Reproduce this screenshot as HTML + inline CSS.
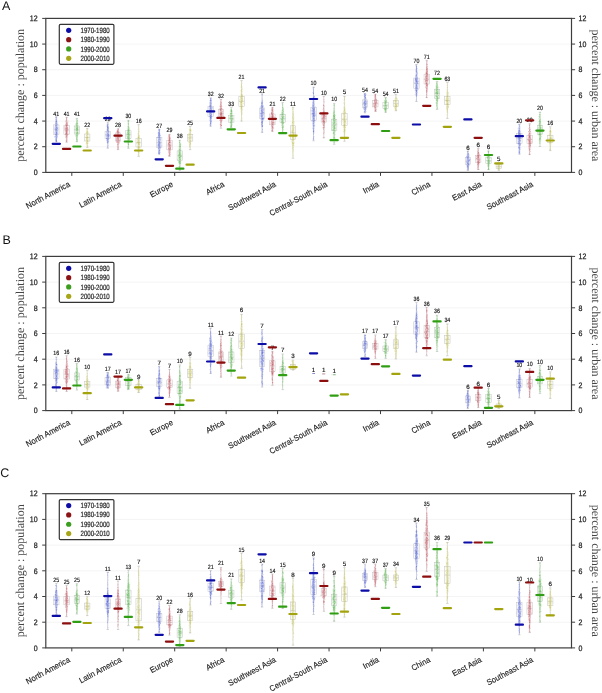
<!DOCTYPE html>
<html><head><meta charset="utf-8"><style>html,body{margin:0;padding:0;background:#fff;}svg{display:block;filter:blur(0.3px);}</style></head>
<body><svg width="602" height="693" viewBox="0 0 602 693" text-rendering="geometricPrecision">
<rect width="100%" height="100%" fill="#fff"/><g opacity="0.995">
<text x="2" y="9.7" font-family="Liberation Sans" font-size="12.5" fill="#111">A</text>
<text x="2.6" y="244" font-family="Liberation Sans" font-size="12.5" fill="#111">B</text>
<text x="0.2" y="476.8" font-family="Liberation Sans" font-size="12.5" fill="#111">C</text>
<line x1="45.8" x2="571.5" y1="146.73" y2="146.73" stroke="#f1f1f1" stroke-width="0.8"/>
<line x1="45.8" x2="571.5" y1="121.07" y2="121.07" stroke="#f1f1f1" stroke-width="0.8"/>
<line x1="45.8" x2="571.5" y1="95.40" y2="95.40" stroke="#f1f1f1" stroke-width="0.8"/>
<line x1="45.8" x2="571.5" y1="69.73" y2="69.73" stroke="#f1f1f1" stroke-width="0.8"/>
<line x1="45.8" x2="571.5" y1="44.07" y2="44.07" stroke="#f1f1f1" stroke-width="0.8"/>
<line x1="56.30" x2="56.30" y1="116.80" y2="141.70" stroke="#c8c8c8" stroke-width="0.5"/>
<line x1="55.10" x2="57.50" y1="116.80" y2="116.80" stroke="#bbb" stroke-width="0.6"/>
<line x1="55.10" x2="57.50" y1="141.70" y2="141.70" stroke="#bbb" stroke-width="0.6"/>
<rect x="53.60" y="124.90" width="5.4" height="9.70" fill="none" stroke="#c2c2c2" stroke-width="0.5"/>
<line x1="53.60" x2="59.00" y1="129.75" y2="129.75" stroke="#c2c2c2" stroke-width="0.5"/>
<polygon points="55.8,116.8 55.6,118.9 55.3,120.9 55.1,123.0 54.8,125.1 54.6,127.2 54.6,129.2 54.6,131.3 54.7,133.4 55.0,135.5 55.2,137.5 55.5,139.6 55.7,141.7 56.9,141.7 57.1,139.6 57.4,137.5 57.6,135.5 57.9,133.4 58.0,131.3 58.0,129.2 58.0,127.2 57.8,125.1 57.5,123.0 57.3,120.9 57.0,118.9 56.8,116.8" fill="#4a5ad8" fill-opacity="0.220"/>
<path d="M57.1 135.8h0m-.9 -12.7h0m.1 4.7h0m.1 4.8h0m-.5 -1.1h0m-.4 -13.9h0m1 24h0m.3 -16.5h0m-.2 -3.8h0m-.9 4h0m.7 6.8h0m-.9 -5.6h0m.4 -3.5h0m-.8 9.8h0m.9 -10.9h0m-.2 13.1h0m0 -5.1h0m.7 10.2h0m.3 -9h0m-1.3 -5.7h0m1.7 -.9h0m-.6 15.6h0m-1.2 -10.9h0m.5 7.6h0m1.7 -6h0m-1.3 3.4h0m.5 -15.4h0m-.9 19.5h0m.7 -14.4h0m-.1 16.7h0m-.1 -7.2h0m-.1 4.6h0m-.7 -7.6h0m1.4 3.6h0m-1.3 -12.2h0m.1 18h0m0 -3.1h0m.3 -2.4h0m.3 -6.5h0m-.1 6.1h0m.6 -4.1h0m.1 4h0m-.7 -11.1h0m.9 13.7h0m.2 -8h0m-.9 4.2h0m1.4 -4.1h0m-1 3.8h0m-2.3 4.6h0m1.3 -2.8h0m.8 -7.3h0m-.3 3.3h0m.6 -6.7h0m-2.4 13.5h0m1.8 -1.7h0m0 3.1h0m-.2 -8.2h0m1.4 -2.2h0m-.9 13.5h0m-.3 -13.6h0m-1.2 6.7h0m-.2 -5.8h0m1 2h0m-.2 9.6h0m1.1 -11.6h0m-.2 12.5h0m-.6 -.5h0m.5 -8.1h0m.4 4.3h0m.5 -3.7h0m-1.3 -7.1h0m0 13.9h0m-.2 -3.2h0m.4 .6h0m0 -2.3h0m-.3 4.2h0m.4 -13.7h0m.4 -3.6h0m-.7 3.6h0m.1 3.9h0m0 -8.4h0m-1.1 7.2h0m1 -7.6h0m-.2 -1.3h0m.4 8.3h0m0 -6.4h0m-.1 -.2h0m.2 .2h0m-.5 18.8h0m.3 .2h0m.8 -2.6h0m-.3 -2.3h0m-.2 -5.5h0m-2 3.1h0m.5 -5.5h0m1.6 -10.4h0m1.2 10.5h0m-2.5 1.3h0m1.1 4.5h0m.1 -16.1h0m-.2 11.2h0m-.7 -4.9h0m.5 -4.2h0" stroke="#4a5ad8" stroke-opacity="0.320" stroke-width="0.75" stroke-linecap="round"/>
<text x="56.30" y="115.60" text-anchor="middle" font-family="Liberation Sans" font-size="6.2" textLength="5.90" lengthAdjust="spacingAndGlyphs" fill="#111" stroke="#111" stroke-width="0.15">41</text>
<line x1="52.70" x2="59.90" y1="143.80" y2="143.80" stroke="#0b0ba6" stroke-width="2.2" stroke-linecap="round"/>
<line x1="66.60" x2="66.60" y1="117.30" y2="142.20" stroke="#c8c8c8" stroke-width="0.5"/>
<line x1="65.40" x2="67.80" y1="117.30" y2="117.30" stroke="#bbb" stroke-width="0.6"/>
<line x1="65.40" x2="67.80" y1="142.20" y2="142.20" stroke="#bbb" stroke-width="0.6"/>
<rect x="63.90" y="125.50" width="5.4" height="9.00" fill="none" stroke="#c2c2c2" stroke-width="0.5"/>
<line x1="63.90" x2="69.30" y1="130.00" y2="130.00" stroke="#c2c2c2" stroke-width="0.5"/>
<polygon points="66.1,117.3 65.9,119.4 65.7,121.4 65.4,123.5 65.1,125.6 64.9,127.7 64.9,129.8 64.9,131.8 65.1,133.9 65.3,136.0 65.6,138.0 65.9,140.1 66.1,142.2 67.1,142.2 67.3,140.1 67.6,138.0 67.9,136.0 68.1,133.9 68.3,131.8 68.3,129.8 68.3,127.7 68.1,125.6 67.8,123.5 67.5,121.4 67.3,119.4 67.1,117.3" fill="#c0404e" fill-opacity="0.202"/>
<path d="M66.8 141.2h0m.4 -6.4h0m-.6 2.9h0m.5 -6.2h0m-.3 .4h0m-.1 -4.2h0m0 5.4h0m-.3 -14.1h0m-.4 9.6h0m1.3 -4.6h0m-.8 1.1h0m.3 6h0m.4 -3.3h0m-1 -3.3h0m1 5.5h0m-.7 .6h0m-1.2 -9h0m1.7 10.9h0m-.1 -8.9h0m-1 .7h0m.2 10.6h0m.9 -10h0m-.4 6.3h0m1.2 -6.3h0m-.5 9.1h0m0 -3.7h0m0 3.7h0m-.6 -8.3h0m-.1 10.8h0m0 -11h0m0 9.7h0m.1 -6.8h0m.5 0h0m-.7 -9.3h0m-1.5 8h0m3 -6h0m-2.6 7.4h0m.1 8.7h0m-.4 -8.4h0m1.4 -6.6h0m.5 15.1h0m-1.3 -3h0m1.1 -4.1h0m.1 -2.2h0m-1.1 3.2h0m.7 -7.9h0m.1 12.6h0m-.2 -15.4h0m-.4 9.1h0m2 -.7h0m-3.7 -.1h0m2.8 -4.4h0m-1.7 6.6h0m1.4 2.3h0m-.9 -3.5h0m.7 2.6h0m-1 -7.2h0m2 2.8h0m-.9 -1.3h0m1.2 -4.4h0m-2.8 5.6h0m1.9 .6h0m1.4 5.5h0m-2 -7.2h0m.1 6.6h0m1.1 -3.4h0m-.4 -6.8h0m.3 2.2h0m-1.1 4.8h0m-.4 3.3h0m.6 8.2h0m.5 -6.6h0m-2.8 -8.3h0m2.6 -1.6h0m.2 15h0m-.7 -5.6h0m.2 -8.9h0m-.4 7.3h0m-.3 7.7h0m.6 -13.9h0m-.8 6.5h0m.2 1.3h0m.5 -3.5h0m1.2 -3.8h0m-.6 4.7h0m-.8 4.5h0m.6 -18.9h0m-.4 15.8h0m.1 -1h0m1 3.6h0m-.5 -13h0m-.1 5.7h0m-.4 4.7h0m-.6 -12.5h0m1.3 8.4h0m-.2 9.7h0m-.3 1.3h0m-.1 -11.2h0m1.4 .8h0" stroke="#c0404e" stroke-opacity="0.294" stroke-width="0.75" stroke-linecap="round"/>
<text x="66.60" y="116.30" text-anchor="middle" font-family="Liberation Sans" font-size="6.2" textLength="5.90" lengthAdjust="spacingAndGlyphs" fill="#111" stroke="#111" stroke-width="0.15">41</text>
<line x1="63.00" x2="70.20" y1="148.90" y2="148.90" stroke="#8c0d0d" stroke-width="2.2" stroke-linecap="round"/>
<line x1="76.90" x2="76.90" y1="118.40" y2="141.70" stroke="#c8c8c8" stroke-width="0.5"/>
<line x1="75.70" x2="78.10" y1="118.40" y2="118.40" stroke="#bbb" stroke-width="0.6"/>
<line x1="75.70" x2="78.10" y1="141.70" y2="141.70" stroke="#bbb" stroke-width="0.6"/>
<rect x="74.20" y="126.00" width="5.4" height="8.00" fill="none" stroke="#c2c2c2" stroke-width="0.5"/>
<line x1="74.20" x2="79.60" y1="130.00" y2="130.00" stroke="#c2c2c2" stroke-width="0.5"/>
<polygon points="76.4,118.4 76.3,120.3 76.0,122.3 75.7,124.2 75.4,126.2 75.2,128.1 75.2,130.1 75.2,132.0 75.4,133.9 75.7,135.9 76.0,137.8 76.3,139.8 76.4,141.7 77.4,141.7 77.5,139.8 77.8,137.8 78.1,135.9 78.4,133.9 78.6,132.0 78.6,130.1 78.6,128.1 78.4,126.2 78.1,124.2 77.8,122.3 77.5,120.3 77.4,118.4" fill="#48b03a" fill-opacity="0.202"/>
<path d="M76.6 141.1h0m.6 -8.4h0m-1.7 -8.5h0m1.5 9.3h0m.9 -10h0m0 9h0m-.6 -6.6h0m-.5 7.4h0m-.9 -6h0m1.2 1.5h0m-.4 9.1h0m1 -4.5h0m-.7 -3.9h0m.4 5.3h0m-.4 2.1h0m.2 -10.9h0m-.5 7.8h0m.9 -7.1h0m.6 6.7h0m-.7 -3.2h0m-.4 -6.4h0m.3 16.1h0m-.4 -12h0m.2 8.2h0m.2 -7.2h0m-.3 6.6h0m-.4 3.5h0m-2.4 -12.9h0m2.3 12.9h0m-.4 -12h0m1.1 1.2h0m.4 .8h0m-.5 -7.7h0m.4 7.8h0m-.2 -9h0m0 11.9h0m-.3 -3.9h0m.3 1h0m-.3 -8.5h0m-.1 3.8h0m-.3 14.9h0m.7 -6.5h0m-1.2 -3.9h0m.7 11h0m.2 -6.7h0m-2.3 -3.7h0m2.4 -2.1h0m0 -3.7h0m0 -1h0m-1.2 13.7h0m1.5 -8.8h0m-.9 2.9h0m-.3 -.4h0m.7 7.2h0m-.3 -12.7h0m.6 11.1h0m-.2 -9.8h0m-.8 -2.4h0m.5 14.6h0m-.2 -12.9h0m1 -2h0m-.1 6.9h0m-1.2 5.7h0m.7 5.5h0m.1 -.6h0m.5 -10.9h0m-1.4 -10.5h0m1 13.5h0m.4 -.8h0m-1 -3.1h0m-1.6 3.6h0m1.4 -9.3h0m.8 4.6h0m.8 2h0m-1 .5h0m-.6 -2h0m1.8 4.7h0m-1.2 -.5h0m-.3 -10.5h0m1.1 12.7h0m-.2 -5.8h0m-1.3 -3.2h0m2.4 2h0m-2.4 1.7h0m.2 5.7h0m1.1 -7.2h0m.2 -2.3h0m-.6 5.1h0m-1 -2.1h0m.5 6.5h0m.8 -14.2h0m-2.3 14.3h0m2.4 4.7h0" stroke="#48b03a" stroke-opacity="0.294" stroke-width="0.75" stroke-linecap="round"/>
<text x="76.90" y="116.40" text-anchor="middle" font-family="Liberation Sans" font-size="6.2" textLength="5.90" lengthAdjust="spacingAndGlyphs" fill="#111" stroke="#111" stroke-width="0.15">41</text>
<line x1="73.30" x2="80.50" y1="146.50" y2="146.50" stroke="#2f9e12" stroke-width="2.2" stroke-linecap="round"/>
<line x1="87.20" x2="87.20" y1="128.40" y2="147.40" stroke="#c8c8c8" stroke-width="0.5"/>
<line x1="86.00" x2="88.40" y1="128.40" y2="128.40" stroke="#bbb" stroke-width="0.6"/>
<line x1="86.00" x2="88.40" y1="147.40" y2="147.40" stroke="#bbb" stroke-width="0.6"/>
<rect x="84.50" y="134.00" width="5.4" height="7.00" fill="none" stroke="#c2c2c2" stroke-width="0.5"/>
<line x1="84.50" x2="89.90" y1="137.50" y2="137.50" stroke="#c2c2c2" stroke-width="0.5"/>
<polygon points="86.6,128.4 86.4,130.0 86.2,131.6 85.9,133.2 85.6,134.7 85.5,136.3 85.5,137.9 85.6,139.5 85.8,141.1 86.0,142.7 86.3,144.2 86.5,145.8 86.7,147.4 87.7,147.4 87.9,145.8 88.1,144.2 88.4,142.7 88.6,141.1 88.8,139.5 88.9,137.9 88.9,136.3 88.8,134.7 88.5,133.2 88.2,131.6 88.0,130.0 87.8,128.4" fill="#bcbc38" fill-opacity="0.165"/>
<path d="M89.0 137.6h0m-1 3.8h0m-1.3 -10h0m-.5 1.2h0m1.7 -.7h0m-.2 .5h0m-.1 7.9h0m.2 5.1h0m-.5 -16.3h0m-.6 1.5h0m.2 3.1h0m-.5 8.9h0m.7 -1.7h0m-.5 -3h0m.6 5.3h0m.8 -3.2h0m-.2 1.3h0m-.3 -9.6h0m-.6 4.4h0m.1 7.1h0m-1.3 -5.8h0m2.4 8.9h0m-2.4 -2.4h0m1.4 -.4h0m.5 2.3h0m.3 -16.2h0m-1.2 8h0m.7 -4h0m.3 1.3h0m-1.2 .9h0m.9 1.5h0m.2 4h0m-.3 -9.7h0m-.6 3.4h0m-.1 3.9h0m.3 .4h0m-.8 1.1h0m1.9 2.8h0m-.7 -6.1h0m-.1 -5.2h0m-.2 1.3h0m.1 11.2h0m.1 -7h0m.8 4.3h0m-.6 -5.1h0m.3 8.4h0m-.9 -7.4h0m0 2.8h0m0 -4.8h0m.5 -2.6h0m.4 10.6h0m-.9 -.3h0m-.2 -3.5h0m.2 -7.6h0m-.2 10.1h0m.5 -3.5h0m.4 -4.5h0m-.4 3.3h0m-.1 2.6h0m-.3 -7.5h0m0 6h0m.8 -1.7h0m-.3 6.3h0m-.1 -.7h0m-.8 -5.4h0m1.2 3.3h0m.7 -7.4h0m-1.9 9h0m.7 -9.8h0m.1 6h0m1 -5.8h0m-.9 -3.8h0m.3 17.6h0m.2 -11.7h0m.4 -.3h0m-1.9 -.8h0m1.5 8.2h0m-1.2 -2.5h0m1.8 0h0m-1.3 .8h0m.8 6.8h0m-.4 -8.5h0" stroke="#bcbc38" stroke-opacity="0.240" stroke-width="0.75" stroke-linecap="round"/>
<text x="87.20" y="127.10" text-anchor="middle" font-family="Liberation Sans" font-size="6.2" textLength="5.90" lengthAdjust="spacingAndGlyphs" fill="#111" stroke="#111" stroke-width="0.15">22</text>
<line x1="83.60" x2="90.80" y1="150.50" y2="150.50" stroke="#a3a30c" stroke-width="2.2" stroke-linecap="round"/>
<line x1="107.75" x2="107.75" y1="122.20" y2="148.20" stroke="#c8c8c8" stroke-width="0.5"/>
<line x1="106.55" x2="108.95" y1="122.20" y2="122.20" stroke="#bbb" stroke-width="0.6"/>
<line x1="106.55" x2="108.95" y1="148.20" y2="148.20" stroke="#bbb" stroke-width="0.6"/>
<rect x="105.05" y="131.40" width="5.4" height="7.00" fill="none" stroke="#c2c2c2" stroke-width="0.5"/>
<line x1="105.05" x2="110.45" y1="134.90" y2="134.90" stroke="#c2c2c2" stroke-width="0.5"/>
<polygon points="107.4,122.2 107.3,124.4 107.1,126.5 106.8,128.7 106.4,130.9 106.1,133.0 106.0,135.2 106.2,137.4 106.5,139.5 106.9,141.7 107.2,143.9 107.4,146.0 107.4,148.2 108.1,148.2 108.1,146.0 108.3,143.9 108.6,141.7 109.0,139.5 109.3,137.4 109.5,135.2 109.4,133.0 109.1,130.9 108.7,128.7 108.4,126.5 108.2,124.4 108.1,122.2" fill="#4a5ad8" fill-opacity="0.220"/>
<path d="M106.7 132.3h0m.7 2.4h0m1.1 -6.1h0m-.1 16.8h0m-.4 1.4h0m.1 -11.2h0m-1.3 4.8h0m0 -2.2h0m1.2 -1.4h0m-.5 -9.3h0m.2 12.3h0m-.4 -.7h0m1 -3.8h0m.2 3h0m-.6 -2.4h0m-.6 -5.7h0m.4 -5.6h0m.4 2h0m-.3 21h0m0 -18.7h0m-.5 -1.9h0m.5 2h0m.2 .6h0m.3 13.1h0m-.3 -3.1h0m-1.3 -1.1h0m1.5 -7.8h0m-.4 -6.3h0m-.2 9.7h0m-.4 11.9h0m0 -3.7h0m.7 -.5h0m.4 -9.6h0m-1.4 6.9h0m.1 -12.5h0m1.3 11.7h0m-.1 -9.9h0m.7 3.9h0m-1 -6.1h0m-.6 11.9h0m1.3 -3.6h0m.1 -9.7h0m-1.8 0h0m1.9 16.5h0m0 -3.9h0m-.3 -1.1h0m-.2 -8.8h0m-.6 .1h0m.8 11.7h0m-2.6 -5h0m1.5 -7.1h0m1.7 8.8h0m-1.7 6.3h0m.1 -17h0m0 5.2h0m.5 2.7h0m-.3 -6.3h0m-.4 13.4h0m.9 -9.1h0m-.3 2.3h0m0 -3.7h0m.6 4.9h0m.5 1h0m-1.6 -6.6h0m.3 -1.6h0m-1.7 8.3h0m1.5 5.8h0m-.1 -16.2h0m.9 6h0m.3 4.9h0m-1.1 -.9h0m.4 -5.1h0m1.2 5.6h0m-2.1 .6h0m1.5 4.6h0m-1.7 -2.4h0m1.7 -2.5h0m-.1 -2.4h0m-.8 -7.6h0m.4 15h0m-.7 -12h0m1.3 5.6h0m-.8 8.4h0m.7 -8.2h0m-.4 -6.8h0m.5 -1h0m-.5 -3.5h0m-1.2 2.2h0m1 12.8h0m-.1 .6h0m.2 -2.1h0m-1 -1.5h0m.3 6.8h0m-.1 -2.1h0" stroke="#4a5ad8" stroke-opacity="0.320" stroke-width="0.75" stroke-linecap="round"/>
<text x="107.75" y="120.90" text-anchor="middle" font-family="Liberation Sans" font-size="6.2" textLength="5.90" lengthAdjust="spacingAndGlyphs" fill="#111" stroke="#111" stroke-width="0.15">29</text>
<line x1="104.15" x2="111.35" y1="118.20" y2="118.20" stroke="#0b0ba6" stroke-width="2.2" stroke-linecap="round"/>
<line x1="118.05" x2="118.05" y1="128.70" y2="149.60" stroke="#c8c8c8" stroke-width="0.5"/>
<line x1="116.85" x2="119.25" y1="128.70" y2="128.70" stroke="#bbb" stroke-width="0.6"/>
<line x1="116.85" x2="119.25" y1="149.60" y2="149.60" stroke="#bbb" stroke-width="0.6"/>
<rect x="115.35" y="133.00" width="5.4" height="8.00" fill="none" stroke="#c2c2c2" stroke-width="0.5"/>
<line x1="115.35" x2="120.75" y1="137.00" y2="137.00" stroke="#c2c2c2" stroke-width="0.5"/>
<polygon points="117.2,128.7 117.0,130.4 116.7,132.2 116.5,133.9 116.3,135.7 116.3,137.4 116.4,139.1 116.6,140.9 116.8,142.6 117.1,144.4 117.3,146.1 117.5,147.9 117.6,149.6 118.5,149.6 118.6,147.9 118.8,146.1 119.0,144.4 119.3,142.6 119.5,140.9 119.7,139.1 119.8,137.4 119.8,135.7 119.6,133.9 119.4,132.2 119.1,130.4 118.9,128.7" fill="#c0404e" fill-opacity="0.202"/>
<path d="M118.9 142.7h0m-1.6 -9.9h0m1.5 2.3h0m-.7 -3.2h0m.8 8.3h0m-1.8 -.8h0m1 -2h0m-.1 1.1h0m-1 -7.3h0m.5 13.2h0m-.2 -13.8h0m-.1 5h0m-.9 3.8h0m1.5 -1.2h0m.6 -9.3h0m-1.6 3.8h0m.5 2.7h0m1.1 4.1h0m-1 -2.4h0m1.6 -1.1h0m-.8 6.4h0m-.4 -10.5h0m.3 12.6h0m-.2 2.7h0m.3 -5.4h0m1.3 .1h0m-2.4 -10.6h0m.2 10.2h0m-.1 -10.1h0m.5 .5h0m-.2 -1.1h0m.7 16.2h0m-1 -4.6h0m1.9 -2h0m-.2 -5.4h0m-.5 -5.7h0m-.5 .5h0m.6 6.5h0m-1.5 1.7h0m1.6 -7h0m-.9 18.2h0m0 -11.3h0m.4 -4.1h0m1.5 3.3h0m-1.4 10.6h0m-.3 -13h0m-.4 -2.1h0m-.8 5.8h0m2.1 5.6h0m-2.4 -2.8h0m2.8 -.8h0m0 -5.5h0m-1.1 -4.5h0m-.6 6.1h0m1.3 2.4h0m-1.9 .2h0m1.4 1.2h0m-.7 -8.7h0m.8 .9h0m-2.1 8h0m2 2.5h0m1.1 -10.7h0m-1.7 3.1h0m1.2 1.2h0m-1.9 -2h0m1.9 1.9h0m-2.2 5.5h0m.3 .4h0m.8 -1.7h0m1.5 2.3h0m-.3 -7.1h0m-.5 -3h0m-.4 15.3h0m-.4 -3.1h0m.4 -7.2h0m-1.3 2.6h0m.4 -.9h0m.6 -5.8h0m1.3 7.1h0m-1.3 -9.4h0m.5 6.6h0m.7 -1.6h0m-.4 -4.5h0m.2 1h0m-.2 5.9h0m.9 -2.6h0m-1.7 10.3h0m.2 2.2h0" stroke="#c0404e" stroke-opacity="0.294" stroke-width="0.75" stroke-linecap="round"/>
<text x="118.05" y="127.10" text-anchor="middle" font-family="Liberation Sans" font-size="6.2" textLength="5.90" lengthAdjust="spacingAndGlyphs" fill="#111" stroke="#111" stroke-width="0.15">28</text>
<line x1="114.45" x2="121.65" y1="135.70" y2="135.70" stroke="#8c0d0d" stroke-width="2.2" stroke-linecap="round"/>
<line x1="128.35" x2="128.35" y1="120.30" y2="148.20" stroke="#c8c8c8" stroke-width="0.5"/>
<line x1="127.15" x2="129.55" y1="120.30" y2="120.30" stroke="#bbb" stroke-width="0.6"/>
<line x1="127.15" x2="129.55" y1="148.20" y2="148.20" stroke="#bbb" stroke-width="0.6"/>
<rect x="125.65" y="130.80" width="5.4" height="7.60" fill="none" stroke="#c2c2c2" stroke-width="0.5"/>
<line x1="125.65" x2="131.05" y1="134.60" y2="134.60" stroke="#c2c2c2" stroke-width="0.5"/>
<polygon points="128.0,120.3 127.9,122.6 127.8,124.9 127.5,127.3 127.1,129.6 126.8,131.9 126.6,134.2 126.7,136.6 127.0,138.9 127.3,141.2 127.7,143.5 127.9,145.9 128.0,148.2 128.7,148.2 128.8,145.9 129.0,143.5 129.4,141.2 129.7,138.9 130.0,136.6 130.1,134.2 129.9,131.9 129.6,129.6 129.2,127.3 128.9,124.9 128.8,122.6 128.7,120.3" fill="#48b03a" fill-opacity="0.202"/>
<path d="M128.5 136.2h0m-1.7 .5h0m3.1 -6.1h0m-2.1 0h0m1.1 .7h0m-1.9 2.2h0m1 -9.8h0m2.6 14.7h0m-1.7 -7.5h0m.9 4.7h0m-1.9 -14h0m-.7 18.5h0m1.5 -18.5h0m.6 17.6h0m-1.4 -12.6h0m1 6.1h0m-.5 -1.5h0m.7 8.7h0m-1.3 -6.1h0m.3 4.4h0m.4 6.3h0m1.4 -11.9h0m-.5 5.2h0m-.1 -8.8h0m-1.3 3.4h0m.6 10.5h0m.6 -1.3h0m-.6 -9.8h0m-.9 5.5h0m.7 -7.6h0m.1 -6.2h0m-.2 15.4h0m.1 -8.9h0m.7 6.2h0m-.6 11.9h0m.1 -14.7h0m-.4 -4.9h0m.3 -7.8h0m1.1 9.1h0m-.9 4.9h0m.1 -8.3h0m-.1 10.5h0m-.3 3.3h0m-.8 -3.4h0m1 -6.4h0m0 11.7h0m.6 -14.4h0m-.9 10.6h0m-.2 -8.6h0m.2 14.7h0m.1 -10.8h0m.4 -5.9h0m-.2 16.7h0m.6 -5.2h0m-1.3 -4.4h0m1.1 -.5h0m-.7 -10h0m-.3 -2.3h0m-.1 24.9h0m.3 -12.1h0m.1 -8.3h0m.4 11.5h0m.1 -16.9h0m.5 18.5h0m-2.3 -4.2h0m2.3 -2.1h0m-.5 -5.2h0m-.5 11.1h0m.7 -1.8h0m-.2 -13h0m-1 10.1h0m.3 12h0m.8 -11.5h0m-.8 8.7h0m1 -8.8h0m-.8 9.8h0m.1 -1.7h0m1.8 -9.9h0m-2.8 -1.9h0m.7 7.1h0m.1 -4.1h0m1.6 .4h0m-1.7 3.4h0m.3 7h0m-.2 -11.4h0m-.9 9.4h0m1 -11.8h0m.5 10.2h0m-.7 -8.2h0m1.2 -.9h0m-1.9 .5h0m1.3 3.3h0m-.9 .6h0m1.4 .5h0m-.3 .1h0m-1 -4.9h0m.6 -4.7h0m0 2.1h0m.8 6h0m-1 -1.9h0m-.4 3.4h0m.5 -7.3h0" stroke="#48b03a" stroke-opacity="0.294" stroke-width="0.75" stroke-linecap="round"/>
<text x="128.35" y="118.40" text-anchor="middle" font-family="Liberation Sans" font-size="6.2" textLength="5.90" lengthAdjust="spacingAndGlyphs" fill="#111" stroke="#111" stroke-width="0.15">30</text>
<line x1="124.75" x2="131.95" y1="141.50" y2="141.50" stroke="#2f9e12" stroke-width="2.2" stroke-linecap="round"/>
<line x1="138.65" x2="138.65" y1="124.70" y2="156.30" stroke="#c8c8c8" stroke-width="0.5"/>
<line x1="137.45" x2="139.85" y1="124.70" y2="124.70" stroke="#bbb" stroke-width="0.6"/>
<line x1="137.45" x2="139.85" y1="156.30" y2="156.30" stroke="#bbb" stroke-width="0.6"/>
<rect x="135.95" y="138.40" width="5.4" height="8.60" fill="none" stroke="#c2c2c2" stroke-width="0.5"/>
<line x1="135.95" x2="141.35" y1="142.70" y2="142.70" stroke="#c2c2c2" stroke-width="0.5"/>
<polygon points="138.4,124.7 138.3,127.3 138.2,130.0 138.0,132.6 137.6,135.2 137.3,137.9 137.0,140.5 136.9,143.1 137.1,145.8 137.4,148.4 137.8,151.0 138.1,153.7 138.2,156.3 139.1,156.3 139.2,153.7 139.5,151.0 139.9,148.4 140.2,145.8 140.4,143.1 140.3,140.5 140.0,137.9 139.7,135.2 139.3,132.6 139.1,130.0 139.0,127.3 138.9,124.7" fill="#bcbc38" fill-opacity="0.165"/>
<path d="M138.7 134.0h0m.5 5h0m-1.1 -1.3h0m.8 -9.5h0m-.4 24.6h0m.8 -13.2h0m-1.3 -6.1h0m.6 7.6h0m-1.3 -1.4h0m1.7 7.4h0m-.4 -22.3h0m-2.1 18.4h0m.9 -.3h0m2 1h0m-.5 -7.9h0m-.8 -2h0m0 13.8h0m1.8 -7.3h0m-.6 4.4h0m-1 -9.7h0m0 12.4h0m.7 3.6h0m-.2 -9.6h0m-1.1 .6h0m.7 6.9h0m.2 1.3h0m-.7 -10.2h0m.4 -2.4h0m0 8.3h0m-.5 -3.9h0m2.2 5.3h0m-1.9 -16.1h0m.9 4.1h0m-.8 8.8h0m.3 10.2h0m.8 -1.4h0m-2.1 -2.1h0m1.8 -13h0m-.8 9.1h0m-.3 -4.5h0m1.7 -6.2h0m-2.2 5.9h0m1.2 6.3h0m.7 -6.4h0m-.4 -6.6h0m-.3 14.2h0m.7 2h0m-.3 -9.3h0m-.2 -14.4h0m.7 18.3h0m-.7 -2.3h0m-.1 -3.5h0m-.3 -3.5h0m1.6 8.7h0m-1.7 5h0m1.7 -2.4h0m-.6 -1.2h0m-.7 -6.2h0m.1 10.7h0m-.7 .4h0m0 -22.3h0m.4 17.4h0m-.4 -5.4h0m0 6.1h0m.7 -15.5h0m.4 15.6h0m.2 -6.2h0m-1 6.1h0m.6 -3.9h0m-.1 -6.6h0m.8 10.2h0m-.3 -2.9h0m-.9 6.3h0m-.6 3.7h0m1 -25h0m-1.1 11.9h0m1.3 -10.3h0m-.9 9.1h0m.3 3.3h0m1.3 -.8h0m-1.5 2.1h0m.2 -7.2h0m-.3 -.9h0m.3 -1.1h0m.6 8.6h0m.3 -6.2h0m-1.3 9.7h0m.3 -5.2h0m.1 4.2h0m1.2 -9.3h0m-1.5 14.3h0m.7 -9.5h0m-.9 -2.8h0m-.2 -2.2h0m.3 8.7h0m.9 -2.1h0m-.4 3.9h0m.3 -7h0m-.4 5.4h0m-.2 -2.4h0m-.1 -1.2h0m1.4 -.2h0m-.9 0h0m-.1 6.7h0m.3 -5.3h0m.2 -1.1h0m.1 -11.5h0m-.8 6h0m-.3 13.6h0m1 4.8h0m-.8 -4.2h0m-.1 -.6h0m.2 -13.2h0m.5 -1.4h0m-.3 -10.2h0" stroke="#bcbc38" stroke-opacity="0.240" stroke-width="0.75" stroke-linecap="round"/>
<text x="138.65" y="123.20" text-anchor="middle" font-family="Liberation Sans" font-size="6.2" textLength="5.90" lengthAdjust="spacingAndGlyphs" fill="#111" stroke="#111" stroke-width="0.15">16</text>
<line x1="135.05" x2="142.25" y1="150.50" y2="150.50" stroke="#a3a30c" stroke-width="2.2" stroke-linecap="round"/>
<line x1="159.20" x2="159.20" y1="129.20" y2="154.10" stroke="#c8c8c8" stroke-width="0.5"/>
<line x1="158.00" x2="160.40" y1="129.20" y2="129.20" stroke="#bbb" stroke-width="0.6"/>
<line x1="158.00" x2="160.40" y1="154.10" y2="154.10" stroke="#bbb" stroke-width="0.6"/>
<rect x="156.50" y="137.30" width="5.4" height="10.30" fill="none" stroke="#c2c2c2" stroke-width="0.5"/>
<line x1="156.50" x2="161.90" y1="142.45" y2="142.45" stroke="#c2c2c2" stroke-width="0.5"/>
<polygon points="158.6,129.2 158.4,131.3 158.2,133.3 158.0,135.4 157.7,137.5 157.6,139.6 157.5,141.6 157.5,143.7 157.6,145.8 157.8,147.9 158.0,149.9 158.3,152.0 158.5,154.1 159.9,154.1 160.1,152.0 160.4,149.9 160.6,147.9 160.8,145.8 160.9,143.7 160.9,141.6 160.8,139.6 160.7,137.5 160.4,135.4 160.2,133.3 160.0,131.3 159.8,129.2" fill="#4a5ad8" fill-opacity="0.220"/>
<path d="M158.6 144.5h0m.5 8.6h0m.4 -10.6h0m0 -4.4h0m.4 12.2h0m-.1 -7.4h0m-1 5.6h0m1.4 -13.1h0m-1.5 7.4h0m.1 -7.3h0m.8 14.4h0m-.3 -3.3h0m.3 -1.6h0m-.1 8.7h0m-.6 -6.8h0m2.8 -.9h0m-2.4 -14.7h0m-.2 20.9h0m.1 -17.9h0m0 7.2h0m-1.3 3.7h0m1.3 -15.6h0m1.2 18.6h0m-1 -11.6h0m-1 -3.7h0m1 .5h0m-1.6 3.9h0m.8 8.2h0m.4 -10h0m1 -.3h0m-.3 9.8h0m-1.2 7.7h0m.7 -14.7h0m-.2 1.7h0m.9 7h0m-.2 -15.3h0m-.5 13.1h0m0 6h0m-.2 -10.7h0m-.2 13.6h0m-.4 -7.7h0m-.1 -12.4h0m1.2 -.1h0m0 10.3h0m.1 7.2h0m-1.1 2.4h0m.4 -20.2h0m-.9 .2h0m.9 1.2h0m.4 3h0m-.5 4h0m.1 -6.3h0m-.4 1.2h0m.4 11h0m1.1 -2.5h0m-.5 -8.4h0m-.9 1.7h0m0 3.3h0m1.4 -.7h0m-.2 7.8h0m-2.1 -2.2h0m1.2 1.9h0m1 -18.2h0m-.3 11.8h0m.4 -5.9h0m-1 -3.2h0m.2 -2h0m-.4 19.2h0m.2 -10.3h0m-.6 5.2h0m2.3 -1.5h0m-1.5 -8.4h0m-.7 11.3h0m.1 -13.8h0m1.5 14.9h0m-1.1 -7.5h0m-.2 4h0m.4 2.3h0m.5 1.4h0m-.2 -13.5h0m-.3 -.1h0m1.2 5.8h0m-.3 12.5h0m-2.1 -14.8h0m1.1 -7.8h0m1.1 16.6h0m-.6 -13.5h0m-.3 5.4h0m.7 1h0m-1 -4.1h0m.7 9h0m.2 2h0m-1 -10.1h0m.3 16.7h0m.1 -1.7h0m.3 -20.5h0m-.5 21.2h0m-.5 -.2h0m.4 2.6h0m-.1 -23.6h0m-.4 18.2h0m.5 -14.1h0m1.1 18.2h0m.3 -14.5h0m-1.7 3.8h0m.3 -4.8h0m-.9 6.9h0m1.7 -1.3h0m-.5 .4h0m-1.1 -2.6h0m1.1 5.3h0m-.6 -.9h0m.9 9h0m-.7 -10.2h0" stroke="#4a5ad8" stroke-opacity="0.320" stroke-width="0.75" stroke-linecap="round"/>
<text x="159.20" y="127.50" text-anchor="middle" font-family="Liberation Sans" font-size="6.2" textLength="5.90" lengthAdjust="spacingAndGlyphs" fill="#111" stroke="#111" stroke-width="0.15">27</text>
<line x1="155.60" x2="162.80" y1="159.30" y2="159.30" stroke="#0b0ba6" stroke-width="2.2" stroke-linecap="round"/>
<line x1="169.50" x2="169.50" y1="134.40" y2="156.30" stroke="#c8c8c8" stroke-width="0.5"/>
<line x1="168.30" x2="170.70" y1="134.40" y2="134.40" stroke="#bbb" stroke-width="0.6"/>
<line x1="168.30" x2="170.70" y1="156.30" y2="156.30" stroke="#bbb" stroke-width="0.6"/>
<rect x="166.80" y="140.60" width="5.4" height="9.20" fill="none" stroke="#c2c2c2" stroke-width="0.5"/>
<line x1="166.80" x2="172.20" y1="145.20" y2="145.20" stroke="#c2c2c2" stroke-width="0.5"/>
<polygon points="168.8,134.4 168.6,136.2 168.4,138.1 168.1,139.9 167.9,141.7 167.8,143.5 167.8,145.4 167.8,147.2 168.0,149.0 168.2,150.8 168.4,152.7 168.7,154.5 168.9,156.3 170.1,156.3 170.3,154.5 170.6,152.7 170.8,150.8 171.0,149.0 171.2,147.2 171.2,145.4 171.2,143.5 171.1,141.7 170.9,139.9 170.6,138.1 170.4,136.2 170.2,134.4" fill="#c0404e" fill-opacity="0.202"/>
<path d="M170.4 149.1h0m-.8 -6.9h0m-.6 -6.3h0m.1 13.7h0m.5 -.4h0m-.7 -5.4h0m1.6 4.2h0m-.6 .6h0m.9 -1h0m-2.7 2.7h0m1.8 -2.2h0m-1 4h0m.1 -13.1h0m-.1 16.2h0m1.3 -4.2h0m-1.2 -3.3h0m0 -6.9h0m2.3 1.4h0m-1.5 4.3h0m-.4 -1.5h0m.3 -5.8h0m0 -2.8h0m-1.3 7.3h0m.5 -.7h0m.6 -5.5h0m.1 2.4h0m-.5 15.9h0m.8 -9h0m-1.6 -2.9h0m1.4 -1.6h0m-.2 -2.9h0m.2 2.8h0m-.7 4.8h0m.3 -4.6h0m1.3 7.7h0m-.1 -12.2h0m0 9.4h0m-1.8 -3h0m.3 11.1h0m.2 -19.6h0m-.1 -.1h0m1.4 12.4h0m-.3 -3h0m-.1 .6h0m-1.4 2.8h0m1.8 4.2h0m-1 -12.4h0m-.5 6.2h0m-.5 -9.7h0m1.4 1.7h0m-.8 14.8h0m.4 -15.6h0m-.1 4.4h0m1.2 .4h0m-1.5 13.4h0m1.9 -9.5h0m-1.3 6.7h0m0 -10.8h0m-.2 8.8h0m-.3 -14.1h0m.9 8.5h0m-.6 9h0m-.4 -17.3h0m1.1 4.9h0m-1 -1.7h0m.6 4.6h0m-.3 -6.8h0m.1 6.4h0m-.8 -4.3h0m-.9 -2.2h0m1.1 12h0m1.3 -1.4h0m-1.2 -4.6h0m.5 -9.6h0m-.4 15.4h0m.7 -8.3h0m.2 13.4h0m.2 -.7h0m-1.4 -5.9h0m.6 -10h0m0 14.7h0m-.8 -8.2h0m1.3 -6.2h0m-1.1 3.8h0m.5 -2h0m1.9 3.3h0m-2.8 -.1h0m1.5 2.2h0m-1.5 .1h0m.9 -6.4h0m-.7 8.9h0m-.4 3.5h0m.5 -16.7h0" stroke="#c0404e" stroke-opacity="0.294" stroke-width="0.75" stroke-linecap="round"/>
<text x="169.50" y="132.40" text-anchor="middle" font-family="Liberation Sans" font-size="6.2" textLength="5.90" lengthAdjust="spacingAndGlyphs" fill="#111" stroke="#111" stroke-width="0.15">29</text>
<line x1="165.90" x2="173.10" y1="165.80" y2="165.80" stroke="#8c0d0d" stroke-width="2.2" stroke-linecap="round"/>
<line x1="179.80" x2="179.80" y1="140.30" y2="170.30" stroke="#c8c8c8" stroke-width="0.5"/>
<line x1="178.60" x2="181.00" y1="140.30" y2="140.30" stroke="#bbb" stroke-width="0.6"/>
<line x1="178.60" x2="181.00" y1="170.30" y2="170.30" stroke="#bbb" stroke-width="0.6"/>
<rect x="177.10" y="150.90" width="5.4" height="9.70" fill="none" stroke="#c2c2c2" stroke-width="0.5"/>
<line x1="177.10" x2="182.50" y1="155.75" y2="155.75" stroke="#c2c2c2" stroke-width="0.5"/>
<polygon points="179.4,140.3 179.3,142.8 179.0,145.3 178.7,147.8 178.4,150.3 178.2,152.8 178.1,155.3 178.1,157.8 178.3,160.3 178.6,162.8 178.9,165.3 179.2,167.8 179.4,170.3 180.2,170.3 180.4,167.8 180.7,165.3 181.0,162.8 181.3,160.3 181.5,157.8 181.5,155.3 181.4,152.8 181.2,150.3 180.9,147.8 180.6,145.3 180.3,142.8 180.2,140.3" fill="#48b03a" fill-opacity="0.202"/>
<path d="M180.4 144.0h0m-.2 11.7h0m-1.3 2.9h0m1.3 3.3h0m-1.2 -.7h0m1 1.9h0m-.9 -10.3h0m1.5 3.5h0m-.7 -1.5h0m-.2 -1.3h0m-.6 1.1h0m2.3 1.8h0m-2.4 -10h0m1.2 -1.9h0m-.2 9.8h0m.5 -6.2h0m-.3 -1h0m-1.1 3.8h0m1.2 -4.9h0m-1.2 15.7h0m1.6 1.7h0m-1.7 -2.5h0m.7 2.1h0m-.3 -13.9h0m-.3 10.6h0m.2 2h0m.4 -19.3h0m-.8 12.9h0m0 -3.4h0m1.2 11.5h0m-.1 -4.2h0m-.2 -6.5h0m-.4 -6.2h0m1.1 -1h0m-3.1 14h0m1.5 7h0m1.7 -15.1h0m-.8 10.1h0m.6 -7.9h0m-1.5 3.4h0m.3 -1.8h0m1.5 10.8h0m-.6 -9.6h0m.3 -6.3h0m-.9 -.3h0m.9 -3.5h0m-1 5h0m-.1 12.6h0m.7 -10.7h0m.1 -3.2h0m.2 -3.4h0m-.7 -4.6h0m0 12.3h0m0 -11.8h0m-.1 14.6h0m-.3 -1.9h0m.8 -9h0m0 22.9h0m1 -15.8h0m-.4 -.6h0m1 2.3h0m-1.6 2.1h0m0 11.8h0m.9 -12.1h0m-1.3 -4.9h0m.4 -1.9h0m-.4 19.7h0m.3 -7.1h0m.9 -5.3h0m-.8 -12.9h0m-.6 9.8h0m1.7 -10.2h0m-2.6 12.1h0m2.2 -7.3h0m-1.1 9.8h0m-.5 3.5h0m.9 -3h0m-.8 7.5h0m.5 -9.2h0m0 4.8h0m.8 -2.2h0m-.7 -2.2h0m.1 9.8h0m-.4 -17.7h0m.6 4.7h0m.3 -8.2h0m-.9 11.2h0m-.2 -4.9h0m.7 8.6h0m.2 -11.1h0m-.7 16.3h0m.6 -10.2h0m-.7 -3h0m.9 1.6h0m-.8 8.5h0m.4 -4.1h0m.5 0h0m-.9 -18.5h0m.6 14.2h0m-.2 -8.3h0m-.1 20.9h0m-.7 -10.1h0m.7 -14.7h0m1.1 13.9h0m-.6 4.9h0m-.3 -3.8h0m-.8 -2.3h0m.8 -12.1h0m-.6 -2.8h0m.1 12.1h0m.2 4.8h0m0 -12.5h0m.2 14h0m.2 11.2h0m-1.8 -15.5h0m1.5 8.1h0m1.1 -3.9h0m-.3 5h0m.1 -1.9h0m-.4 -17.7h0m-1.8 18.3h0" stroke="#48b03a" stroke-opacity="0.294" stroke-width="0.75" stroke-linecap="round"/>
<text x="179.80" y="138.40" text-anchor="middle" font-family="Liberation Sans" font-size="6.2" textLength="5.90" lengthAdjust="spacingAndGlyphs" fill="#111" stroke="#111" stroke-width="0.15">38</text>
<line x1="176.20" x2="183.40" y1="168.70" y2="168.70" stroke="#2f9e12" stroke-width="2.2" stroke-linecap="round"/>
<line x1="190.10" x2="190.10" y1="126.50" y2="149.60" stroke="#c8c8c8" stroke-width="0.5"/>
<line x1="188.90" x2="191.30" y1="126.50" y2="126.50" stroke="#bbb" stroke-width="0.6"/>
<line x1="188.90" x2="191.30" y1="149.60" y2="149.60" stroke="#bbb" stroke-width="0.6"/>
<rect x="187.40" y="134.60" width="5.4" height="6.50" fill="none" stroke="#c2c2c2" stroke-width="0.5"/>
<line x1="187.40" x2="192.80" y1="137.85" y2="137.85" stroke="#c2c2c2" stroke-width="0.5"/>
<polygon points="189.8,126.5 189.6,128.4 189.4,130.3 189.1,132.3 188.7,134.2 188.4,136.1 188.4,138.1 188.5,140.0 188.8,141.9 189.2,143.8 189.5,145.8 189.7,147.7 189.8,149.6 190.4,149.6 190.5,147.7 190.7,145.8 191.0,143.8 191.4,141.9 191.7,140.0 191.8,138.1 191.8,136.1 191.5,134.2 191.1,132.3 190.8,130.3 190.6,128.4 190.4,126.5" fill="#bcbc38" fill-opacity="0.165"/>
<path d="M189.7 145.0h0m.1 -.4h0m1.1 -11.2h0m-.9 -4.2h0m.1 15.5h0m.1 2.3h0m-1.4 -4.1h0m1.1 -4.6h0m-.3 6.5h0m.2 1.5h0m.7 -2.5h0m-1.5 -9.5h0m.7 -7.7h0m.4 13.6h0m-.7 -4h0m.9 -1.6h0m.5 6.2h0m-.4 .3h0m0 -9.9h0m-.3 -1.9h0m-.1 1.5h0m-.1 11.5h0m-.3 .6h0m-1.5 -7.3h0m2.5 2.3h0m-.5 -7.7h0m0 10.6h0m.2 -3.8h0m.5 -2.6h0m-.1 4h0m-1 8.6h0m.8 -3.2h0m-.6 -1.5h0m-.3 -7.6h0m-.8 -1.5h0m2.1 -4h0m-1.7 12.4h0m1.1 -11.4h0m-.2 13.1h0m1.3 -6.7h0m-.5 -6.8h0m-.9 6.7h0m-1.1 1.2h0m.5 .5h0m1 6h0m.5 -13.2h0m-.9 5.1h0m.7 4.6h0m-.2 -10.5h0m0 0h0m-.5 .2h0m-1.5 8.9h0m2.5 -8.5h0m-1.1 10h0m.3 -5.1h0m.3 -1.6h0m0 -1.4h0m-.1 15.2h0m-1.1 -14.1h0m-.2 4.3h0m0 -4.1h0m1.8 -3.1h0m.3 5.3h0m-1.3 1.8h0m-1 1.6h0m1.2 7.3h0m0 -7.2h0m.1 -9.1h0m-1.4 5.1h0m1.1 -7.8h0m.9 2.2h0m-1.8 4.8h0m1.6 8.4h0m-1.1 3.5h0m.5 -17.2h0m.4 12.8h0m-1.1 -.3h0m1.3 -9.4h0m-1.4 9.9h0m.5 -12.6h0m1.2 .7h0m-1.4 14.8h0m.3 -5.8h0m-.8 -3.7h0m1.4 7.8h0" stroke="#bcbc38" stroke-opacity="0.240" stroke-width="0.75" stroke-linecap="round"/>
<text x="190.10" y="125.10" text-anchor="middle" font-family="Liberation Sans" font-size="6.2" textLength="5.90" lengthAdjust="spacingAndGlyphs" fill="#111" stroke="#111" stroke-width="0.15">25</text>
<line x1="186.50" x2="193.70" y1="164.70" y2="164.70" stroke="#a3a30c" stroke-width="2.2" stroke-linecap="round"/>
<line x1="210.65" x2="210.65" y1="97.90" y2="126.20" stroke="#c8c8c8" stroke-width="0.5"/>
<line x1="209.45" x2="211.85" y1="97.90" y2="97.90" stroke="#bbb" stroke-width="0.6"/>
<line x1="209.45" x2="211.85" y1="126.20" y2="126.20" stroke="#bbb" stroke-width="0.6"/>
<rect x="207.95" y="106.50" width="5.4" height="9.80" fill="none" stroke="#c2c2c2" stroke-width="0.5"/>
<line x1="207.95" x2="213.35" y1="111.40" y2="111.40" stroke="#c2c2c2" stroke-width="0.5"/>
<polygon points="210.1,97.9 209.9,100.3 209.7,102.6 209.4,105.0 209.1,107.3 208.9,109.7 208.9,112.1 209.0,114.4 209.3,116.8 209.5,119.1 209.8,121.5 210.1,123.8 210.2,126.2 211.1,126.2 211.2,123.8 211.5,121.5 211.8,119.1 212.0,116.8 212.3,114.4 212.4,112.1 212.4,109.7 212.2,107.3 211.9,105.0 211.6,102.6 211.4,100.3 211.2,97.9" fill="#4a5ad8" fill-opacity="0.220"/>
<path d="M210.8 105.6h0m-1 10.8h0m-1.1 -8.3h0m2.3 15.8h0m-.3 -2.3h0m.2 -10.6h0m-.5 -12h0m-.1 14h0m-.1 -6.1h0m.2 -.1h0m.8 -3h0m.2 -3.6h0m-1.6 13.6h0m-.1 -2.6h0m.4 -8.3h0m.8 13.6h0m.8 4.2h0m-.8 -13.5h0m.4 4h0m-.8 6.1h0m.4 -13.6h0m.1 14.6h0m-.6 4.2h0m.5 -9.3h0m-.8 3.6h0m-.5 7.9h0m1 -6.4h0m1.7 -9.5h0m-1.5 6.9h0m.2 -7h0m-.4 8.9h0m.7 -3.1h0m-.9 6.2h0m1.1 -8.4h0m.2 9.5h0m-1.2 -10.4h0m.7 -9.9h0m-.4 15.8h0m.8 -.5h0m-1.3 8.8h0m-.5 -15h0m.9 11.1h0m-.8 -9.4h0m1.4 -4.5h0m.3 -7.6h0m-.3 15.3h0m.1 -1.3h0m-.6 -8.3h0m.4 2.8h0m-.8 -.5h0m.4 -6.1h0m-1 7.2h0m.6 1.7h0m.7 -8.4h0m.8 9.5h0m-1.2 -4.7h0m.5 7.5h0m-.4 -10.5h0m-1.6 10.2h0m1.2 -3.3h0m.1 13h0m.3 -7.8h0m-.8 -12.4h0m.7 1.2h0m0 -4.5h0m.4 17.2h0m-.7 5.5h0m.2 -.4h0m.4 -25.1h0m-1.2 14.1h0m.4 -11.5h0m.7 19.4h0m-.2 -9.3h0m.3 -12.1h0m.1 1.2h0m-.7 18.9h0m.4 -5.3h0m.3 7.8h0m-.1 .7h0m-.3 -6.4h0m1.3 -8.2h0m-1 2.4h0m-1.2 3.3h0m0 -6.7h0m1.9 10.6h0m-1.4 6.8h0m1.3 -5.5h0m-.7 -8.1h0m.3 -7.1h0m-.6 5.6h0m-.1 8.9h0m1.3 -3.2h0m-1.3 5.2h0m.2 6.5h0m-.2 -20.4h0m1.6 6.6h0m-1.3 -11.5h0m-1.1 19.7h0m1.5 1.7h0m-1.1 -15.5h0m.5 9h0m-.7 -9.5h0m1.8 3.3h0m-1.4 -9h0m2 7.3h0m-.3 3h0m-2.2 -7.8h0m.8 12.7h0m0 -16.3h0m.2 13.8h0m.4 3h0m-1.4 -10.2h0m1.1 4.6h0m-.2 7.7h0m.5 -.4h0m-.7 -.4h0m.4 6.3h0m-.6 -8.7h0m-.1 -14.4h0" stroke="#4a5ad8" stroke-opacity="0.320" stroke-width="0.75" stroke-linecap="round"/>
<text x="210.65" y="95.90" text-anchor="middle" font-family="Liberation Sans" font-size="6.2" textLength="5.90" lengthAdjust="spacingAndGlyphs" fill="#111" stroke="#111" stroke-width="0.15">32</text>
<line x1="207.05" x2="214.25" y1="111.40" y2="111.40" stroke="#0b0ba6" stroke-width="2.2" stroke-linecap="round"/>
<line x1="220.95" x2="220.95" y1="99.50" y2="128.20" stroke="#c8c8c8" stroke-width="0.5"/>
<line x1="219.75" x2="222.15" y1="99.50" y2="99.50" stroke="#bbb" stroke-width="0.6"/>
<line x1="219.75" x2="222.15" y1="128.20" y2="128.20" stroke="#bbb" stroke-width="0.6"/>
<rect x="218.25" y="109.20" width="5.4" height="8.70" fill="none" stroke="#c2c2c2" stroke-width="0.5"/>
<line x1="218.25" x2="223.65" y1="113.55" y2="113.55" stroke="#c2c2c2" stroke-width="0.5"/>
<polygon points="220.6,99.5 220.4,101.9 220.2,104.3 219.9,106.7 219.5,109.1 219.3,111.5 219.2,113.8 219.3,116.2 219.6,118.6 219.9,121.0 220.2,123.4 220.5,125.8 220.6,128.2 221.3,128.2 221.4,125.8 221.7,123.4 222.0,121.0 222.3,118.6 222.6,116.2 222.7,113.8 222.6,111.5 222.4,109.1 222.0,106.7 221.7,104.3 221.5,101.9 221.3,99.5" fill="#c0404e" fill-opacity="0.202"/>
<path d="M221.0 109.3h0m-.2 -3.3h0m0 16.5h0m.7 -13.5h0m-.8 17.5h0m.4 -20.2h0m.6 10.5h0m-1.3 -3.9h0m2.2 -1.3h0m-.9 3.1h0m-.9 -11.2h0m-.3 3.2h0m.5 12.7h0m-.6 5.6h0m.7 -4h0m-.9 -3.2h0m.9 2.7h0m.2 -8.5h0m-.7 -2.5h0m.3 5.3h0m-.4 -4h0m.1 3.3h0m-.3 .6h0m1.4 .7h0m.6 0h0m-2.1 9.5h0m1.2 -22.2h0m.3 8.1h0m-.5 14.1h0m.1 -12.2h0m-.7 -11.1h0m-.1 13.6h0m1.2 -6.9h0m.5 4.5h0m-.3 1.4h0m-.8 .7h0m-.1 -10.1h0m.8 15.9h0m-.5 0h0m-.7 -16h0m-.2 -2.5h0m.8 11.7h0m.2 2.3h0m.3 0h0m1.2 -5.1h0m-2.9 3.7h0m1.1 -1.2h0m.2 3.7h0m.1 8.2h0m.3 -12h0m-1.4 -1.3h0m.4 9.3h0m.4 -22h0m.8 13.7h0m-1.4 -.5h0m1.1 12.7h0m0 -6.7h0m-.8 -3.5h0m1 2.6h0m-.4 -15.6h0m-1.3 21.7h0m.6 -4.2h0m.1 -3.6h0m.8 -3.9h0m-1.1 12.3h0m.7 -1.8h0m-.3 -12.3h0m-.8 -1.5h0m1.1 16.4h0m.6 -12.7h0m-1 -4.1h0m-.4 .4h0m1.5 10.5h0m-2 -1.1h0m1.1 -18.5h0m-1.1 9.3h0m2.4 11.3h0m-2.7 -14.2h0m0 14.2h0m2.2 -14.2h0m-1.5 3.6h0m.7 -5.7h0m.3 13.9h0m-.6 -3.7h0m1.3 .5h0m-1.3 -4.2h0m.1 -3.7h0m.6 6.8h0m0 7.8h0m-1.2 -3.6h0m.1 -12.8h0m.6 3h0m.5 17.4h0m-.4 -22.6h0m-.2 11.7h0m.6 -6.1h0m.2 5.2h0m-1.3 0h0m.3 -7h0m-.3 13.6h0m1 -3.1h0m.6 -2.7h0m-1.1 3.9h0m1.5 -9.1h0m.1 9.8h0m-1.3 -2h0m.4 -11.2h0m-1.9 11h0m1.1 -6.9h0m-1 7.3h0" stroke="#c0404e" stroke-opacity="0.294" stroke-width="0.75" stroke-linecap="round"/>
<text x="220.95" y="98.10" text-anchor="middle" font-family="Liberation Sans" font-size="6.2" textLength="5.90" lengthAdjust="spacingAndGlyphs" fill="#111" stroke="#111" stroke-width="0.15">32</text>
<line x1="217.35" x2="224.55" y1="117.90" y2="117.90" stroke="#8c0d0d" stroke-width="2.2" stroke-linecap="round"/>
<line x1="231.25" x2="231.25" y1="107.30" y2="127.60" stroke="#c8c8c8" stroke-width="0.5"/>
<line x1="230.05" x2="232.45" y1="107.30" y2="107.30" stroke="#bbb" stroke-width="0.6"/>
<line x1="230.05" x2="232.45" y1="127.60" y2="127.60" stroke="#bbb" stroke-width="0.6"/>
<rect x="228.55" y="115.20" width="5.4" height="7.00" fill="none" stroke="#c2c2c2" stroke-width="0.5"/>
<line x1="228.55" x2="233.95" y1="118.70" y2="118.70" stroke="#c2c2c2" stroke-width="0.5"/>
<polygon points="230.9,107.3 230.7,109.0 230.5,110.7 230.3,112.4 230.0,114.1 229.7,115.8 229.5,117.4 229.5,119.1 229.6,120.8 229.9,122.5 230.1,124.2 230.4,125.9 230.7,127.6 231.8,127.6 232.1,125.9 232.4,124.2 232.6,122.5 232.9,120.8 233.0,119.1 233.0,117.4 232.8,115.8 232.5,114.1 232.2,112.4 232.0,110.7 231.8,109.0 231.6,107.3" fill="#48b03a" fill-opacity="0.202"/>
<path d="M231.7 125.1h0m0 -4.2h0m.1 3.5h0m.3 -6h0m-1.1 .1h0m.1 -6.7h0m-.7 14.1h0m.6 -14.6h0m.5 14.5h0m.1 -1.7h0m-.9 -7.8h0m.4 10h0m-.3 -9h0m.4 7.8h0m.5 -5.6h0m-.5 -5.7h0m-.1 -3.9h0m.4 13.4h0m1 -4.7h0m-.4 -2.4h0m-1.7 3.1h0m1.4 -5.9h0m-.6 8.8h0m.2 3.6h0m0 -14.1h0m.2 14.9h0m.3 -10.4h0m-.4 5.2h0m-.2 -3.1h0m.4 -2.4h0m-.2 4.1h0m-.2 -4h0m.3 -2.7h0m-.1 -3.6h0m-2 8.4h0m2.8 -1.2h0m-2.3 -.1h0m1.4 -6.9h0m-.2 11.2h0m.1 -6.9h0m.4 8.5h0m-.5 -8.9h0m-.7 4.7h0m1.2 -8.2h0m1 8.7h0m.2 .3h0m-1.1 -8.2h0m-.9 -.2h0m.1 11.6h0m1 -2.1h0m.2 -4.6h0m0 -2.8h0m-1.6 9.1h0m.6 1.7h0m.2 2.5h0m-.9 -9.9h0m1.2 10.5h0m-1.2 -16.8h0m.3 12.3h0m.9 -10.5h0m-1.1 2h0m1.5 11.1h0m-.3 -8.4h0m-.4 1.5h0m0 -6.2h0m-.1 -.6h0m.5 -.2h0m-1.5 2.5h0m1.6 -3h0m-.1 3.1h0m-1.6 .2h0m.4 -.3h0m.7 7.2h0m.5 -5.3h0m.7 5.9h0m-1.7 5.4h0m.1 -11.1h0m1 4h0m-.5 -9.3h0m.7 1.3h0m-1.2 15.7h0m.8 -6.6h0m-1.1 -3.6h0m.1 8.9h0" stroke="#48b03a" stroke-opacity="0.294" stroke-width="0.75" stroke-linecap="round"/>
<text x="231.25" y="105.50" text-anchor="middle" font-family="Liberation Sans" font-size="6.2" textLength="5.90" lengthAdjust="spacingAndGlyphs" fill="#111" stroke="#111" stroke-width="0.15">33</text>
<line x1="227.65" x2="234.85" y1="129.30" y2="129.30" stroke="#2f9e12" stroke-width="2.2" stroke-linecap="round"/>
<line x1="241.55" x2="241.55" y1="80.60" y2="121.10" stroke="#c8c8c8" stroke-width="0.5"/>
<line x1="240.35" x2="242.75" y1="80.60" y2="80.60" stroke="#bbb" stroke-width="0.6"/>
<line x1="240.35" x2="242.75" y1="121.10" y2="121.10" stroke="#bbb" stroke-width="0.6"/>
<rect x="238.85" y="96.30" width="5.4" height="10.20" fill="none" stroke="#c2c2c2" stroke-width="0.5"/>
<line x1="238.85" x2="244.25" y1="101.40" y2="101.40" stroke="#c2c2c2" stroke-width="0.5"/>
<polygon points="241.3,80.6 241.2,84.0 241.0,87.3 240.7,90.7 240.4,94.1 240.0,97.5 239.8,100.8 239.9,104.2 240.2,107.6 240.6,111.0 241.0,114.3 241.2,117.7 241.2,121.1 241.9,121.1 241.9,117.7 242.1,114.3 242.5,111.0 242.9,107.6 243.2,104.2 243.3,100.8 243.1,97.5 242.7,94.1 242.4,90.7 242.1,87.3 241.9,84.0 241.8,80.6" fill="#bcbc38" fill-opacity="0.165"/>
<path d="M242.8 98.8h0m.4 4.5h0m-1.2 -15.3h0m-.7 27.8h0m0 -9.8h0m.2 -20.8h0m-.7 34.1h0m1.5 -19.1h0m.1 -2.4h0m-.2 3.3h0m-.7 -8.2h0m.1 15.4h0m-.7 -7h0m.6 -4.6h0m-.2 8.9h0m-1.1 -6.5h0m.7 .8h0m1.4 18.2h0m-.5 -10.8h0m-.1 .7h0m0 -17h0m-.1 3.2h0m.3 1.6h0m-.5 12.2h0m.6 -2.4h0m-1 -1.7h0m-1.6 -2.6h0m2.8 7.6h0m-1 -10.4h0m1.5 .6h0m-.6 -2.2h0m-.3 -1.8h0m0 2.9h0m1.4 5.8h0m-1.6 -8.8h0m-.4 13.1h0m1.3 -9.6h0m-3 1.2h0m2.8 -8.1h0m-1.1 12.9h0m-.3 -1.6h0m1 0h0m.1 10.1h0m-1.3 -10.5h0m.9 -7.7h0m-.4 16.3h0m1 -13.4h0m-1.3 5h0m1.1 -6.8h0m-.6 6.5h0m.5 -15.3h0m-.3 19.2h0m-.5 -3.4h0m.6 4h0m1.1 2.9h0m-1 -18.2h0m-.4 6.6h0m-1.5 3h0m2.1 13h0m-.2 -9.4h0m-.1 -3.7h0m-.4 1.4h0m.7 -3.8h0m.1 12.1h0m-.7 -12.6h0m.8 3.1h0m-.7 19.6h0m.5 -24h0m-.2 -13.9h0m-.5 17.6h0m-.8 3.3h0m.5 5h0m1.1 -21.9h0m-.7 30.7h0m-.8 -17.9h0m1.3 9.3h0m.4 -20.3h0m-1.3 13.1h0m-.3 -4.7h0m1.3 22.1h0m-.9 -22.4h0m.7 15.8h0m.4 1.2h0m-.6 -13.2h0m.7 -5.2h0m-.9 18.4h0m.7 4.4h0m-.5 -22.3h0m-1.1 8.4h0m.9 -.1h0m.1 -19.5h0m.4 13.7h0m-.4 -7.5h0m-.7 -.4h0m.4 11.3h0m1.9 -5.5h0m-2.5 1.5h0m-.2 8.1h0m.6 .4h0m1.6 -6.7h0m-1.1 10.2h0m-.2 -7.4h0m0 -16.6h0m.3 9.9h0m1.3 3.8h0m-1 -17.6h0m-.2 7.6h0m.2 4.9h0m-.2 4.9h0m-.9 -1.5h0m1.6 3.5h0m-1.1 -10.7h0m.8 -1.1h0m-.9 22.2h0m.2 -24.9h0m.7 28.1h0m-.6 -6.8h0m.9 -12.3h0m-1.7 -8.8h0m.6 7h0m.9 12.8h0m.2 -6.3h0m-2 1.6h0m.7 4.7h0m.7 13.5h0m.5 -24.2h0m-.6 4.5h0m.3 5.1h0m-.8 -21.4h0m1.2 5h0m-1.1 -2.5h0m1 7.9h0m-.9 12.1h0m.6 -23.7h0m-.9 18.8h0m.4 5.7h0m0 -16.8h0m-2 10.1h0m2 9.3h0m1 -9.3h0m-1.2 -19.9h0" stroke="#bcbc38" stroke-opacity="0.240" stroke-width="0.75" stroke-linecap="round"/>
<text x="241.55" y="79.20" text-anchor="middle" font-family="Liberation Sans" font-size="6.2" textLength="5.90" lengthAdjust="spacingAndGlyphs" fill="#111" stroke="#111" stroke-width="0.15">21</text>
<line x1="237.95" x2="245.15" y1="133.00" y2="133.00" stroke="#a3a30c" stroke-width="2.2" stroke-linecap="round"/>
<line x1="262.10" x2="262.10" y1="93.90" y2="132.40" stroke="#c8c8c8" stroke-width="0.5"/>
<line x1="260.90" x2="263.30" y1="93.90" y2="93.90" stroke="#bbb" stroke-width="0.6"/>
<line x1="260.90" x2="263.30" y1="132.40" y2="132.40" stroke="#bbb" stroke-width="0.6"/>
<rect x="259.40" y="108.00" width="5.4" height="10.30" fill="none" stroke="#c2c2c2" stroke-width="0.5"/>
<line x1="259.40" x2="264.80" y1="113.15" y2="113.15" stroke="#c2c2c2" stroke-width="0.5"/>
<polygon points="261.8,93.9 261.7,97.1 261.5,100.3 261.2,103.5 260.8,106.7 260.5,109.9 260.4,113.2 260.5,116.4 260.8,119.6 261.2,122.8 261.5,126.0 261.7,129.2 261.8,132.4 262.4,132.4 262.5,129.2 262.7,126.0 263.0,122.8 263.4,119.6 263.7,116.4 263.9,113.2 263.7,109.9 263.4,106.7 263.0,103.5 262.7,100.3 262.5,97.1 262.4,93.9" fill="#4a5ad8" fill-opacity="0.220"/>
<path d="M263.3 119.4h0m-1.4 -.8h0m-.8 -4.9h0m1 17.2h0m-.1 .8h0m-.6 -18.7h0m1.4 -7.2h0m-.2 26.4h0m.2 -19.5h0m-1.4 10.9h0m.9 2.2h0m-1.4 -9.2h0m.3 -10.7h0m0 7.1h0m1.6 5.1h0m-.7 -2.1h0m-.4 -12.8h0m.5 2.5h0m-.7 8h0m-.1 3.7h0m.3 5h0m.5 -6.4h0m.3 6.5h0m.5 -12.6h0m-.6 -6.6h0m.7 15.2h0m-.9 -11.8h0m.6 8.5h0m-.8 -11.1h0m-.1 7.2h0m.4 10.2h0m.7 -2.8h0m-1.2 -7.3h0m.4 -17.4h0m.7 26.7h0m-.2 -13.9h0m-1.1 3.8h0m-.3 -.5h0m1.1 11.7h0m0 7.5h0m.1 -10.9h0m-.2 5.4h0m-.6 1.5h0m1 -6.6h0m-1.7 -10.2h0m1.1 6.9h0m-.4 -1.1h0m.6 8.4h0m-.4 -15.4h0m-.1 -1h0m.8 17.2h0m.3 -5.1h0m-.5 7.6h0m-.1 -7.9h0m1.8 -4.9h0m-1.5 -18.2h0m-1.3 21.5h0m1.7 2.2h0m-1.8 -8.7h0m.2 2.1h0m.8 7.6h0m-.8 -.5h0m1.1 -6.2h0m-.3 8.8h0m-1.4 -8h0m1 7.5h0m1.1 -10.1h0m-1.6 5.6h0m.4 -14.7h0m-.5 13.2h0m1.5 -13.4h0m-1.8 13.6h0m.5 -10.1h0m.9 14.4h0m-.4 2.4h0m0 4.4h0m.5 -15.3h0m-.8 11h0m-.8 -8.6h0m1.4 12.9h0m-.7 -15.8h0m.8 -9.8h0m1.6 8.8h0m-.9 -3.1h0m-.6 -6.4h0m.4 25.1h0m-1.2 -1h0m1.2 -5.1h0m.1 -5.2h0m-.8 -7.4h0m-.4 3h0m-.5 -1.3h0m2.3 9.4h0m-2 -14.9h0m1.2 5.1h0m-1.4 6.7h0m.9 -7h0m-1.1 11.9h0m1.3 6h0m-.3 -22.3h0m.2 8.3h0m-.3 13.5h0m.2 1.2h0m.1 -13.4h0m.4 13.4h0m0 -23.5h0m.8 9.6h0m-1.4 4.1h0m.1 -3.2h0m.3 6h0m-.4 -12.4h0m-1 4.1h0m1.4 1.6h0m-.8 -4.9h0m-.1 -1.9h0m.9 23.8h0m.2 -8.1h0m0 -11.5h0m-2.1 -3.1h0m1.2 15.7h0m-.2 -6.8h0m.6 -9.8h0m.1 20.5h0m-.5 -31.5h0m.1 29.4h0m.2 -19.9h0m.9 13.8h0m.3 -5.8h0m-1.5 -2.9h0m1.2 -.2h0m-.8 -6.8h0m1 6.4h0m-1.7 -5.7h0m1.5 11.3h0m-.9 1.1h0m1.2 -9.8h0m-.3 4.6h0m.8 9.2h0" stroke="#4a5ad8" stroke-opacity="0.320" stroke-width="0.75" stroke-linecap="round"/>
<text x="262.10" y="92.60" text-anchor="middle" font-family="Liberation Sans" font-size="6.2" textLength="5.90" lengthAdjust="spacingAndGlyphs" fill="#111" stroke="#111" stroke-width="0.15">21</text>
<line x1="258.50" x2="265.70" y1="87.40" y2="87.40" stroke="#0b0ba6" stroke-width="2.2" stroke-linecap="round"/>
<line x1="272.40" x2="272.40" y1="107.30" y2="131.30" stroke="#c8c8c8" stroke-width="0.5"/>
<line x1="271.20" x2="273.60" y1="107.30" y2="107.30" stroke="#bbb" stroke-width="0.6"/>
<line x1="271.20" x2="273.60" y1="131.30" y2="131.30" stroke="#bbb" stroke-width="0.6"/>
<rect x="269.70" y="114.00" width="5.4" height="10.80" fill="none" stroke="#c2c2c2" stroke-width="0.5"/>
<line x1="269.70" x2="275.10" y1="119.40" y2="119.40" stroke="#c2c2c2" stroke-width="0.5"/>
<polygon points="271.7,107.3 271.5,109.3 271.3,111.3 271.0,113.3 270.8,115.3 270.7,117.3 270.7,119.3 270.7,121.3 270.8,123.3 271.0,125.3 271.2,127.3 271.5,129.3 271.7,131.3 273.1,131.3 273.3,129.3 273.6,127.3 273.8,125.3 274.0,123.3 274.1,121.3 274.1,119.3 274.1,117.3 274.0,115.3 273.8,113.3 273.5,111.3 273.3,109.3 273.1,107.3" fill="#c0404e" fill-opacity="0.202"/>
<path d="M271.6 113.7h0m1.2 -2.1h0m.1 -.8h0m-1 13h0m.1 -.9h0m1.1 -7.5h0m.4 5.2h0m-.8 3.7h0m1.1 .7h0m-1.9 6.1h0m-.2 -9.9h0m.6 5.6h0m.9 -13.1h0m-.5 1.1h0m-1.7 1.2h0m2.1 6.6h0m-.7 4.6h0m1.9 -3.7h0m-1.9 -13.5h0m-1.4 9.7h0m1.6 -3.8h0m.5 7.2h0m-.8 -8.3h0m-1.4 3.8h0m1.4 .2h0m-.4 -9.2h0m-.1 3.8h0m.3 1.1h0m.8 5.1h0m-.7 -9.1h0m-.1 3.8h0m-.2 11.9h0m.4 -1.8h0m.5 -13.1h0m1.2 11h0m-1.2 .1h0m.4 .3h0m-.5 -12.1h0m0 -2.9h0m-.2 9.4h0m.1 -8h0m-1.1 3.7h0m.6 1.5h0m.1 5.5h0m.2 -4.7h0m-.3 13.1h0m.7 -8.8h0m0 7.9h0m.5 -10.7h0m-2.2 5.9h0m1.4 -2.9h0m.5 9.4h0m-.6 2.2h0m.2 -14h0m-.3 -.5h0m.4 2.9h0m.3 -.9h0m-1 10.1h0m0 -18.1h0m.6 6h0m1.5 .2h0m-2.5 -7.9h0m1.3 15h0m-1.1 -5.3h0m-.2 -5.8h0m1 -.1h0m.2 4.4h0m1 -1.1h0m-1.4 -.8h0m-.2 -7.4h0m.5 8.2h0m-.6 10.5h0m-.4 -5.1h0m2.8 .8h0m-3 -12.1h0m.2 9.4h0m.9 8.2h0m-1.3 -15.6h0m1.6 12.2h0m.8 2.9h0m-2 -14.3h0m-1 3.3h0m.7 9.2h0m1.3 -12.6h0m-.3 4.7h0m.7 .3h0m-.4 8h0m.1 -1.9h0m.6 -1.8h0m-1 8.5h0m.4 -22.3h0m.1 1.2h0m-.3 7h0m-.6 0h0m-.5 -2.6h0m1.7 8.7h0m-1.1 -9.1h0m0 3.7h0m.4 1.9h0m-1.4 4.1h0m-.2 -4.2h0m2.8 9.2h0m-1.4 1.6h0m-.9 -6.2h0m1 7.3h0m1.5 -10.3h0m-1.6 6.3h0m-.7 3.5h0m.6 -8.2h0m-.5 -6.1h0m1.2 -6.6h0" stroke="#c0404e" stroke-opacity="0.294" stroke-width="0.75" stroke-linecap="round"/>
<text x="272.40" y="105.80" text-anchor="middle" font-family="Liberation Sans" font-size="6.2" textLength="5.90" lengthAdjust="spacingAndGlyphs" fill="#111" stroke="#111" stroke-width="0.15">21</text>
<line x1="268.80" x2="276.00" y1="118.80" y2="118.80" stroke="#8c0d0d" stroke-width="2.2" stroke-linecap="round"/>
<line x1="282.70" x2="282.70" y1="102.60" y2="132.90" stroke="#c8c8c8" stroke-width="0.5"/>
<line x1="281.50" x2="283.90" y1="102.60" y2="102.60" stroke="#bbb" stroke-width="0.6"/>
<line x1="281.50" x2="283.90" y1="132.90" y2="132.90" stroke="#bbb" stroke-width="0.6"/>
<rect x="280.00" y="114.50" width="5.4" height="8.10" fill="none" stroke="#c2c2c2" stroke-width="0.5"/>
<line x1="280.00" x2="285.40" y1="118.55" y2="118.55" stroke="#c2c2c2" stroke-width="0.5"/>
<polygon points="282.4,102.6 282.3,105.1 282.2,107.6 281.9,110.2 281.5,112.7 281.2,115.2 281.0,117.8 281.0,120.3 281.3,122.8 281.7,125.3 282.0,127.9 282.2,130.4 282.4,132.9 283.0,132.9 283.2,130.4 283.4,127.9 283.7,125.3 284.1,122.8 284.4,120.3 284.4,117.8 284.2,115.2 283.9,112.7 283.5,110.2 283.2,107.6 283.1,105.1 283.0,102.6" fill="#48b03a" fill-opacity="0.202"/>
<path d="M283.4 112.0h0m-1.5 10.3h0m1.5 .7h0m.5 3.2h0m-.9 -9.5h0m-.7 7.6h0m.7 3.6h0m-.8 -10.9h0m1.2 -5.7h0m-.8 16.9h0m-.4 -12.9h0m.9 1.5h0m-.1 3.8h0m-.1 9.4h0m-.3 -15.6h0m0 4.7h0m.2 -5.1h0m-.2 8.7h0m.2 -1.4h0m-.5 -8.9h0m2.4 2.5h0m-2.1 16.1h0m0 -11.7h0m-1 2.6h0m.7 -2h0m1.3 -2h0m-1.9 -1.4h0m-.4 5.1h0m.3 -1.8h0m.8 3.9h0m1.3 -9.8h0m-1.9 8.3h0m-.7 -6.1h0m.9 2.8h0m0 -8.3h0m-.6 2.8h0m1.9 9.8h0m-.4 -11h0m.1 -1.8h0m-.5 7.5h0m-1.6 1h0m2.3 7.5h0m-.5 -16.3h0m-.8 13.6h0m.4 .1h0m.9 -15.1h0m-.5 12.5h0m.4 -12.8h0m-.6 21.3h0m.1 -12h0m1.3 .2h0m-1.4 -5h0m.4 3.4h0m-.4 10.6h0m1.9 -10.1h0m-2.4 -12.8h0m.4 18.8h0m1.2 6.9h0m-1.2 -16.3h0m-.9 5.7h0m1 -13.8h0m-.2 19.9h0m0 -21.7h0m.5 28.5h0m0 -21.9h0m-1.8 4.4h0m2.9 -1.2h0m-1.4 5.6h0m-.4 1h0m1.9 0h0m-1.7 -5.5h0m.2 14.2h0m-.3 -18.5h0m.7 7.9h0m.1 -3h0m-.4 -10.3h0m.6 2.8h0m-2.1 7.1h0m1.4 -.1h0m-.2 7.1h0m1 5.7h0m0 -1.3h0m.1 -16.8h0m-.7 18h0m0 .4h0m-1.4 -8h0m.2 7.6h0m.1 -1.8h0m.1 -10.5h0m.9 4.9h0m1 3.3h0m-.2 -13.2h0m-1.1 7.2h0m.3 8.7h0m.2 -4.7h0m-.5 -13.7h0m1.4 4h0m-.6 16.1h0m-.7 -10.2h0m-.8 -5.1h0m1.2 4.9h0m1.4 2h0m-2.5 1h0m1.5 2.6h0m.8 -6.1h0m-.7 -.3h0m-1.3 5.6h0m.7 9.2h0m-.3 -23.5h0" stroke="#48b03a" stroke-opacity="0.294" stroke-width="0.75" stroke-linecap="round"/>
<text x="282.70" y="101.20" text-anchor="middle" font-family="Liberation Sans" font-size="6.2" textLength="5.90" lengthAdjust="spacingAndGlyphs" fill="#111" stroke="#111" stroke-width="0.15">22</text>
<line x1="279.10" x2="286.30" y1="133.10" y2="133.10" stroke="#2f9e12" stroke-width="2.2" stroke-linecap="round"/>
<line x1="293.00" x2="293.00" y1="107.30" y2="158.20" stroke="#c8c8c8" stroke-width="0.5"/>
<line x1="291.80" x2="294.20" y1="107.30" y2="107.30" stroke="#bbb" stroke-width="0.6"/>
<line x1="291.80" x2="294.20" y1="158.20" y2="158.20" stroke="#bbb" stroke-width="0.6"/>
<rect x="290.30" y="125.80" width="5.4" height="13.70" fill="none" stroke="#c2c2c2" stroke-width="0.5"/>
<line x1="290.30" x2="295.70" y1="132.65" y2="132.65" stroke="#c2c2c2" stroke-width="0.5"/>
<polygon points="292.7,107.3 292.6,111.5 292.4,115.8 292.1,120.0 291.7,124.3 291.4,128.5 291.3,132.8 291.4,137.0 291.7,141.2 292.1,145.5 292.4,149.7 292.6,154.0 292.7,158.2 293.3,158.2 293.4,154.0 293.6,149.7 293.9,145.5 294.3,141.2 294.6,137.0 294.7,132.8 294.6,128.5 294.3,124.3 293.9,120.0 293.6,115.8 293.4,111.5 293.3,107.3" fill="#bcbc38" fill-opacity="0.165"/>
<path d="M293.4 132.4h0m-.9 .9h0m.5 11h0m-1.1 -.2h0m1.7 -1.1h0m-.8 11.3h0m0 -29h0m1.3 18.1h0m-2.1 -11.8h0m1.5 -17.2h0m-1 13.9h0m.9 -19.7h0m-.2 8.7h0m-.7 13.8h0m1.8 7.5h0m-1 -26.8h0m-1.3 19.9h0m1.2 23.7h0m.1 -26h0m-.4 -10.1h0m0 23.8h0m.3 -15.9h0m-1 10.2h0m.4 -7.6h0m1.2 13.7h0m-.3 -12.5h0m-.1 3.6h0m-.3 -22.8h0m-.3 10.1h0m-.4 10.1h0m1.5 -12.8h0m-.1 4.3h0m-.8 14.4h0m1.3 -2.3h0m-1.5 .6h0m.4 7.3h0m.3 -13.1h0m.4 -8.3h0m-1.5 4.8h0m2.2 15.7h0m-1.7 -24.1h0m.6 10.4h0m-1.1 -20.9h0m1 35.9h0m.9 -9.5h0m-2.1 -3.3h0m1.7 5.4h0m-.8 -28.7h0m-1.2 23.1h0m1.4 13h0m-.3 5.9h0m.1 -28.9h0m.5 4.7h0m-.5 7.1h0m-.2 -14.4h0m-.5 -.6h0m.5 -.3h0m.4 12.7h0m-1.4 .8h0m.7 1.2h0m.7 -17.3h0m-.5 22.3h0m1.5 -15.4h0m-1.8 21h0m.4 13.3h0m.7 -27.7h0m-.3 -15.3h0m-.9 24.1h0m.2 2.1h0m.9 .7h0m.1 -4h0m-.4 -11.4h0m-1.5 10.6h0m.9 13.2h0m.5 -24.6h0m-.7 19.4h0m.2 8.5h0m-.2 -21.2h0m0 7h0m.1 -8.1h0m.5 16.4h0m.3 -15.9h0m.4 6.7h0m-1.4 12.2h0m.9 -30.1h0m.2 31h0m.3 -20.8h0m-.8 23.9h0m-.1 -43.2h0m-.7 33.3h0m2.5 -4.9h0m-1.4 9.8h0m-.4 -31h0m-.1 -7.2h0m.6 17.4h0m-1 -4.3h0m.8 21.7h0m-.9 -2h0m.7 14.6h0m-.1 -45.4h0m1.3 5.5h0m-2.4 17.9h0m2.7 -12.7h0m-1 14.6h0m-.3 8.2h0m.8 .8h0m-1.1 -17.8h0m.2 5.4h0m1 11.7h0m-1.2 -35.6h0m.2 11.4h0m-.1 -6.5h0m-.4 25.8h0m1.4 -6.8h0m-1.2 -20.1h0m1 16.9h0m-.1 3.4h0m.1 6.5h0m-1 2.7h0m0 3.1h0m-.3 2.3h0m.4 -32.4h0m-.9 25.1h0m1.1 -27.6h0m.3 31.9h0m-1.3 -10.3h0m.6 10.7h0m0 -23h0m1 13.8h0m-1.4 4h0m.2 -2.4h0m.9 1.4h0m-.5 -7.5h0m-.3 -9.3h0m2.1 4.8h0m-1.5 -5.5h0m.2 9.2h0m-.3 18.8h0m.2 -9.5h0m-.1 -18.7h0m.6 29.3h0m-1.2 -42.8h0m.6 19h0m-.4 5h0m-1.1 9h0m1.7 -2.5h0m-.7 -15.1h0m.1 23.9h0m1.1 -13.6h0m0 -6.2h0m-.9 -11.1h0m-.2 39.1h0m.1 -26.9h0m-.4 -6.5h0m.7 15.5h0m.5 -1h0m-1.1 5.8h0m.2 -16.9h0m.3 -10.5h0m.5 .5h0m-.1 21.7h0m.1 -18.3h0m-.4 3.5h0m-.8 30.7h0m1.5 -10.3h0m-1.3 -12.1h0m1.1 7.2h0m-1.5 -11.8h0m1.2 9.4h0m-.3 5.2h0m-.3 -8.4h0m.7 1.7h0m-.5 16.8h0m0 -11.6h0m.5 8h0m-1 -3.7h0m.7 -5.2h0m-.2 -24.4h0m.3 11.7h0m-.3 19.8h0m.2 -25.3h0" stroke="#bcbc38" stroke-opacity="0.240" stroke-width="0.75" stroke-linecap="round"/>
<text x="293.00" y="105.80" text-anchor="middle" font-family="Liberation Sans" font-size="6.2" textLength="5.90" lengthAdjust="spacingAndGlyphs" fill="#111" stroke="#111" stroke-width="0.15">11</text>
<line x1="289.40" x2="296.60" y1="135.60" y2="135.60" stroke="#a3a30c" stroke-width="2.2" stroke-linecap="round"/>
<line x1="313.55" x2="313.55" y1="87.10" y2="140.80" stroke="#c8c8c8" stroke-width="0.5"/>
<line x1="312.35" x2="314.75" y1="87.10" y2="87.10" stroke="#bbb" stroke-width="0.6"/>
<line x1="312.35" x2="314.75" y1="140.80" y2="140.80" stroke="#bbb" stroke-width="0.6"/>
<rect x="310.85" y="107.30" width="5.4" height="13.20" fill="none" stroke="#c2c2c2" stroke-width="0.5"/>
<line x1="310.85" x2="316.25" y1="113.90" y2="113.90" stroke="#c2c2c2" stroke-width="0.5"/>
<polygon points="313.3,87.1 313.2,91.6 313.0,96.0 312.7,100.5 312.3,105.0 311.9,109.5 311.8,114.0 312.0,118.4 312.3,122.9 312.7,127.4 313.0,131.9 313.2,136.3 313.3,140.8 313.8,140.8 313.9,136.3 314.1,131.9 314.4,127.4 314.8,122.9 315.1,118.4 315.3,114.0 315.2,109.5 314.8,105.0 314.4,100.5 314.1,96.0 313.9,91.6 313.8,87.1" fill="#4a5ad8" fill-opacity="0.220"/>
<path d="M313.4 93.4h0m-.3 9.7h0m1.8 16.4h0m-1.6 2.1h0m2 -14.9h0m-2.1 21.9h0m-1.3 -20.6h0m2.1 14.7h0m-.8 3h0m.3 -32.6h0m1.1 21.4h0m-1.3 -15.5h0m1.8 13.2h0m-1.7 6.5h0m.2 .1h0m.7 -9.9h0m-1.1 -7h0m.7 -4h0m-.1 27.9h0m.3 -7.5h0m-1.3 2.5h0m.6 -29h0m-.2 40h0m-.5 -3.6h0m1.3 -18.1h0m0 8.9h0m-.8 -11.2h0m.8 5h0m-1.5 -8.7h0m-.2 10.9h0m1.6 -4.2h0m-.1 1h0m-1.4 -6.1h0m1.1 .4h0m.6 -8.2h0m-1 19h0m.7 13.2h0m0 -10.6h0m-.1 -30.3h0m-.7 13.5h0m2.1 8.7h0m-1 14.3h0m-.2 -.6h0m-.8 -35.2h0m1.9 25.4h0m-1.6 -17.8h0m0 -4.3h0m-.5 15.3h0m.7 20.6h0m1.1 -20.5h0m-1.9 8.1h0m0 7.2h0m1.1 -8.4h0m0 -28h0m-.1 17.1h0m-.6 4.8h0m.9 -13.2h0m-.3 17.2h0m-.5 3.2h0m1.7 4.1h0m-.6 -3.6h0m.1 -8h0m-1.1 29h0m.3 -6.6h0m.5 -15.3h0m-.4 15.7h0m-.2 -32.9h0m.9 17h0m-1.4 2.1h0m.2 -15.3h0m.1 26.3h0m.1 -26h0m-.3 13.5h0m.2 17.7h0m-.1 -3.4h0m.1 -16.6h0m.7 -5.9h0m.1 19.8h0m-1 -7h0m1.7 4.1h0m-1.6 -9.8h0m-2.1 -4.6h0m1.4 -18.2h0m1.2 46.8h0m.4 -27.6h0m-1.3 -.5h0m1 26.5h0m-.3 -37h0m.6 11.3h0m-1.2 -.9h0m.3 -.9h0m.1 -19.5h0m.5 19.8h0m-.4 20.7h0m-1.8 -10.3h0m1.7 -5.4h0m.8 10.6h0m-1.3 -6.9h0m.2 -1.7h0m0 -29.3h0m1.2 22.5h0m-1.6 -2h0m1.2 11.9h0m.1 -6.8h0m-.2 19.4h0m.4 -36.9h0m-.8 17.9h0m.2 .9h0m.6 -17h0m-1 14h0m.7 -24.9h0m.5 22h0m-.4 -7.9h0m-1 14.2h0m0 -9.3h0m.5 -13.7h0m.5 6.6h0m.4 13.2h0m-1.8 -3.9h0m1.8 9.6h0m-1.5 20.9h0m1.2 -28.5h0m-1.2 2.8h0m.6 10.2h0m-.9 -13.1h0m.2 -12.6h0m.6 39.2h0m.9 -16.1h0m-.5 2.1h0m-.4 -9.2h0m-.2 1h0m0 -5.6h0m-.3 -3h0m.7 -.8h0m-.8 7.5h0m1.1 19.2h0m-.2 -16.4h0m-.5 -7.7h0m.7 -3.4h0m.1 31.8h0m-.3 -30.5h0m0 17.2h0m.5 -12.3h0m.1 4.8h0m1.4 -.7h0m-1.7 15.9h0m-.3 -21.1h0m0 20.8h0m0 -33.5h0m-.1 34.5h0m1.6 -15.8h0m-1.6 -2.2h0m.1 -4.2h0m.6 -12.9h0m-.8 42.3h0m-.6 -24.9h0m1.8 -15.9h0m-1 11.2h0m-.5 4.5h0m-.4 -8.5h0m-.6 8.2h0m1.9 -9.7h0m-1.1 -2.8h0m1.1 19.9h0m.6 -2.1h0m-.8 1.5h0m-1.9 -9.5h0m2.6 5h0m-.6 -2.5h0m0 7.9h0m-.7 -9.7h0m-.7 2.3h0m.7 4.4h0m-.2 -19h0m.5 -5.2h0m1.2 22.5h0m-1.2 8.8h0m.8 -11.8h0m-.8 8.1h0m.7 -12.1h0m-.6 3.6h0m-.2 13.7h0m.8 -12.8h0m-.1 -6.3h0" stroke="#4a5ad8" stroke-opacity="0.320" stroke-width="0.75" stroke-linecap="round"/>
<text x="313.55" y="85.20" text-anchor="middle" font-family="Liberation Sans" font-size="6.2" textLength="5.90" lengthAdjust="spacingAndGlyphs" fill="#111" stroke="#111" stroke-width="0.15">10</text>
<line x1="309.95" x2="317.15" y1="99.00" y2="99.00" stroke="#0b0ba6" stroke-width="2.2" stroke-linecap="round"/>
<line x1="323.85" x2="323.85" y1="96.40" y2="137.80" stroke="#c8c8c8" stroke-width="0.5"/>
<line x1="322.65" x2="325.05" y1="96.40" y2="96.40" stroke="#bbb" stroke-width="0.6"/>
<line x1="322.65" x2="325.05" y1="137.80" y2="137.80" stroke="#bbb" stroke-width="0.6"/>
<rect x="321.15" y="115.00" width="5.4" height="7.10" fill="none" stroke="#c2c2c2" stroke-width="0.5"/>
<line x1="321.15" x2="326.55" y1="118.55" y2="118.55" stroke="#c2c2c2" stroke-width="0.5"/>
<polygon points="323.6,96.4 323.6,99.9 323.6,103.3 323.5,106.8 323.2,110.2 322.6,113.7 322.2,117.1 322.2,120.6 322.7,124.0 323.2,127.5 323.5,130.9 323.6,134.4 323.6,137.8 324.1,137.8 324.1,134.4 324.2,130.9 324.5,127.5 325.0,124.0 325.5,120.6 325.5,117.1 325.1,113.7 324.5,110.2 324.2,106.8 324.1,103.3 324.1,99.9 324.1,96.4" fill="#c0404e" fill-opacity="0.202"/>
<path d="M323.4 108.5h0m0 10h0m-.1 6.7h0m.7 -11.9h0m-.1 18.9h0m0 -32.7h0m.4 15.8h0m.2 15.6h0m-.9 -8.6h0m-.3 -5.5h0m1.1 9.3h0m-.1 -4.8h0m-1.1 -6.9h0m.8 13.2h0m-.1 -2.8h0m-1 -3.3h0m1.2 5.9h0m-.4 -6.9h0m-.9 -2.2h0m1.1 -2.6h0m-.7 -1h0m.5 -1.9h0m0 -4h0m-.5 19.5h0m2.7 -11.8h0m-2.3 -11.1h0m.4 9.6h0m-.2 -9.4h0m-.2 7h0m-.2 25.2h0m.2 -30.5h0m-.5 7.6h0m.9 9.5h0m.2 -6.7h0m-.1 3.8h0m.5 -6.5h0m-.5 1.4h0m-.6 -10.8h0m.9 10.2h0m-.5 1h0m.2 1.2h0m-1.5 5.4h0m.3 4.2h0m.1 -15.2h0m2.4 .6h0m-1.8 8.5h0m.2 -9.6h0m1.8 4.2h0m0 .7h0m-.8 1h0m-.8 -16.6h0m-.8 26.4h0m.7 -4.3h0m-.3 -12.1h0m.9 4.7h0m-.2 -1.1h0m.2 8.7h0m-.5 4.2h0m-.5 -11.4h0m1.5 2.7h0m-2.2 -4.4h0m.1 6.4h0m.6 -.3h0m1 2h0m-.5 -9.9h0m-1.2 4.4h0m-.1 7.6h0m1.4 12.4h0m-.3 -16.5h0m.6 -18.6h0m-.7 27.2h0m.6 -6.2h0m-1 -3.8h0m.5 .1h0m.5 6.4h0m-.7 -3.9h0m.4 -16.1h0m-1.9 13.4h0m1.7 8.4h0m-.3 -10.4h0m-.4 .8h0m.9 7h0m0 -5.1h0m-1 -10.4h0m1.3 22.7h0m.5 -16.2h0m-.5 5.2h0m-1.3 -.2h0m.6 -24.2h0m.2 25.8h0m-.2 -2.3h0m-.1 13.2h0m-.5 -17.7h0m.1 2h0m1.9 2.1h0m-.8 1.8h0m-1.7 -2.7h0m1.4 10.2h0m.6 -17.5h0m-1.1 -6.9h0m1.4 16.7h0m-.8 -11.1h0m-.2 3.6h0m-.8 7.1h0m1.5 -3.5h0m-.8 -2.7h0m-.2 2.2h0m.5 16.6h0m.3 -27h0m.3 15.1h0m-1.6 -9.5h0m0 9.1h0m.6 4.1h0m.2 -8.2h0m-1.6 2.6h0m2.3 -6.6h0m-.8 2.3h0m1 1h0" stroke="#c0404e" stroke-opacity="0.294" stroke-width="0.75" stroke-linecap="round"/>
<text x="323.85" y="94.50" text-anchor="middle" font-family="Liberation Sans" font-size="6.2" textLength="5.90" lengthAdjust="spacingAndGlyphs" fill="#111" stroke="#111" stroke-width="0.15">10</text>
<line x1="320.25" x2="327.45" y1="113.40" y2="113.40" stroke="#8c0d0d" stroke-width="2.2" stroke-linecap="round"/>
<line x1="334.15" x2="334.15" y1="103.40" y2="144.30" stroke="#c8c8c8" stroke-width="0.5"/>
<line x1="332.95" x2="335.35" y1="103.40" y2="103.40" stroke="#bbb" stroke-width="0.6"/>
<line x1="332.95" x2="335.35" y1="144.30" y2="144.30" stroke="#bbb" stroke-width="0.6"/>
<rect x="331.45" y="119.40" width="5.4" height="11.00" fill="none" stroke="#c2c2c2" stroke-width="0.5"/>
<line x1="331.45" x2="336.85" y1="124.90" y2="124.90" stroke="#c2c2c2" stroke-width="0.5"/>
<polygon points="333.9,103.4 333.8,106.8 333.6,110.2 333.3,113.6 333.0,117.0 332.6,120.4 332.4,123.9 332.5,127.3 332.7,130.7 333.1,134.1 333.4,137.5 333.7,140.9 333.8,144.3 334.5,144.3 334.6,140.9 334.9,137.5 335.2,134.1 335.6,130.7 335.8,127.3 335.9,123.9 335.7,120.4 335.3,117.0 335.0,113.6 334.7,110.2 334.5,106.8 334.4,103.4" fill="#48b03a" fill-opacity="0.202"/>
<path d="M334.6 121.6h0m-.5 -5.9h0m.2 18.9h0m-1.2 -8.6h0m1.8 -7.9h0m-.6 9.9h0m.6 9.4h0m.2 -6h0m-1.4 7.4h0m-.4 -25.6h0m1.8 15.1h0m-.8 9.4h0m1 -12.7h0m-1.3 -17.3h0m.8 20.2h0m-.6 -5.4h0m-1 -8.3h0m1.2 -7.7h0m-1 17h0m.3 0h0m1.3 2h0m-1.5 -6.1h0m.6 -5.4h0m.1 19.3h0m-.2 -3.7h0m.8 -7.2h0m-.7 -6.5h0m.1 -7.4h0m-.2 -3.1h0m-.2 8.6h0m.2 2.4h0m.8 4.5h0m-.8 -4.5h0m0 -.7h0m2.9 8.6h0m-2.1 5.8h0m-1.2 -1.1h0m-.4 1h0m1.3 -13.3h0m-.8 21h0m.8 -19.3h0m-1 15.3h0m.4 -24.9h0m1 8.3h0m-.7 1.5h0m-.7 2.7h0m1 19h0m.3 -16.6h0m-2.6 5.9h0m1.9 -11.3h0m-.1 9h0m1.1 11.1h0m-1.5 -5.1h0m-.9 -2.9h0m1.2 -13.6h0m-.9 10.2h0m1.3 .8h0m-2 -9.5h0m1.7 10.3h0m.1 -5.9h0m-.2 20.3h0m1 -7.3h0m-.1 -15h0m-.8 -9h0m-.5 8.7h0m1.7 -5.1h0m-.8 -9.5h0m.5 21.8h0m-.1 -5.1h0m-1.3 -5.5h0m.9 -2.3h0m-.2 5.7h0m-.1 -10.1h0m.3 32.4h0m-.4 -15.9h0m.6 1.9h0m-1.4 -3.5h0m1.4 -8.4h0m-.6 13.2h0m0 -12.3h0m0 -12.7h0m-.4 10.7h0m1.4 5.1h0m-1.6 0h0m1.6 1.8h0m-2 0h0m1.4 5.7h0m.2 -1.3h0m.6 -11.7h0m-.5 9.7h0m-1.5 -4.5h0m-.1 8.9h0m.5 -13.8h0m.9 15.8h0m-.5 -12.7h0m0 20h0m.7 -20.6h0m-.1 7.9h0m-.5 -21.4h0m.8 34.6h0m.6 -19.6h0m.2 9h0m-1.3 -11.6h0m-.4 1.7h0m-.5 13.5h0m.2 -16.8h0m.3 -3.5h0m-.1 6.2h0m.3 -3.1h0m.1 -3.3h0m.2 1.2h0m-.3 15.3h0m0 -7.3h0m-.3 11.6h0m.6 -16.1h0m-.9 16.5h0m1.1 -9.1h0m-1 14h0m.5 -5.2h0m.1 -22.5h0m-.1 16.5h0m-.8 -8.1h0m.6 11.9h0m.1 -7h0m.2 -18.3h0m-.4 11.8h0m.5 9.8h0m-.5 10.6h0m.7 -22.9h0m-1.9 8.4h0m2.2 11.8h0m1.1 -11h0m-2.2 18.7h0m.8 -4.5h0m-1.1 -25.3h0m-.5 21.3h0m2 -13h0m-.7 4.9h0m-.3 -13.1h0m-1.1 12.6h0m.8 -8.8h0m-.5 7.8h0m.8 -1.5h0m1.4 -1.5h0m-1.4 -2.3h0m-1.5 8.9h0m1.4 -16.9h0m-.7 25.5h0m.4 -9.5h0" stroke="#48b03a" stroke-opacity="0.294" stroke-width="0.75" stroke-linecap="round"/>
<text x="334.15" y="101.40" text-anchor="middle" font-family="Liberation Sans" font-size="6.2" textLength="5.90" lengthAdjust="spacingAndGlyphs" fill="#111" stroke="#111" stroke-width="0.15">10</text>
<line x1="330.55" x2="337.75" y1="140.20" y2="140.20" stroke="#2f9e12" stroke-width="2.2" stroke-linecap="round"/>
<line x1="344.45" x2="344.45" y1="96.40" y2="141.20" stroke="#c8c8c8" stroke-width="0.5"/>
<line x1="343.25" x2="345.65" y1="96.40" y2="96.40" stroke="#bbb" stroke-width="0.6"/>
<line x1="343.25" x2="345.65" y1="141.20" y2="141.20" stroke="#bbb" stroke-width="0.6"/>
<rect x="341.75" y="113.40" width="5.4" height="11.90" fill="none" stroke="#c2c2c2" stroke-width="0.5"/>
<line x1="341.75" x2="347.15" y1="119.35" y2="119.35" stroke="#c2c2c2" stroke-width="0.5"/>
<polygon points="344.1,96.4 344.1,100.1 343.9,103.9 343.6,107.6 343.2,111.3 342.9,115.1 342.7,118.8 342.8,122.5 343.1,126.3 343.5,130.0 343.8,133.7 344.0,137.5 344.1,141.2 344.8,141.2 344.9,137.5 345.1,133.7 345.4,130.0 345.8,126.3 346.1,122.5 346.2,118.8 346.0,115.1 345.7,111.3 345.3,107.6 345.0,103.9 344.8,100.1 344.8,96.4" fill="#bcbc38" fill-opacity="0.165"/>
<path d="M345.3 116.5h0m-1.4 8.7h0m1.5 -4.2h0m-.2 -10h0m-2.8 10h0m2.5 -8h0m.1 8.7h0m-.7 -10.9h0m-.3 19h0m.5 7.5h0m-.8 -6.1h0m.1 -13.4h0m.4 6.2h0m.5 -.4h0m-.1 .9h0m-.3 -8.1h0m1.1 5.1h0m-1.1 9.2h0m-.5 .7h0m1.4 -10.3h0m-1.1 12.9h0m1.6 -21.2h0m-1 -14.7h0m-.2 19.6h0m-.2 -21h0m.4 20.3h0m.6 -5.8h0m-1 24.7h0m-.3 -.3h0m.4 -21.6h0m.6 6.4h0m.5 -7.8h0m-1.4 8.5h0m-.1 -2h0m-.6 -4.6h0m1.4 12.7h0m-.1 -30.1h0m-.5 8.9h0m.3 3.4h0m-.3 -9.7h0m.2 19.2h0m.6 6.4h0m-.9 4h0m.3 -11.1h0m.7 6.5h0m-.9 1.6h0m-.3 -2h0m-.7 2.7h0m-.3 -11.9h0m1.7 -15.5h0m-.6 27.6h0m-.1 5.1h0m.1 7h0m-.2 -26.3h0m.8 12.4h0m.2 8.9h0m-1.2 -18.9h0m.8 3.4h0m0 6.4h0m.3 .1h0m-.1 -27.4h0m-1.1 10h0m-.7 5.2h0m1.5 12.9h0m.1 -10.5h0m.3 -7.9h0m.1 19.2h0m-.5 5.5h0m.1 -.6h0m-.6 -15.3h0m1.7 -3.6h0m-.6 10.9h0m-.4 -1.7h0m.7 9.7h0m-2.3 -12.4h0m.1 -7.1h0m1.8 22.8h0m-.8 -17.8h0m1.3 10.1h0m-.9 6.1h0m-.3 -11.6h0m-1 1h0m1.6 5.8h0m-.7 -16.2h0m.3 -4.5h0m.1 1.1h0m1 15.9h0m-1.5 -21.6h0m1.1 36.9h0m-.1 -30.2h0m.2 12.1h0m-.9 -2.1h0m.1 -5.3h0m1.3 8h0m-.8 -24.4h0m-.6 35.9h0m0 -34.2h0m.1 25.3h0m.4 4.9h0m.5 -9.7h0m-.7 9.2h0m.5 -.4h0m-.7 -18.9h0m0 20.9h0m-.3 -20.6h0m.3 9.6h0m.8 9.5h0m-.6 -1.2h0m-.1 -20.9h0m.2 1.5h0m-.7 17.9h0m.9 -.2h0m-.9 -2.9h0m1.6 3.5h0m-1.6 -8.3h0m-.1 -18.9h0m1.2 2.9h0m.1 5.1h0m-1 23.6h0m.7 4.6h0m-.1 -5.8h0m-.1 -3.8h0m-.5 .1h0m-.2 -7h0m.5 2.9h0m.2 7.3h0m-.2 -20.6h0m.7 23.3h0m0 -16.2h0m-.2 4.9h0m1.5 -2.8h0m-1.4 14h0m-.5 -28.3h0m.4 17.3h0m.8 .3h0m-.9 -10.2h0m-1.5 6.5h0m1.3 11.8h0m-1 -18.7h0m1.3 19.3h0m-1 -10.9h0m2.1 3.6h0m-.7 3.8h0m-.7 -14.6h0m-.3 15.9h0m-.6 -14.6h0m1.4 -5.1h0m-1.2 -5.5h0m.4 22.1h0m-.8 -4.9h0m.8 -10h0m.5 3.8h0m-2.1 4.6h0m1.4 2.9h0m-1.1 -3.1h0m2.7 11.6h0m-1.8 -15.7h0m.3 -3.5h0m.3 14.9h0m-.6 -23.7h0" stroke="#bcbc38" stroke-opacity="0.240" stroke-width="0.75" stroke-linecap="round"/>
<text x="344.45" y="93.90" text-anchor="middle" font-family="Liberation Sans" font-size="6.2" fill="#111" stroke="#111" stroke-width="0.15">5</text>
<line x1="340.85" x2="348.05" y1="137.80" y2="137.80" stroke="#a3a30c" stroke-width="2.2" stroke-linecap="round"/>
<line x1="365.00" x2="365.00" y1="93.40" y2="112.90" stroke="#c8c8c8" stroke-width="0.5"/>
<line x1="363.80" x2="366.20" y1="93.40" y2="93.40" stroke="#bbb" stroke-width="0.6"/>
<line x1="363.80" x2="366.20" y1="112.90" y2="112.90" stroke="#bbb" stroke-width="0.6"/>
<rect x="362.30" y="99.90" width="5.4" height="7.60" fill="none" stroke="#c2c2c2" stroke-width="0.5"/>
<line x1="362.30" x2="367.70" y1="103.70" y2="103.70" stroke="#c2c2c2" stroke-width="0.5"/>
<polygon points="364.5,93.4 364.3,95.0 364.1,96.7 363.8,98.3 363.6,99.9 363.4,101.5 363.3,103.2 363.3,104.8 363.4,106.4 363.6,108.0 363.9,109.7 364.1,111.3 364.4,112.9 365.6,112.9 365.9,111.3 366.1,109.7 366.4,108.0 366.6,106.4 366.7,104.8 366.7,103.2 366.6,101.5 366.4,99.9 366.2,98.3 365.9,96.7 365.7,95.0 365.5,93.4" fill="#4a5ad8" fill-opacity="0.220"/>
<path d="M364.6 104.7h0m0 -3.1h0m.4 -6.6h0m.9 10.9h0m-.9 -10.8h0m-.3 7.7h0m-.5 .4h0m.1 -9.3h0m2.3 9.2h0m-1.5 -7.7h0m-1.2 11.4h0m1.7 -2.5h0m-.6 -2.6h0m.4 1.9h0m-.4 -8h0m-.1 1.3h0m.7 13.3h0m-.2 -1.1h0m-.4 -3.6h0m.3 4.6h0m.3 -1.5h0m.5 -.4h0m-1.1 -5.8h0m-.6 7.3h0m-1.1 -1h0m.9 2.9h0m.8 -3.8h0m-.5 -5h0m.5 4.6h0m.8 -9.2h0m-1.1 7.3h0m-.4 6.4h0m-.3 -9.8h0m1.1 -8h0m-.9 2.2h0m.7 -.2h0m1 10.7h0m-.2 -8.5h0m-.3 -.1h0m-.1 9.6h0m-.7 .2h0m1.8 -3.6h0m-1.8 -7.9h0m-.2 8.5h0m1.3 -4.4h0m1.3 1.1h0m-2.5 -1.7h0m.3 2.9h0m-.4 8.5h0m1.1 -13.8h0m.3 10.7h0m-.7 -6.4h0m.5 2.3h0m-.7 .3h0m-.3 -6.5h0m.4 10.9h0m1.2 -14.4h0m-2.1 15h0m-.7 -6.5h0m1.6 .7h0m-2 .9h0m2.6 -3.3h0m-.1 9.8h0m.6 -1.7h0m-.2 -3.4h0m-1 -9.9h0m.1 -2.3h0m.4 1.6h0m-1.2 -1h0m1.2 9.9h0m-1.5 -1.3h0m1.4 .2h0m-2.1 4.9h0m2.1 -10.7h0m.7 9.2h0m-1.1 -12.5h0m1.1 6.3h0m-1.2 -6h0m.2 7.4h0m1 4.7h0m.5 -4.7h0m0 .3h0m-.4 9.3h0m-.3 -13.8h0" stroke="#4a5ad8" stroke-opacity="0.320" stroke-width="0.75" stroke-linecap="round"/>
<text x="365.00" y="92.00" text-anchor="middle" font-family="Liberation Sans" font-size="6.2" textLength="5.90" lengthAdjust="spacingAndGlyphs" fill="#111" stroke="#111" stroke-width="0.15">54</text>
<line x1="361.40" x2="368.60" y1="116.70" y2="116.70" stroke="#0b0ba6" stroke-width="2.2" stroke-linecap="round"/>
<line x1="375.30" x2="375.30" y1="94.30" y2="111.30" stroke="#c8c8c8" stroke-width="0.5"/>
<line x1="374.10" x2="376.50" y1="94.30" y2="94.30" stroke="#bbb" stroke-width="0.6"/>
<line x1="374.10" x2="376.50" y1="111.30" y2="111.30" stroke="#bbb" stroke-width="0.6"/>
<rect x="372.60" y="100.40" width="5.4" height="6.50" fill="none" stroke="#c2c2c2" stroke-width="0.5"/>
<line x1="372.60" x2="378.00" y1="103.65" y2="103.65" stroke="#c2c2c2" stroke-width="0.5"/>
<polygon points="374.8,94.3 374.7,95.7 374.4,97.1 374.2,98.5 373.9,100.0 373.7,101.4 373.6,102.8 373.6,104.2 373.7,105.6 373.9,107.0 374.1,108.5 374.4,109.9 374.6,111.3 376.0,111.3 376.2,109.9 376.5,108.5 376.7,107.0 376.9,105.6 377.0,104.2 377.0,102.8 376.9,101.4 376.7,100.0 376.4,98.5 376.2,97.1 375.9,95.7 375.8,94.3" fill="#c0404e" fill-opacity="0.202"/>
<path d="M374.9 104.4h0m.8 6.2h0m.2 -2.6h0m1.1 -5.1h0m-3.3 .6h0m1.8 -4.7h0m-1.9 6.6h0m1.1 -2.6h0m-.6 -2.5h0m1.3 3.1h0m.3 -9h0m-1.1 6.5h0m.6 6.9h0m-.2 -2.5h0m.4 -8.9h0m1 6.5h0m-1 1.5h0m1.3 5.1h0m-1.2 -14h0m-.2 2.2h0m1.2 7.5h0m-1.5 -8.9h0m1.4 3.4h0m-1.7 7.4h0m.5 -11.8h0m-.1 2.3h0m1 2.5h0m-1.5 .7h0m.8 -6.3h0m.7 8.1h0m.3 8.6h0m-2 -8.2h0m1.4 -4.1h0m-.6 11.1h0m.2 -2.8h0m-.5 -5.3h0m1.5 .9h0m-1.2 -7.1h0m.5 14h0m-2.4 -5.4h0m1.5 1.4h0m-.5 -1.7h0m1.2 1.2h0m.2 5.8h0m-.2 -11.9h0m-.5 .4h0m.5 11.5h0m-.8 -4.9h0m.8 -1.1h0m.3 -2.6h0m-1.2 3.9h0m.9 4.4h0m-.5 -9.3h0m1.5 .2h0m-.6 -4.6h0m-.7 -1.6h0m0 12.4h0m.1 -3h0m1.1 -5.3h0m-.6 1h0m.6 .3h0m-.6 1.5h0m.1 -2.5h0m-2.5 6.5h0m2.5 3.6h0m.4 -8h0m1.7 2h0m-2.6 -.2h0m.2 -.4h0m-.5 -6.7h0m.2 10.6h0" stroke="#c0404e" stroke-opacity="0.294" stroke-width="0.75" stroke-linecap="round"/>
<text x="375.30" y="92.60" text-anchor="middle" font-family="Liberation Sans" font-size="6.2" textLength="5.90" lengthAdjust="spacingAndGlyphs" fill="#111" stroke="#111" stroke-width="0.15">54</text>
<line x1="371.70" x2="378.90" y1="124.20" y2="124.20" stroke="#8c0d0d" stroke-width="2.2" stroke-linecap="round"/>
<line x1="385.60" x2="385.60" y1="97.50" y2="112.30" stroke="#c8c8c8" stroke-width="0.5"/>
<line x1="384.40" x2="386.80" y1="97.50" y2="97.50" stroke="#bbb" stroke-width="0.6"/>
<line x1="384.40" x2="386.80" y1="112.30" y2="112.30" stroke="#bbb" stroke-width="0.6"/>
<rect x="382.90" y="102.60" width="5.4" height="5.90" fill="none" stroke="#c2c2c2" stroke-width="0.5"/>
<line x1="382.90" x2="388.30" y1="105.55" y2="105.55" stroke="#c2c2c2" stroke-width="0.5"/>
<polygon points="385.1,97.5 384.9,98.7 384.7,100.0 384.4,101.2 384.2,102.4 384.0,103.7 383.9,104.9 383.9,106.1 384.0,107.4 384.2,108.6 384.4,109.8 384.7,111.1 384.9,112.3 386.3,112.3 386.5,111.1 386.8,109.8 387.0,108.6 387.2,107.4 387.3,106.1 387.3,104.9 387.2,103.7 387.0,102.4 386.8,101.2 386.5,100.0 386.3,98.7 386.1,97.5" fill="#48b03a" fill-opacity="0.202"/>
<path d="M385.3 98.3h0m.4 2.3h0m-.8 7.8h0m.5 3.7h0m-.3 -.7h0m0 -8.3h0m1.3 6.2h0m-.7 -10.9h0m1.3 7.6h0m-1.4 -.6h0m.8 -4.4h0m-1.8 -.3h0m.9 .7h0m1.7 7.4h0m-1.5 -4.7h0m-1.1 -2.8h0m.7 1.5h0m-.4 2h0m.7 4.3h0m-.5 .7h0m-.7 .2h0m1.1 -.1h0m-.3 -.1h0m0 -.8h0m.8 -10.6h0m-1.3 10.8h0m1 -5.9h0m.5 2.9h0m-1.7 .8h0m1.8 .6h0m-.3 -2h0m-.5 5h0m0 -2h0m.3 -2.9h0m-1.1 -2.3h0m1.5 -5.8h0m.9 6.8h0m-.7 -4h0m-2.2 5.5h0m1.7 -4h0m0 .5h0m-2.3 3.6h0m1.8 -2.3h0m-.4 5.9h0m1.3 1.1h0m-.5 -11.2h0m-.5 5.3h0m.7 2.9h0m.1 1.6h0m-.2 1.7h0m-1.1 -4.1h0m0 -4h0m.8 -.9h0m-1.4 -1.3h0m1.7 .8h0m.5 -.7h0m-.7 1.2h0m-.5 3.9h0m1.4 2.1h0m-.4 -1.9h0m.6 -4.9h0m-1.8 8h0m-1.1 -.7h0m1.3 -.3h0m.7 -6.2h0m-.1 9.9h0" stroke="#48b03a" stroke-opacity="0.294" stroke-width="0.75" stroke-linecap="round"/>
<text x="385.60" y="96.00" text-anchor="middle" font-family="Liberation Sans" font-size="6.2" textLength="5.90" lengthAdjust="spacingAndGlyphs" fill="#111" stroke="#111" stroke-width="0.15">54</text>
<line x1="382.00" x2="389.20" y1="131.00" y2="131.00" stroke="#2f9e12" stroke-width="2.2" stroke-linecap="round"/>
<line x1="395.90" x2="395.90" y1="94.50" y2="110.70" stroke="#c8c8c8" stroke-width="0.5"/>
<line x1="394.70" x2="397.10" y1="94.50" y2="94.50" stroke="#bbb" stroke-width="0.6"/>
<line x1="394.70" x2="397.10" y1="110.70" y2="110.70" stroke="#bbb" stroke-width="0.6"/>
<rect x="393.20" y="100.40" width="5.4" height="6.00" fill="none" stroke="#c2c2c2" stroke-width="0.5"/>
<line x1="393.20" x2="398.60" y1="103.40" y2="103.40" stroke="#c2c2c2" stroke-width="0.5"/>
<polygon points="395.4,94.5 395.3,95.8 395.1,97.2 394.8,98.5 394.5,99.9 394.3,101.2 394.2,102.6 394.2,104.0 394.3,105.3 394.5,106.7 394.8,108.0 395.0,109.4 395.3,110.7 396.5,110.7 396.8,109.4 397.0,108.0 397.3,106.7 397.5,105.3 397.6,104.0 397.6,102.6 397.5,101.2 397.3,99.9 397.0,98.5 396.7,97.2 396.5,95.8 396.4,94.5" fill="#bcbc38" fill-opacity="0.165"/>
<path d="M394.7 105.6h0m1.2 -6.8h0m.8 10.6h0m-1 -8.7h0m.3 4.1h0m-.4 -3.6h0m-.5 0h0m.5 7.4h0m-.7 -.2h0m1.2 -2.5h0m-1.1 -5.6h0m1.2 1.5h0m.2 -2.9h0m-1.2 7.6h0m.6 -1.8h0m1 2h0m-.8 -.9h0m-.3 -7.1h0m.3 10.1h0m.1 -4.1h0m.1 -3.5h0m.7 5.9h0m.6 -7.4h0m-2.2 8.7h0m.8 -11h0m-.4 11.8h0m-.5 -.9h0m1.1 -7.6h0m-.3 5.6h0m-.4 .6h0m.2 3.2h0m.5 -3.4h0m-.6 1.1h0m1.5 -8.9h0m-1.1 7.3h0m.1 -8.6h0m-1.1 5.9h0m.2 6.1h0m1.5 -4.5h0m-2.1 -4.6h0m1.4 4.3h0m.4 5.4h0m-.6 .4h0m.8 -5.3h0m-1.6 4.1h0m.9 .5h0m-1 -11.3h0m1.1 6h0m-.6 .7h0m1.3 1.2h0m-1.1 .2h0m1.3 -3.5h0m.1 -4.3h0m-1.8 4.4h0m1.8 1.3h0m-1.8 -3.8h0m-.6 6.4h0m-1.1 -5.5h0m1.8 2.6h0m.4 .2h0m-.4 -2.7h0m1.4 3.8h0m.6 -.5h0m-2.7 2.4h0m1.4 -1.7h0m.5 -7.2h0m0 7.3h0m-.6 -4.5h0m.1 -3.4h0m-.5 4.6h0m-.7 -1.5h0" stroke="#bcbc38" stroke-opacity="0.240" stroke-width="0.75" stroke-linecap="round"/>
<text x="395.90" y="92.80" text-anchor="middle" font-family="Liberation Sans" font-size="6.2" textLength="5.90" lengthAdjust="spacingAndGlyphs" fill="#111" stroke="#111" stroke-width="0.15">51</text>
<line x1="392.30" x2="399.50" y1="137.80" y2="137.80" stroke="#a3a30c" stroke-width="2.2" stroke-linecap="round"/>
<line x1="416.45" x2="416.45" y1="64.50" y2="101.50" stroke="#c8c8c8" stroke-width="0.5"/>
<line x1="415.25" x2="417.65" y1="64.50" y2="64.50" stroke="#bbb" stroke-width="0.6"/>
<line x1="415.25" x2="417.65" y1="101.50" y2="101.50" stroke="#bbb" stroke-width="0.6"/>
<rect x="413.75" y="78.10" width="5.4" height="10.40" fill="none" stroke="#c2c2c2" stroke-width="0.5"/>
<line x1="413.75" x2="419.15" y1="83.30" y2="83.30" stroke="#c2c2c2" stroke-width="0.5"/>
<polygon points="416.1,64.5 416.0,67.6 415.8,70.7 415.5,73.8 415.1,76.8 414.8,79.9 414.7,83.0 414.8,86.1 415.1,89.2 415.4,92.2 415.8,95.3 416.0,98.4 416.1,101.5 416.8,101.5 416.9,98.4 417.1,95.3 417.5,92.2 417.8,89.2 418.1,86.1 418.2,83.0 418.1,79.9 417.8,76.8 417.4,73.8 417.1,70.7 416.9,67.6 416.8,64.5" fill="#4a5ad8" fill-opacity="0.220"/>
<path d="M414.9 80.1h0m1.6 5.3h0m.3 -18.9h0m-.4 8.7h0m.6 19.7h0m.3 -13.8h0m-.4 14.8h0m-.5 -24.1h0m-1.3 14.3h0m3.1 -4.5h0m-1 9.3h0m-.9 -5.5h0m.1 5.8h0m-.2 -11.1h0m1 -5.4h0m-.4 15.5h0m.1 -19.2h0m-.6 -4.5h0m.3 8.8h0m-.7 5.1h0m.3 14.7h0m.4 -4.7h0m-2.2 -7.6h0m.8 -4.7h0m.9 10.7h0m2 -2.8h0m-1.9 -7.8h0m-.2 -6.8h0m.1 16.2h0m.7 -1.4h0m-.1 6.7h0m.3 -20.5h0m-.9 9.6h0m.4 5.8h0m-.4 -18.3h0m1.4 9.5h0m-1.5 21.2h0m.4 -3.9h0m.9 -17.4h0m-.4 -10.7h0m-1 7.8h0m.4 11.5h0m.3 -12.3h0m.4 5.8h0m-.7 -1.5h0m.2 11.9h0m0 -7h0m-.7 8.3h0m1.1 -16h0m.3 5h0m.1 2.3h0m-.1 -.8h0m-.7 2.6h0m-.3 5.1h0m.4 -24h0m-.6 1.1h0m-.7 12.1h0m1.5 -8.2h0m-.2 14.8h0m-.7 -7.8h0m.8 14.9h0m-.9 -12.9h0m.7 -13.3h0m-.6 12.1h0m.7 14h0m.3 -2.8h0m.9 -11.1h0m-1.5 9.1h0m.6 -14.3h0m-.3 6.9h0m-1.5 12.9h0m.6 -15.7h0m1 10.1h0m-.4 -8.7h0m.1 10.7h0m-.2 -2.9h0m.1 -19.5h0m.9 13.5h0m-1 4.3h0m-.2 -7.1h0m.7 -10.9h0m.5 14.1h0m-.4 -1.7h0m-.5 1.3h0m-.2 -.1h0m-.1 5.2h0m1.2 -9.2h0m.3 -4.3h0m-1.1 16.8h0m.8 -17.3h0m-1.2 8.3h0m2.3 -.1h0m-2.1 11.6h0m0 -26.4h0m-.6 21.4h0m1.7 4.8h0m-1.4 -13.2h0m-.6 4.6h0m3.1 5.6h0m-3.2 .7h0m2.4 -1h0m-1.2 -8.4h0m-.4 14.3h0m.2 -29.9h0m1.4 18h0m-1.7 -12.9h0m.6 13.8h0m-.2 -2.4h0m2 2.2h0m-2.3 -.6h0m.6 7.8h0m.1 3h0m.3 -11.2h0m.9 4.1h0m-1.5 -1.2h0m-.6 -20.5h0m-.1 24.4h0m1.1 -19.3h0m.3 7.4h0m.4 9.8h0m-.3 1h0m-.7 -19.3h0m-.9 10h0m.9 15.9h0m-.5 -19.6h0m1.1 -7.1h0m-.8 2.7h0m-.2 7.2h0m.8 -6.5h0m-.6 8.6h0m-.2 -3.8h0m.7 -6.9h0m-.8 20.6h0m.6 1.3h0m0 -6.9h0m.2 9.1h0" stroke="#4a5ad8" stroke-opacity="0.320" stroke-width="0.75" stroke-linecap="round"/>
<text x="416.45" y="62.70" text-anchor="middle" font-family="Liberation Sans" font-size="6.2" textLength="5.90" lengthAdjust="spacingAndGlyphs" fill="#111" stroke="#111" stroke-width="0.15">70</text>
<line x1="412.85" x2="420.05" y1="124.50" y2="124.50" stroke="#0b0ba6" stroke-width="2.2" stroke-linecap="round"/>
<line x1="426.75" x2="426.75" y1="60.30" y2="97.60" stroke="#c8c8c8" stroke-width="0.5"/>
<line x1="425.55" x2="427.95" y1="60.30" y2="60.30" stroke="#bbb" stroke-width="0.6"/>
<line x1="425.55" x2="427.95" y1="97.60" y2="97.60" stroke="#bbb" stroke-width="0.6"/>
<rect x="424.05" y="74.20" width="5.4" height="9.80" fill="none" stroke="#c2c2c2" stroke-width="0.5"/>
<line x1="424.05" x2="429.45" y1="79.10" y2="79.10" stroke="#c2c2c2" stroke-width="0.5"/>
<polygon points="426.4,60.3 426.4,63.4 426.2,66.5 425.9,69.6 425.5,72.7 425.1,75.8 425.0,78.9 425.1,82.1 425.4,85.2 425.8,88.3 426.1,91.4 426.3,94.5 426.4,97.6 427.1,97.6 427.2,94.5 427.4,91.4 427.7,88.3 428.1,85.2 428.4,82.1 428.5,78.9 428.4,75.8 428.0,72.7 427.6,69.6 427.3,66.5 427.1,63.4 427.1,60.3" fill="#c0404e" fill-opacity="0.202"/>
<path d="M426.4 91.3h0m-.5 -8.2h0m1.1 6.5h0m-.9 -16.4h0m.3 12.1h0m.1 5.5h0m.1 6.3h0m-.7 -16.4h0m.9 -11.1h0m-.2 -1.4h0m.1 24.3h0m-.5 -19.1h0m.6 22h0m.4 -29.2h0m-.3 14.5h0m-.3 16.4h0m.8 -23.2h0m-.4 -1.8h0m-.4 -8h0m.6 20.9h0m-1.2 -3h0m.3 1.5h0m.4 1.8h0m-.5 -10.1h0m.9 -8.2h0m-1.4 10.7h0m1.3 -1.8h0m-.1 2.6h0m-1.5 1.4h0m2.3 .6h0m-.5 6.8h0m-.8 5h0m1 -17.5h0m-1.1 2.7h0m-2.1 2h0m1.8 -.8h0m.6 18.4h0m0 -21.2h0m-.1 8.1h0m.2 -14.2h0m.1 3.5h0m-.3 6.5h0m1.2 -3.9h0m-.7 -9h0m-1.4 14.4h0m1.9 -7.3h0m0 11.2h0m.5 -5.2h0m-1.4 8.1h0m.4 -2.9h0m-.8 5.4h0m1.3 -4.9h0m-.9 8.9h0m.3 -25.7h0m.2 15.3h0m-.2 -23.2h0m.3 8.5h0m-.4 4.6h0m-.6 9.6h0m.3 1.8h0m.8 -1.7h0m-.1 7.3h0m-.3 -26.7h0m-.9 15.9h0m1 -3.2h0m.3 11.8h0m-.3 -.2h0m-.5 -21.3h0m0 13.1h0m-.1 -8h0m.4 10.8h0m.2 -11.9h0m.3 4.7h0m-.2 -14.6h0m0 25h0m.1 -14h0m-.2 -1.6h0m0 20.5h0m.1 -14.2h0m.5 -3.5h0m-.7 6.6h0m.4 4.3h0m.7 -8.6h0m-1.5 -2.4h0m-.8 3.2h0m2.4 2.5h0m-1.8 -5.9h0m-.2 3.1h0m.4 -.4h0m-.2 2.4h0m-.5 2.7h0m.3 1.8h0m1.3 -18.4h0m-.4 2.5h0m.1 3.9h0m0 15.1h0m0 -21.8h0m-1.3 12.4h0m1.2 -7.7h0m-.8 9.3h0m1.2 3.1h0m-.2 -12.8h0m-.2 -6.2h0m-1.4 24.5h0m1.8 -17.7h0m-1.3 12.5h0m1 -10.8h0m-.6 2.8h0m.1 -3.9h0m-.1 13.8h0m-.3 -11h0m.5 2.8h0m.8 3.4h0m-.7 -13h0m.6 6h0m-.5 -8.1h0m1.2 14h0m-1.5 -4.3h0m.1 20.6h0m.9 -25.7h0m-1.9 12h0m.6 -3.8h0m.9 4h0m-.7 9.7h0m.3 -11.2h0m-1.3 8.7h0m1.8 -16.9h0m.7 5.3h0m-1.3 -4.3h0m0 10.7h0m-.2 1.3h0m.7 -9.8h0m-.4 14.3h0" stroke="#c0404e" stroke-opacity="0.294" stroke-width="0.75" stroke-linecap="round"/>
<text x="426.75" y="58.80" text-anchor="middle" font-family="Liberation Sans" font-size="6.2" textLength="5.90" lengthAdjust="spacingAndGlyphs" fill="#111" stroke="#111" stroke-width="0.15">71</text>
<line x1="423.15" x2="430.35" y1="105.80" y2="105.80" stroke="#8c0d0d" stroke-width="2.2" stroke-linecap="round"/>
<line x1="437.05" x2="437.05" y1="81.40" y2="109.30" stroke="#c8c8c8" stroke-width="0.5"/>
<line x1="435.85" x2="438.25" y1="81.40" y2="81.40" stroke="#bbb" stroke-width="0.6"/>
<line x1="435.85" x2="438.25" y1="109.30" y2="109.30" stroke="#bbb" stroke-width="0.6"/>
<rect x="434.35" y="89.20" width="5.4" height="9.00" fill="none" stroke="#c2c2c2" stroke-width="0.5"/>
<line x1="434.35" x2="439.75" y1="93.70" y2="93.70" stroke="#c2c2c2" stroke-width="0.5"/>
<polygon points="436.5,81.4 436.3,83.7 436.0,86.1 435.7,88.4 435.4,90.7 435.3,93.0 435.3,95.3 435.5,97.7 435.8,100.0 436.2,102.3 436.4,104.6 436.6,107.0 436.7,109.3 437.4,109.3 437.5,107.0 437.7,104.6 437.9,102.3 438.3,100.0 438.6,97.7 438.8,95.3 438.8,93.0 438.7,90.7 438.4,88.4 438.1,86.1 437.8,83.7 437.6,81.4" fill="#48b03a" fill-opacity="0.202"/>
<path d="M437.0 92.3h0m-.5 -4.7h0m-.6 15.5h0m1.5 4.3h0m-1.6 -14.8h0m1.4 7.1h0m.4 1.2h0m-1.9 -7.5h0m.6 9.1h0m.6 -12h0m-.4 -2.1h0m1.3 12h0m-.1 -14.6h0m-.3 8.2h0m.2 2.3h0m0 -7.4h0m-1.3 7.2h0m1.1 -4.4h0m-.6 -5.5h0m.8 10.9h0m-1.5 -.5h0m1 1.5h0m-1 -11.7h0m1.6 12.3h0m-.7 .8h0m1.9 -12.2h0m-1.9 10.5h0m-.3 11.3h0m.8 -11.6h0m-.4 -3.7h0m-.7 -10.4h0m2.4 8.7h0m-1.6 -.5h0m1 4h0m-1.4 -2.1h0m.2 6.9h0m-.3 -16.7h0m1 18h0m-1.1 -11.5h0m0 -3.1h0m-.4 2.8h0m.7 15.9h0m.6 -13.5h0m-.1 -4.9h0m-.3 -2.3h0m-1 2.9h0m1.2 5.7h0m-1 -3.1h0m.6 1.5h0m-.5 .9h0m-.2 2.4h0m1.2 -10.7h0m-.2 11.7h0m-1 -4.1h0m2.4 5.3h0m-1.2 .8h0m-.3 -6.2h0m-.1 4h0m1.3 -.8h0m-1.5 10.4h0m.5 -6.7h0m0 -9.4h0m-1 10.6h0m.3 -4.1h0m.2 7.5h0m-.5 -11.6h0m2.9 1.3h0m-2.4 13.3h0m-.8 -20.8h0m.6 18.2h0m1.2 -16.9h0m-.2 6.3h0m-2.1 2h0m.8 5.1h0m.8 -4h0m-.3 3.2h0m1.2 -10.3h0m-1.6 13.6h0m.7 -15.3h0m-.1 5.1h0m-1.2 .3h0m.9 -6.9h0m.8 16.8h0m-.3 -9.6h0m.7 14.9h0m-.6 -10.8h0m-.4 -14.6h0m0 7.9h0m1.6 1.1h0m-.2 -1.6h0m-2.3 6.2h0m2.2 2h0m-2.1 -5.8h0m.5 -3.7h0m1 19.2h0m-.6 -21.3h0m-.9 -2.8h0m.9 7.9h0m.3 1.2h0m0 7.8h0m-.3 -12h0m-.2 -6.6h0m-1.6 8.3h0m1.1 -5.9h0m.4 20.3h0" stroke="#48b03a" stroke-opacity="0.294" stroke-width="0.75" stroke-linecap="round"/>
<text x="437.05" y="75.30" text-anchor="middle" font-family="Liberation Sans" font-size="6.2" textLength="5.90" lengthAdjust="spacingAndGlyphs" fill="#111" stroke="#111" stroke-width="0.15">72</text>
<line x1="433.45" x2="440.65" y1="78.80" y2="78.80" stroke="#2f9e12" stroke-width="2.2" stroke-linecap="round"/>
<line x1="447.35" x2="447.35" y1="82.40" y2="118.40" stroke="#c8c8c8" stroke-width="0.5"/>
<line x1="446.15" x2="448.55" y1="82.40" y2="82.40" stroke="#bbb" stroke-width="0.6"/>
<line x1="446.15" x2="448.55" y1="118.40" y2="118.40" stroke="#bbb" stroke-width="0.6"/>
<rect x="444.65" y="96.30" width="5.4" height="8.40" fill="none" stroke="#c2c2c2" stroke-width="0.5"/>
<line x1="444.65" x2="450.05" y1="100.50" y2="100.50" stroke="#c2c2c2" stroke-width="0.5"/>
<polygon points="447.1,82.4 447.0,85.4 446.9,88.4 446.6,91.4 446.2,94.4 445.8,97.4 445.6,100.4 445.8,103.4 446.1,106.4 446.6,109.4 446.9,112.4 447.0,115.4 447.1,118.4 447.6,118.4 447.7,115.4 447.8,112.4 448.1,109.4 448.6,106.4 448.9,103.4 449.1,100.4 448.9,97.4 448.5,94.4 448.1,91.4 447.8,88.4 447.7,85.4 447.6,82.4" fill="#bcbc38" fill-opacity="0.165"/>
<path d="M447.8 108.1h0m-.4 4.4h0m.1 -16.1h0m-.5 15.3h0m.6 -7.4h0m.1 5.4h0m.4 -5.4h0m.6 -4.3h0m-1.8 -1.2h0m-.7 4.4h0m.6 -1.2h0m-.2 -.9h0m1.7 -4.1h0m-.7 7.3h0m-.7 -2.6h0m.2 13.6h0m0 -9h0m1 -6.5h0m-.9 -2.2h0m.6 1.9h0m-1.4 -1.2h0m.2 -.9h0m1.3 -7.3h0m-1.2 10.8h0m.7 3.8h0m.9 -12.3h0m-.8 4.9h0m1.7 4.2h0m-1.9 -9.7h0m-.3 9.8h0m1.4 3.3h0m-.6 6.3h0m-.2 -26.5h0m-.4 5.8h0m0 4.1h0m.1 10h0m.5 -8.6h0m-1.5 8h0m.8 10.3h0m.7 -20h0m-1.1 -1.6h0m1.7 14.5h0m-1.2 10.5h0m.1 -16.8h0m-.3 -15.3h0m-.6 14.9h0m1 -8.3h0m.3 19h0m-.3 -18.9h0m.2 -4.2h0m-.3 8.2h0m-.8 2.9h0m2 7.7h0m-.8 -3.2h0m-.6 -2.3h0m.1 7.1h0m-.1 -.7h0m2.1 -8.7h0m-2.4 1.4h0m.4 -1.3h0m.7 13.6h0m-1.3 -14h0m-1.5 -.1h0m2.2 .9h0m-.1 -4.6h0m0 15.4h0m1.3 -3.6h0m-1.8 1.6h0m1.1 -2.3h0m-.7 -8.1h0m0 .4h0m-1.3 2.1h0m2 6.4h0m.7 -1.8h0m-1.7 -1.9h0m1.6 -4.6h0m-1.4 5.6h0m.1 -2.1h0m1.3 0h0m-1.3 2.4h0m-.2 4.6h0m1.1 -15.7h0m-1.2 6.3h0m1.1 -14.6h0m.2 9h0m.3 -1.2h0m-1 10.4h0m.5 6.7h0m-.5 0h0m-.4 -2.9h0m.7 -3.1h0m-2.8 -4.4h0m2.5 -16.9h0m.4 20.5h0m-.4 -7.6h0m1.1 11.6h0m-.8 -.7h0m-.4 -5.6h0m.9 2.5h0m.2 -1h0m-1.1 -15.2h0m.6 16.8h0m-.3 -7.3h0m.3 -.6h0m.4 -3h0m-.9 8.4h0m.6 5.1h0m-1.6 .1h0m.8 3.4h0m0 -6.6h0m.5 5.5h0m.3 -13.4h0m-1 9.4h0m0 -4.5h0m1 -.1h0m-.8 -6.9h0m1.2 5.1h0m-1.1 2.4h0m.2 -13.4h0" stroke="#bcbc38" stroke-opacity="0.240" stroke-width="0.75" stroke-linecap="round"/>
<text x="447.35" y="80.50" text-anchor="middle" font-family="Liberation Sans" font-size="6.2" textLength="5.90" lengthAdjust="spacingAndGlyphs" fill="#111" stroke="#111" stroke-width="0.15">63</text>
<line x1="443.75" x2="450.95" y1="126.80" y2="126.80" stroke="#a3a30c" stroke-width="2.2" stroke-linecap="round"/>
<line x1="467.90" x2="467.90" y1="151.30" y2="170.50" stroke="#c8c8c8" stroke-width="0.5"/>
<line x1="466.70" x2="469.10" y1="151.30" y2="151.30" stroke="#bbb" stroke-width="0.6"/>
<line x1="466.70" x2="469.10" y1="170.50" y2="170.50" stroke="#bbb" stroke-width="0.6"/>
<rect x="465.20" y="157.50" width="5.4" height="7.10" fill="none" stroke="#c2c2c2" stroke-width="0.5"/>
<line x1="465.20" x2="470.60" y1="161.05" y2="161.05" stroke="#c2c2c2" stroke-width="0.5"/>
<polygon points="467.4,151.3 467.2,152.9 467.0,154.5 466.7,156.1 466.4,157.7 466.2,159.3 466.2,160.9 466.2,162.5 466.4,164.1 466.6,165.7 466.9,167.3 467.2,168.9 467.4,170.5 468.4,170.5 468.6,168.9 468.9,167.3 469.2,165.7 469.4,164.1 469.6,162.5 469.6,160.9 469.6,159.3 469.4,157.7 469.1,156.1 468.8,154.5 468.6,152.9 468.4,151.3" fill="#4a5ad8" fill-opacity="0.220"/>
<path d="M467.1 163.0h0m1.9 -6.8h0m-.7 12.1h0m-.3 -10.6h0m-1 -1.4h0m1.1 10.2h0m-1.3 -4.6h0m2.5 -7h0m-1.9 11.9h0m1.8 -6.5h0m-2.1 6.6h0m1.7 -2.2h0m-.9 -7.9h0m-.8 0h0m1.6 8.4h0m.1 -8.1h0m-.8 -1.7h0m.4 5.9h0m-1.7 -4.5h0m1.6 -3h0m.9 9.5h0m-1.8 1.9h0m.7 -6.6h0m-.6 -6.9h0m.8 11.9h0m2 -4.2h0m-1.9 9.3h0m-1.4 -14.3h0m1.4 6h0m-.6 5.4h0m-.4 -2.3h0m1 -8.9h0m-1.4 2.5h0m.3 12.3h0m-.3 -4.4h0m1.8 -1.7h0m-.5 6.2h0m-.1 -7.3h0m-.6 -7.1h0m.2 8.6h0m1.5 -4h0m-2 -.4h0m.5 -1.7h0m-.1 5.9h0m1.2 2.1h0m-.5 -1.3h0m-.2 3.6h0m0 -6.7h0m-1 -.2h0m1 -4.3h0m-.5 -3.8h0m0 16.1h0m.5 -7.1h0m-.4 3.7h0m.1 -5.9h0m-.1 6.6h0m.2 .5h0m.7 -11.5h0m.4 3.6h0m-.3 1.2h0m-.4 -3.6h0m-.5 -4.9h0m.3 15.7h0m-1.2 -5h0m1.2 6.5h0m-.1 -8.4h0m-.9 -2.6h0m2.1 2.9h0m-1 -7.1h0m-.2 .4h0m.3 10.2h0m-1.1 -1.8h0m.6 3.5h0m1.5 -5.5h0m-1.2 -6.8h0m-1 4.7h0m1.2 8.8h0m.2 -2.7h0m-1.3 3h0m.5 -9.4h0m.3 5.2h0m.8 -3.9h0" stroke="#4a5ad8" stroke-opacity="0.320" stroke-width="0.75" stroke-linecap="round"/>
<text x="467.90" y="149.60" text-anchor="middle" font-family="Liberation Sans" font-size="6.2" fill="#111" stroke="#111" stroke-width="0.15">6</text>
<line x1="464.30" x2="471.50" y1="119.40" y2="119.40" stroke="#0b0ba6" stroke-width="2.2" stroke-linecap="round"/>
<line x1="478.20" x2="478.20" y1="148.60" y2="169.60" stroke="#c8c8c8" stroke-width="0.5"/>
<line x1="477.00" x2="479.40" y1="148.60" y2="148.60" stroke="#bbb" stroke-width="0.6"/>
<line x1="477.00" x2="479.40" y1="169.60" y2="169.60" stroke="#bbb" stroke-width="0.6"/>
<rect x="475.50" y="155.50" width="5.4" height="7.10" fill="none" stroke="#c2c2c2" stroke-width="0.5"/>
<line x1="475.50" x2="480.90" y1="159.05" y2="159.05" stroke="#c2c2c2" stroke-width="0.5"/>
<polygon points="477.7,148.6 477.6,150.3 477.3,152.1 477.0,153.8 476.7,155.6 476.5,157.3 476.5,159.1 476.5,160.8 476.8,162.6 477.0,164.3 477.3,166.1 477.6,167.8 477.7,169.6 478.7,169.6 478.8,167.8 479.1,166.1 479.4,164.3 479.6,162.6 479.9,160.8 479.9,159.1 479.9,157.3 479.7,155.6 479.4,153.8 479.1,152.1 478.8,150.3 478.7,148.6" fill="#c0404e" fill-opacity="0.202"/>
<path d="M479.2 154.2h0m-1.3 -1.3h0m.4 4.3h0m1.2 5.3h0m-1.2 4.2h0m0 2.6h0m.8 -14.9h0m-.5 3.2h0m-2.1 -1.2h0m2.7 3.7h0m-1 -7.2h0m.5 10.2h0m-1.4 -11.6h0m-.2 5.3h0m1.8 12.7h0m-.6 -16.2h0m-1 8.3h0m.6 -5.6h0m.8 4.8h0m-.6 4.9h0m-.5 -7.6h0m.5 -.7h0m-1.6 1.1h0m.3 .2h0m1.6 4.9h0m-.2 1.2h0m-.3 3.3h0m.6 -12.2h0m-.5 -5.8h0m.9 6.9h0m-.9 -5.9h0m.3 5.6h0m-1.2 1.5h0m2.1 5.7h0m-1 -13.9h0m1.6 11.7h0m-1.8 5.4h0m.2 -13.4h0m0 -.8h0m-.2 9h0m.2 3.8h0m-.7 -3.9h0m.9 .6h0m.1 -.5h0m-.9 -6.9h0m.2 9.6h0m1.2 -5.9h0m-.7 -1.6h0m-.2 -.6h0m-.7 6.4h0m1.1 .7h0m-.7 -5.8h0m.3 -.9h0m-.4 2.7h0m-.5 9.3h0m2.5 -13.1h0m-1.9 11.5h0m.6 -14.4h0m.4 8.3h0m-.1 -6.5h0m.2 .9h0m.9 4.8h0m-1.3 -4.8h0m.1 3.7h0m-.3 -4.2h0m.4 -2.6h0m-.9 11.4h0m-.2 -8.6h0m1 2.6h0m-.3 -1.8h0m.1 7.8h0m-.2 -2h0m1 -1.9h0m-1.1 3.1h0m.2 -1.2h0m-.2 .6h0m.6 -.4h0m-.8 -2.3h0m1.4 2.7h0m-1.1 -9.6h0m.1 9.1h0m-.3 2.5h0m-.2 -8.8h0m.5 4.9h0m.8 -1.3h0" stroke="#c0404e" stroke-opacity="0.294" stroke-width="0.75" stroke-linecap="round"/>
<text x="478.20" y="147.10" text-anchor="middle" font-family="Liberation Sans" font-size="6.2" fill="#111" stroke="#111" stroke-width="0.15">6</text>
<line x1="474.60" x2="481.80" y1="137.80" y2="137.80" stroke="#8c0d0d" stroke-width="2.2" stroke-linecap="round"/>
<line x1="488.50" x2="488.50" y1="151.00" y2="169.60" stroke="#c8c8c8" stroke-width="0.5"/>
<line x1="487.30" x2="489.70" y1="151.00" y2="151.00" stroke="#bbb" stroke-width="0.6"/>
<line x1="487.30" x2="489.70" y1="169.60" y2="169.60" stroke="#bbb" stroke-width="0.6"/>
<rect x="485.80" y="157.50" width="5.4" height="6.10" fill="none" stroke="#c2c2c2" stroke-width="0.5"/>
<line x1="485.80" x2="491.20" y1="160.55" y2="160.55" stroke="#c2c2c2" stroke-width="0.5"/>
<polygon points="488.1,151.0 487.9,152.6 487.7,154.1 487.4,155.7 487.1,157.2 486.9,158.8 486.8,160.3 486.8,161.8 487.0,163.4 487.3,164.9 487.6,166.5 487.9,168.0 488.0,169.6 489.0,169.6 489.1,168.0 489.4,166.5 489.7,164.9 490.0,163.4 490.2,161.8 490.2,160.3 490.1,158.8 489.9,157.2 489.6,155.7 489.3,154.1 489.1,152.6 488.9,151.0" fill="#48b03a" fill-opacity="0.202"/>
<path d="M488.8 162.4h0m.1 -5.7h0m-.3 6.3h0m.6 -1.4h0m-1 -3.3h0m-.6 .4h0m.5 6.8h0m.1 -3.9h0m.7 -5.1h0m-.1 3.3h0m-.3 6.9h0m.4 -11.3h0m-.7 9.8h0m.1 4h0m.2 -5h0m.9 -2.3h0m-1.1 6.9h0m.1 -4.7h0m2.7 -5.6h0m-4 -.9h0m1.5 10.1h0m.9 -6.5h0m-.6 1.2h0m.5 -4h0m-1.3 7.6h0m-.7 -8h0m1 -5.6h0m-.3 17h0m.7 -3.8h0m-.4 -7.7h0m.3 10.8h0m-1.4 -8.1h0m2 -4.3h0m-1.3 7.1h0m.7 -1.3h0m-.3 6.7h0m-.1 -13.8h0m.8 13.1h0m-.2 -7.7h0m.2 -5.3h0m-.1 6.9h0m-.7 2h0m.4 2.4h0m.4 -3.7h0m0 -3.8h0m-1.1 -7.6h0m.6 -.1h0m-.1 3.2h0m-.8 2.2h0m-.5 -.2h0m1.8 -1.3h0m.6 8.7h0m-1.6 -8.1h0m.9 5.4h0m-.6 3h0m-.7 -6.5h0m1 -5.4h0m0 8.5h0m.2 8.8h0m-.4 -13.2h0m2.2 5.4h0m-2.4 -8.9h0m-.1 9.1h0m.7 -.8h0m-.1 3.2h0m-.1 -3.9h0m1.2 -2.6h0m-.8 1.7h0m-.8 7.2h0m-.7 -5.1h0m1 -10.5h0m.3 14.6h0m.9 -11h0m-2.1 2.8h0m-.6 -1.7h0" stroke="#48b03a" stroke-opacity="0.294" stroke-width="0.75" stroke-linecap="round"/>
<text x="488.50" y="148.80" text-anchor="middle" font-family="Liberation Sans" font-size="6.2" fill="#111" stroke="#111" stroke-width="0.15">6</text>
<line x1="484.90" x2="492.10" y1="155.00" y2="155.00" stroke="#2f9e12" stroke-width="2.2" stroke-linecap="round"/>
<line x1="498.80" x2="498.80" y1="163.10" y2="170.20" stroke="#c8c8c8" stroke-width="0.5"/>
<line x1="497.60" x2="500.00" y1="163.10" y2="163.10" stroke="#bbb" stroke-width="0.6"/>
<line x1="497.60" x2="500.00" y1="170.20" y2="170.20" stroke="#bbb" stroke-width="0.6"/>
<rect x="496.10" y="164.60" width="5.4" height="4.00" fill="none" stroke="#c2c2c2" stroke-width="0.5"/>
<line x1="496.10" x2="501.50" y1="166.60" y2="166.60" stroke="#c2c2c2" stroke-width="0.5"/>
<polygon points="497.8,163.1 497.6,163.7 497.4,164.3 497.3,164.9 497.2,165.5 497.1,166.1 497.1,166.6 497.1,167.2 497.2,167.8 497.3,168.4 497.5,169.0 497.7,169.6 497.8,170.2 499.8,170.2 499.9,169.6 500.1,169.0 500.3,168.4 500.4,167.8 500.5,167.2 500.5,166.6 500.5,166.1 500.4,165.5 500.3,164.9 500.2,164.3 500.0,163.7 499.8,163.1" fill="#bcbc38" fill-opacity="0.165"/>
<path d="M498.2 168.0h0m-.4 -4.6h0m1.9 4.3h0m-1.4 -1.5h0m-1.2 1.3h0m.3 -2.7h0m2.2 .7h0m-.7 -1.4h0m.4 1.1h0m-1.5 3.3h0m1.4 -4.4h0m-.4 4.8h0m-.3 -.1h0m.5 -5.1h0m.4 3.6h0m-.7 -4.1h0m.4 .7h0m-.5 5.5h0m.5 .4h0m.6 -3.7h0m-.4 .8h0m-1.2 -.1h0m.3 .2h0m0 2h0m.4 -3.6h0m-1.2 .7h0m1.4 1.7h0m1.3 -1.2h0m-1 -3.2h0m-.4 1.7h0m.1 -.2h0m-.2 -.2h0m-.6 .3h0m.3 2.1h0" stroke="#bcbc38" stroke-opacity="0.240" stroke-width="0.75" stroke-linecap="round"/>
<text x="498.80" y="160.90" text-anchor="middle" font-family="Liberation Sans" font-size="6.2" fill="#111" stroke="#111" stroke-width="0.15">5</text>
<line x1="495.20" x2="502.40" y1="163.40" y2="163.40" stroke="#a3a30c" stroke-width="2.2" stroke-linecap="round"/>
<line x1="519.35" x2="519.35" y1="124.30" y2="154.10" stroke="#c8c8c8" stroke-width="0.5"/>
<line x1="518.15" x2="520.55" y1="124.30" y2="124.30" stroke="#bbb" stroke-width="0.6"/>
<line x1="518.15" x2="520.55" y1="154.10" y2="154.10" stroke="#bbb" stroke-width="0.6"/>
<rect x="516.65" y="133.40" width="5.4" height="10.10" fill="none" stroke="#c2c2c2" stroke-width="0.5"/>
<line x1="516.65" x2="522.05" y1="138.45" y2="138.45" stroke="#c2c2c2" stroke-width="0.5"/>
<polygon points="518.8,124.3 518.7,126.8 518.4,129.3 518.1,131.8 517.8,134.2 517.6,136.7 517.6,139.2 517.7,141.7 518.0,144.2 518.3,146.7 518.6,149.1 518.8,151.6 518.9,154.1 519.8,154.1 519.9,151.6 520.1,149.1 520.4,146.7 520.7,144.2 521.0,141.7 521.1,139.2 521.1,136.7 520.9,134.2 520.6,131.8 520.3,129.3 520.0,126.8 519.9,124.3" fill="#4a5ad8" fill-opacity="0.220"/>
<path d="M519.3 139.9h0m-1.2 -11.4h0m1.9 3.1h0m-1.3 4h0m.2 15.5h0m0 -7.6h0m1.3 .8h0m-.9 5.2h0m0 -7.4h0m.9 1.5h0m-.5 -4.3h0m-.8 -.9h0m.3 3h0m.6 -3.3h0m-.3 5.2h0m.4 -14.6h0m.4 12.2h0m-.4 -4.5h0m0 -2.7h0m-1.1 -2.2h0m1.9 17.4h0m-.9 -15.2h0m-.3 -.2h0m-.3 17.2h0m-.2 1.5h0m-.1 -16h0m-.3 11.8h0m1.5 -2.9h0m-2.2 -3.2h0m1.4 .5h0m-1.5 1.2h0m.6 -6.1h0m1.3 2.7h0m-.1 5h0m.5 -.6h0m.2 -9.3h0m-.2 5.1h0m-1.4 3.7h0m.8 4.2h0m-1 -8.9h0m.2 -6.8h0m.3 15.7h0m.3 -10.8h0m.1 10.7h0m-.2 4.2h0m0 -22h0m.8 .6h0m-.6 14.3h0m-.3 -11.1h0m.1 17.7h0m1.2 -14.1h0m-1.7 -3.2h0m0 12.8h0m.4 -13.3h0m-.2 -1.6h0m.3 -1.6h0m.5 3.3h0m.4 13.4h0m-.9 -9.6h0m-.5 3.8h0m-.8 -4.5h0m1.4 5.9h0m.1 9.3h0m.1 -12.2h0m.5 13.5h0m-1 -6.6h0m.9 -21.4h0m-.6 4.5h0m-.9 12.5h0m.6 -6.7h0m.1 1.8h0m1.3 -3.2h0m-.1 15.3h0m-1.6 -17.3h0m1 14.3h0m-1.5 -7.6h0m2.6 -5.4h0m-1.8 -9.4h0m1.4 11.8h0m-1.6 7h0m1.1 1h0m-1.1 -3.5h0m1 -8.8h0m-.2 6.7h0m-.2 15.2h0m-.5 -13.1h0m.8 -5.3h0m-.9 -1.5h0m.3 3.5h0m-1 6.2h0m1.4 -15.1h0m-.5 18.2h0m.2 -8.4h0m0 .6h0m.7 -.5h0m-.3 13h0m-.6 -20.5h0m1.3 4.6h0m-1.1 .2h0m-.2 -1.2h0m0 18.2h0m.3 -26.8h0m-.7 10.4h0m-.4 .9h0m1.6 -4.1h0m-.2 -2.5h0m.9 5h0m-1.6 -5.7h0m.1 .9h0m-.2 1h0m1.4 13.3h0m-1.6 -11.7h0m1.2 15.6h0m-.8 -16.5h0m-.2 -4.8h0m.2 6.1h0m.3 13.6h0m.5 -12.7h0m.4 17.1h0m.8 -17h0m-.8 -7.9h0m0 13.6h0m.3 -3h0" stroke="#4a5ad8" stroke-opacity="0.320" stroke-width="0.75" stroke-linecap="round"/>
<text x="519.35" y="122.70" text-anchor="middle" font-family="Liberation Sans" font-size="6.2" textLength="5.90" lengthAdjust="spacingAndGlyphs" fill="#111" stroke="#111" stroke-width="0.15">20</text>
<line x1="515.75" x2="522.95" y1="136.20" y2="136.20" stroke="#0b0ba6" stroke-width="2.2" stroke-linecap="round"/>
<line x1="529.65" x2="529.65" y1="123.80" y2="154.60" stroke="#c8c8c8" stroke-width="0.5"/>
<line x1="528.45" x2="530.85" y1="123.80" y2="123.80" stroke="#bbb" stroke-width="0.6"/>
<line x1="528.45" x2="530.85" y1="154.60" y2="154.60" stroke="#bbb" stroke-width="0.6"/>
<rect x="526.95" y="135.40" width="5.4" height="8.10" fill="none" stroke="#c2c2c2" stroke-width="0.5"/>
<line x1="526.95" x2="532.35" y1="139.45" y2="139.45" stroke="#c2c2c2" stroke-width="0.5"/>
<polygon points="529.4,123.8 529.3,126.4 529.1,128.9 528.8,131.5 528.4,134.1 528.1,136.6 527.9,139.2 528.0,141.8 528.3,144.3 528.7,146.9 529.0,149.5 529.2,152.0 529.3,154.6 530.0,154.6 530.1,152.0 530.3,149.5 530.6,146.9 531.0,144.3 531.3,141.8 531.4,139.2 531.2,136.6 530.9,134.1 530.5,131.5 530.2,128.9 530.0,126.4 529.9,123.8" fill="#c0404e" fill-opacity="0.202"/>
<path d="M530.1 139.9h0m-.8 -5.8h0m1.1 11.7h0m-.8 -9.5h0m-.1 7.5h0m.4 -19.8h0m-.3 11.9h0m1.3 6.2h0m-1.7 1.1h0m.9 -1.4h0m1.1 -8.6h0m-1 -1.6h0m-.1 18.2h0m0 -8.6h0m-.9 12.7h0m.6 -8.8h0m-.2 -.7h0m-.5 5.7h0m1.4 -4.2h0m-.7 -8.3h0m.1 16.2h0m-.8 -12.7h0m.3 -3.9h0m.2 12.6h0m0 -7.1h0m.6 -4.9h0m.2 5.7h0m.6 -.4h0m-2.3 -3.5h0m1.7 -3.5h0m-.4 -2.4h0m-.4 20.6h0m.3 -26.7h0m-.1 13.8h0m-1 6.4h0m1.1 -1.9h0m-1 2.5h0m-.6 -7.5h0m1.6 -15.3h0m.2 15.8h0m-.5 -.7h0m.7 4.3h0m.4 -15.8h0m-1.5 -.3h0m.9 8.3h0m-.2 12.5h0m-.6 -10.5h0m-2 .3h0m2.3 -9.4h0m-.1 -.1h0m-.3 6.7h0m.7 -.6h0m.1 12h0m-1.2 -7.6h0m.8 3.2h0m-.1 -13.4h0m1.8 11.3h0m-1.4 -1h0m-.7 -4.5h0m-.5 -7.6h0m1.1 7.7h0m-.2 4.3h0m-.2 -13h0m1.9 12h0m-2.3 -1.9h0m1.7 7.6h0m-1.3 -2.8h0m0 -17h0m.6 7.8h0m-.6 8.1h0m1.1 -9.8h0m-.5 7.8h0m.4 12.2h0m-.8 -5.5h0m-.9 -2h0m1.1 -2h0m-1.6 -1.6h0m2.2 -10.6h0m.2 10.6h0m-2.5 -2h0m1.1 -4.6h0m0 3.1h0m.4 11.9h0m.1 -22.2h0m1.2 16.2h0m-1.1 -5.9h0m-.9 9.3h0m.6 .4h0m-.9 -15h0m1.8 7.1h0m-1.1 -13.7h0m1.6 17.7h0m-2.2 -7.7h0m.5 .4h0m-.3 -1.1h0m.4 4.6h0m-.3 11h0m.6 4.5h0m-1.2 -22.7h0m.8 5.5h0m.3 -3.9h0m0 18.9h0m.9 -14.4h0m-.1 6.7h0m.4 2.5h0m.2 -8.2h0m-1.9 3.6h0m1.4 .6h0m-1.6 3.2h0m1.2 -2.5h0" stroke="#c0404e" stroke-opacity="0.294" stroke-width="0.75" stroke-linecap="round"/>
<text x="529.65" y="121.60" text-anchor="middle" font-family="Liberation Sans" font-size="6.2" textLength="5.90" lengthAdjust="spacingAndGlyphs" fill="#111" stroke="#111" stroke-width="0.15">20</text>
<line x1="526.05" x2="533.25" y1="120.30" y2="120.30" stroke="#8c0d0d" stroke-width="2.2" stroke-linecap="round"/>
<line x1="539.95" x2="539.95" y1="112.20" y2="146.50" stroke="#c8c8c8" stroke-width="0.5"/>
<line x1="538.75" x2="541.15" y1="112.20" y2="112.20" stroke="#bbb" stroke-width="0.6"/>
<line x1="538.75" x2="541.15" y1="146.50" y2="146.50" stroke="#bbb" stroke-width="0.6"/>
<rect x="537.25" y="125.30" width="5.4" height="9.10" fill="none" stroke="#c2c2c2" stroke-width="0.5"/>
<line x1="537.25" x2="542.65" y1="129.85" y2="129.85" stroke="#c2c2c2" stroke-width="0.5"/>
<polygon points="539.7,112.2 539.6,115.1 539.4,117.9 539.1,120.8 538.7,123.6 538.4,126.5 538.2,129.3 538.3,132.2 538.6,135.1 539.0,137.9 539.3,140.8 539.5,143.6 539.6,146.5 540.3,146.5 540.4,143.6 540.6,140.8 540.9,137.9 541.3,135.1 541.6,132.2 541.7,129.3 541.5,126.5 541.2,123.6 540.8,120.8 540.5,117.9 540.3,115.1 540.2,112.2" fill="#48b03a" fill-opacity="0.202"/>
<path d="M539.4 134.4h0m-.3 -9.9h0m.8 7.7h0m1.1 1.1h0m-2 7.1h0m1.7 -10.4h0m-1.5 -8.4h0m1.2 9.1h0m-.2 8.4h0m.9 1.1h0m-2.2 -7.6h0m1.9 4.9h0m.6 -1h0m-2.3 -2.5h0m.6 -2.3h0m.1 -1.6h0m.1 -4.6h0m-1.3 2.2h0m3.3 -2h0m-1 7.8h0m-.6 5.2h0m.4 -2.4h0m-.8 -21.7h0m.2 11.5h0m-.1 17.2h0m.2 -12.2h0m.2 -3.2h0m-.6 -12.1h0m.5 11.3h0m-.1 -5.8h0m-1.4 -4.8h0m1.7 20.8h0m-.9 -13.2h0m-.1 -9.7h0m.3 24.5h0m.7 -15.8h0m-.3 14.9h0m.1 -5.2h0m1 -4.9h0m-1.6 -2h0m.9 -6.6h0m-.2 2.8h0m-.6 10.4h0m.2 8.1h0m-.9 -10.2h0m1.1 -4.1h0m-1 7.8h0m1.3 -5.9h0m-.7 -13.9h0m.5 15.7h0m.2 6h0m.2 -8.4h0m-.4 3.3h0m-.9 2.5h0m-.1 -5.8h0m2.1 4.2h0m-.5 2.1h0m-.8 -13.6h0m-.3 7.9h0m0 10.4h0m-.6 -21.9h0m1.2 2.3h0m-.7 1h0m.5 4.9h0m-1 4h0m.7 -12.3h0m.1 26.1h0m.1 -30.3h0m.3 16.2h0m-1.2 11.1h0m.6 -4.6h0m-.8 -13.4h0m1.3 -.5h0m.9 10.2h0m-1.5 -15.3h0m.5 6.9h0m.2 11.7h0m-.4 0h0m-1.5 -15.9h0m1 4.3h0m.8 3.1h0m-1 10.8h0m.5 -2.2h0m-.8 -.4h0m.9 -16.9h0m.7 -2.7h0m-.8 6.3h0m1.2 6.7h0m-1.5 -4.2h0m.2 2.5h0m1.5 3.9h0m-1.1 -15.1h0m.6 20.4h0m-1.1 4.1h0m1.1 -10.9h0m-.5 -15.7h0m.1 28.6h0m1.5 -10.8h0m-1.8 -11.6h0m.1 12.8h0m-.4 11.6h0m.5 -4.4h0m-.8 2.6h0m.7 -2.8h0m-.2 -21.5h0m-2.2 11.5h0m3.1 -1.1h0m-1.3 -5.9h0m1.1 8.9h0m-1 7.4h0m.7 -4.1h0m-.3 0h0m-.3 -11.2h0m-.6 12.1h0m.9 -.5h0m-.1 -10.3h0m.9 -2.1h0m-.3 9.5h0m-1 -10.7h0m.7 .4h0m0 17.9h0m.6 -8.1h0m-1.2 3.3h0" stroke="#48b03a" stroke-opacity="0.294" stroke-width="0.75" stroke-linecap="round"/>
<text x="539.95" y="110.00" text-anchor="middle" font-family="Liberation Sans" font-size="6.2" textLength="5.90" lengthAdjust="spacingAndGlyphs" fill="#111" stroke="#111" stroke-width="0.15">20</text>
<line x1="536.35" x2="543.55" y1="130.60" y2="130.60" stroke="#2f9e12" stroke-width="2.2" stroke-linecap="round"/>
<line x1="550.25" x2="550.25" y1="126.80" y2="150.60" stroke="#c8c8c8" stroke-width="0.5"/>
<line x1="549.05" x2="551.45" y1="126.80" y2="126.80" stroke="#bbb" stroke-width="0.6"/>
<line x1="549.05" x2="551.45" y1="150.60" y2="150.60" stroke="#bbb" stroke-width="0.6"/>
<rect x="547.55" y="135.40" width="5.4" height="7.10" fill="none" stroke="#c2c2c2" stroke-width="0.5"/>
<line x1="547.55" x2="552.95" y1="138.95" y2="138.95" stroke="#c2c2c2" stroke-width="0.5"/>
<polygon points="549.9,126.8 549.8,128.8 549.6,130.8 549.3,132.8 548.9,134.7 548.6,136.7 548.5,138.7 548.6,140.7 548.8,142.7 549.2,144.7 549.5,146.6 549.7,148.6 549.9,150.6 550.6,150.6 550.8,148.6 551.0,146.6 551.3,144.7 551.7,142.7 551.9,140.7 552.0,138.7 551.9,136.7 551.6,134.7 551.2,132.8 550.9,130.8 550.7,128.8 550.6,126.8" fill="#bcbc38" fill-opacity="0.165"/>
<path d="M550.8 128.4h0m-.6 17.7h0m.1 -13.8h0m.2 11.3h0m.2 -1.2h0m-.4 -11.8h0m.9 .9h0m-1 7.9h0m.4 9.9h0m-.1 -2.3h0m-.2 -13h0m.4 7.8h0m-.9 .6h0m-.3 6.5h0m.6 -10.5h0m.9 -6h0m0 .6h0m-.7 4.3h0m-.2 2.9h0m-.4 -4.5h0m1.3 1.2h0m-1.1 -3h0m.9 -2.9h0m.1 6.2h0m-1.5 3.3h0m.8 1.1h0m-.1 -4.3h0m.7 1.1h0m-.2 -7.4h0m.2 -2.3h0m-.8 2.5h0m-.7 10.9h0m.7 7.3h0m.2 -17.6h0m.8 9.2h0m-1.2 3.1h0m.4 -1.8h0m-.7 -4.1h0m1.2 -4.5h0m.1 1.6h0m-.3 -4.7h0m-.2 15.5h0m.6 -7.9h0m-1.1 -6.9h0m1 7.1h0m-.4 -7h0m-.4 0h0m.9 5.8h0m-1.4 3.2h0m1.7 .2h0m-.6 -2.8h0m-.5 -3.5h0m-.1 5.9h0m.5 -1.7h0m0 -7h0m.4 -.8h0m-.5 4.8h0m-.1 13.4h0m-.1 .3h0m.1 -10.1h0m.2 10.3h0m-.9 -9h0m2.1 2.5h0m-1.9 -11.8h0m.5 -.4h0m-.3 4.3h0m2.3 6.3h0m-2 1h0m-.1 -13.8h0m0 21.7h0m-1.1 -15h0m.5 5.8h0m1.3 0h0m.3 -3.2h0m-.8 -5.7h0m-.3 9.3h0m.6 -3.6h0m-1.7 3.5h0m1 -9.1h0m-.5 11.1h0m1.2 .5h0m-1 -1.2h0m.7 5.5h0m1.3 -9.2h0m-2.7 -3.5h0m.5 4.1h0m1 2h0m-.5 -7.4h0m.2 -.5h0" stroke="#bcbc38" stroke-opacity="0.240" stroke-width="0.75" stroke-linecap="round"/>
<text x="550.25" y="125.20" text-anchor="middle" font-family="Liberation Sans" font-size="6.2" textLength="5.90" lengthAdjust="spacingAndGlyphs" fill="#111" stroke="#111" stroke-width="0.15">16</text>
<line x1="546.65" x2="553.85" y1="140.50" y2="140.50" stroke="#a3a30c" stroke-width="2.2" stroke-linecap="round"/>
<rect x="45.8" y="18.4" width="525.70" height="154.00" fill="none" stroke="#3c3c3c" stroke-width="1.2"/>
<line x1="42.199999999999996" x2="45.8" y1="172.40" y2="172.40" stroke="#3c3c3c" stroke-width="1"/>
<line x1="571.5" x2="575.1" y1="172.40" y2="172.40" stroke="#3c3c3c" stroke-width="1"/>
<text x="37.6" y="175.10" text-anchor="end" font-family="Liberation Sans" font-size="7.9" textLength="3.9" lengthAdjust="spacingAndGlyphs" fill="#222" stroke="#222" stroke-width="0.25">0</text>
<text x="578.6" y="175.10" font-family="Liberation Sans" font-size="7.9" textLength="3.9" lengthAdjust="spacingAndGlyphs" fill="#222" stroke="#222" stroke-width="0.25">0</text>
<line x1="42.199999999999996" x2="45.8" y1="146.73" y2="146.73" stroke="#3c3c3c" stroke-width="1"/>
<line x1="571.5" x2="575.1" y1="146.73" y2="146.73" stroke="#3c3c3c" stroke-width="1"/>
<text x="37.6" y="149.43" text-anchor="end" font-family="Liberation Sans" font-size="7.9" textLength="3.9" lengthAdjust="spacingAndGlyphs" fill="#222" stroke="#222" stroke-width="0.25">2</text>
<text x="578.6" y="149.43" font-family="Liberation Sans" font-size="7.9" textLength="3.9" lengthAdjust="spacingAndGlyphs" fill="#222" stroke="#222" stroke-width="0.25">2</text>
<line x1="42.199999999999996" x2="45.8" y1="121.07" y2="121.07" stroke="#3c3c3c" stroke-width="1"/>
<line x1="571.5" x2="575.1" y1="121.07" y2="121.07" stroke="#3c3c3c" stroke-width="1"/>
<text x="37.6" y="123.77" text-anchor="end" font-family="Liberation Sans" font-size="7.9" textLength="3.9" lengthAdjust="spacingAndGlyphs" fill="#222" stroke="#222" stroke-width="0.25">4</text>
<text x="578.6" y="123.77" font-family="Liberation Sans" font-size="7.9" textLength="3.9" lengthAdjust="spacingAndGlyphs" fill="#222" stroke="#222" stroke-width="0.25">4</text>
<line x1="42.199999999999996" x2="45.8" y1="95.40" y2="95.40" stroke="#3c3c3c" stroke-width="1"/>
<line x1="571.5" x2="575.1" y1="95.40" y2="95.40" stroke="#3c3c3c" stroke-width="1"/>
<text x="37.6" y="98.10" text-anchor="end" font-family="Liberation Sans" font-size="7.9" textLength="3.9" lengthAdjust="spacingAndGlyphs" fill="#222" stroke="#222" stroke-width="0.25">6</text>
<text x="578.6" y="98.10" font-family="Liberation Sans" font-size="7.9" textLength="3.9" lengthAdjust="spacingAndGlyphs" fill="#222" stroke="#222" stroke-width="0.25">6</text>
<line x1="42.199999999999996" x2="45.8" y1="69.73" y2="69.73" stroke="#3c3c3c" stroke-width="1"/>
<line x1="571.5" x2="575.1" y1="69.73" y2="69.73" stroke="#3c3c3c" stroke-width="1"/>
<text x="37.6" y="72.43" text-anchor="end" font-family="Liberation Sans" font-size="7.9" textLength="3.9" lengthAdjust="spacingAndGlyphs" fill="#222" stroke="#222" stroke-width="0.25">8</text>
<text x="578.6" y="72.43" font-family="Liberation Sans" font-size="7.9" textLength="3.9" lengthAdjust="spacingAndGlyphs" fill="#222" stroke="#222" stroke-width="0.25">8</text>
<line x1="42.199999999999996" x2="45.8" y1="44.07" y2="44.07" stroke="#3c3c3c" stroke-width="1"/>
<line x1="571.5" x2="575.1" y1="44.07" y2="44.07" stroke="#3c3c3c" stroke-width="1"/>
<text x="37.6" y="46.77" text-anchor="end" font-family="Liberation Sans" font-size="7.9" textLength="7.8" lengthAdjust="spacingAndGlyphs" fill="#222" stroke="#222" stroke-width="0.25">10</text>
<text x="578.6" y="46.77" font-family="Liberation Sans" font-size="7.9" textLength="7.8" lengthAdjust="spacingAndGlyphs" fill="#222" stroke="#222" stroke-width="0.25">10</text>
<line x1="42.199999999999996" x2="45.8" y1="18.40" y2="18.40" stroke="#3c3c3c" stroke-width="1"/>
<line x1="571.5" x2="575.1" y1="18.40" y2="18.40" stroke="#3c3c3c" stroke-width="1"/>
<text x="37.6" y="21.10" text-anchor="end" font-family="Liberation Sans" font-size="7.9" textLength="7.8" lengthAdjust="spacingAndGlyphs" fill="#222" stroke="#222" stroke-width="0.25">12</text>
<text x="578.6" y="21.10" font-family="Liberation Sans" font-size="7.9" textLength="7.8" lengthAdjust="spacingAndGlyphs" fill="#222" stroke="#222" stroke-width="0.25">12</text>
<line x1="71.80" x2="71.80" y1="172.4" y2="175.90" stroke="#3c3c3c" stroke-width="1"/>
<text x="70.80" y="186.00" text-anchor="end" transform="rotate(-28 70.80 186.00)" font-family="Liberation Sans" font-size="8.2" textLength="48.78" lengthAdjust="spacingAndGlyphs" fill="#222" stroke="#222" stroke-width="0.15">North America</text>
<line x1="123.25" x2="123.25" y1="172.4" y2="175.90" stroke="#3c3c3c" stroke-width="1"/>
<text x="122.25" y="186.00" text-anchor="end" transform="rotate(-28 122.25 186.00)" font-family="Liberation Sans" font-size="8.2" textLength="46.65" lengthAdjust="spacingAndGlyphs" fill="#222" stroke="#222" stroke-width="0.15">Latin America</text>
<line x1="174.70" x2="174.70" y1="172.4" y2="175.90" stroke="#3c3c3c" stroke-width="1"/>
<text x="173.70" y="186.00" text-anchor="end" transform="rotate(-28 173.70 186.00)" font-family="Liberation Sans" font-size="8.2" textLength="24.83" lengthAdjust="spacingAndGlyphs" fill="#222" stroke="#222" stroke-width="0.15">Europe</text>
<line x1="226.15" x2="226.15" y1="172.4" y2="175.90" stroke="#3c3c3c" stroke-width="1"/>
<text x="225.15" y="186.00" text-anchor="end" transform="rotate(-28 225.15 186.00)" font-family="Liberation Sans" font-size="8.2" textLength="19.68" lengthAdjust="spacingAndGlyphs" fill="#222" stroke="#222" stroke-width="0.15">Africa</text>
<line x1="277.60" x2="277.60" y1="172.4" y2="175.90" stroke="#3c3c3c" stroke-width="1"/>
<text x="276.60" y="186.00" text-anchor="end" transform="rotate(-28 276.60 186.00)" font-family="Liberation Sans" font-size="8.2" textLength="52.65" lengthAdjust="spacingAndGlyphs" fill="#222" stroke="#222" stroke-width="0.15">Southwest Asia</text>
<line x1="329.05" x2="329.05" y1="172.4" y2="175.90" stroke="#3c3c3c" stroke-width="1"/>
<text x="328.05" y="186.00" text-anchor="end" transform="rotate(-28 328.05 186.00)" font-family="Liberation Sans" font-size="8.2" textLength="64.20" lengthAdjust="spacingAndGlyphs" fill="#222" stroke="#222" stroke-width="0.15">Central-South Asia</text>
<line x1="380.50" x2="380.50" y1="172.4" y2="175.90" stroke="#3c3c3c" stroke-width="1"/>
<text x="379.50" y="186.00" text-anchor="end" transform="rotate(-28 379.50 186.00)" font-family="Liberation Sans" font-size="8.2" textLength="16.70" lengthAdjust="spacingAndGlyphs" fill="#222" stroke="#222" stroke-width="0.15">India</text>
<line x1="431.95" x2="431.95" y1="172.4" y2="175.90" stroke="#3c3c3c" stroke-width="1"/>
<text x="430.95" y="186.00" text-anchor="end" transform="rotate(-28 430.95 186.00)" font-family="Liberation Sans" font-size="8.2" textLength="20.12" lengthAdjust="spacingAndGlyphs" fill="#222" stroke="#222" stroke-width="0.15">China</text>
<line x1="483.40" x2="483.40" y1="172.4" y2="175.90" stroke="#3c3c3c" stroke-width="1"/>
<text x="482.40" y="186.00" text-anchor="end" transform="rotate(-28 482.40 186.00)" font-family="Liberation Sans" font-size="8.2" textLength="32.10" lengthAdjust="spacingAndGlyphs" fill="#222" stroke="#222" stroke-width="0.15">East Asia</text>
<line x1="534.85" x2="534.85" y1="172.4" y2="175.90" stroke="#3c3c3c" stroke-width="1"/>
<text x="533.85" y="186.00" text-anchor="end" transform="rotate(-28 533.85 186.00)" font-family="Liberation Sans" font-size="8.2" textLength="51.37" lengthAdjust="spacingAndGlyphs" fill="#222" stroke="#222" stroke-width="0.15">Southeast Asia</text>
<text x="0" y="0" text-anchor="middle" transform="translate(24.3 95.40) rotate(-90)" font-family="Liberation Serif" font-size="12" fill="#444">percent change : population</text>
<text x="0" y="0" text-anchor="middle" transform="translate(592.2 95.40) rotate(90)" font-family="Liberation Serif" font-size="12" fill="#444">percent change : urban area</text>
<rect x="59.3" y="24.30" width="54.6" height="40" rx="1.2" fill="#fff" stroke="#333" stroke-width="1.2"/>
<circle cx="68.7" cy="30.30" r="2.6" fill="#0b0ba6"/>
<text x="80.5" y="32.85" font-family="Liberation Sans" font-size="7.6" textLength="29.2" lengthAdjust="spacingAndGlyphs" fill="#222" stroke="#222" stroke-width="0.2">1970-1980</text>
<circle cx="68.7" cy="39.63" r="2.6" fill="#8c1212"/>
<text x="80.5" y="42.18" font-family="Liberation Sans" font-size="7.6" textLength="29.2" lengthAdjust="spacingAndGlyphs" fill="#222" stroke="#222" stroke-width="0.2">1980-1990</text>
<circle cx="68.7" cy="48.96" r="2.6" fill="#3a9e1e"/>
<text x="80.5" y="51.51" font-family="Liberation Sans" font-size="7.6" textLength="29.2" lengthAdjust="spacingAndGlyphs" fill="#222" stroke="#222" stroke-width="0.2">1990-2000</text>
<circle cx="68.7" cy="58.29" r="2.6" fill="#a6a616"/>
<text x="80.5" y="60.84" font-family="Liberation Sans" font-size="7.6" textLength="29.2" lengthAdjust="spacingAndGlyphs" fill="#222" stroke="#222" stroke-width="0.2">2000-2010</text>
<line x1="45.8" x2="571.5" y1="384.90" y2="384.90" stroke="#f1f1f1" stroke-width="0.8"/>
<line x1="45.8" x2="571.5" y1="359.20" y2="359.20" stroke="#f1f1f1" stroke-width="0.8"/>
<line x1="45.8" x2="571.5" y1="333.50" y2="333.50" stroke="#f1f1f1" stroke-width="0.8"/>
<line x1="45.8" x2="571.5" y1="307.80" y2="307.80" stroke="#f1f1f1" stroke-width="0.8"/>
<line x1="45.8" x2="571.5" y1="282.10" y2="282.10" stroke="#f1f1f1" stroke-width="0.8"/>
<line x1="56.30" x2="56.30" y1="357.10" y2="391.40" stroke="#c8c8c8" stroke-width="0.5"/>
<line x1="55.10" x2="57.50" y1="357.10" y2="357.10" stroke="#bbb" stroke-width="0.6"/>
<line x1="55.10" x2="57.50" y1="391.40" y2="391.40" stroke="#bbb" stroke-width="0.6"/>
<rect x="53.60" y="369.20" width="5.4" height="9.20" fill="none" stroke="#c2c2c2" stroke-width="0.5"/>
<line x1="53.60" x2="59.00" y1="373.80" y2="373.80" stroke="#c2c2c2" stroke-width="0.5"/>
<polygon points="56.0,357.1 55.9,360.0 55.6,362.8 55.3,365.7 54.9,368.5 54.6,371.4 54.6,374.2 54.7,377.1 55.1,380.0 55.4,382.8 55.7,385.7 55.9,388.5 56.0,391.4 56.6,391.4 56.7,388.5 56.9,385.7 57.2,382.8 57.5,380.0 57.9,377.1 58.0,374.2 58.0,371.4 57.7,368.5 57.3,365.7 57.0,362.8 56.7,360.0 56.6,357.1" fill="#4a5ad8" fill-opacity="0.220"/>
<path d="M56.3 376.6h0m-1.6 1.8h0m.8 -4.3h0m1.3 2.6h0m.5 1.3h0m.4 -7.6h0m-1.5 .9h0m.2 -6.7h0m0 17.1h0m.6 -16.6h0m-2.1 10.8h0m.4 -3.5h0m1.3 4.7h0m-.1 5.6h0m0 5.2h0m-.5 -20.4h0m1.5 6.2h0m-1.3 5.5h0m0 -1.9h0m.2 -9.3h0m-.5 -8.7h0m.6 20.8h0m.4 -8.2h0m-1 3.8h0m.4 2.9h0m.7 -6.8h0m-1.6 -8.6h0m1.3 19.7h0m-1.4 -2.1h0m-.9 -9.5h0m1.4 8h0m1 -9.8h0m.3 10.1h0m-.4 -.3h0m-.8 10.5h0m1.8 -17.9h0m-1.4 -4.5h0m.2 20.9h0m.1 -16h0m.6 3h0m-.9 .9h0m-.1 13.8h0m.6 -25.4h0m-1.6 22.2h0m1.2 -16.8h0m.5 -10.5h0m-.4 31.6h0m-.3 -29.1h0m2.1 8.9h0m-2.5 -6.2h0m0 9.3h0m.1 -1.5h0m1.1 9.4h0m-.6 -9.1h0m.3 -3.9h0m-1.1 15.6h0m.1 -3.7h0m.8 -4.6h0m-1.4 -4.1h0m2.7 -1.6h0m-1.1 9.5h0m-.9 -9.4h0m.6 .4h0m-.5 11.2h0m.2 -9.9h0m-.4 -1.3h0m-1.1 -.1h0m.9 2.3h0m.9 -5.8h0m-.6 6.5h0m-.1 -4h0m-.5 7.4h0m1.6 -6.3h0m-.3 -.8h0m-.6 13.6h0m2.3 -13.4h0m-2.4 13.4h0m.6 1.5h0m-.6 -18.4h0m2.4 4.4h0m-1.5 1.5h0m.1 -8.5h0m-.5 16h0m.2 -15.7h0m.7 7.9h0m0 2.1h0m-1.2 -11.9h0m.3 13.3h0m.1 2.5h0m-.4 -.3h0m-.9 -7.6h0m.8 15.5h0m-.2 -.7h0m.1 -14.7h0m.4 -1.9h0m.3 14.5h0m-.2 -11h0m1.2 10.1h0m-1.3 -13.9h0m0 -11.1h0m.6 12.5h0m0 -1.6h0m0 10.8h0m-.4 1.5h0m-.9 -2.6h0m.9 -1.6h0m.3 -1.8h0m-.6 -11h0m.8 7.6h0m-.5 4.3h0m-.7 -6.4h0m-.2 16.2h0m-.3 2.1h0m1.4 -16.7h0m-.3 .1h0m.2 -6.3h0m-.1 -.2h0m-.9 7.7h0m.6 3.1h0m1.2 2h0m-.5 3.3h0m-.8 -7.6h0m.1 -6.4h0m.5 11.9h0" stroke="#4a5ad8" stroke-opacity="0.320" stroke-width="0.75" stroke-linecap="round"/>
<text x="56.30" y="355.20" text-anchor="middle" font-family="Liberation Sans" font-size="6.2" textLength="5.90" lengthAdjust="spacingAndGlyphs" fill="#111" stroke="#111" stroke-width="0.15">16</text>
<line x1="52.70" x2="59.90" y1="387.40" y2="387.40" stroke="#0b0ba6" stroke-width="2.2" stroke-linecap="round"/>
<line x1="66.60" x2="66.60" y1="355.70" y2="391.40" stroke="#c8c8c8" stroke-width="0.5"/>
<line x1="65.40" x2="67.80" y1="355.70" y2="355.70" stroke="#bbb" stroke-width="0.6"/>
<line x1="65.40" x2="67.80" y1="391.40" y2="391.40" stroke="#bbb" stroke-width="0.6"/>
<rect x="63.90" y="369.20" width="5.4" height="9.80" fill="none" stroke="#c2c2c2" stroke-width="0.5"/>
<line x1="63.90" x2="69.30" y1="374.10" y2="374.10" stroke="#c2c2c2" stroke-width="0.5"/>
<polygon points="66.3,355.7 66.2,358.7 66.0,361.6 65.7,364.6 65.3,367.6 65.0,370.6 64.9,373.5 64.9,376.5 65.2,379.5 65.6,382.5 65.9,385.4 66.1,388.4 66.3,391.4 66.9,391.4 67.1,388.4 67.3,385.4 67.6,382.5 68.0,379.5 68.3,376.5 68.3,373.5 68.2,370.6 67.9,367.6 67.5,364.6 67.2,361.6 67.0,358.7 66.9,355.7" fill="#c0404e" fill-opacity="0.202"/>
<path d="M67.3 374.1h0m.4 4.7h0m-1.2 2.9h0m.2 9.4h0m.7 -30h0m.9 5.1h0m-2.3 3.3h0m1 -6.7h0m.5 11.4h0m-1.7 -1.8h0m2.2 8.5h0m-.9 -16.2h0m-.3 9.6h0m.1 -14.8h0m-1 12.8h0m1.8 7.1h0m-1 -11.1h0m-.8 11.7h0m.2 -21.4h0m1.2 2.5h0m-2.2 10.4h0m2.2 -6.4h0m-.7 14.8h0m.8 -6.8h0m-.6 -6.6h0m-1.7 5.3h0m1.6 3.3h0m-1.3 -4.1h0m1.9 5.7h0m-1.2 -11.6h0m.4 1.4h0m.7 7.8h0m-.6 5.9h0m.4 9.8h0m-.5 -13.5h0m.3 -9.3h0m1.2 6.4h0m-1.1 -5.6h0m0 18.6h0m.5 -18.1h0m.8 8.9h0m-2.2 -8.3h0m-.1 13.3h0m.9 -26.1h0m-.1 5.8h0m1.3 12.9h0m-1.4 -16.2h0m.9 4.9h0m-.6 -.6h0m.8 5.8h0m-.3 -2.2h0m-.8 2.7h0m.2 2h0m.4 -1.2h0m-1.1 15.3h0m.8 -9.3h0m-.4 6.6h0m.2 -24.5h0m-.1 18.6h0m.5 -5.8h0m-1.7 5.5h0m1.2 -16.5h0m0 16.6h0m-.9 -2.5h0m.7 -1.2h0m1 8h0m-.7 1.5h0m-.6 -1.7h0m2.2 -4.3h0m-1.6 14.1h0m-.6 -18.4h0m.5 8.4h0m.1 -6.1h0m.1 7.9h0m.6 -10.7h0m.2 9.8h0m-1.3 4.4h0m.6 -10.2h0m-1.7 5.9h0m.7 2.3h0m.1 -10.6h0m-.8 -2.8h0m.2 2.6h0m1.1 -.9h0m-1.9 5.9h0m2.9 -1.5h0m-1 .9h0m.2 -16.2h0m.5 4.4h0m-.3 9.6h0m-1.6 -1.4h0m1 -3.9h0m.1 6.6h0m-.4 -4.4h0m.5 -5.7h0m.4 21.8h0m-.1 -30.8h0m-1.6 21.4h0m1.4 -5.2h0m-.2 -7.1h0m-.2 12.7h0m2.1 -4.4h0m-1.1 -3.9h0m-.8 -3.3h0m-.4 1.8h0m1.1 4.5h0m-.7 9.5h0m1.5 -8.6h0m-1.1 6.9h0m-.7 -14.4h0m0 4.1h0m.4 1.3h0m.1 10.9h0m.1 -6.6h0m-1.1 1.2h0m.5 -1.1h0m.7 -12.2h0m1.5 5.9h0m-1.6 -.6h0m1.5 5.5h0m-1.7 -8.3h0m1 4.9h0m-.8 8.8h0m.4 -10.5h0m-1.7 11.2h0m2.8 -13.1h0m-.8 13.4h0m-.3 -4.5h0m-.5 1.2h0m-.1 -1.3h0m.1 -7h0" stroke="#c0404e" stroke-opacity="0.294" stroke-width="0.75" stroke-linecap="round"/>
<text x="66.60" y="353.80" text-anchor="middle" font-family="Liberation Sans" font-size="6.2" textLength="5.90" lengthAdjust="spacingAndGlyphs" fill="#111" stroke="#111" stroke-width="0.15">16</text>
<line x1="63.00" x2="70.20" y1="388.40" y2="388.40" stroke="#8c0d0d" stroke-width="2.2" stroke-linecap="round"/>
<line x1="76.90" x2="76.90" y1="363.30" y2="390.00" stroke="#c8c8c8" stroke-width="0.5"/>
<line x1="75.70" x2="78.10" y1="363.30" y2="363.30" stroke="#bbb" stroke-width="0.6"/>
<line x1="75.70" x2="78.10" y1="390.00" y2="390.00" stroke="#bbb" stroke-width="0.6"/>
<rect x="74.20" y="373.00" width="5.4" height="7.00" fill="none" stroke="#c2c2c2" stroke-width="0.5"/>
<line x1="74.20" x2="79.60" y1="376.50" y2="376.50" stroke="#c2c2c2" stroke-width="0.5"/>
<polygon points="76.6,363.3 76.5,365.5 76.3,367.8 76.0,370.0 75.6,372.2 75.3,374.4 75.2,376.6 75.3,378.9 75.6,381.1 76.0,383.3 76.3,385.6 76.5,387.8 76.6,390.0 77.2,390.0 77.3,387.8 77.5,385.6 77.8,383.3 78.2,381.1 78.5,378.9 78.6,376.6 78.5,374.4 78.2,372.2 77.8,370.0 77.5,367.8 77.3,365.5 77.2,363.3" fill="#48b03a" fill-opacity="0.202"/>
<path d="M77.6 376.5h0m-1.6 -1.2h0m.5 -7.3h0m.9 15.7h0m-.3 -6.5h0m-.6 -4.7h0m-.1 2.9h0m.8 -5.7h0m-1.3 2.1h0m.2 8.1h0m1.3 -.7h0m-.1 -8.3h0m-1.6 4.5h0m.7 5.6h0m1.1 -10.2h0m0 14.2h0m.7 -10.2h0m-1 9.4h0m-.5 -2.2h0m.1 -.7h0m-.2 .6h0m.1 -16.2h0m0 19h0m.3 -15.8h0m-.4 6.4h0m0 7h0m.1 -4.6h0m.3 -13.6h0m-.5 16.5h0m-.4 -9.1h0m1.7 4.3h0m-1 1h0m-.9 6.4h0m.5 -13.8h0m1 .3h0m-.4 3.4h0m-.8 11.2h0m.4 -2.3h0m-.1 -1.4h0m-.4 -10.3h0m.9 11.4h0m-.1 -15.2h0m-.7 5.7h0m.1 11.5h0m1.1 -15.2h0m-1.6 8.7h0m.4 -8.5h0m-.1 9.4h0m-.5 2.5h0m1.2 -4.4h0m-.3 -3.8h0m.8 4.7h0m0 4.3h0m-1.4 -5h0m1.4 -4.6h0m-1.3 .6h0m.8 7.2h0m-.2 8.6h0m-.1 -23.2h0m.8 14.6h0m-.1 3.3h0m.4 -9.4h0m-1.6 7.8h0m.9 -13.9h0m-.4 19.3h0m.3 -9h0m.5 6.6h0m.4 -1.3h0m-1.2 -2.4h0m.7 -12.4h0m-.3 4.6h0m.4 6.8h0m-.8 -4.2h0m.3 8.4h0m-.7 -1.5h0m.6 .4h0m.2 -4h0m-.3 -11.5h0m.5 11.4h0m-.5 6.2h0m0 -11.1h0m.9 1.1h0m.2 2.5h0m-1.1 -8.5h0m.4 14.4h0m.7 -5.4h0m-.8 1.5h0m-.5 -4.3h0m-.1 -10.3h0m.6 -1h0m-.4 24.9h0m.3 -23.1h0m.6 8.9h0m-.8 5.3h0m.4 -3.8h0m.6 -3.7h0" stroke="#48b03a" stroke-opacity="0.294" stroke-width="0.75" stroke-linecap="round"/>
<text x="76.90" y="362.10" text-anchor="middle" font-family="Liberation Sans" font-size="6.2" textLength="5.90" lengthAdjust="spacingAndGlyphs" fill="#111" stroke="#111" stroke-width="0.15">16</text>
<line x1="73.30" x2="80.50" y1="385.50" y2="385.50" stroke="#2f9e12" stroke-width="2.2" stroke-linecap="round"/>
<line x1="87.20" x2="87.20" y1="370.30" y2="399.50" stroke="#c8c8c8" stroke-width="0.5"/>
<line x1="86.00" x2="88.40" y1="370.30" y2="370.30" stroke="#bbb" stroke-width="0.6"/>
<line x1="86.00" x2="88.40" y1="399.50" y2="399.50" stroke="#bbb" stroke-width="0.6"/>
<rect x="84.50" y="381.70" width="5.4" height="5.40" fill="none" stroke="#c2c2c2" stroke-width="0.5"/>
<line x1="84.50" x2="89.90" y1="384.40" y2="384.40" stroke="#c2c2c2" stroke-width="0.5"/>
<polygon points="86.9,370.3 86.9,372.7 86.8,375.2 86.6,377.6 86.1,380.0 85.6,382.5 85.5,384.9 85.8,387.3 86.3,389.8 86.7,392.2 86.9,394.6 86.9,397.1 86.9,399.5 87.5,399.5 87.5,397.1 87.5,394.6 87.7,392.2 88.1,389.8 88.6,387.3 88.9,384.9 88.8,382.5 88.3,380.0 87.8,377.6 87.6,375.2 87.5,372.7 87.5,370.3" fill="#bcbc38" fill-opacity="0.165"/>
<path d="M86.9 397.5h0m1.9 -8.1h0m-1.4 -9.7h0m.1 3.9h0m-.4 -6.8h0m-.3 -2.8h0m.5 10.4h0m.5 -.8h0m-.4 -3.1h0m0 -.2h0m-1.6 4.4h0m1.5 4.7h0m-.4 -6.5h0m.2 -12h0m-.5 13.3h0m.1 2.1h0m.9 -7.4h0m-.7 6.2h0m.2 7.9h0m.5 6.2h0m-.2 -23.7h0m1.4 11.7h0m-2.1 -1.3h0m-.3 -1.6h0m1.2 4.9h0m.3 -3.7h0m-.1 2.7h0m.2 -3h0m-.6 5.8h0m.9 -11.1h0m-2.3 8.8h0m.2 -7.2h0m1 -4.6h0m.1 7.1h0m-.1 14.7h0m.3 -11.6h0m-.6 -2.5h0m-.1 3.9h0m-.8 -2.2h0m1.2 7.2h0m.2 -12.6h0m.8 .8h0m-1.5 3.1h0m1.1 .5h0m-.8 6.6h0m.3 -13.3h0m-.4 -2.7h0m.6 7.7h0m1.1 -.7h0m-.8 3h0m-1.1 2.1h0m.1 -5.4h0m.5 .4h0m-.4 -3.5h0m.6 9.6h0m-.3 5.6h0m-.2 3h0m1.2 -9.1h0m-.2 -4.8h0m-1 -1.7h0m.3 6.3h0m.1 -3.9h0m-.7 -7.6h0m-1 7.2h0m.6 -1.8h0m.5 -2.6h0m-.6 8.4h0m1.2 4.1h0m.2 -6.3h0m-.5 -2.8h0m.8 4.3h0m-1 -2.4h0m-1.3 -.7h0m1.3 7.8h0m.8 -9h0m-.2 6.7h0m.7 -3.3h0m-.8 0h0m0 -4.9h0m-.6 -2.7h0m2 10h0m-1.8 7.4h0m-.2 -19.4h0m-.4 3.9h0m1 -7.3h0m0 15h0m-.6 -2.5h0" stroke="#bcbc38" stroke-opacity="0.240" stroke-width="0.75" stroke-linecap="round"/>
<text x="87.20" y="368.60" text-anchor="middle" font-family="Liberation Sans" font-size="6.2" textLength="5.90" lengthAdjust="spacingAndGlyphs" fill="#111" stroke="#111" stroke-width="0.15">10</text>
<line x1="83.60" x2="90.80" y1="393.20" y2="393.20" stroke="#a3a30c" stroke-width="2.2" stroke-linecap="round"/>
<line x1="107.75" x2="107.75" y1="372.50" y2="388.20" stroke="#c8c8c8" stroke-width="0.5"/>
<line x1="106.55" x2="108.95" y1="372.50" y2="372.50" stroke="#bbb" stroke-width="0.6"/>
<line x1="106.55" x2="108.95" y1="388.20" y2="388.20" stroke="#bbb" stroke-width="0.6"/>
<rect x="105.05" y="377.30" width="5.4" height="7.60" fill="none" stroke="#c2c2c2" stroke-width="0.5"/>
<line x1="105.05" x2="110.45" y1="381.10" y2="381.10" stroke="#c2c2c2" stroke-width="0.5"/>
<polygon points="107.0,372.5 106.9,373.8 106.6,375.1 106.4,376.4 106.2,377.7 106.1,379.0 106.0,380.4 106.0,381.7 106.1,383.0 106.2,384.3 106.4,385.6 106.6,386.9 106.8,388.2 108.7,388.2 108.9,386.9 109.1,385.6 109.3,384.3 109.4,383.0 109.5,381.7 109.5,380.4 109.4,379.0 109.3,377.7 109.1,376.4 108.9,375.1 108.6,373.8 108.5,372.5" fill="#4a5ad8" fill-opacity="0.220"/>
<path d="M108.8 382.4h0m-1.7 3.6h0m.5 -3.2h0m.2 -6.9h0m-1 10.5h0m1.3 -11.5h0m-.6 1.7h0m.3 4.1h0m1.1 -.4h0m-1.4 -7.5h0m-.2 12.7h0m.8 -5.5h0m-.6 7.1h0m-.9 -4.8h0m.5 -5.6h0m.9 -3.7h0m.4 14.7h0m-2.1 -5.9h0m.2 2.8h0m.9 -2.9h0m.8 3.8h0m-1.7 -3.2h0m.5 -3.9h0m.6 -3h0m2.5 10.5h0m-2.4 -7.7h0m0 6.4h0m.6 -11.7h0m-.9 6.7h0m.6 4.8h0m-1.4 -9.1h0m2.5 6.9h0m-1.3 -1.5h0m-.6 -.6h0m-.2 1.7h0m-.2 -4.5h0m.6 8.3h0m.4 -1.2h0m.7 -.2h0m-2.3 3.7h0m.3 -4.7h0m1.3 -2.1h0m.6 -3.4h0m-2 6.3h0m2.8 1.4h0m-2.1 -7.8h0m1.1 -3.7h0m-.1 3.8h0m-.2 7.5h0m-.3 -5h0m.4 -3.3h0m-1.2 10.4h0m1.2 -5.5h0m.6 -5.5h0m-1.6 8.7h0m1.5 -7.8h0m-1 -2h0m-.6 8.4h0m.3 -4.6h0m.3 3.1h0m-.9 2.6h0m.8 3h0m-.2 -11.8h0m1.1 2.6h0m-.6 -3.5h0m-1.2 -2h0m1.2 13h0m-.3 -10.3h0m2.7 6.8h0m-3.2 .8h0m2.4 -7h0m-1.9 -.3h0m.1 -1.4h0m-.4 7.8h0m.6 -4.8h0" stroke="#4a5ad8" stroke-opacity="0.320" stroke-width="0.75" stroke-linecap="round"/>
<text x="107.75" y="370.80" text-anchor="middle" font-family="Liberation Sans" font-size="6.2" textLength="5.90" lengthAdjust="spacingAndGlyphs" fill="#111" stroke="#111" stroke-width="0.15">17</text>
<line x1="104.15" x2="111.35" y1="354.40" y2="354.40" stroke="#0b0ba6" stroke-width="2.2" stroke-linecap="round"/>
<line x1="118.05" x2="118.05" y1="376.80" y2="391.40" stroke="#c8c8c8" stroke-width="0.5"/>
<line x1="116.85" x2="119.25" y1="376.80" y2="376.80" stroke="#bbb" stroke-width="0.6"/>
<line x1="116.85" x2="119.25" y1="391.40" y2="391.40" stroke="#bbb" stroke-width="0.6"/>
<rect x="115.35" y="381.10" width="5.4" height="6.50" fill="none" stroke="#c2c2c2" stroke-width="0.5"/>
<line x1="115.35" x2="120.75" y1="384.35" y2="384.35" stroke="#c2c2c2" stroke-width="0.5"/>
<polygon points="117.4,376.8 117.2,378.0 116.9,379.2 116.7,380.4 116.5,381.7 116.4,382.9 116.3,384.1 116.3,385.3 116.4,386.5 116.6,387.8 116.9,389.0 117.1,390.2 117.3,391.4 118.8,391.4 119.0,390.2 119.2,389.0 119.5,387.8 119.7,386.5 119.8,385.3 119.8,384.1 119.7,382.9 119.6,381.7 119.4,380.4 119.2,379.2 118.9,378.0 118.7,376.8" fill="#c0404e" fill-opacity="0.202"/>
<path d="M118.6 386.7h0m-2 -4.9h0m2.6 3.1h0m-1.5 1.5h0m.4 -3.9h0m1.1 -.3h0m-1.9 -3.2h0m2 4.6h0m-1.2 -6h0m-.2 11.1h0m.8 -11h0m.8 7.4h0m-.4 3.6h0m-1.8 0h0m.4 -9.8h0m.7 9.1h0m-.5 -7.5h0m.5 3h0m-.7 -3.2h0m-.7 -.4h0m1.1 1.4h0m-.5 2.1h0m1.1 -6.3h0m.1 1.2h0m-.8 .7h0m1 7.4h0m-.3 2h0m.3 -5.6h0m-1.6 -5.9h0m.8 5.9h0m-.1 -1.6h0m-.2 4.5h0m-.3 -.6h0m.1 2.8h0m.1 1h0m-.1 -8.7h0m.6 6.5h0m-.6 -.2h0m.4 -.4h0m.8 -2.5h0m-2.7 -.6h0m2 1.2h0m.3 -1.3h0m.7 4.1h0m-2.4 -2.9h0m1.1 -7.3h0m.1 13.8h0m0 -6.8h0m.4 .2h0m-.3 .5h0m-.1 -4.4h0m-.2 7.7h0m-.3 -7.2h0m.9 .8h0m-1 -1.1h0m1.3 -1.5h0m-.5 7.2h0m0 -6.9h0m-.1 10.8h0m.5 -8h0m.3 .7h0m-.4 1.3h0m-.5 .2h0m-.7 3.9h0m.7 -.4h0m1 2.9h0" stroke="#c0404e" stroke-opacity="0.294" stroke-width="0.75" stroke-linecap="round"/>
<text x="118.05" y="374.30" text-anchor="middle" font-family="Liberation Sans" font-size="6.2" textLength="5.90" lengthAdjust="spacingAndGlyphs" fill="#111" stroke="#111" stroke-width="0.15">17</text>
<line x1="114.45" x2="121.65" y1="376.60" y2="376.60" stroke="#8c0d0d" stroke-width="2.2" stroke-linecap="round"/>
<line x1="128.35" x2="128.35" y1="374.40" y2="389.60" stroke="#c8c8c8" stroke-width="0.5"/>
<line x1="127.15" x2="129.55" y1="374.40" y2="374.40" stroke="#bbb" stroke-width="0.6"/>
<line x1="127.15" x2="129.55" y1="389.60" y2="389.60" stroke="#bbb" stroke-width="0.6"/>
<rect x="125.65" y="377.30" width="5.4" height="8.20" fill="none" stroke="#c2c2c2" stroke-width="0.5"/>
<line x1="125.65" x2="131.05" y1="381.40" y2="381.40" stroke="#c2c2c2" stroke-width="0.5"/>
<polygon points="127.3,374.4 127.1,375.7 127.0,376.9 126.8,378.2 126.7,379.5 126.6,380.7 126.6,382.0 126.7,383.3 126.8,384.5 126.9,385.8 127.1,387.1 127.3,388.3 127.5,389.6 129.2,389.6 129.4,388.3 129.6,387.1 129.8,385.8 129.9,384.5 130.0,383.3 130.1,382.0 130.1,380.7 130.0,379.5 129.9,378.2 129.7,376.9 129.6,375.7 129.4,374.4" fill="#48b03a" fill-opacity="0.202"/>
<path d="M127.7 387.6h0m0 -7.4h0m.4 2.5h0m1.2 -3.3h0m-.3 .8h0m-1.2 -4.3h0m.3 11.3h0m0 -11h0m-.6 1.3h0m1.5 .9h0m-1.4 6.3h0m1.3 2.4h0m-.1 -1.8h0m-.6 -6.2h0m.3 1.2h0m-.2 7.8h0m.7 -12.7h0m1.2 6.3h0m-1.8 -7h0m-.2 10.9h0m.8 1h0m-1 -3h0m.5 -6.9h0m.4 9.2h0m-1.3 -8.9h0m.7 4.3h0m.2 4.4h0m.6 .5h0m-.4 -3h0m-.1 5.2h0m-.5 -9h0m0 8.5h0m-1.1 -8.4h0m1.2 3.3h0m1.1 -4.9h0m-1.9 2.9h0m.6 -2.5h0m.6 5.8h0m-.6 -6.7h0m1.6 6.4h0m-1.4 -.1h0m-.4 4.8h0m.1 -10.4h0m-.6 1.4h0m.9 4.4h0m-.1 -3.2h0m.4 1.5h0m-.1 -3.4h0m-.1 10h0m.7 -.7h0m-.7 -9h0m-.4 7.1h0m.4 -3.9h0m-1.4 1.3h0m.9 2.1h0m.9 2.8h0m-.6 -12.1h0m-.1 9.1h0m1 -10.3h0m-.7 4.2h0m1.5 5.5h0m-1.4 -10.3h0m-1.1 14.9h0m.7 -.5h0m1.5 -1.1h0m.9 -3.7h0m-2.4 -5.8h0m1.7 4.2h0m-1.6 -1.7h0m0 4.3h0m-.4 3h0m-.2 -2.2h0m.9 2h0m-.8 -6.3h0m1.2 -1.6h0m-.7 8.2h0m.4 -10.2h0" stroke="#48b03a" stroke-opacity="0.294" stroke-width="0.75" stroke-linecap="round"/>
<text x="128.35" y="372.70" text-anchor="middle" font-family="Liberation Sans" font-size="6.2" textLength="5.90" lengthAdjust="spacingAndGlyphs" fill="#111" stroke="#111" stroke-width="0.15">17</text>
<line x1="124.75" x2="131.95" y1="379.80" y2="379.80" stroke="#2f9e12" stroke-width="2.2" stroke-linecap="round"/>
<line x1="138.65" x2="138.65" y1="380.00" y2="392.50" stroke="#c8c8c8" stroke-width="0.5"/>
<line x1="137.45" x2="139.85" y1="380.00" y2="380.00" stroke="#bbb" stroke-width="0.6"/>
<line x1="137.45" x2="139.85" y1="392.50" y2="392.50" stroke="#bbb" stroke-width="0.6"/>
<rect x="135.95" y="384.40" width="5.4" height="5.40" fill="none" stroke="#c2c2c2" stroke-width="0.5"/>
<line x1="135.95" x2="141.35" y1="387.10" y2="387.10" stroke="#c2c2c2" stroke-width="0.5"/>
<polygon points="138.1,380.0 137.9,381.0 137.7,382.1 137.5,383.1 137.3,384.2 137.1,385.2 136.9,386.2 136.9,387.3 137.0,388.3 137.1,389.4 137.3,390.4 137.6,391.5 137.8,392.5 139.5,392.5 139.7,391.5 140.0,390.4 140.2,389.4 140.3,388.3 140.4,387.3 140.4,386.2 140.2,385.2 140.0,384.2 139.8,383.1 139.6,382.1 139.4,381.0 139.2,380.0" fill="#bcbc38" fill-opacity="0.165"/>
<path d="M140.8 389.4h0m-2.5 2.2h0m0 -9.6h0m.6 9.2h0m.1 .9h0m-.8 -9.7h0m-.6 .9h0m1 -1.8h0m1 4.8h0m-1.4 2.3h0m-.2 -4.6h0m1.2 -2.5h0m-.5 7.9h0m0 -3.1h0m.8 2h0m-.3 -6.4h0m-.1 8.1h0m-.3 -5.7h0m.9 -1.5h0m-.8 6.1h0m.4 -5.5h0m-.6 1.5h0m-.6 7h0m-.4 -3h0m.1 -2.8h0m.9 -.8h0m-.2 -5.2h0m1.4 6.8h0m-2.8 0h0m1.6 -5.4h0m.8 3.5h0m-.9 -1.3h0m-.8 5h0m.7 -7.4h0m.5 4.3h0m-.1 5.6h0m-.8 -4.9h0m-.3 -2.2h0m1.1 2.6h0m-.2 5.5h0m.3 -3.3h0m-.2 1.8h0m1 -7.1h0m-1.2 6.9h0m-1.3 -2.9h0m1.5 -3h0m-.5 4.1h0m-.2 -4.9h0m.7 -2.1h0m-.8 2.5h0m.6 1.5h0m0 -5.1h0m-.9 6.4h0m-.4 .8h0m-.2 -1.4h0" stroke="#bcbc38" stroke-opacity="0.240" stroke-width="0.75" stroke-linecap="round"/>
<text x="138.65" y="378.70" text-anchor="middle" font-family="Liberation Sans" font-size="6.2" fill="#111" stroke="#111" stroke-width="0.15">9</text>
<line x1="135.05" x2="142.25" y1="387.40" y2="387.40" stroke="#a3a30c" stroke-width="2.2" stroke-linecap="round"/>
<line x1="159.20" x2="159.20" y1="366.30" y2="396.30" stroke="#c8c8c8" stroke-width="0.5"/>
<line x1="158.00" x2="160.40" y1="366.30" y2="366.30" stroke="#bbb" stroke-width="0.6"/>
<line x1="158.00" x2="160.40" y1="396.30" y2="396.30" stroke="#bbb" stroke-width="0.6"/>
<rect x="156.50" y="378.40" width="5.4" height="8.10" fill="none" stroke="#c2c2c2" stroke-width="0.5"/>
<line x1="156.50" x2="161.90" y1="382.45" y2="382.45" stroke="#c2c2c2" stroke-width="0.5"/>
<polygon points="158.9,366.3 158.8,368.8 158.7,371.3 158.4,373.8 158.1,376.3 157.7,378.8 157.5,381.3 157.5,383.8 157.7,386.3 158.1,388.8 158.4,391.3 158.7,393.8 158.8,396.3 159.6,396.3 159.7,393.8 160.0,391.3 160.3,388.8 160.7,386.3 160.9,383.8 160.9,381.3 160.7,378.8 160.3,376.3 160.0,373.8 159.7,371.3 159.6,368.8 159.5,366.3" fill="#4a5ad8" fill-opacity="0.220"/>
<path d="M159.0 378.2h0m1.6 .5h0m-2 4.2h0m1.2 -4.4h0m-.3 10.2h0m1.4 -7.5h0m-2.2 11.7h0m.1 -11.1h0m.4 7h0m.4 -13.9h0m-1.1 17.9h0m1.4 -13.5h0m-1.6 9h0m.4 -8.8h0m.1 3.1h0m.6 -12h0m.4 .4h0m.2 10.6h0m-1.4 6.2h0m.2 6.1h0m.2 -7.4h0m-1.5 -5.3h0m1.8 13.9h0m-.8 -8.7h0m.9 -5.7h0m-.2 7.8h0m.1 -15.4h0m.5 1.5h0m-.9 -1.4h0m.6 20.3h0m-1.1 -17.4h0m.1 7.7h0m1.3 3.6h0m-.9 -12.3h0m-.3 -4.1h0m.3 -3.1h0m.6 3h0m-.4 .3h0m.4 11.2h0m1.1 5.6h0m-.2 -4.6h0m-1.3 5h0m-.2 -8h0m.3 9.2h0m-.2 -7.4h0m.4 6.4h0m.2 -2.2h0m-.8 -.2h0m.4 6.7h0m-.2 -23.8h0m0 9.2h0m1 12.7h0m-.4 -23.8h0m-.4 22.6h0m-.4 -18.9h0m0 13.1h0m1 -14.5h0m.9 11.5h0m-1.4 -3.3h0m-.3 7.6h0m-.5 -3h0m1.1 4.6h0m-.4 -9.1h0m-.5 16.1h0m1.7 -15.1h0m-.8 2.4h0m-.8 6.4h0m.8 8.5h0m-.2 -22h0m-.3 1.8h0m-.2 1.2h0m.7 -3.7h0m-.3 4.8h0m-.6 -11.7h0m.6 28.6h0m.1 -2.9h0m-.4 -8.2h0m.6 9h0m-1.3 -14.7h0m.6 -.9h0m.2 1.7h0m0 9.4h0m-1.1 -7h0m.4 -2.3h0m.9 16.7h0m-.5 -12.7h0m1.8 -4.2h0m-1.1 -7.9h0m-1.1 10.6h0m.7 -14h0m-.1 20h0m.8 -2.1h0m-2.2 -2.2h0m3.8 -.6h0m-2.9 -7.5h0m1 19.9h0m-.5 -21.4h0m0 7.6h0m.3 14.3h0m.6 -17.6h0m-.5 -5.9h0m.4 6.8h0m-.3 2.4h0m-.3 -7.2h0m-.5 16.8h0m1.1 -17.3h0m-.2 2h0m-.4 4.2h0m.3 10.1h0" stroke="#4a5ad8" stroke-opacity="0.320" stroke-width="0.75" stroke-linecap="round"/>
<text x="159.20" y="364.60" text-anchor="middle" font-family="Liberation Sans" font-size="6.2" fill="#111" stroke="#111" stroke-width="0.15">7</text>
<line x1="155.60" x2="162.80" y1="397.90" y2="397.90" stroke="#0b0ba6" stroke-width="2.2" stroke-linecap="round"/>
<line x1="169.50" x2="169.50" y1="369.40" y2="397.40" stroke="#c8c8c8" stroke-width="0.5"/>
<line x1="168.30" x2="170.70" y1="369.40" y2="369.40" stroke="#bbb" stroke-width="0.6"/>
<line x1="168.30" x2="170.70" y1="397.40" y2="397.40" stroke="#bbb" stroke-width="0.6"/>
<rect x="166.80" y="380.00" width="5.4" height="7.60" fill="none" stroke="#c2c2c2" stroke-width="0.5"/>
<line x1="166.80" x2="172.20" y1="383.80" y2="383.80" stroke="#c2c2c2" stroke-width="0.5"/>
<polygon points="169.2,369.4 169.1,371.7 168.9,374.1 168.6,376.4 168.2,378.7 167.9,381.1 167.8,383.4 167.8,385.7 168.1,388.1 168.5,390.4 168.8,392.7 169.0,395.1 169.2,397.4 169.8,397.4 170.0,395.1 170.2,392.7 170.5,390.4 170.9,388.1 171.2,385.7 171.2,383.4 171.1,381.1 170.8,378.7 170.4,376.4 170.1,374.1 169.9,371.7 169.8,369.4" fill="#c0404e" fill-opacity="0.202"/>
<path d="M168.7 386.5h0m.9 -4.2h0m.3 7.2h0m-.4 -4h0m-1.9 2h0m2.1 -13.2h0m-1.1 12.8h0m1.2 -5.3h0m.3 -1.9h0m-.7 8.4h0m.6 -7.9h0m-1.3 1.4h0m.7 4.7h0m-.4 10.5h0m.9 -16h0m-.2 12.3h0m.1 -6.5h0m-.9 -10.8h0m.5 5.1h0m.6 2.5h0m-1.6 -.7h0m.5 -4.3h0m.8 .9h0m.1 -2.3h0m-.5 4.4h0m.3 -6.7h0m.7 15.3h0m0 -9.5h0m-.8 1.5h0m-.2 6.4h0m-.3 -9.4h0m-.5 2.1h0m1.1 -3.5h0m.8 5.5h0m-.7 -11.1h0m-.5 7.5h0m-.5 4.5h0m.6 4.8h0m.4 -1.5h0m-.1 -10.7h0m.7 1.9h0m-.9 11.7h0m-.2 -3.9h0m.6 4.2h0m-.2 -2.2h0m.3 .6h0m.6 -3.3h0m-.8 8.1h0m-1.8 -14.4h0m3 6.1h0m-3.3 3.1h0m2.6 -6h0m-.7 5.7h0m.2 -10.9h0m.3 9.6h0m-.7 1.5h0m0 -18.6h0m-.1 14.5h0m.1 7.7h0m.7 .4h0m-.2 -15.3h0m-2.1 10.5h0m1.2 .4h0m.6 7.1h0m.1 -1h0m.1 -21.2h0m-.5 8.1h0m.6 4.6h0m-1.1 6.4h0m.6 -4.7h0m.2 .4h0m-1.1 1.3h0m1.4 -7.5h0m-.8 5.2h0m-.3 -10.1h0m.9 19h0m.5 -19.4h0m-.7 15.1h0m1.7 -5.5h0m-1.9 -2.5h0m.4 -2.4h0m-.4 -4.8h0m.3 13.6h0m.5 1.9h0m-.2 -11.4h0m.1 7.5h0m-.2 7.7h0m-.5 .4h0m.1 -26.2h0m2.1 15.8h0m-2.3 -3.8h0m.4 11h0m-.8 1h0m1.2 -13.9h0m.1 -1.4h0m-.9 -3.5h0m.5 13h0m-.3 -3.6h0m.3 8.9h0m0 -16.6h0" stroke="#c0404e" stroke-opacity="0.294" stroke-width="0.75" stroke-linecap="round"/>
<text x="169.50" y="367.80" text-anchor="middle" font-family="Liberation Sans" font-size="6.2" fill="#111" stroke="#111" stroke-width="0.15">7</text>
<line x1="165.90" x2="173.10" y1="404.20" y2="404.20" stroke="#8c0d0d" stroke-width="2.2" stroke-linecap="round"/>
<line x1="179.80" x2="179.80" y1="364.90" y2="409.30" stroke="#c8c8c8" stroke-width="0.5"/>
<line x1="178.60" x2="181.00" y1="364.90" y2="364.90" stroke="#bbb" stroke-width="0.6"/>
<line x1="178.60" x2="181.00" y1="409.30" y2="409.30" stroke="#bbb" stroke-width="0.6"/>
<rect x="177.10" y="381.70" width="5.4" height="11.90" fill="none" stroke="#c2c2c2" stroke-width="0.5"/>
<line x1="177.10" x2="182.50" y1="387.65" y2="387.65" stroke="#c2c2c2" stroke-width="0.5"/>
<polygon points="179.5,364.9 179.4,368.6 179.2,372.3 178.9,376.0 178.6,379.7 178.2,383.4 178.1,387.1 178.1,390.8 178.4,394.5 178.8,398.2 179.1,401.9 179.4,405.6 179.5,409.3 180.1,409.3 180.2,405.6 180.5,401.9 180.8,398.2 181.2,394.5 181.5,390.8 181.5,387.1 181.4,383.4 181.0,379.7 180.7,376.0 180.4,372.3 180.2,368.6 180.1,364.9" fill="#48b03a" fill-opacity="0.202"/>
<path d="M179.6 392.9h0m.5 11.4h0m-.2 -20h0m-.4 16.5h0m.2 -34.4h0m1.3 20.4h0m-1 -10.4h0m1.3 16.7h0m-.9 -8.6h0m-.7 -2h0m.7 0h0m-.4 22.7h0m-2.2 -17.9h0m2.8 -7.4h0m-1 8.7h0m-.9 -4.3h0m1 7h0m-.1 -20.4h0m-1.2 16.1h0m1.7 -7.1h0m-.8 -12.1h0m1.3 29.2h0m1.6 -6.1h0m-2.1 -8.7h0m-.1 20.3h0m-.6 -21.9h0m1.4 2.2h0m-.5 -.5h0m-1.4 8.7h0m.9 -19.2h0m-.3 7h0m-.9 16.2h0m1.3 -12.3h0m1.4 8.7h0m-1.2 1.9h0m-.8 15.1h0m.7 -10.8h0m-.1 -21.7h0m.2 21.2h0m-.4 -25.5h0m-.1 36.5h0m.5 -12.2h0m.5 11.8h0m-.8 -30.7h0m1.2 10h0m-1.4 -19.3h0m.2 29h0m.6 -3.7h0m.3 -2.8h0m-1.3 -11.3h0m.9 20.7h0m-.9 -26.5h0m.3 2.3h0m2 15.7h0m-2.9 -4.5h0m1.3 -8.7h0m-2 15.5h0m1.3 -3.4h0m.2 .4h0m1.3 -2.3h0m-1.3 2.9h0m-.3 16.3h0m.6 -10.7h0m-.2 1.6h0m.8 -7.3h0m-1.4 -5.6h0m.7 -6h0m.1 -12.8h0m-.4 27h0m1.1 -3h0m-1.3 -10.3h0m.2 7.5h0m1 -4.6h0m-.8 -12.9h0m.3 2.1h0m-.2 1h0m1.8 9.2h0m-1 10.8h0m-.7 -3.6h0m-.9 -3.8h0m2.2 .9h0m-.6 1.8h0m0 -5.3h0m-.8 15.9h0m.3 -22.9h0m-.4 -5.6h0m.4 26.1h0m.2 -15.7h0m-.3 27.9h0m-.4 -22h0m.1 19.8h0m.1 1.4h0m.1 -20.9h0m.4 -11.9h0m-.8 27.9h0m.5 -23.2h0m-1.7 13.2h0m1.5 9.7h0m-1.6 -9h0m2.1 -13.7h0m-1.8 12.8h0m2 -5.5h0m-1.3 -1.5h0m-.5 2.8h0m.6 -4.7h0m0 6.6h0m-.2 10.4h0m.7 .3h0m0 .7h0m.3 -25.8h0m1 14.3h0m-.5 -10.3h0m-1.2 -4.9h0m.4 14.3h0m-.7 -3.5h0m.4 -8.1h0m-.5 13h0m1.1 -.2h0m-.1 -6.1h0m-.7 3.1h0m1 1.2h0m-.9 16.1h0m.1 -11.9h0m.3 -2.5h0m.1 14h0m.2 -15.4h0m.2 3.2h0m-1.5 -5.7h0m1.4 16.9h0m.1 -2.6h0m-.3 -16.7h0m0 5.9h0m-1.1 -3.2h0m1.3 10.7h0m0 -13.6h0m.7 -10.5h0m-1.2 -7.5h0m-.3 12h0m.4 5.7h0m-.4 20.5h0m.5 -16.6h0m.2 6.3h0m-.2 -13.4h0m-.5 19.4h0m1.5 -4h0m-1.5 -2.5h0m.5 -1.4h0m.3 -16.8h0m1.5 13.4h0m-.6 -1.5h0m-1.8 .6h0m.9 14.6h0m.9 -19.2h0m-1.2 -8.3h0m-.1 -2.8h0m-.1 18.1h0m-.3 7.8h0m.2 -6.2h0m1 8.4h0m-1 -23.9h0m.9 24.6h0" stroke="#48b03a" stroke-opacity="0.294" stroke-width="0.75" stroke-linecap="round"/>
<text x="179.80" y="363.20" text-anchor="middle" font-family="Liberation Sans" font-size="6.2" textLength="5.90" lengthAdjust="spacingAndGlyphs" fill="#111" stroke="#111" stroke-width="0.15">10</text>
<line x1="176.20" x2="183.40" y1="404.90" y2="404.90" stroke="#2f9e12" stroke-width="2.2" stroke-linecap="round"/>
<line x1="190.10" x2="190.10" y1="357.30" y2="388.20" stroke="#c8c8c8" stroke-width="0.5"/>
<line x1="188.90" x2="191.30" y1="357.30" y2="357.30" stroke="#bbb" stroke-width="0.6"/>
<line x1="188.90" x2="191.30" y1="388.20" y2="388.20" stroke="#bbb" stroke-width="0.6"/>
<rect x="187.40" y="369.20" width="5.4" height="8.10" fill="none" stroke="#c2c2c2" stroke-width="0.5"/>
<line x1="187.40" x2="192.80" y1="373.25" y2="373.25" stroke="#c2c2c2" stroke-width="0.5"/>
<polygon points="189.8,357.3 189.7,359.9 189.6,362.4 189.3,365.0 188.9,367.6 188.5,370.2 188.4,372.8 188.4,375.3 188.7,377.9 189.1,380.5 189.5,383.1 189.7,385.6 189.8,388.2 190.4,388.2 190.5,385.6 190.7,383.1 191.1,380.5 191.5,377.9 191.8,375.3 191.8,372.8 191.7,370.2 191.3,367.6 190.9,365.0 190.6,362.4 190.5,359.9 190.4,357.3" fill="#bcbc38" fill-opacity="0.165"/>
<path d="M190.4 373.7h0m-1 -7.8h0m.7 13.7h0m1.5 -7.4h0m-1 2.9h0m-.8 -11.1h0m.1 19.4h0m-.4 -8.6h0m1.3 4.1h0m-1.5 -12.4h0m1.8 5.3h0m-.6 3.5h0m-.4 -5.3h0m.5 -9.6h0m-1.6 8.7h0m1 -6.7h0m-.4 1h0m.3 22.2h0m-.9 -14.6h0m.7 11.4h0m.4 -6.2h0m.8 -4.4h0m-.5 4.9h0m-.2 -12.9h0m-.9 9.4h0m.5 -6.3h0m0 .4h0m.2 11.8h0m1.4 -9.4h0m-1.6 -6.7h0m.3 -5.3h0m.5 20.3h0m-.8 -5.2h0m.6 9.8h0m.3 -12.2h0m-1.2 14.1h0m.9 -20.9h0m.9 10h0m-2.9 .6h0m1.4 -14.8h0m.3 11.7h0m.1 2.8h0m.2 -8.3h0m-1.2 3.3h0m2.4 6.7h0m-.6 -4.6h0m-2.2 -.3h0m.8 -3.6h0m-1.3 4.5h0m.8 2.5h0m.3 -3.9h0m1.3 4.4h0m-.7 1h0m1.1 -12.1h0m-.5 .7h0m-.8 9.8h0m0 6.8h0m1.7 -5h0m-1.7 3.2h0m-1.1 -7h0m1.4 7h0m-.2 -3.5h0m1 -7.2h0m0 2.1h0m-.6 7.9h0m.6 -6h0m-.1 -5.2h0m-.8 8.5h0m-1.1 -3.7h0m2.5 -.6h0m-2.8 6.4h0m1 -6.5h0m0 8.8h0m.3 -12.2h0m-.2 12.8h0m.1 -8h0m1.4 -1.2h0m-1.3 6.8h0m-.1 6.7h0m.4 -10.5h0m.3 -6.7h0m-.1 14.1h0m-.8 -10.3h0m.3 4.9h0m-.1 .7h0m.4 -7.5h0m.2 6h0m0 4.5h0m-.8 -4.1h0m.9 4.4h0m.6 -5.7h0m-1 -8.7h0m-1.6 10.8h0m2.2 -10.7h0m-.6 1h0m.4 -3.9h0m.2 4.1h0m-.7 19.8h0m-.4 .6h0m.9 -21.2h0m-.8 15.9h0m0 -8.7h0m.1 -5.1h0m0 -2.7h0m.6 8.5h0m-.4 -2.7h0m.1 -4.3h0m.6 10.7h0m.9 -.4h0m-1.5 9.4h0m.6 -12.5h0" stroke="#bcbc38" stroke-opacity="0.240" stroke-width="0.75" stroke-linecap="round"/>
<text x="190.10" y="355.60" text-anchor="middle" font-family="Liberation Sans" font-size="6.2" fill="#111" stroke="#111" stroke-width="0.15">9</text>
<line x1="186.50" x2="193.70" y1="400.30" y2="400.30" stroke="#a3a30c" stroke-width="2.2" stroke-linecap="round"/>
<line x1="210.65" x2="210.65" y1="328.10" y2="373.40" stroke="#c8c8c8" stroke-width="0.5"/>
<line x1="209.45" x2="211.85" y1="328.10" y2="328.10" stroke="#bbb" stroke-width="0.6"/>
<line x1="209.45" x2="211.85" y1="373.40" y2="373.40" stroke="#bbb" stroke-width="0.6"/>
<rect x="207.95" y="345.20" width="5.4" height="11.10" fill="none" stroke="#c2c2c2" stroke-width="0.5"/>
<line x1="207.95" x2="213.35" y1="350.75" y2="350.75" stroke="#c2c2c2" stroke-width="0.5"/>
<polygon points="210.4,328.1 210.3,331.9 210.1,335.7 209.8,339.4 209.4,343.2 209.1,347.0 208.9,350.8 209.1,354.5 209.4,358.3 209.8,362.1 210.1,365.8 210.3,369.6 210.4,373.4 210.9,373.4 211.0,369.6 211.2,365.8 211.5,362.1 211.9,358.3 212.2,354.5 212.4,350.8 212.2,347.0 211.9,343.2 211.5,339.4 211.2,335.7 211.0,331.9 210.9,328.1" fill="#4a5ad8" fill-opacity="0.220"/>
<path d="M211.0 346.3h0m-.5 -5.3h0m-.8 12.3h0m.3 -24.7h0m.3 24.2h0m0 -21.2h0m1.5 27.5h0m-1.2 -22.3h0m-.1 20h0m-.5 -8.2h0m1.2 -3.9h0m-.3 26.9h0m.7 -34.4h0m-.5 27.4h0m-1 -18h0m1.9 6.9h0m-2.3 -9.7h0m.5 4.7h0m.8 -12.3h0m-1.9 17.3h0m2 -20.5h0m.2 28.6h0m-.1 -9.3h0m-1.3 -13.2h0m.6 26.1h0m-.2 -13.3h0m1.2 -10.3h0m-.8 12.4h0m-1 4h0m1.7 -17.2h0m-1.9 6h0m.4 14.5h0m.6 11.6h0m0 -15.6h0m-1.4 -8h0m2.5 -2.1h0m-.6 -2.1h0m-.6 12.6h0m.6 -1.2h0m-.2 -2.5h0m.2 -3.6h0m-.4 -12h0m.1 9.4h0m-2.7 5.2h0m3.5 -6.8h0m-.8 7.9h0m.5 3.2h0m-.8 -15.5h0m.9 13.8h0m-1.3 -17.1h0m.4 28h0m.3 -33.2h0m-.4 1.3h0m-.4 13.7h0m.4 5.5h0m0 -7.5h0m1.5 6.8h0m-.9 11.5h0m-.1 -22.9h0m-.4 29.7h0m.6 -27.1h0m-1 20.5h0m.3 -7.6h0m.9 -2.5h0m-1 -14.1h0m2.3 10.6h0m-2 -5.1h0m.4 -2.4h0m-.3 -7.8h0m.1 23.1h0m.7 -20h0m-.6 6.8h0m1.1 -.6h0m-1.4 10.1h0m-.2 -7.4h0m.6 5.9h0m-.3 -10.2h0m-.5 21.4h0m0 -16.8h0m-.7 1.8h0m1.7 11.8h0m-.6 4.3h0m-.7 3.6h0m-.9 -21.2h0m2.1 -3.7h0m.2 13.1h0m-.8 -24.9h0m-.2 11.5h0m.7 6.1h0m-.9 1.9h0m.5 11.1h0m1 -9h0m-1.6 -17.2h0m1.7 17.3h0m.3 -3.5h0m-1.2 -.2h0m-.4 15.3h0m2.3 -23.5h0m-2.4 14.6h0m.2 -1.3h0m0 -12h0m-.2 -9.5h0m.9 7.5h0m-.4 10.6h0m0 14.7h0m.5 -23h0m-.7 14.6h0m-.2 -4.2h0m.3 -22.5h0m-.8 6.5h0m.3 21.9h0m.2 -15.4h0m.3 -12.4h0m0 9.7h0m.6 29.2h0m-1.1 -12.5h0m.7 4.1h0m.9 -10.5h0m-1.3 12.8h0m.4 7.4h0m.2 -4.1h0m.2 -10.9h0m-.7 -13.9h0m.7 4.6h0m-.2 -13.1h0m0 37.5h0m-1.3 -20.8h0m.4 -23.6h0m-.1 9.2h0m-.6 3h0m.4 4.8h0m1.5 -5.8h0m0 18.7h0m0 -12.1h0m-.8 12.1h0m-1.2 -10.9h0m3.2 -.7h0m-3.4 6.9h0m0 -9.6h0m1.5 -3.3h0m-.5 -2.5h0m0 4.6h0m.2 10.3h0m.6 -22.1h0m-.9 15.2h0m-.1 -6.2h0m.3 -.5h0m1.2 3.8h0m-.9 -1h0m.4 6.7h0m0 0h0m-.5 10.6h0m.5 .4h0m0 .2h0" stroke="#4a5ad8" stroke-opacity="0.320" stroke-width="0.75" stroke-linecap="round"/>
<text x="210.65" y="326.80" text-anchor="middle" font-family="Liberation Sans" font-size="6.2" textLength="5.90" lengthAdjust="spacingAndGlyphs" fill="#111" stroke="#111" stroke-width="0.15">11</text>
<line x1="207.05" x2="214.25" y1="361.50" y2="361.50" stroke="#0b0ba6" stroke-width="2.2" stroke-linecap="round"/>
<line x1="220.95" x2="220.95" y1="336.10" y2="377.40" stroke="#c8c8c8" stroke-width="0.5"/>
<line x1="219.75" x2="222.15" y1="336.10" y2="336.10" stroke="#bbb" stroke-width="0.6"/>
<line x1="219.75" x2="222.15" y1="377.40" y2="377.40" stroke="#bbb" stroke-width="0.6"/>
<rect x="218.25" y="352.00" width="5.4" height="9.80" fill="none" stroke="#c2c2c2" stroke-width="0.5"/>
<line x1="218.25" x2="223.65" y1="356.90" y2="356.90" stroke="#c2c2c2" stroke-width="0.5"/>
<polygon points="220.7,336.1 220.6,339.5 220.5,343.0 220.2,346.4 219.8,349.9 219.4,353.3 219.2,356.8 219.3,360.2 219.7,363.6 220.1,367.1 220.4,370.5 220.6,374.0 220.7,377.4 221.2,377.4 221.3,374.0 221.5,370.5 221.8,367.1 222.2,363.6 222.6,360.2 222.7,356.8 222.5,353.3 222.1,349.9 221.7,346.4 221.4,343.0 221.3,339.5 221.2,336.1" fill="#c0404e" fill-opacity="0.202"/>
<path d="M220.8 353.8h0m.1 2.8h0m.6 -10.9h0m-.2 13.7h0m-.7 -13.8h0m-.4 7.5h0m.4 11.3h0m.6 12h0m-.8 -8.9h0m1 -2.6h0m-1.8 -8.4h0m1.9 -.5h0m.9 .1h0m-1.5 -16.1h0m.9 12.9h0m.5 13.4h0m-.5 -2.5h0m-1.4 -19.8h0m.6 17h0m0 12.9h0m-.2 -30.6h0m1.6 11.2h0m-2.6 4.7h0m.9 -4.1h0m.5 3h0m-.4 -7.6h0m-.5 -4.6h0m.8 -8.9h0m1.1 24.5h0m-1.4 -10.6h0m.4 .8h0m-.8 16.5h0m-1.2 -14.8h0m1.1 -5.7h0m.4 4.1h0m.6 10.2h0m-1.9 2.8h0m1.8 -3h0m-.6 -11.6h0m.6 16.9h0m.6 -6.9h0m.2 -6.2h0m-2.2 -4.4h0m2.5 3.8h0m.1 7.9h0m-1.6 5.7h0m.6 -9.3h0m-.9 -11.5h0m.4 30.3h0m1.5 -20.8h0m-1.9 2h0m.5 -2.3h0m.7 5.9h0m-.2 -21.4h0m.4 12.4h0m-.2 10.8h0m-1 -6.4h0m.4 3.7h0m-.3 5h0m.1 -22.6h0m.3 9.8h0m-.8 -11.5h0m.2 6.3h0m1.1 13h0m-.8 -24.1h0m.4 20h0m-1.1 -4.8h0m.8 7.2h0m.3 -.2h0m0 5.1h0m-.1 -1h0m0 10.4h0m-.3 -20.2h0m-.1 14.5h0m-.1 -11.7h0m-.2 9.9h0m0 -2.6h0m-.4 -.8h0m1.2 -13.6h0m-.7 13.1h0m-1.3 -.8h0m2.7 -5h0m-.5 -1.5h0m-.7 21.8h0m.4 -11h0m-.6 -19.3h0m-.6 7.5h0m.4 13.1h0m-1 -8.6h0m1.2 2.9h0m.5 6.8h0m-.6 -21.6h0m.2 25.6h0m.6 3.5h0m-.9 -6.1h0m0 -24.3h0m1.4 15h0m-.2 -1.2h0m.8 -7.1h0m-1.2 10.8h0m.5 -.9h0m-1.3 -7.3h0m.7 -1.5h0m.4 -6.6h0m-.7 5.3h0m.8 11.9h0m-1.3 -14.2h0m.5 24.9h0m1.2 -10.5h0m-1.6 -10.3h0m.4 -11.3h0m-.2 15.5h0m.6 -12.7h0m-.2 12.3h0m1.2 5.8h0m-1.2 13.1h0m.4 -14.7h0m-.8 5h0m-1 -7.7h0m1 -14.5h0m-.2 19.3h0m.4 -6.1h0m0 -17.2h0m-.2 20.5h0m.8 -2.4h0m-.9 5.1h0m-.1 -13.4h0m.5 -5.8h0m1 7.3h0m-1.6 18.1h0m0 -3.9h0m.1 -10.6h0m.6 -9.1h0m-.1 12h0m.6 -14.8h0m-.8 20.9h0m.4 7.1h0m.5 -4.6h0m0 -6.5h0m-1 11.6h0" stroke="#c0404e" stroke-opacity="0.294" stroke-width="0.75" stroke-linecap="round"/>
<text x="220.95" y="334.80" text-anchor="middle" font-family="Liberation Sans" font-size="6.2" textLength="5.90" lengthAdjust="spacingAndGlyphs" fill="#111" stroke="#111" stroke-width="0.15">11</text>
<line x1="217.35" x2="224.55" y1="362.60" y2="362.60" stroke="#8c0d0d" stroke-width="2.2" stroke-linecap="round"/>
<line x1="231.25" x2="231.25" y1="338.10" y2="376.10" stroke="#c8c8c8" stroke-width="0.5"/>
<line x1="230.05" x2="232.45" y1="338.10" y2="338.10" stroke="#bbb" stroke-width="0.6"/>
<line x1="230.05" x2="232.45" y1="376.10" y2="376.10" stroke="#bbb" stroke-width="0.6"/>
<rect x="228.55" y="352.00" width="5.4" height="10.40" fill="none" stroke="#c2c2c2" stroke-width="0.5"/>
<line x1="228.55" x2="233.95" y1="357.20" y2="357.20" stroke="#c2c2c2" stroke-width="0.5"/>
<polygon points="230.9,338.1 230.8,341.3 230.6,344.4 230.3,347.6 229.9,350.8 229.6,353.9 229.5,357.1 229.6,360.3 229.9,363.4 230.3,366.6 230.6,369.8 230.8,372.9 230.9,376.1 231.6,376.1 231.7,372.9 231.9,369.8 232.2,366.6 232.6,363.4 232.9,360.3 233.0,357.1 232.9,353.9 232.6,350.8 232.2,347.6 231.9,344.4 231.7,341.3 231.6,338.1" fill="#48b03a" fill-opacity="0.202"/>
<path d="M232.0 354.7h0m-.8 1.5h0m1.5 8.9h0m-1.2 -12.3h0m0 -11.8h0m-.4 26.8h0m.3 -22.6h0m.5 -.4h0m.7 14.3h0m-1.8 -16h0m.7 25.2h0m.1 -7.1h0m-1.1 8h0m-.1 -14.5h0m1.2 3.6h0m.7 -3.1h0m-1.3 -6.4h0m.6 15.3h0m-.5 2.1h0m.2 -15.3h0m-.4 3.1h0m0 7.1h0m.7 5.6h0m-1 -20h0m1 7.9h0m-.4 -5h0m-1.3 9.7h0m.4 -.5h0m.5 -8.2h0m.6 6.8h0m-.5 -13.6h0m-1 8.7h0m1.8 17.5h0m-.7 -4.2h0m-.8 -11.2h0m-1.2 5.8h0m2.8 -10.8h0m.8 9.9h0m-1.2 -21.2h0m.6 20.7h0m-1.1 -17.9h0m-.2 22.2h0m.8 4.2h0m-.2 -21.7h0m.3 12.5h0m-.5 -12.6h0m.7 12.8h0m-.1 1.9h0m-.6 10.4h0m.1 -31.4h0m.5 6.9h0m.1 18.9h0m-.1 2.5h0m-.2 -2.2h0m-.1 -15.7h0m.5 2.1h0m-.2 8h0m-.8 -10.7h0m1.3 -8.3h0m-1.1 9.9h0m1 3.7h0m-.1 -1.8h0m-1 4.8h0m1.2 .1h0m-1.1 15.9h0m0 -34.1h0m-.1 8.8h0m1.3 10h0m-1.6 5.8h0m-.1 -16.1h0m.5 9h0m-.5 1.1h0m.6 9.4h0m.4 -13.5h0m-1.2 1.5h0m.7 15.3h0m.4 -21.4h0m-.9 -7h0m1.9 16.3h0m-.7 7.9h0m-.8 -5.9h0m-.9 -7h0m1.4 4.6h0m-.2 -.1h0m-.7 -5.6h0m-.4 .1h0m1.8 12.2h0m-1.3 1.9h0m2.3 -17h0m-2.5 6.9h0m.6 -10.1h0m.4 17.7h0m-.8 -18h0m.2 16.6h0m-.1 -6.7h0m.6 1.2h0m.5 17.2h0m-.5 -12.7h0m.4 2.7h0m-.8 9.3h0m.4 -12.2h0m.3 -7.1h0m-1 -3.1h0m-.3 -.7h0m1.5 2.9h0m-1.9 7.2h0m.5 -17.9h0m1 16.4h0m-.8 7.5h0m.2 -19.1h0m.5 -7.2h0m-.5 16h0m.6 2h0m.1 -19.8h0m-.1 12.4h0m.6 7.6h0m-.5 -15.3h0m-.6 1.8h0m-.2 -5.1h0m-.2 29.2h0m.2 -29h0m-.6 8.6h0m0 5.2h0m1.7 -7.3h0m-1.7 16h0m.8 -6.8h0m-.4 3.5h0m.9 2.8h0m1.2 -10.6h0m-1.8 20.7h0m.1 -8.3h0m.9 -12.5h0m.4 5.7h0m-1.5 7.8h0m0 4.4h0m.3 -27.1h0m.2 24.2h0m.2 -11h0m-.2 5.5h0" stroke="#48b03a" stroke-opacity="0.294" stroke-width="0.75" stroke-linecap="round"/>
<text x="231.25" y="336.40" text-anchor="middle" font-family="Liberation Sans" font-size="6.2" textLength="5.90" lengthAdjust="spacingAndGlyphs" fill="#111" stroke="#111" stroke-width="0.15">12</text>
<line x1="227.65" x2="234.85" y1="370.60" y2="370.60" stroke="#2f9e12" stroke-width="2.2" stroke-linecap="round"/>
<line x1="241.55" x2="241.55" y1="314.40" y2="368.30" stroke="#c8c8c8" stroke-width="0.5"/>
<line x1="240.35" x2="242.75" y1="314.40" y2="314.40" stroke="#bbb" stroke-width="0.6"/>
<line x1="240.35" x2="242.75" y1="368.30" y2="368.30" stroke="#bbb" stroke-width="0.6"/>
<rect x="238.85" y="334.20" width="5.4" height="14.10" fill="none" stroke="#c2c2c2" stroke-width="0.5"/>
<line x1="238.85" x2="244.25" y1="341.25" y2="341.25" stroke="#c2c2c2" stroke-width="0.5"/>
<polygon points="241.2,314.4 241.1,318.9 241.0,323.4 240.6,327.9 240.3,332.4 239.9,336.9 239.8,341.4 239.9,345.8 240.3,350.3 240.7,354.8 241.0,359.3 241.2,363.8 241.2,368.3 241.9,368.3 241.9,363.8 242.1,359.3 242.4,354.8 242.8,350.3 243.2,345.8 243.3,341.4 243.2,336.9 242.8,332.4 242.5,327.9 242.1,323.4 242.0,318.9 241.9,314.4" fill="#bcbc38" fill-opacity="0.165"/>
<path d="M242.1 361.6h0m-.5 -10.4h0m-.8 -12.5h0m1.8 -9.3h0m-.2 -3h0m-.7 -4.8h0m-.3 -2.2h0m-1.2 29.7h0m1.6 -31.7h0m-.6 21h0m-.1 21.8h0m-.3 -1.7h0m1 -4.4h0m-.6 .9h0m.7 -31.3h0m0 32.5h0m-.7 -10h0m-1.5 -5.1h0m2.2 21.7h0m-.5 -38.1h0m0 41.8h0m.2 -47.7h0m-.1 31.3h0m.6 -4.1h0m-.8 15.1h0m-.2 -14.6h0m.4 -5.8h0m-.9 -12.3h0m2.7 10.8h0m.1 1.8h0m-1.8 9.3h0m.4 4.9h0m-1.9 -1.9h0m-.8 -10.8h0m.8 -1.5h0m1.9 2.2h0m-.6 -17h0m.2 23.8h0m-.7 -1.3h0m.7 -23.6h0m.1 -9.1h0m.1 7.6h0m-.4 5.2h0m.6 16.5h0m-.7 13.4h0m.8 -34.6h0m-.3 14.6h0m-.2 -4.9h0m-.3 25.9h0m.1 -4.8h0m1.8 -18.4h0m-.9 2.5h0m.5 -9.4h0m-1.9 -.4h0m.1 -2.5h0m.2 25.6h0m.2 -.5h0m.4 15.4h0m-.6 -24.2h0m-.1 14h0m.6 -13.4h0m-.7 5.4h0m1.1 -27.6h0m-.3 -4.3h0m-1.6 21.9h0m0 -6h0m1.7 3.1h0m-1.6 13.6h0m3.5 -5.7h0m-1.8 -10.9h0m-.3 23.4h0m.7 -12.2h0m-.9 -19.5h0m-.1 14.6h0m.5 6h0m-.5 -5.8h0m.1 -8.3h0m-.6 16.2h0m-.9 -4.7h0m1.1 -6.6h0m-.1 15.6h0m.5 -27.9h0m.8 35.6h0m-.2 -34.9h0m-.4 18.2h0m0 7.9h0m.6 -3.9h0m-1 -28.5h0m-.1 36.8h0m1.2 -17.1h0m-1.2 -1.6h0m1.5 5.8h0m-.9 -6.4h0m-.4 -.3h0m.7 18.4h0m-1.5 -13.3h0m1 -25.6h0m-.2 30.6h0m.2 10.1h0m-.6 -22.6h0m1.4 -5.7h0m-1.9 9.2h0m1.7 -1.5h0m-1.4 -1.5h0m1.4 -7.5h0m-.7 18.9h0m-.2 12.2h0m.3 -19.7h0m1.6 -4.8h0m-2.5 20.8h0m-.2 -9.1h0m.9 7.4h0m-.3 8.6h0m0 -10.3h0m.9 -5h0m.4 -1.9h0m-1.3 11.3h0m.6 10.9h0m-.8 -30.5h0m.5 -19.2h0m-.3 13.9h0m.6 -3.6h0m.3 -4.6h0m-2.5 24.9h0m2.5 5.9h0m1.5 -8.4h0m-.5 4.1h0m-1.8 -2h0m1.2 -8.9h0m-1 -5.2h0m1.7 13.4h0m-1.8 6.1h0m.5 -.7h0m-1.2 -11.3h0m.7 4.2h0m-.4 -7.2h0m1.1 6.2h0m.5 8.3h0m-1.8 4h0m.4 -4h0m.6 -26.2h0m.2 22.6h0m-.6 6.3h0m.9 -29.2h0m-.5 -9.5h0m-.4 37.7h0m.6 -13.8h0m-.1 5.4h0m-1.5 -16.2h0m.6 -6.2h0m1.1 37.5h0m-1.2 -33.7h0m1 14.3h0m-1.2 -6h0m1.5 3h0m-.2 10.2h0m-.6 14.1h0m.6 -25.7h0m.3 2.6h0m-.8 -7.7h0m1.4 2.1h0m-2.1 14.9h0m1.6 -8.1h0m-1.4 -1.9h0m1.7 -1.2h0m-.6 -.1h0m-.1 2.2h0m-.4 -8.4h0m-.2 27.2h0m1.5 -11.6h0m-.7 -15.1h0m-1 13.3h0m.6 14.5h0m-.5 -4h0m.1 -19.7h0m.2 .2h0m0 -.8h0m.4 10h0m-.3 -20.3h0m-.1 26.3h0m1.4 -13.9h0m-1.2 10.4h0m.1 -13.5h0m-.2 16.1h0m.8 -15.3h0m-.2 -10.4h0m-.7 18.8h0m1 24.7h0m-2.4 -25.3h0m1.6 -17.3h0m-.4 31.7h0m-.5 -13h0" stroke="#bcbc38" stroke-opacity="0.240" stroke-width="0.75" stroke-linecap="round"/>
<text x="241.55" y="312.40" text-anchor="middle" font-family="Liberation Sans" font-size="6.2" fill="#111" stroke="#111" stroke-width="0.15">6</text>
<line x1="237.95" x2="245.15" y1="377.70" y2="377.70" stroke="#a3a30c" stroke-width="2.2" stroke-linecap="round"/>
<line x1="262.10" x2="262.10" y1="329.50" y2="387.10" stroke="#c8c8c8" stroke-width="0.5"/>
<line x1="260.90" x2="263.30" y1="329.50" y2="329.50" stroke="#bbb" stroke-width="0.6"/>
<line x1="260.90" x2="263.30" y1="387.10" y2="387.10" stroke="#bbb" stroke-width="0.6"/>
<rect x="259.40" y="350.30" width="5.4" height="16.00" fill="none" stroke="#c2c2c2" stroke-width="0.5"/>
<line x1="259.40" x2="264.80" y1="358.30" y2="358.30" stroke="#c2c2c2" stroke-width="0.5"/>
<polygon points="261.8,329.5 261.7,334.3 261.4,339.1 261.1,343.9 260.8,348.7 260.5,353.5 260.4,358.3 260.5,363.1 260.8,367.9 261.1,372.7 261.4,377.5 261.7,382.3 261.8,387.1 262.4,387.1 262.5,382.3 262.8,377.5 263.1,372.7 263.4,367.9 263.7,363.1 263.9,358.3 263.7,353.5 263.4,348.7 263.1,343.9 262.8,339.1 262.5,334.3 262.4,329.5" fill="#4a5ad8" fill-opacity="0.220"/>
<path d="M261.7 382.6h0m-.3 -38h0m.4 24.6h0m-1.3 -12.8h0m1.7 -18.7h0m.5 8h0m-.7 16.6h0m.3 1.8h0m-.9 -31.3h0m.1 6.4h0m.2 7.1h0m1.4 6.1h0m-.3 -2.1h0m-1.6 -8.8h0m.3 19.5h0m.7 17.9h0m-.1 -19.2h0m.4 .1h0m-.7 -13.9h0m.3 37.6h0m-.2 -7.9h0m.9 8.7h0m-.4 -35.1h0m.4 2.5h0m-2.3 10.6h0m2.3 -18.5h0m-.9 10.6h0m-.8 2.8h0m1.2 13h0m-.3 4.3h0m0 -26h0m-.5 -7.6h0m.4 43.2h0m.7 -28.3h0m-.7 -22.2h0m1.3 27.1h0m-1.2 -9.9h0m-.1 31.7h0m.8 -24.8h0m.3 -21.1h0m-1.4 16h0m.7 7.2h0m.1 -22.4h0m0 25.1h0m.7 -23.9h0m-.2 16.8h0m.1 19.5h0m.1 -22.4h0m-.5 31.3h0m.2 -42.4h0m-1.7 7.6h0m.7 -10.4h0m0 5.3h0m1.3 25.6h0m-1 -16h0m.2 -.2h0m0 13.7h0m-.2 -35.3h0m.3 31.2h0m.1 8.9h0m.1 6.3h0m-.3 -21.4h0m-.3 4.7h0m.1 -8.3h0m-1 6.6h0m.8 -4.3h0m.9 8.1h0m-.4 -20.8h0m1.1 18.4h0m-2.5 9.4h0m2 -5.7h0m-.9 -20.2h0m0 -4.2h0m-.7 13.1h0m.1 10.2h0m1.2 10.5h0m-1.5 -15.7h0m.3 22.8h0m1.9 -20.2h0m-1.2 20.9h0m.5 -13.7h0m-.1 -12.1h0m-.3 28.9h0m-.6 -3h0m.8 -30.9h0m-1.1 11.3h0m0 6h0m.4 -14.1h0m1.8 4.5h0m-1.3 -19.7h0m-.3 14.3h0m-.1 -19.5h0m.4 20.2h0m.1 -1.3h0m-.3 25.5h0m.1 -22.7h0m-1.2 5.7h0m.9 6.6h0m1.4 -12.6h0m-1.9 -24.4h0m.9 25.9h0m-1.3 -11.1h0m1.4 -12.5h0m.6 35.7h0m-.2 -13.3h0m-.1 7.7h0m-1.6 5.1h0m2.1 -7.6h0m.8 -8.6h0m-1.8 12.9h0m0 11.5h0m.1 -.5h0m-1.6 -7.5h0m.1 .4h0m1.7 -4.1h0m-.3 -26.3h0m-.1 -8.5h0m.1 35.5h0m.3 -20.7h0m1 3.7h0m-1.1 36.4h0m1.2 -24.2h0m-.5 -10.7h0m-.8 19.5h0m.4 -17.6h0m-.1 1h0m.1 19h0m-.7 -7.8h0m1.9 -6.6h0m-1.2 -3.9h0m-1.2 -6.2h0m1.3 35.5h0m.1 -39.4h0m-1.1 17.9h0m.6 12.6h0m.3 -20.8h0m-.8 5.1h0m-.1 1h0m.5 -6.9h0m.4 -10.5h0m.2 18.8h0m-.3 -8.5h0m.2 17h0m-.5 16.8h0m-2 -25h0m2.1 2.5h0m-1.1 -11.8h0m.8 18.1h0m.4 -23.4h0m-.1 13.2h0m.5 11.6h0m-1.6 -8.4h0m.4 -28.5h0m1.6 21.6h0m-1.2 -5.6h0m-1.7 5.7h0m1.5 24.7h0m.5 -35.9h0m-.2 10.6h0m-.5 8.2h0m-.3 -22.9h0m1.3 42.4h0m-1.7 -15.1h0m0 -3.3h0m-.1 -14.3h0m1.1 0h0m.4 27.1h0m.1 -1.5h0m.3 -27.8h0m-.8 2.4h0m-.5 11.1h0m1.4 -12.2h0m-.7 -10.5h0m-.9 37.1h0m1 -17h0m-.5 8.8h0m.6 -18.9h0m.2 19h0m-.3 -16h0m.2 12.1h0m-1 -32.1h0m.6 5.5h0m-.3 2.9h0m.4 19.9h0m.4 .2h0m-.5 -8.8h0m-.6 5.6h0m.3 1.3h0m.5 -6h0m.6 5.4h0m-.4 15h0m.5 -21.5h0m-.5 29.7h0m.2 -9.4h0m-.2 -6h0m-1.4 -11h0m.9 2.1h0m.4 -13.8h0" stroke="#4a5ad8" stroke-opacity="0.320" stroke-width="0.75" stroke-linecap="round"/>
<text x="262.10" y="327.60" text-anchor="middle" font-family="Liberation Sans" font-size="6.2" fill="#111" stroke="#111" stroke-width="0.15">7</text>
<line x1="258.50" x2="265.70" y1="344.00" y2="344.00" stroke="#0b0ba6" stroke-width="2.2" stroke-linecap="round"/>
<line x1="272.40" x2="272.40" y1="351.30" y2="385.30" stroke="#c8c8c8" stroke-width="0.5"/>
<line x1="271.20" x2="273.60" y1="351.30" y2="351.30" stroke="#bbb" stroke-width="0.6"/>
<line x1="271.20" x2="273.60" y1="385.30" y2="385.30" stroke="#bbb" stroke-width="0.6"/>
<rect x="269.70" y="360.80" width="5.4" height="10.40" fill="none" stroke="#c2c2c2" stroke-width="0.5"/>
<line x1="269.70" x2="275.10" y1="366.00" y2="366.00" stroke="#c2c2c2" stroke-width="0.5"/>
<polygon points="271.9,351.3 271.7,354.1 271.4,357.0 271.1,359.8 270.8,362.6 270.7,365.5 270.7,368.3 270.9,371.1 271.3,374.0 271.6,376.8 271.8,379.6 272.0,382.5 272.1,385.3 272.7,385.3 272.8,382.5 273.0,379.6 273.2,376.8 273.5,374.0 273.9,371.1 274.1,368.3 274.1,365.5 274.0,362.6 273.7,359.8 273.4,357.0 273.1,354.1 272.9,351.3" fill="#c0404e" fill-opacity="0.202"/>
<path d="M273.7 362.3h0m-2.3 9.4h0m1.8 -10.6h0m-.6 9.7h0m.4 2.5h0m-1 -11.9h0m.4 18.4h0m-.1 -20.5h0m1 -6.3h0m-.8 9.1h0m0 16.3h0m0 4.9h0m-1.4 -17.9h0m.3 -4h0m1.1 21.1h0m-1.3 -13.1h0m2 14.7h0m-.7 -26.4h0m-.6 14.9h0m1.8 -4h0m-.1 -10.8h0m-1.2 16.7h0m.3 -6.2h0m-1 -13.2h0m-.3 7.9h0m1.6 19.5h0m-.3 -15.7h0m.8 -1.8h0m-.2 3.5h0m.6 2.6h0m-1.4 -2.8h0m.1 3h0m-.5 -7.9h0m.3 -3.3h0m.5 -3.3h0m-.7 6.8h0m-.2 2.2h0m-1.5 -2.9h0m3.3 8.8h0m-.6 3.1h0m-2.3 -11.8h0m1.5 -7.1h0m.4 17.8h0m.8 -9.8h0m-1.9 -5.6h0m.4 6.4h0m1.1 5.6h0m-1 -18.4h0m0 17.4h0m.6 -1.4h0m-1 4.9h0m2.8 -1.2h0m-2.5 -2.6h0m.5 3h0m.4 8.8h0m-.4 -18.4h0m0 2.3h0m-.9 3.6h0m.5 6.3h0m0 -1.7h0m1 0h0m-2 -5.7h0m1.6 -13.9h0m-.1 3.3h0m.7 3.7h0m-1.4 9.5h0m.7 12.6h0m.7 -19.2h0m-.1 -1.9h0m-1.6 17.4h0m1.4 -22.4h0m-.8 13.1h0m.1 10.8h0m0 -.5h0m1 -19.5h0m.6 1.6h0m-2 7.4h0m.9 -5.2h0m.3 8.6h0m-.5 -20.6h0m-.1 1.2h0m.2 12.4h0m-.1 7.1h0m-1.3 -1.1h0m1.8 -6.5h0m-.1 6.8h0m-1.1 -3.1h0m.1 -11.7h0m1.6 .7h0m-1.3 6.7h0m1.2 -3.8h0m-.7 10.1h0m-1.2 4.1h0m-.8 -10.2h0m.8 2.8h0m.7 -4.5h0m-.4 16.6h0m1 -14.8h0m-.5 8.7h0m-.3 -21.3h0m.1 22.4h0m-.1 -.7h0m.4 -4.3h0m-.1 -8h0m.1 2.8h0m-1.2 5.7h0m1.8 -5.9h0m-1.1 -1.7h0m-.5 -6.5h0m.7 21.4h0m0 -4h0m.4 -9.5h0m-.7 9.3h0m-.1 -.1h0m.9 -14.4h0m-.6 6.7h0m.7 10.1h0m.2 -12.9h0m-.7 20h0m-1 -21.6h0m-1.1 4.3h0m1.6 -9.8h0m.7 5.5h0m-2 2.3h0m2.3 9.9h0m.4 -5.2h0m-1.3 -15.1h0m0 15.7h0m-.2 -14.1h0m.8 11.9h0m-.4 -1.8h0" stroke="#c0404e" stroke-opacity="0.294" stroke-width="0.75" stroke-linecap="round"/>
<text x="272.40" y="349.70" text-anchor="middle" font-family="Liberation Sans" font-size="6.2" fill="#111" stroke="#111" stroke-width="0.15">7</text>
<line x1="268.80" x2="276.00" y1="347.30" y2="347.30" stroke="#8c0d0d" stroke-width="2.2" stroke-linecap="round"/>
<line x1="282.70" x2="282.70" y1="354.00" y2="389.60" stroke="#c8c8c8" stroke-width="0.5"/>
<line x1="281.50" x2="283.90" y1="354.00" y2="354.00" stroke="#bbb" stroke-width="0.6"/>
<line x1="281.50" x2="283.90" y1="389.60" y2="389.60" stroke="#bbb" stroke-width="0.6"/>
<rect x="280.00" y="366.30" width="5.4" height="6.70" fill="none" stroke="#c2c2c2" stroke-width="0.5"/>
<line x1="280.00" x2="285.40" y1="369.65" y2="369.65" stroke="#c2c2c2" stroke-width="0.5"/>
<polygon points="282.4,354.0 282.4,357.0 282.2,359.9 281.9,362.9 281.3,365.9 281.0,368.8 281.1,371.8 281.6,374.8 282.1,377.7 282.3,380.7 282.4,383.7 282.4,386.6 282.4,389.6 283.0,389.6 283.0,386.6 283.0,383.7 283.1,380.7 283.3,377.7 283.8,374.8 284.3,371.8 284.4,368.8 284.1,365.9 283.5,362.9 283.2,359.9 283.0,357.0 283.0,354.0" fill="#48b03a" fill-opacity="0.202"/>
<path d="M282.9 362.8h0m-.8 11.5h0m0 -7.7h0m1.2 -3.2h0m-.4 10.8h0m-.4 -3h0m-.7 -2.1h0m1.7 2.1h0m-1.3 .1h0m.6 7h0m.6 -3.5h0m-.9 4h0m-.1 -21.7h0m.1 9h0m1.3 .1h0m-.3 7.8h0m-.8 -.4h0m0 -7.6h0m-.4 4.7h0m-.3 .6h0m1.9 -2.7h0m-1.4 12.6h0m-.4 -3.1h0m.7 7.5h0m.4 -17.5h0m-.8 1h0m.5 8.8h0m0 -17.6h0m-.4 -2.1h0m-.2 4h0m.5 1.7h0m.3 -1.8h0m.2 7.5h0m-.7 -2.7h0m-.2 7.3h0m.1 -5.8h0m.1 2.4h0m.6 -3.2h0m-.6 -4.7h0m-.9 5.6h0m2.2 1.6h0m-1.2 15.8h0m.1 -15.5h0m-.4 -5.9h0m.3 .3h0m-.4 -.7h0m.9 10.8h0m0 -12h0m-1 -5.4h0m.3 12.5h0m.1 7.8h0m.4 -9.3h0m-.2 -6.7h0m-.7 4.5h0m.5 20.8h0m.2 -13.1h0m-.3 -1.3h0m-.2 11.9h0m.4 -12.9h0m.2 -11.4h0m1.3 8.6h0m-1.2 -13h0m-.9 12.7h0m1.3 -.9h0m0 2.1h0m-.6 -14.1h0m-.6 17.2h0m-.2 -1.7h0m1.3 3.4h0m-1.9 -4.4h0m1.1 12.2h0m.9 -9.4h0m-1.1 -2.3h0m.9 -8.7h0m-.4 8.3h0m.4 -4.3h0m-.8 .3h0m-.8 2.9h0m1.4 4.2h0m-.3 -4.4h0m1 4.1h0m-.5 8.6h0m-.4 -19.1h0m-.6 -1.1h0m-.2 4.9h0m.4 15h0m-.1 -14.8h0m1.2 6.7h0m.5 -2.3h0m-1 -12.5h0m-1.1 10.6h0m.2 14.9h0m.5 -14.8h0m.4 10.5h0m-.5 -11.2h0m.5 -7.7h0m-.9 10.4h0m1.1 -3.8h0m0 2.4h0m-.7 -1h0m.1 13.8h0m.5 -25h0m-.2 22.2h0m-.5 -11.3h0m.8 -5.1h0m.9 5.7h0" stroke="#48b03a" stroke-opacity="0.294" stroke-width="0.75" stroke-linecap="round"/>
<text x="282.70" y="352.10" text-anchor="middle" font-family="Liberation Sans" font-size="6.2" fill="#111" stroke="#111" stroke-width="0.15">7</text>
<line x1="279.10" x2="286.30" y1="375.20" y2="375.20" stroke="#2f9e12" stroke-width="2.2" stroke-linecap="round"/>
<line x1="293.00" x2="293.00" y1="360.10" y2="370.00" stroke="#c8c8c8" stroke-width="0.5"/>
<line x1="291.80" x2="294.20" y1="360.10" y2="360.10" stroke="#bbb" stroke-width="0.6"/>
<line x1="291.80" x2="294.20" y1="370.00" y2="370.00" stroke="#bbb" stroke-width="0.6"/>
<rect x="290.30" y="364.40" width="5.4" height="4.90" fill="none" stroke="#c2c2c2" stroke-width="0.5"/>
<line x1="290.30" x2="295.70" y1="366.85" y2="366.85" stroke="#c2c2c2" stroke-width="0.5"/>
<polygon points="292.5,360.1 292.4,360.9 292.2,361.8 292.0,362.6 291.8,363.4 291.6,364.2 291.4,365.1 291.3,365.9 291.3,366.7 291.3,367.5 291.4,368.4 291.5,369.2 291.7,370.0 294.3,370.0 294.5,369.2 294.6,368.4 294.7,367.5 294.7,366.7 294.7,365.9 294.6,365.1 294.4,364.2 294.2,363.4 294.0,362.6 293.8,361.8 293.6,360.9 293.5,360.1" fill="#bcbc38" fill-opacity="0.165"/>
<path d="M293.2 365.8h0m-.3 1.1h0m1.3 -1.3h0m-1.1 -4h0m-.8 -.1h0m1.1 5.2h0m.1 2.1h0m.1 -1.9h0m-1.7 -5.8h0m.8 1.7h0m-.4 3.7h0m1.8 1.5h0m-1.5 -2.3h0m.2 -3.1h0m.4 .6h0m.2 2h0m.7 2.6h0m-.6 -1.5h0m-1.3 -5h0m.8 2.6h0m-.3 4.4h0m1.4 -3.4h0m-.9 .1h0m-1.4 2.4h0m1.5 -6.1h0m-1.3 -.2h0m2.4 8.4h0m-2.1 -2.8h0m-.8 -1.2h0m1.6 4.3h0m-.2 -4.3h0m.1 -.7h0m-.2 2.5h0m.9 -.6h0m0 -1.8h0m-2 -.2h0m1.9 4.7h0m-1.1 -4.5h0m.8 -1.8h0m1 4.1h0m.8 .6h0m-1.7 1.8h0m.7 -4.2h0" stroke="#bcbc38" stroke-opacity="0.240" stroke-width="0.75" stroke-linecap="round"/>
<text x="293.00" y="358.30" text-anchor="middle" font-family="Liberation Sans" font-size="6.2" fill="#111" stroke="#111" stroke-width="0.15">3</text>
<line x1="289.40" x2="296.60" y1="367.10" y2="367.10" stroke="#a3a30c" stroke-width="2.2" stroke-linecap="round"/>
<line x1="313.55" x2="313.55" y1="373.50" y2="373.50" stroke="#c8c8c8" stroke-width="0.5"/>
<line x1="312.35" x2="314.75" y1="373.50" y2="373.50" stroke="#bbb" stroke-width="0.6"/>
<line x1="312.35" x2="314.75" y1="373.50" y2="373.50" stroke="#bbb" stroke-width="0.6"/>
<path d="M312.8 373.5h0m1.4 0h0m-.2 0h0m-1.1 0h0m1.8 0h0m-.4 0h0m-1.4 0h0m1.1 0h0m.4 0h0m-.8 0h0" stroke="#4a5ad8" stroke-opacity="0.320" stroke-width="0.75" stroke-linecap="round"/>
<text x="313.55" y="372.20" text-anchor="middle" font-family="Liberation Sans" font-size="6.2" fill="#111" stroke="#111" stroke-width="0.15">1</text>
<line x1="309.95" x2="317.15" y1="353.30" y2="353.30" stroke="#0b0ba6" stroke-width="2.2" stroke-linecap="round"/>
<line x1="323.85" x2="323.85" y1="373.90" y2="373.90" stroke="#c8c8c8" stroke-width="0.5"/>
<line x1="322.65" x2="325.05" y1="373.90" y2="373.90" stroke="#bbb" stroke-width="0.6"/>
<line x1="322.65" x2="325.05" y1="373.90" y2="373.90" stroke="#bbb" stroke-width="0.6"/>
<path d="M323.7 373.9h0m-.8 0h0m2.5 0h0m-.8 0h0m-.5 0h0m-1.6 0h0m.2 0h0" stroke="#c0404e" stroke-opacity="0.294" stroke-width="0.75" stroke-linecap="round"/>
<text x="323.85" y="372.20" text-anchor="middle" font-family="Liberation Sans" font-size="6.2" fill="#111" stroke="#111" stroke-width="0.15">1</text>
<line x1="320.25" x2="327.45" y1="380.90" y2="380.90" stroke="#8c0d0d" stroke-width="2.2" stroke-linecap="round"/>
<line x1="334.15" x2="334.15" y1="374.70" y2="374.70" stroke="#c8c8c8" stroke-width="0.5"/>
<line x1="332.95" x2="335.35" y1="374.70" y2="374.70" stroke="#bbb" stroke-width="0.6"/>
<line x1="332.95" x2="335.35" y1="374.70" y2="374.70" stroke="#bbb" stroke-width="0.6"/>
<path d="M334.7 374.7h0m-.6 0h0m1.1 0h0m-.2 0h0m-2.3 0h0m3.2 0h0m-1 0h0m-1.3 0h0m-2 0h0" stroke="#48b03a" stroke-opacity="0.294" stroke-width="0.75" stroke-linecap="round"/>
<text x="334.15" y="373.20" text-anchor="middle" font-family="Liberation Sans" font-size="6.2" fill="#111" stroke="#111" stroke-width="0.15">1</text>
<line x1="330.55" x2="337.75" y1="395.60" y2="395.60" stroke="#2f9e12" stroke-width="2.2" stroke-linecap="round"/>
<line x1="340.85" x2="348.05" y1="394.30" y2="394.30" stroke="#a3a30c" stroke-width="2.2" stroke-linecap="round"/>
<line x1="365.00" x2="365.00" y1="335.00" y2="356.50" stroke="#c8c8c8" stroke-width="0.5"/>
<line x1="363.80" x2="366.20" y1="335.00" y2="335.00" stroke="#bbb" stroke-width="0.6"/>
<line x1="363.80" x2="366.20" y1="356.50" y2="356.50" stroke="#bbb" stroke-width="0.6"/>
<rect x="362.30" y="341.80" width="5.4" height="6.70" fill="none" stroke="#c2c2c2" stroke-width="0.5"/>
<line x1="362.30" x2="367.70" y1="345.15" y2="345.15" stroke="#c2c2c2" stroke-width="0.5"/>
<polygon points="364.6,335.0 364.4,336.8 364.1,338.6 363.8,340.4 363.5,342.2 363.3,344.0 363.3,345.8 363.4,347.5 363.7,349.3 364.0,351.1 364.3,352.9 364.5,354.7 364.6,356.5 365.4,356.5 365.5,354.7 365.7,352.9 366.0,351.1 366.3,349.3 366.6,347.5 366.7,345.8 366.7,344.0 366.5,342.2 366.2,340.4 365.9,338.6 365.6,336.8 365.4,335.0" fill="#4a5ad8" fill-opacity="0.220"/>
<path d="M364.8 345.5h0m-.9 .5h0m1.1 5.6h0m.3 -13h0m-.3 -3.4h0m.7 11.3h0m-.5 -2.9h0m1.3 .3h0m-1.4 -8.5h0m0 20.2h0m.1 -4.7h0m.1 -11.4h0m-.7 13h0m.1 -1h0m.9 -1.9h0m-.5 1.1h0m1 -9.2h0m-1.4 -4.3h0m.7 17h0m-.4 -15.8h0m-.5 -.7h0m.9 10.5h0m-.8 1.2h0m-.9 .9h0m.4 -6.5h0m1.4 -6.2h0m-.3 16.9h0m-.5 -12.3h0m1.7 1h0m-.9 4.5h0m-1.4 .7h0m2.2 -6.7h0m-1.7 .2h0m1.1 1.2h0m-.4 1.4h0m-.4 5.4h0m-.6 -8.1h0m1.8 4.5h0m-1.3 -2.1h0m.4 3.4h0m.6 -3.4h0m-.4 -5.9h0m-1.5 5.3h0m1 11.6h0m1.4 -7.7h0m-1.9 -4.7h0m0 0h0m1.1 3.4h0m-.7 -.4h0m.4 -2.4h0m-.1 1.6h0m.3 -9.5h0m-1.1 12.2h0m1.2 -7.2h0m-1.1 -1.8h0m.2 5.3h0m.8 -.2h0m.2 -.8h0m-1.4 2.3h0m.6 1.9h0m.2 -7.2h0m-.1 11.3h0m-1.2 -10.3h0m3.5 3.3h0m-2.3 -4.3h0m-1.2 4.9h0m1.8 5.3h0m-.8 -14.8h0m1.2 6.5h0m-1.6 10.6h0m.8 -3.2h0m0 -13.1h0m-.7 7.5h0m1.3 -2.5h0m-1.8 4.1h0m.4 -8.9h0m.8 12.5h0m0 -8.3h0m-1 10.5h0m1 5.2h0m-.5 -12.6h0m.9 -2.1h0m.7 1.6h0m-.7 .5h0" stroke="#4a5ad8" stroke-opacity="0.320" stroke-width="0.75" stroke-linecap="round"/>
<text x="365.00" y="333.10" text-anchor="middle" font-family="Liberation Sans" font-size="6.2" textLength="5.90" lengthAdjust="spacingAndGlyphs" fill="#111" stroke="#111" stroke-width="0.15">17</text>
<line x1="361.40" x2="368.60" y1="358.60" y2="358.60" stroke="#0b0ba6" stroke-width="2.2" stroke-linecap="round"/>
<line x1="375.30" x2="375.30" y1="335.00" y2="358.30" stroke="#c8c8c8" stroke-width="0.5"/>
<line x1="374.10" x2="376.50" y1="335.00" y2="335.00" stroke="#bbb" stroke-width="0.6"/>
<line x1="374.10" x2="376.50" y1="358.30" y2="358.30" stroke="#bbb" stroke-width="0.6"/>
<rect x="372.60" y="343.60" width="5.4" height="5.50" fill="none" stroke="#c2c2c2" stroke-width="0.5"/>
<line x1="372.60" x2="378.00" y1="346.35" y2="346.35" stroke="#c2c2c2" stroke-width="0.5"/>
<polygon points="375.0,335.0 374.9,336.9 374.8,338.9 374.5,340.8 374.0,342.8 373.7,344.7 373.6,346.6 373.8,348.6 374.2,350.5 374.6,352.5 374.8,354.4 375.0,356.4 375.0,358.3 375.6,358.3 375.6,356.4 375.8,354.4 376.0,352.5 376.4,350.5 376.8,348.6 377.0,346.6 376.9,344.7 376.6,342.8 376.1,340.8 375.8,338.9 375.7,336.9 375.6,335.0" fill="#c0404e" fill-opacity="0.202"/>
<path d="M375.7 353.4h0m-2 -8.1h0m2.4 3.8h0m-.2 -.7h0m-1 -5.4h0m.6 6.8h0m-.5 6.4h0m-.2 -15.1h0m.5 10.8h0m-1 -7.2h0m.8 2.4h0m-.3 1.5h0m0 .1h0m-.5 -4.7h0m-.2 -.1h0m1.8 -1h0m-.4 -2.8h0m.7 1h0m-1.3 2.6h0m-1.7 3.8h0m1.7 4.6h0m-.8 -10.4h0m.2 3.3h0m.6 .5h0m0 -6.6h0m-.6 9.4h0m.8 8.3h0m.4 -6.7h0m-.6 -12.7h0m-.1 10.6h0m-.2 3.5h0m.9 -8.6h0m.2 11.5h0m-1.1 -3.9h0m1.1 -5.4h0m-1.8 2.2h0m1.2 -.7h0m0 1.4h0m-.1 -1h0m1 -3.7h0m-1.1 -2.7h0m-.5 3.2h0m.4 -.4h0m0 3.5h0m1.7 -2.4h0m-1.1 13.8h0m.3 -14.8h0m-.6 1.6h0m-.1 4.6h0m.2 -1.1h0m-.5 -5.6h0m-.6 3.3h0m2.3 2.2h0m-.5 1.6h0m-.3 1.6h0m-.2 -9.5h0m.1 5.3h0m-.1 -1.7h0m-.1 7.1h0m.7 -11.5h0m.1 -.2h0m-1 4.5h0m0 -6.7h0m.3 4.9h0m-.7 .6h0m1.5 3.7h0m-1.6 -7.7h0m.6 4.7h0m-.2 7.8h0m-.5 -6.9h0m1.6 -2.1h0m-.6 4.9h0m-.3 8.4h0m0 -15.6h0m.4 10.1h0m-.9 -6.2h0m.9 -9h0" stroke="#c0404e" stroke-opacity="0.294" stroke-width="0.75" stroke-linecap="round"/>
<text x="375.30" y="333.10" text-anchor="middle" font-family="Liberation Sans" font-size="6.2" textLength="5.90" lengthAdjust="spacingAndGlyphs" fill="#111" stroke="#111" stroke-width="0.15">17</text>
<line x1="371.70" x2="378.90" y1="364.20" y2="364.20" stroke="#8c0d0d" stroke-width="2.2" stroke-linecap="round"/>
<line x1="385.60" x2="385.60" y1="339.70" y2="358.30" stroke="#c8c8c8" stroke-width="0.5"/>
<line x1="384.40" x2="386.80" y1="339.70" y2="339.70" stroke="#bbb" stroke-width="0.6"/>
<line x1="384.40" x2="386.80" y1="358.30" y2="358.30" stroke="#bbb" stroke-width="0.6"/>
<rect x="382.90" y="346.00" width="5.4" height="5.60" fill="none" stroke="#c2c2c2" stroke-width="0.5"/>
<line x1="382.90" x2="388.30" y1="348.80" y2="348.80" stroke="#c2c2c2" stroke-width="0.5"/>
<polygon points="385.2,339.7 385.1,341.2 384.8,342.8 384.5,344.4 384.2,345.9 383.9,347.4 383.9,349.0 384.0,350.6 384.3,352.1 384.6,353.6 384.9,355.2 385.1,356.8 385.2,358.3 386.0,358.3 386.1,356.8 386.3,355.2 386.6,353.6 386.9,352.1 387.2,350.6 387.3,349.0 387.3,347.4 387.0,345.9 386.7,344.4 386.4,342.8 386.1,341.2 386.0,339.7" fill="#48b03a" fill-opacity="0.202"/>
<path d="M385.0 349.3h0m-.7 .3h0m1.7 .6h0m-.6 -6.7h0m-1.1 5.1h0m1.1 8.2h0m.5 -9.5h0m.6 3h0m-.4 2.5h0m0 3.3h0m-.7 -13.3h0m.2 4.8h0m-.7 5.8h0m1 -4.3h0m.7 1h0m-.2 -6.5h0m-.4 14.4h0m-.2 -11.9h0m-1.8 -3.9h0m2.6 6.7h0m-2.6 2.4h0m1.5 1.4h0m.5 -9.2h0m0 2.2h0m-.4 9.8h0m.9 -10.3h0m-1.3 3.4h0m.7 -.3h0m-.9 -1.1h0m.8 8.7h0m-.1 -6.2h0m1.6 -.6h0m-1.3 -8.9h0m-.8 8.3h0m1.8 1.8h0m-.6 2.3h0m-.9 -5.7h0m.6 -1.9h0m-1.5 7h0m.5 0h0m1 1.5h0m-.6 -6.9h0m.5 -4.4h0m-.7 7.5h0m.6 -7.6h0m-.2 4.8h0m.4 4.1h0m-2 -4.2h0m.1 2.6h0m1.9 -8.5h0m-1.9 11h0m.2 -9.5h0m.9 9.9h0m.3 -6.7h0m1.4 4.4h0m-1.1 5.2h0m-.6 -7.4h0m1.2 1.7h0m-.9 6h0m-.6 -4h0m-1 -2.9h0m1.1 -3.7h0m1.9 3h0m-1.2 -1.8h0m-.4 .2h0m1.7 7h0m-2.1 .1h0m.3 -.9h0m.5 -12.6h0m-.5 10.2h0m.7 -5h0m.2 7.6h0" stroke="#48b03a" stroke-opacity="0.294" stroke-width="0.75" stroke-linecap="round"/>
<text x="385.60" y="338.00" text-anchor="middle" font-family="Liberation Sans" font-size="6.2" textLength="5.90" lengthAdjust="spacingAndGlyphs" fill="#111" stroke="#111" stroke-width="0.15">17</text>
<line x1="382.00" x2="389.20" y1="366.30" y2="366.30" stroke="#2f9e12" stroke-width="2.2" stroke-linecap="round"/>
<line x1="395.90" x2="395.90" y1="326.80" y2="358.90" stroke="#c8c8c8" stroke-width="0.5"/>
<line x1="394.70" x2="397.10" y1="326.80" y2="326.80" stroke="#bbb" stroke-width="0.6"/>
<line x1="394.70" x2="397.10" y1="358.90" y2="358.90" stroke="#bbb" stroke-width="0.6"/>
<rect x="393.20" y="339.90" width="5.4" height="8.60" fill="none" stroke="#c2c2c2" stroke-width="0.5"/>
<line x1="393.20" x2="398.60" y1="344.20" y2="344.20" stroke="#c2c2c2" stroke-width="0.5"/>
<polygon points="395.6,326.8 395.5,329.5 395.4,332.1 395.1,334.8 394.8,337.5 394.4,340.2 394.2,342.9 394.2,345.5 394.4,348.2 394.8,350.9 395.1,353.5 395.4,356.2 395.5,358.9 396.3,358.9 396.4,356.2 396.7,353.5 397.0,350.9 397.4,348.2 397.6,345.5 397.6,342.9 397.4,340.2 397.0,337.5 396.7,334.8 396.4,332.1 396.3,329.5 396.2,326.8" fill="#bcbc38" fill-opacity="0.165"/>
<path d="M396.2 350.1h0m1.6 -6.9h0m-1.5 -4.8h0m-1.3 11.6h0m-.3 -2.4h0m1.8 7.8h0m-1 -21.9h0m1.4 8.8h0m-.5 9.1h0m-.1 -4.5h0m.5 -5.8h0m-.5 1.2h0m-1.3 -4.5h0m1.8 6.8h0m-.5 -1.9h0m-.6 -7.1h0m.3 3.2h0m.4 2.6h0m-2.5 4h0m3.5 -11h0m-.2 9.4h0m-.3 .6h0m-.9 -14.8h0m-.9 19h0m1 7.5h0m0 -23.9h0m-.5 10.1h0m-.5 16h0m1 -11h0m-1.2 -8h0m.2 -10.6h0m.7 7.6h0m1.3 12h0m-1.4 1.2h0m-1.2 -7.7h0m1.3 12.1h0m1.1 -18.4h0m-1 8.6h0m0 -12.8h0m-.5 5.3h0m0 12.5h0m.4 -4.8h0m.3 -.3h0m.4 -3.8h0m.2 -4.6h0m-.6 18.5h0m-1.2 -22.1h0m1.4 25h0m-.9 -14.3h0m-.4 8.9h0m.8 5.2h0m.7 -18h0m-1.5 8.6h0m.5 6.1h0m0 -6.2h0m-.3 4.1h0m1.2 4.2h0m-.4 -14.7h0m.5 12.2h0m.6 -10.1h0m-1.7 -5.2h0m.8 -10.5h0m-.2 11.5h0m-1.1 15.5h0m.6 .6h0m1.1 -12.5h0m-1.5 5.5h0m0 -2.6h0m2.1 -3.4h0m-2.4 -7.2h0m.5 .8h0m1.7 17.1h0m.6 -6.8h0m-2.2 -9.8h0m.3 21h0m.5 -21.9h0m-.3 10.3h0m-.8 -7h0m.9 -6.1h0m0 6h0m1.6 2.9h0m-1.4 9.1h0m-.6 -7.9h0m.8 -.7h0m-1.6 .4h0m.5 5.4h0m-.1 1.3h0m.4 -5.6h0m-.9 -2.7h0m1.8 -1.1h0m-.4 3.2h0m0 -14h0m-1.5 22.2h0m2.4 -2.8h0m-.7 -5.3h0m.3 5.2h0m-.3 3.8h0m-.1 -10.3h0m-.7 5.2h0m.4 .2h0m.8 3.6h0m-.9 1.1h0m0 -10.8h0m.1 3.4h0m.3 6.9h0m.5 2.7h0m.1 -13.8h0m-.6 -3.2h0m0 10.1h0m.4 .3h0m-1.2 -9.3h0m1.5 8.2h0m-.9 11.7h0" stroke="#bcbc38" stroke-opacity="0.240" stroke-width="0.75" stroke-linecap="round"/>
<text x="395.90" y="325.20" text-anchor="middle" font-family="Liberation Sans" font-size="6.2" textLength="5.90" lengthAdjust="spacingAndGlyphs" fill="#111" stroke="#111" stroke-width="0.15">17</text>
<line x1="392.30" x2="399.50" y1="373.90" y2="373.90" stroke="#a3a30c" stroke-width="2.2" stroke-linecap="round"/>
<line x1="416.45" x2="416.45" y1="302.60" y2="352.20" stroke="#c8c8c8" stroke-width="0.5"/>
<line x1="415.25" x2="417.65" y1="302.60" y2="302.60" stroke="#bbb" stroke-width="0.6"/>
<line x1="415.25" x2="417.65" y1="352.20" y2="352.20" stroke="#bbb" stroke-width="0.6"/>
<rect x="413.75" y="321.80" width="5.4" height="12.30" fill="none" stroke="#c2c2c2" stroke-width="0.5"/>
<line x1="413.75" x2="419.15" y1="327.95" y2="327.95" stroke="#c2c2c2" stroke-width="0.5"/>
<polygon points="416.2,302.6 416.1,306.7 415.9,310.9 415.7,315.0 415.3,319.1 414.9,323.3 414.7,327.4 414.8,331.5 415.2,335.7 415.6,339.8 415.9,343.9 416.1,348.1 416.2,352.2 416.7,352.2 416.8,348.1 417.0,343.9 417.3,339.8 417.7,335.7 418.1,331.5 418.2,327.4 418.0,323.3 417.6,319.1 417.2,315.0 417.0,310.9 416.8,306.7 416.7,302.6" fill="#4a5ad8" fill-opacity="0.220"/>
<path d="M417.3 311.8h0m-1.2 35.4h0m-.2 -21.2h0m-.2 9.3h0m.2 1.6h0m1 -29.9h0m.3 20.4h0m-1 -12.7h0m.3 24.4h0m.4 -11h0m-.3 -6.8h0m-1.1 13h0m1 .8h0m-.5 -11.9h0m.2 28.3h0m.8 -21.5h0m-1.2 -9.2h0m1.1 14.6h0m-.6 -2h0m.2 13.5h0m-1.4 -20.2h0m1.1 16.5h0m.6 -4.2h0m-.1 -23h0m.4 20.1h0m-1 -8.3h0m.3 -22.3h0m-.7 24.1h0m.2 16.2h0m.3 -32.5h0m.3 13.5h0m1 14.5h0m-.4 -24.8h0m-1.1 21.1h0m.7 9.3h0m.7 -15.9h0m-1.2 4.3h0m.2 10.7h0m-.3 -20.4h0m.5 -2.7h0m.9 10.8h0m-1.6 -10.9h0m.7 24.8h0m-1 -28h0m.8 13.1h0m1.4 -.8h0m-1.1 -18.6h0m-.1 24.4h0m-.3 -20.3h0m1.2 .8h0m-1.3 -9.4h0m.8 33.2h0m-.2 7h0m-2.5 -16.9h0m2.8 -17.8h0m-.9 36.1h0m.2 -27.9h0m.7 .2h0m.7 7.7h0m-1.1 -10.9h0m-.2 18.5h0m-.2 -10.1h0m.1 11.4h0m.1 -21.1h0m.1 2.7h0m.5 22.3h0m-.5 -20.9h0m.1 3.8h0m.1 -16.9h0m-1.2 28.5h0m.4 -1.8h0m.6 -7.3h0m.2 -13h0m-.1 -1.7h0m-.4 .8h0m-.2 21.9h0m.9 -13h0m-1.1 10.6h0m-.5 -6h0m1 6.9h0m-.2 -28.6h0m.3 45.2h0m.2 -36.2h0m.2 19.8h0m.6 -5.6h0m-1.8 -8.6h0m.5 15.7h0m1 -22.5h0m-1.6 6.8h0m2 10.1h0m-.5 -3.7h0m-1.2 -9.6h0m-.8 3.4h0m1.2 27.7h0m.2 -3.3h0m-.6 -11.1h0m1.2 -17.9h0m-1 31.6h0m.1 -24.9h0m.8 2.8h0m-.7 -1h0m-.7 -6.1h0m-.2 19.4h0m2.8 -10.9h0m-1.1 -1.8h0m-.5 -15.2h0m-.1 12.8h0m.1 -4.2h0m-.3 9.6h0m.2 .5h0m1.4 -2h0m-.9 8.8h0m.3 -7.7h0m-.9 13.6h0m-.4 1h0m-.5 -15.6h0m.9 .3h0m-.3 -6.5h0m.3 17.4h0m0 -20h0m.1 -1.2h0m.4 23h0m-1.2 -23.7h0m2 29.9h0m-1.8 -23.1h0m.4 .9h0m.3 1.1h0m-.3 1.1h0m.3 -5.3h0m-.7 -2.4h0m.9 7h0m-.6 -10.1h0m1 18.4h0m-.6 10.5h0m.5 -39.8h0m-.8 21.3h0m.1 -18.3h0m.1 15.1h0m1.1 18.5h0m-1.3 -18.3h0m-.3 15h0m-.2 -19.4h0m.3 7.9h0m.4 -5.6h0m-.5 -.3h0m.3 -11.7h0m.5 13.3h0m-.3 28.1h0m.2 -37.8h0m0 34.5h0m-.7 -13.1h0m-.6 -2.1h0m.7 11.9h0m-.4 -7h0m.5 -21.3h0m.1 24.9h0m-.3 -6.8h0m-.1 -2.2h0m.7 -13.4h0m.3 8.2h0m-.3 12.7h0m.9 -9.5h0m-1.6 3.1h0m1.3 -14.3h0m-.9 7.5h0m-1.3 -.8h0m1.6 7.5h0m-.7 -11.3h0m.5 -5.9h0m.3 21.2h0" stroke="#4a5ad8" stroke-opacity="0.320" stroke-width="0.75" stroke-linecap="round"/>
<text x="416.45" y="300.70" text-anchor="middle" font-family="Liberation Sans" font-size="6.2" textLength="5.90" lengthAdjust="spacingAndGlyphs" fill="#111" stroke="#111" stroke-width="0.15">36</text>
<line x1="412.85" x2="420.05" y1="375.60" y2="375.60" stroke="#0b0ba6" stroke-width="2.2" stroke-linecap="round"/>
<line x1="426.75" x2="426.75" y1="307.40" y2="355.80" stroke="#c8c8c8" stroke-width="0.5"/>
<line x1="425.55" x2="427.95" y1="307.40" y2="307.40" stroke="#bbb" stroke-width="0.6"/>
<line x1="425.55" x2="427.95" y1="355.80" y2="355.80" stroke="#bbb" stroke-width="0.6"/>
<rect x="424.05" y="325.50" width="5.4" height="12.20" fill="none" stroke="#c2c2c2" stroke-width="0.5"/>
<line x1="424.05" x2="429.45" y1="331.60" y2="331.60" stroke="#c2c2c2" stroke-width="0.5"/>
<polygon points="426.5,307.4 426.4,311.4 426.2,315.5 425.9,319.5 425.5,323.5 425.1,327.6 425.0,331.6 425.1,335.6 425.5,339.7 425.9,343.7 426.2,347.7 426.4,351.8 426.5,355.8 427.0,355.8 427.1,351.8 427.3,347.7 427.6,343.7 428.0,339.7 428.4,335.6 428.5,331.6 428.4,327.6 428.0,323.5 427.6,319.5 427.3,315.5 427.1,311.4 427.0,307.4" fill="#c0404e" fill-opacity="0.202"/>
<path d="M427.4 324.9h0m-.1 13.6h0m-.4 2.7h0m.5 -15.5h0m-2.3 12.7h0m1.5 -14.5h0m-.5 4.1h0m.2 4.6h0m1.1 -9.7h0m-.6 15.7h0m-.3 -2.7h0m1.3 -.1h0m-1.7 -2.5h0m.4 8h0m1 -6.7h0m-.5 -19.1h0m.1 19.9h0m-1.3 -9.5h0m1.1 12h0m-.4 2.8h0m-1.1 -7.7h0m.9 -24.6h0m.6 22.5h0m-1.1 .8h0m1.4 -4.1h0m-1.4 6.7h0m2.2 10.1h0m-2.4 -5.7h0m1.9 -18h0m.2 20.5h0m.9 -13.1h0m-2.2 14.5h0m1.5 -7.5h0m-.2 2.7h0m-1 9.9h0m.5 -4.5h0m.3 -14.5h0m-1.2 3.8h0m.1 6.2h0m0 -10.8h0m.3 12.5h0m1.1 -7.5h0m-.8 -1.3h0m-.3 4h0m.5 -10.9h0m-.2 13.6h0m.7 -15.3h0m-.9 9.1h0m-1.3 5.5h0m1.1 4.8h0m-1.3 -16h0m1.7 -11.6h0m.5 23.8h0m-.6 -7.5h0m.4 7h0m-.5 -26h0m-.1 13.9h0m.4 -5.8h0m-1.7 9.2h0m1.4 15.6h0m.4 -21.2h0m-.2 4.4h0m-.5 -17.2h0m.5 10.8h0m-.6 -1.6h0m1.1 15.1h0m-.6 -13.5h0m-.9 11.7h0m.6 -15.7h0m0 -7.6h0m-.2 1.1h0m-.5 32h0m.2 -15.2h0m.4 -8.5h0m.3 17.8h0m-.3 -1.4h0m-.3 -19.4h0m.3 33.3h0m1.2 -23.2h0m-.3 14.2h0m-.9 -15.8h0m.4 -11.2h0m.9 14.2h0m-1.5 17.8h0m.3 8.6h0m1 -38.7h0m-.2 7.4h0m-.3 13.5h0m-1.3 8.4h0m1.4 -28.5h0m.4 6.7h0m.2 6.9h0m-.9 -20.3h0m-1.3 19.2h0m.8 -19.2h0m1.9 19.6h0m-1.1 -7.4h0m-.3 -5h0m-.2 10.4h0m0 -15h0m-1.2 17.8h0m.2 4.3h0m1.4 -.9h0m.4 4.3h0m-2.4 -4.8h0m1.5 -12.4h0m.9 2.8h0m-.6 20.6h0m-1.5 -5.7h0m1.3 -6.1h0m-1.2 4.8h0m.3 -10.7h0m1.5 20.3h0m-.6 -21.5h0m-.3 .6h0m-1.9 6.6h0m2.3 -1.2h0m-.8 -5.4h0m.3 16.9h0m1.1 -14.3h0m-.5 23.1h0m.5 -13.1h0m-.7 -22.9h0m.6 26.5h0m-.1 -10.9h0m-.2 -12.2h0m-2.4 13h0m3.1 -3.3h0m-.3 -7.1h0m-1 -14h0m.6 3.1h0m.3 12.7h0m-.6 13h0m-.9 -2.9h0m1.7 1.1h0m-.3 -16.7h0m.9 10.7h0m-1.2 -18.5h0m1.1 15.7h0m-.9 -15h0m.6 22.6h0m-1.1 7.8h0m.4 -20.4h0m-.6 24.7h0m1.2 -15.6h0m-1.1 7.4h0m.3 11.6h0m1.7 -9.9h0m-1.2 -8.7h0m.3 7.9h0m-.3 -10.5h0m-.3 -16.5h0m.3 16h0m-.8 19h0m.3 -24.8h0m-1 19.3h0m1.3 -2h0m-.4 -1.3h0m-.1 -9.3h0m1.5 1.4h0m-.1 .7h0m-.6 -10.3h0m-1.5 15.4h0m.9 -17.5h0m.3 19.2h0m.1 -22.5h0m-.8 26.9h0m.8 2.7h0m-.4 -18.2h0m.5 8.6h0" stroke="#c0404e" stroke-opacity="0.294" stroke-width="0.75" stroke-linecap="round"/>
<text x="426.75" y="305.50" text-anchor="middle" font-family="Liberation Sans" font-size="6.2" textLength="5.90" lengthAdjust="spacingAndGlyphs" fill="#111" stroke="#111" stroke-width="0.15">36</text>
<line x1="423.15" x2="430.35" y1="348.20" y2="348.20" stroke="#8c0d0d" stroke-width="2.2" stroke-linecap="round"/>
<line x1="437.05" x2="437.05" y1="315.30" y2="351.50" stroke="#c8c8c8" stroke-width="0.5"/>
<line x1="435.85" x2="438.25" y1="315.30" y2="315.30" stroke="#bbb" stroke-width="0.6"/>
<line x1="435.85" x2="438.25" y1="351.50" y2="351.50" stroke="#bbb" stroke-width="0.6"/>
<rect x="434.35" y="327.60" width="5.4" height="10.10" fill="none" stroke="#c2c2c2" stroke-width="0.5"/>
<line x1="434.35" x2="439.75" y1="332.65" y2="332.65" stroke="#c2c2c2" stroke-width="0.5"/>
<polygon points="436.7,315.3 436.6,318.3 436.3,321.3 436.0,324.4 435.6,327.4 435.4,330.4 435.3,333.4 435.5,336.4 435.8,339.4 436.2,342.4 436.5,345.5 436.6,348.5 436.7,351.5 437.4,351.5 437.5,348.5 437.6,345.5 437.9,342.4 438.3,339.4 438.6,336.4 438.8,333.4 438.7,330.4 438.5,327.4 438.1,324.4 437.8,321.3 437.5,318.3 437.4,315.3" fill="#48b03a" fill-opacity="0.202"/>
<path d="M435.6 334.0h0m2.9 2.7h0m-.5 -3.2h0m-1.3 -7.5h0m-1.8 11.5h0m3 -6.6h0m-.4 -12h0m-.8 .6h0m-1.6 12h0m1.4 -5.1h0m.5 -2.8h0m-1 6.2h0m1.2 3h0m-.2 9.8h0m-.1 -10.9h0m.4 4.8h0m-.6 0h0m0 -10.6h0m1.8 1.7h0m-.8 1.1h0m-1.9 1.5h0m.3 10.1h0m2.3 -15.5h0m-.3 21.3h0m-.9 -14.8h0m-.2 -3.2h0m.6 10.9h0m-.4 -15.2h0m-.5 .5h0m-.1 14.2h0m.2 -20.4h0m-.4 17.5h0m-.2 1.2h0m1.2 -3.7h0m-.3 9h0m1.1 -4.2h0m-1.5 -3.5h0m.6 -8.3h0m-.4 18.3h0m0 -12.6h0m.5 -8.5h0m.6 7.4h0m-.1 -4.4h0m-1 -3.2h0m-.2 7.8h0m.6 -11h0m.2 14.8h0m.1 -18h0m-.7 19.6h0m.8 .7h0m.1 .7h0m.7 -5h0m-.6 3.1h0m-1.3 14h0m1.2 -12.8h0m-.9 -12.3h0m.1 15.8h0m-.9 .9h0m.4 -25.3h0m.6 29.9h0m.6 -10.2h0m0 -1h0m-.6 -4.7h0m-.5 -7.6h0m-.1 10.5h0m.1 -10h0m.9 18.1h0m-.6 -20.9h0m.3 16.6h0m-.9 6.3h0m.4 -.8h0m-1.6 -12.3h0m2.3 10.6h0m-.3 -1.8h0m1.4 -6.4h0m-1.9 -6.7h0m1.1 5.9h0m-1 8.4h0m-.2 7.6h0m-.1 -27h0m1.7 16.1h0m-.5 -4h0m-.4 .6h0m.6 3.9h0m-.2 -10.5h0m-1 11.6h0m-.6 -2.9h0m1.5 -2.9h0m.8 -2.3h0m.5 -1.3h0m-2.3 -.3h0m1.1 2.5h0m-.4 2.8h0m.4 -5.5h0m-1.2 12.1h0m-.4 -7.2h0m.9 -14.2h0m-.7 16h0m.7 -.5h0m-.4 -19.2h0m.1 20.6h0m.3 -7.1h0m-.7 .1h0m2.4 -2.2h0m-2 18.6h0m-.8 -15.1h0m1.4 -4.6h0m.1 2.8h0m.7 8h0m-1 13.4h0m-.1 -27.6h0m.2 8.2h0m-.8 -3.5h0m.8 11.3h0m1.1 -4.2h0m-1.6 -12.1h0m.5 12.8h0m1.5 0h0m-.9 -5.4h0m.4 8.6h0m-2.4 -6.2h0m3.3 3h0m-3.3 -4.3h0m1.4 10.1h0m.8 -15.2h0m-1.3 18.4h0m-1 -6.5h0m2.2 -4h0m-.8 .2h0m.5 1.1h0m-.1 -13.3h0m-.6 10.4h0m.7 -.8h0m.1 -1.8h0" stroke="#48b03a" stroke-opacity="0.294" stroke-width="0.75" stroke-linecap="round"/>
<text x="437.05" y="313.40" text-anchor="middle" font-family="Liberation Sans" font-size="6.2" textLength="5.90" lengthAdjust="spacingAndGlyphs" fill="#111" stroke="#111" stroke-width="0.15">36</text>
<line x1="433.45" x2="440.65" y1="321.40" y2="321.40" stroke="#2f9e12" stroke-width="2.2" stroke-linecap="round"/>
<line x1="447.35" x2="447.35" y1="324.00" y2="355.80" stroke="#c8c8c8" stroke-width="0.5"/>
<line x1="446.15" x2="448.55" y1="324.00" y2="324.00" stroke="#bbb" stroke-width="0.6"/>
<line x1="446.15" x2="448.55" y1="355.80" y2="355.80" stroke="#bbb" stroke-width="0.6"/>
<rect x="444.65" y="335.60" width="5.4" height="7.90" fill="none" stroke="#c2c2c2" stroke-width="0.5"/>
<line x1="444.65" x2="450.05" y1="339.55" y2="339.55" stroke="#c2c2c2" stroke-width="0.5"/>
<polygon points="447.1,324.0 447.0,326.6 446.8,329.3 446.5,331.9 446.1,334.6 445.7,337.2 445.6,339.9 445.8,342.6 446.2,345.2 446.6,347.9 446.8,350.5 447.0,353.2 447.1,355.8 447.6,355.8 447.7,353.2 447.9,350.5 448.1,347.9 448.5,345.2 448.9,342.6 449.1,339.9 449.0,337.2 448.6,334.6 448.2,331.9 447.9,329.3 447.7,326.6 447.6,324.0" fill="#bcbc38" fill-opacity="0.165"/>
<path d="M446.5 340.5h0m-.5 -4.3h0m.8 9.5h0m.5 -19.1h0m.5 17.7h0m-.8 9.5h0m0 -26.7h0m.7 10.8h0m0 -.7h0m-.6 3.8h0m.2 -16.6h0m-.7 9h0m.5 14.4h0m.3 -.5h0m-.5 -6.8h0m1.2 2h0m-1.4 -9.6h0m.9 -2.4h0m.7 17.6h0m-1.6 -8.2h0m.1 5.8h0m.8 .8h0m-.1 -17.5h0m.2 4.9h0m-1.9 4.2h0m1.4 9.8h0m1 -12h0m-1.4 7.3h0m.3 -10.9h0m-.3 6.3h0m.7 .5h0m.8 -.3h0m-1.4 3.5h0m-.9 -3.5h0m1.9 -8.4h0m-.3 .1h0m-.2 20.3h0m.2 -19.1h0m.8 10h0m-.5 -8.1h0m.9 .6h0m-1.9 9.7h0m.2 -.1h0m-.3 -8.2h0m.6 -7.6h0m1.4 10.7h0m-2.1 -2.7h0m.5 -2.6h0m.3 16.2h0m-.1 -9.5h0m-.3 -10.1h0m1 15.6h0m-1.5 -1h0m1.5 -5.8h0m-1.6 -6.8h0m.8 8.8h0m.7 5h0m0 -8.7h0m.1 -1.7h0m-1.9 6.3h0m1 -5.1h0m1.1 -6.1h0m-.1 7h0m-1.7 6.2h0m1.1 -9.4h0m-.2 3.9h0m.3 -1.7h0m-.7 7.9h0m-.1 -5.3h0m0 -.3h0m.3 6.6h0m-1.4 -4.5h0m1.1 10.5h0m.1 -9.6h0m.2 2.6h0m.1 -13h0m.8 11.5h0m-1 5h0m.1 -14.9h0m-.1 -5.1h0m0 24.7h0m.8 -15.8h0m-1 14.3h0m-.1 0h0m-.6 -8.8h0m2.3 3h0m-1.1 -7.2h0m-.2 6.1h0m.1 -13.8h0m.9 2.9h0m-1.2 6.6h0m.3 7.8h0m1.4 -5.8h0m-.7 -10.9h0m-.9 -6.7h0m-.9 19.3h0m0 .2h0m1.6 -7.9h0m0 12.3h0m-.2 -14.5h0m.4 1.7h0m.4 3.2h0m-.9 7.4h0m.1 -7.4h0m-.6 4h0m1.2 -.8h0m-.6 -11.7h0m-.9 22h0m.9 -21.2h0m.3 20.2h0" stroke="#bcbc38" stroke-opacity="0.240" stroke-width="0.75" stroke-linecap="round"/>
<text x="447.35" y="322.10" text-anchor="middle" font-family="Liberation Sans" font-size="6.2" textLength="5.90" lengthAdjust="spacingAndGlyphs" fill="#111" stroke="#111" stroke-width="0.15">34</text>
<line x1="443.75" x2="450.95" y1="359.70" y2="359.70" stroke="#a3a30c" stroke-width="2.2" stroke-linecap="round"/>
<line x1="467.90" x2="467.90" y1="390.50" y2="408.40" stroke="#c8c8c8" stroke-width="0.5"/>
<line x1="466.70" x2="469.10" y1="390.50" y2="390.50" stroke="#bbb" stroke-width="0.6"/>
<line x1="466.70" x2="469.10" y1="408.40" y2="408.40" stroke="#bbb" stroke-width="0.6"/>
<rect x="465.20" y="396.00" width="5.4" height="6.60" fill="none" stroke="#c2c2c2" stroke-width="0.5"/>
<line x1="465.20" x2="470.60" y1="399.30" y2="399.30" stroke="#c2c2c2" stroke-width="0.5"/>
<polygon points="467.4,390.5 467.2,392.0 466.9,393.5 466.6,395.0 466.4,396.5 466.2,398.0 466.2,399.4 466.2,400.9 466.4,402.4 466.7,403.9 467.0,405.4 467.2,406.9 467.4,408.4 468.4,408.4 468.6,406.9 468.8,405.4 469.1,403.9 469.4,402.4 469.6,400.9 469.6,399.4 469.6,398.0 469.4,396.5 469.2,395.0 468.9,393.5 468.6,392.0 468.4,390.5" fill="#4a5ad8" fill-opacity="0.220"/>
<path d="M467.0 394.9h0m-.1 5h0m.3 -4.9h0m1.2 5.3h0m-1.7 5.4h0m1.8 -5.3h0m-2.5 2.5h0m2 -5.7h0m-.2 -5.9h0m.6 10.5h0m-.5 1.1h0m-.3 -10h0m1.2 9.1h0m-1.1 3.1h0m.1 2.8h0m0 -10.8h0m.3 .7h0m-.9 1.9h0m.8 1.9h0m-.4 -7.4h0m.8 10.6h0m-.4 -4.1h0m-.4 -2.9h0m0 9.6h0m-.9 -11.8h0m.6 2.2h0m-.2 -3.9h0m1 4.8h0m-.3 5.4h0m.1 -8h0m.4 9.8h0m.2 -4.2h0m-.9 -8.8h0m1.9 7.4h0m-1.3 -3.7h0m-.8 -5.7h0m.3 16.3h0m1.1 -7.9h0m-.9 -.4h0m0 -4.2h0m-.5 -1.4h0m.3 14.5h0m.2 -16.4h0m-.4 1.9h0m.4 4.5h0m-.2 3.9h0m.8 -1.7h0m-.5 6h0m-.4 -10.3h0m.1 .5h0m.1 5.1h0m.8 -10.3h0m-.3 2.4h0m.2 1.7h0m-1.1 -3.2h0m1.9 12.8h0m-1.2 -9.4h0m-.8 1.8h0m.8 5.1h0m.9 -5.8h0m-.1 3.1h0m-2.2 -3.6h0m.6 9.6h0m1 -7.4h0m.1 -1.9h0m.1 8h0m.1 -3.8h0m-1.5 -7h0m.8 -2.1h0m-.3 7h0m.3 1.4h0m-.4 7.6h0m1.1 -5.6h0m-.7 -2.7h0m.5 6.3h0m-.4 -1.5h0m2 -5h0" stroke="#4a5ad8" stroke-opacity="0.320" stroke-width="0.75" stroke-linecap="round"/>
<text x="467.90" y="388.60" text-anchor="middle" font-family="Liberation Sans" font-size="6.2" fill="#111" stroke="#111" stroke-width="0.15">6</text>
<line x1="464.30" x2="471.50" y1="366.20" y2="366.20" stroke="#0b0ba6" stroke-width="2.2" stroke-linecap="round"/>
<line x1="478.20" x2="478.20" y1="387.90" y2="407.60" stroke="#c8c8c8" stroke-width="0.5"/>
<line x1="477.00" x2="479.40" y1="387.90" y2="387.90" stroke="#bbb" stroke-width="0.6"/>
<line x1="477.00" x2="479.40" y1="407.60" y2="407.60" stroke="#bbb" stroke-width="0.6"/>
<rect x="475.50" y="394.50" width="5.4" height="6.10" fill="none" stroke="#c2c2c2" stroke-width="0.5"/>
<line x1="475.50" x2="480.90" y1="397.55" y2="397.55" stroke="#c2c2c2" stroke-width="0.5"/>
<polygon points="477.8,387.9 477.6,389.5 477.4,391.2 477.1,392.8 476.8,394.5 476.5,396.1 476.5,397.8 476.6,399.4 476.8,401.0 477.2,402.7 477.5,404.3 477.7,406.0 477.8,407.6 478.6,407.6 478.7,406.0 478.9,404.3 479.2,402.7 479.6,401.0 479.8,399.4 479.9,397.8 479.9,396.1 479.6,394.5 479.3,392.8 479.0,391.2 478.8,389.5 478.6,387.9" fill="#c0404e" fill-opacity="0.202"/>
<path d="M478.4 392.4h0m0 14.4h0m.4 -11.5h0m-1 -2.1h0m.7 11h0m.5 -1.7h0m-1 -6.2h0m-.1 -4.2h0m-.6 2.4h0m.8 -1.4h0m.4 11.1h0m-1.3 -11.6h0m.1 8.9h0m-.7 -1.4h0m1.7 6h0m.1 -10.9h0m-.3 -6.8h0m.4 3.3h0m-.3 5.9h0m.5 -3.1h0m.1 4.3h0m-.9 -1.7h0m-.3 -4.3h0m.7 10.2h0m-.2 -12.3h0m-.3 2h0m-.2 9h0m1.4 -8.6h0m-1 7.4h0m-.1 .3h0m0 -2.1h0m.4 8.6h0m-.2 -2.9h0m.7 -10.8h0m-.4 -2.9h0m-.9 11.4h0m-.8 -5.9h0m.4 2.8h0m1.6 7.1h0m-.3 -7.6h0m-.2 7.4h0m0 -3.9h0m.1 -6.8h0m-.3 3.7h0m-.1 -1.2h0m0 6.4h0m.8 -9.6h0m-.3 10.4h0m.4 -10.1h0m0 7.6h0m-.6 -12.9h0m-.8 6.3h0m.6 -3.1h0m.5 1.2h0m-.4 -.3h0m-.8 4h0m1.3 2.6h0m-.9 1.8h0m-.1 -10.8h0m1 -2.5h0m-1.2 10.7h0m1.5 -2.9h0m-.2 -3.7h0m-1.1 -2.3h0m-.2 7.1h0m.1 4h0m.3 -4.4h0m.9 4.2h0m-.4 -7.1h0m-.2 2.8h0m.5 2.5h0m-.4 -5.1h0m.1 2.3h0m.1 1.9h0m-.6 2h0m1 -5.7h0m-.5 10.5h0" stroke="#c0404e" stroke-opacity="0.294" stroke-width="0.75" stroke-linecap="round"/>
<text x="478.20" y="385.60" text-anchor="middle" font-family="Liberation Sans" font-size="6.2" fill="#111" stroke="#111" stroke-width="0.15">6</text>
<line x1="474.60" x2="481.80" y1="387.70" y2="387.70" stroke="#8c0d0d" stroke-width="2.2" stroke-linecap="round"/>
<line x1="488.50" x2="488.50" y1="388.40" y2="407.60" stroke="#c8c8c8" stroke-width="0.5"/>
<line x1="487.30" x2="489.70" y1="388.40" y2="388.40" stroke="#bbb" stroke-width="0.6"/>
<line x1="487.30" x2="489.70" y1="407.60" y2="407.60" stroke="#bbb" stroke-width="0.6"/>
<rect x="485.80" y="394.50" width="5.4" height="8.10" fill="none" stroke="#c2c2c2" stroke-width="0.5"/>
<line x1="485.80" x2="491.20" y1="398.55" y2="398.55" stroke="#c2c2c2" stroke-width="0.5"/>
<polygon points="487.9,388.4 487.7,390.0 487.5,391.6 487.2,393.2 487.0,394.8 486.8,396.4 486.8,398.0 486.8,399.6 486.9,401.2 487.1,402.8 487.3,404.4 487.6,406.0 487.8,407.6 489.2,407.6 489.4,406.0 489.7,404.4 489.9,402.8 490.1,401.2 490.2,399.6 490.2,398.0 490.2,396.4 490.0,394.8 489.8,393.2 489.5,391.6 489.3,390.0 489.1,388.4" fill="#48b03a" fill-opacity="0.202"/>
<path d="M488.4 400.7h0m.5 3.7h0m-.4 -11.9h0m0 -3.5h0m-1.8 9.4h0m2.2 4.1h0m-.6 -.3h0m.1 -9.2h0m-.5 5.9h0m.4 7.2h0m1.2 -7.6h0m-1.2 -3h0m-.3 -4.1h0m1.8 5.9h0m-2.5 -.8h0m.2 1.2h0m.8 .7h0m1.1 -3.4h0m-1.4 4.6h0m.7 -1.1h0m.3 -1h0m0 4.4h0m-.8 -6.5h0m.4 8.7h0m-1 -7h0m1.8 1.2h0m-1.9 -7.1h0m1.1 2.1h0m-.6 5.8h0m.2 -8h0m.1 11.6h0m.6 -8.6h0m-.8 8.1h0m.8 -1.8h0m-.1 -8.9h0m.8 1.9h0m-.8 5.9h0m.5 7.5h0m-.6 -14.3h0m-1 2.4h0m.2 2.8h0m-.1 6.7h0m1.7 -3.4h0m-.3 -6.5h0m.2 4.8h0m-.4 2.6h0m-.9 1.5h0m-1.1 -5.5h0m2.5 -2.6h0m-.9 -6h0m-.9 13.4h0m1.2 -3.9h0m-.9 .8h0m2.1 -3.3h0m-1.3 1.2h0m-1.8 -2h0m2.8 2.9h0m-1.9 .2h0m.4 -3.9h0m-1 3.2h0m.7 -3.9h0m.3 6.8h0m0 -10.6h0m.3 13.3h0m.2 1.5h0m0 -3.3h0m-.6 -6.3h0m-.2 6.3h0m-.8 -2.4h0m1.4 -1h0m-.3 5.5h0m.6 -5.1h0m-.5 7.6h0m1.1 -14.5h0m.1 4.5h0m-.9 4h0m-1.2 -5h0m.5 11.8h0m.4 -.3h0m-.6 -12.8h0m.8 7.1h0m-.3 -5.5h0m1.1 5.6h0" stroke="#48b03a" stroke-opacity="0.294" stroke-width="0.75" stroke-linecap="round"/>
<text x="488.50" y="386.80" text-anchor="middle" font-family="Liberation Sans" font-size="6.2" fill="#111" stroke="#111" stroke-width="0.15">6</text>
<line x1="484.90" x2="492.10" y1="407.80" y2="407.80" stroke="#2f9e12" stroke-width="2.2" stroke-linecap="round"/>
<line x1="498.80" x2="498.80" y1="400.60" y2="408.40" stroke="#c8c8c8" stroke-width="0.5"/>
<line x1="497.60" x2="500.00" y1="400.60" y2="400.60" stroke="#bbb" stroke-width="0.6"/>
<line x1="497.60" x2="500.00" y1="408.40" y2="408.40" stroke="#bbb" stroke-width="0.6"/>
<rect x="496.10" y="404.00" width="5.4" height="3.60" fill="none" stroke="#c2c2c2" stroke-width="0.5"/>
<line x1="496.10" x2="501.50" y1="405.80" y2="405.80" stroke="#c2c2c2" stroke-width="0.5"/>
<polygon points="498.3,400.6 498.2,401.2 498.0,401.9 497.8,402.6 497.6,403.2 497.4,403.9 497.2,404.5 497.1,405.1 497.1,405.8 497.1,406.4 497.2,407.1 497.4,407.8 497.6,408.4 500.0,408.4 500.2,407.8 500.4,407.1 500.5,406.4 500.6,405.8 500.5,405.1 500.4,404.5 500.2,403.9 500.0,403.2 499.8,402.6 499.6,401.9 499.4,401.2 499.3,400.6" fill="#bcbc38" fill-opacity="0.165"/>
<path d="M498.6 403.6h0m.5 4h0m-.7 -5.5h0m.4 .9h0m-.1 -1.2h0m0 .7h0m-.6 4.8h0m.4 -3.6h0m.3 4.4h0m.1 -4.8h0m-.5 -.8h0m-.5 3.7h0m1.3 -2.4h0m-1.7 1.7h0m1 2.2h0m.9 -4.7h0m.6 2.5h0m-1.6 .1h0m.2 1.5h0m.5 -2.9h0m.9 .8h0m-2.5 .5h0m2.2 -1h0m-1.3 -1.1h0m.4 3.2h0m-.1 -3.1h0m.5 2.3h0m.4 -2.1h0m-1.6 2.2h0m2.3 -1.6h0" stroke="#bcbc38" stroke-opacity="0.240" stroke-width="0.75" stroke-linecap="round"/>
<text x="498.80" y="399.20" text-anchor="middle" font-family="Liberation Sans" font-size="6.2" fill="#111" stroke="#111" stroke-width="0.15">5</text>
<line x1="495.20" x2="502.40" y1="406.30" y2="406.30" stroke="#a3a30c" stroke-width="2.2" stroke-linecap="round"/>
<line x1="519.35" x2="519.35" y1="369.00" y2="397.90" stroke="#c8c8c8" stroke-width="0.5"/>
<line x1="518.15" x2="520.55" y1="369.00" y2="369.00" stroke="#bbb" stroke-width="0.6"/>
<line x1="518.15" x2="520.55" y1="397.90" y2="397.90" stroke="#bbb" stroke-width="0.6"/>
<rect x="516.65" y="379.50" width="5.4" height="8.10" fill="none" stroke="#c2c2c2" stroke-width="0.5"/>
<line x1="516.65" x2="522.05" y1="383.55" y2="383.55" stroke="#c2c2c2" stroke-width="0.5"/>
<polygon points="519.0,369.0 518.9,371.4 518.7,373.8 518.4,376.2 518.0,378.6 517.7,381.0 517.6,383.4 517.7,385.9 518.0,388.3 518.4,390.7 518.7,393.1 518.9,395.5 519.0,397.9 519.7,397.9 519.8,395.5 520.0,393.1 520.3,390.7 520.7,388.3 521.0,385.9 521.1,383.4 521.0,381.0 520.7,378.6 520.3,376.2 520.0,373.8 519.8,371.4 519.7,369.0" fill="#4a5ad8" fill-opacity="0.220"/>
<path d="M518.7 391.7h0m.6 -9.4h0m.3 7.4h0m-1.3 -10.5h0m2.1 3.3h0m-.3 -4.3h0m-1.5 5h0m.8 -12.7h0m0 5.4h0m-.2 12h0m.3 -4.5h0m-.3 -5.9h0m.9 12.9h0m-1.5 -8.8h0m.1 .2h0m0 -6.2h0m-.8 8.3h0m1.8 -1.9h0m-1.2 3.7h0m1.3 -7h0m-.5 -7.7h0m.5 16.5h0m-.4 -4.7h0m-.5 14.1h0m-.7 -7.3h0m1.2 2.6h0m-.7 -11.8h0m1.4 5.3h0m-.6 2.1h0m.4 -3.3h0m1.5 1.8h0m-1.6 -8h0m-1.2 4.8h0m1.2 -6.4h0m-.7 17.1h0m1 -24.7h0m0 17.2h0m-.3 -9.5h0m.1 1h0m-1.1 5.5h0m.4 3.6h0m.2 -5.8h0m-1.1 -4.7h0m1.1 -1h0m-.8 15h0m.9 4.7h0m-.4 -15.5h0m.1 -10h0m-.1 17.7h0m1.1 -11.4h0m-.3 4.1h0m-2.4 1.8h0m2.9 3.5h0m.2 .8h0m-.6 6.1h0m0 -7.7h0m-1.1 -5.2h0m.6 .1h0m1 2.1h0m0 4.1h0m-1.8 -3.4h0m.6 .5h0m-.5 -9.9h0m.5 12.9h0m.9 -2.4h0m-.7 6h0m.3 -13.6h0m.1 1.7h0m.3 3.6h0m-1.4 11.1h0m.4 -.9h0m-.5 -1h0m.5 -15.5h0m.3 9.5h0m1 -8.9h0m-3.1 6.3h0m2.3 6.7h0m-.9 -3.1h0m-.3 -2.7h0m.9 1.6h0m-.7 2.7h0m-.4 -7.5h0m-1 7.8h0m.4 1.1h0m1.5 2.7h0m-.8 -8.3h0m1 -10.4h0m-.3 21.4h0m.3 -8.7h0m.8 2.8h0m.1 2.5h0m.7 -12h0m-.6 1.2h0m-1.4 8.6h0m.3 -16.7h0m-.3 6h0m1.2 8.6h0m-.2 4.6h0m-.1 -10.5h0m.6 5.6h0m-1 2.3h0m.2 -.8h0m-.6 -7.7h0m.1 4.1h0m.7 2.7h0m.3 -8.6h0m-.4 11.9h0" stroke="#4a5ad8" stroke-opacity="0.320" stroke-width="0.75" stroke-linecap="round"/>
<text x="519.35" y="367.30" text-anchor="middle" font-family="Liberation Sans" font-size="6.2" textLength="5.90" lengthAdjust="spacingAndGlyphs" fill="#111" stroke="#111" stroke-width="0.15">10</text>
<line x1="515.75" x2="522.95" y1="361.40" y2="361.40" stroke="#0b0ba6" stroke-width="2.2" stroke-linecap="round"/>
<line x1="529.65" x2="529.65" y1="368.40" y2="397.40" stroke="#c8c8c8" stroke-width="0.5"/>
<line x1="528.45" x2="530.85" y1="368.40" y2="368.40" stroke="#bbb" stroke-width="0.6"/>
<line x1="528.45" x2="530.85" y1="397.40" y2="397.40" stroke="#bbb" stroke-width="0.6"/>
<rect x="526.95" y="379.50" width="5.4" height="7.60" fill="none" stroke="#c2c2c2" stroke-width="0.5"/>
<line x1="526.95" x2="532.35" y1="383.30" y2="383.30" stroke="#c2c2c2" stroke-width="0.5"/>
<polygon points="529.4,368.4 529.3,370.8 529.1,373.2 528.8,375.6 528.4,378.1 528.1,380.5 527.9,382.9 528.0,385.3 528.3,387.7 528.7,390.1 529.0,392.6 529.2,395.0 529.3,397.4 530.0,397.4 530.1,395.0 530.3,392.6 530.6,390.1 531.0,387.7 531.3,385.3 531.4,382.9 531.2,380.5 530.9,378.1 530.5,375.6 530.2,373.2 530.0,370.8 529.9,368.4" fill="#c0404e" fill-opacity="0.202"/>
<path d="M529.7 376.7h0m.6 .5h0m.4 7.9h0m-.8 -16.1h0m.8 12.4h0m-1.1 -.8h0m.3 -10.3h0m-.1 2.8h0m0 4.8h0m.1 10.4h0m-.4 -.2h0m0 8.6h0m.2 -11.3h0m-.6 1.8h0m-.1 4.1h0m.5 -12.7h0m-.7 3h0m1.1 4.6h0m-.3 -13h0m.5 4.4h0m-.6 15.5h0m-.5 -14.2h0m.5 7.6h0m.6 -17.4h0m-.9 15h0m.4 5.2h0m.4 -.8h0m-.1 6.9h0m.3 -17h0m-.1 2h0m-.8 7.5h0m-1.5 -3.8h0m2.2 8.9h0m-.6 -1.5h0m.3 -20.7h0m-.3 8.2h0m.8 -1.1h0m-.2 13.9h0m-.1 -15.5h0m-.5 .7h0m.2 11h0m.1 -13.6h0m-.9 12h0m1.1 -7h0m-.5 -1.6h0m1.1 11.7h0m-1.2 -12.5h0m.5 -7.2h0m-.4 12.2h0m.1 -10.3h0m1.4 11.4h0m-.5 3.2h0m-.6 -16.2h0m-.1 5.2h0m-.3 5.6h0m.6 7.1h0m-.3 9h0m.2 -.3h0m-1.1 -14.2h0m.9 10.3h0m.8 -6.6h0m-.6 -2.1h0m-.9 -.9h0m-.6 -8.1h0m1.4 19.7h0m-.3 -13.1h0m.6 2.9h0m.6 3.2h0m-1.4 -4h0m-.5 -1.3h0m1.3 -11.5h0m-1.3 7.4h0m.1 -.8h0m1.9 1.7h0m0 4.2h0m-.5 -7.2h0m.4 7h0m-1.1 11h0m-.6 -13.8h0m.1 .1h0m0 5h0m1.1 1.1h0m.1 -9.6h0m-1.2 6.2h0m-1.4 .3h0m.9 -1.6h0m.9 6.9h0m.4 -5h0m-1.3 3h0m1 -13.4h0m-1.7 10.5h0m.7 2.1h0m1.7 2.3h0m-.7 -5.8h0m-.9 1.8h0m1.3 -5h0m.3 8.7h0m.4 -2.3h0m-.7 -.3h0m-.6 1.7h0m-.1 -8.5h0m1.2 9.7h0m-1.1 6.3h0m.3 1.6h0" stroke="#c0404e" stroke-opacity="0.294" stroke-width="0.75" stroke-linecap="round"/>
<text x="529.65" y="366.40" text-anchor="middle" font-family="Liberation Sans" font-size="6.2" textLength="5.90" lengthAdjust="spacingAndGlyphs" fill="#111" stroke="#111" stroke-width="0.15">10</text>
<line x1="526.05" x2="533.25" y1="371.90" y2="371.90" stroke="#8c0d0d" stroke-width="2.2" stroke-linecap="round"/>
<line x1="539.95" x2="539.95" y1="365.40" y2="393.60" stroke="#c8c8c8" stroke-width="0.5"/>
<line x1="538.75" x2="541.15" y1="365.40" y2="365.40" stroke="#bbb" stroke-width="0.6"/>
<line x1="538.75" x2="541.15" y1="393.60" y2="393.60" stroke="#bbb" stroke-width="0.6"/>
<rect x="537.25" y="376.30" width="5.4" height="7.50" fill="none" stroke="#c2c2c2" stroke-width="0.5"/>
<line x1="537.25" x2="542.65" y1="380.05" y2="380.05" stroke="#c2c2c2" stroke-width="0.5"/>
<polygon points="539.7,365.4 539.6,367.8 539.4,370.1 539.1,372.4 538.7,374.8 538.4,377.1 538.2,379.5 538.3,381.9 538.6,384.2 538.9,386.6 539.3,388.9 539.5,391.2 539.6,393.6 540.3,393.6 540.4,391.2 540.6,388.9 541.0,386.6 541.3,384.2 541.6,381.9 541.7,379.5 541.5,377.1 541.2,374.8 540.8,372.4 540.5,370.1 540.3,367.8 540.2,365.4" fill="#48b03a" fill-opacity="0.202"/>
<path d="M539.2 373.0h0m.7 11.6h0m-.4 -9.1h0m.2 15.5h0m1 -12.6h0m-.8 -9.6h0m-.1 23.2h0m.6 -16.9h0m-.7 6h0m.2 -1.1h0m.5 1.5h0m1.4 -4.8h0m-2.3 10.3h0m1.3 -17h0m-1 -.5h0m-.3 12.5h0m1 4h0m-.4 3.2h0m-.6 -5.4h0m0 2.5h0m.8 .9h0m-.7 -12.7h0m-.9 2h0m.8 1.8h0m1 1.9h0m-.4 .8h0m.3 -6h0m-.4 -4.3h0m-.8 8.9h0m.6 -13.9h0m1 11.3h0m0 4.4h0m-.6 -10.7h0m-2.4 10h0m1.8 2.2h0m.5 -3h0m.2 7.2h0m-.7 -9.4h0m-.3 -4.7h0m.8 7.8h0m-.7 -10.8h0m1 10.6h0m-.8 5.4h0m.1 -7.5h0m.3 2.6h0m.6 -1h0m-.7 .4h0m-.4 4.7h0m-.5 -2.1h0m.7 -6.5h0m-.7 -2.8h0m1.7 4.3h0m-.4 4.3h0m-1.2 -.3h0m.2 -4.3h0m-.3 3.2h0m.7 2h0m-.5 6.5h0m.7 -22.8h0m1.1 16.4h0m-2.9 -.9h0m1.7 -8.6h0m-.3 4.4h0m.2 8.2h0m.7 2.3h0m-.9 1.5h0m.9 -9.3h0m-1.1 -3.5h0m.7 3.9h0m-.6 -10.4h0m1.4 9.6h0m-.1 11.2h0m-1.5 -6.5h0m1.3 -2.7h0m-1.2 -9.6h0m1.2 1h0m-1.5 -.4h0m.8 15.6h0m-.1 -21.4h0m.9 2.9h0m-.6 19.5h0m.6 -8.8h0m-.6 -8.6h0m.9 2.5h0m-.8 3.4h0m.1 13.3h0m-.7 -4.9h0m.8 -12.6h0m-1 -.8h0m.2 -1.1h0m.4 16.3h0m-.4 -11.1h0m.2 -1.5h0m-2 5.9h0m2 -4.2h0m.7 .4h0m0 -12h0m-.4 6.7h0m.5 -2.1h0m-.7 18.4h0" stroke="#48b03a" stroke-opacity="0.294" stroke-width="0.75" stroke-linecap="round"/>
<text x="539.95" y="363.80" text-anchor="middle" font-family="Liberation Sans" font-size="6.2" textLength="5.90" lengthAdjust="spacingAndGlyphs" fill="#111" stroke="#111" stroke-width="0.15">10</text>
<line x1="536.35" x2="543.55" y1="379.80" y2="379.80" stroke="#2f9e12" stroke-width="2.2" stroke-linecap="round"/>
<line x1="550.25" x2="550.25" y1="371.90" y2="398.40" stroke="#c8c8c8" stroke-width="0.5"/>
<line x1="549.05" x2="551.45" y1="371.90" y2="371.90" stroke="#bbb" stroke-width="0.6"/>
<line x1="549.05" x2="551.45" y1="398.40" y2="398.40" stroke="#bbb" stroke-width="0.6"/>
<rect x="547.55" y="381.10" width="5.4" height="7.10" fill="none" stroke="#c2c2c2" stroke-width="0.5"/>
<line x1="547.55" x2="552.95" y1="384.65" y2="384.65" stroke="#c2c2c2" stroke-width="0.5"/>
<polygon points="549.9,371.9 549.8,374.1 549.6,376.3 549.2,378.5 548.9,380.7 548.6,382.9 548.5,385.1 548.7,387.4 549.0,389.6 549.4,391.8 549.7,394.0 549.9,396.2 550.0,398.4 550.5,398.4 550.6,396.2 550.8,394.0 551.1,391.8 551.5,389.6 551.8,387.4 552.0,385.1 551.9,382.9 551.6,380.7 551.3,378.5 550.9,376.3 550.7,374.1 550.6,371.9" fill="#bcbc38" fill-opacity="0.165"/>
<path d="M550.8 388.7h0m.5 -4.4h0m-1.7 -6.5h0m1 7.4h0m-.5 2.7h0m.1 -6.5h0m0 -3.3h0m-.3 4.2h0m.8 -3.3h0m-.6 -1.1h0m.6 -1.8h0m-.5 8.3h0m.3 4.7h0m-.4 -4.7h0m-.1 9.3h0m.9 -7.2h0m-1.3 2.6h0m.5 -4.3h0m.1 2.9h0m-.7 -1.8h0m2.1 .5h0m-1.1 -11.3h0m0 -1.8h0m-.6 3.9h0m-.3 4.2h0m.9 -6.2h0m-.2 14.7h0m-.3 -3.1h0m.5 5.4h0m-.8 -8.9h0m1.3 -5h0m-1.5 7.4h0m-.3 -.6h0m-.3 -3.8h0m.5 4.3h0m-.2 -.7h0m.4 1.6h0m.2 10.3h0m.5 -14.7h0m-.5 1.7h0m-.2 -4.3h0m1.5 11h0m-1 -.2h0m-.2 -.2h0m.6 -16.3h0m-.3 7.9h0m-.2 -4.5h0m.9 2.3h0m-.7 8.3h0m-.4 -14.2h0m1.1 10.7h0m-1.2 -.1h0m.3 -.6h0m-.1 -3.9h0m.7 10.5h0m-.3 6.9h0m.2 -17.9h0m-.3 5.3h0m-.4 13.8h0m.7 -17.6h0m.7 14.1h0m-.8 -21.4h0m-.3 6.8h0m-.3 3.4h0m.4 -.7h0m0 -.5h0m.2 -7.3h0m-.4 4.9h0m.8 8.4h0m.8 -1.6h0m-1.2 9h0m.7 -16.5h0m-.6 14.8h0m-1.1 -4h0m.4 -3.2h0m-.6 -1.3h0m1.1 4.6h0m1 -1.4h0m-.8 1.3h0m.6 1.8h0m-1.2 -11.9h0m1.1 -.3h0m-1.4 14.7h0m.8 3.4h0m-1.2 -19.9h0m1.3 3.6h0m-.1 -4.8h0m-.1 13.9h0m-.5 -4.3h0m.5 3.2h0m.2 -.2h0m-.1 5.6h0m.9 -10.5h0m-2 1.9h0m.5 -8.5h0" stroke="#bcbc38" stroke-opacity="0.240" stroke-width="0.75" stroke-linecap="round"/>
<text x="550.25" y="370.30" text-anchor="middle" font-family="Liberation Sans" font-size="6.2" textLength="5.90" lengthAdjust="spacingAndGlyphs" fill="#111" stroke="#111" stroke-width="0.15">10</text>
<line x1="546.65" x2="553.85" y1="378.70" y2="378.70" stroke="#a3a30c" stroke-width="2.2" stroke-linecap="round"/>
<rect x="45.8" y="256.4" width="525.70" height="154.20" fill="none" stroke="#3c3c3c" stroke-width="1.2"/>
<line x1="42.199999999999996" x2="45.8" y1="410.60" y2="410.60" stroke="#3c3c3c" stroke-width="1"/>
<line x1="571.5" x2="575.1" y1="410.60" y2="410.60" stroke="#3c3c3c" stroke-width="1"/>
<text x="37.6" y="413.30" text-anchor="end" font-family="Liberation Sans" font-size="7.9" textLength="3.9" lengthAdjust="spacingAndGlyphs" fill="#222" stroke="#222" stroke-width="0.25">0</text>
<text x="578.6" y="413.30" font-family="Liberation Sans" font-size="7.9" textLength="3.9" lengthAdjust="spacingAndGlyphs" fill="#222" stroke="#222" stroke-width="0.25">0</text>
<line x1="42.199999999999996" x2="45.8" y1="384.90" y2="384.90" stroke="#3c3c3c" stroke-width="1"/>
<line x1="571.5" x2="575.1" y1="384.90" y2="384.90" stroke="#3c3c3c" stroke-width="1"/>
<text x="37.6" y="387.60" text-anchor="end" font-family="Liberation Sans" font-size="7.9" textLength="3.9" lengthAdjust="spacingAndGlyphs" fill="#222" stroke="#222" stroke-width="0.25">2</text>
<text x="578.6" y="387.60" font-family="Liberation Sans" font-size="7.9" textLength="3.9" lengthAdjust="spacingAndGlyphs" fill="#222" stroke="#222" stroke-width="0.25">2</text>
<line x1="42.199999999999996" x2="45.8" y1="359.20" y2="359.20" stroke="#3c3c3c" stroke-width="1"/>
<line x1="571.5" x2="575.1" y1="359.20" y2="359.20" stroke="#3c3c3c" stroke-width="1"/>
<text x="37.6" y="361.90" text-anchor="end" font-family="Liberation Sans" font-size="7.9" textLength="3.9" lengthAdjust="spacingAndGlyphs" fill="#222" stroke="#222" stroke-width="0.25">4</text>
<text x="578.6" y="361.90" font-family="Liberation Sans" font-size="7.9" textLength="3.9" lengthAdjust="spacingAndGlyphs" fill="#222" stroke="#222" stroke-width="0.25">4</text>
<line x1="42.199999999999996" x2="45.8" y1="333.50" y2="333.50" stroke="#3c3c3c" stroke-width="1"/>
<line x1="571.5" x2="575.1" y1="333.50" y2="333.50" stroke="#3c3c3c" stroke-width="1"/>
<text x="37.6" y="336.20" text-anchor="end" font-family="Liberation Sans" font-size="7.9" textLength="3.9" lengthAdjust="spacingAndGlyphs" fill="#222" stroke="#222" stroke-width="0.25">6</text>
<text x="578.6" y="336.20" font-family="Liberation Sans" font-size="7.9" textLength="3.9" lengthAdjust="spacingAndGlyphs" fill="#222" stroke="#222" stroke-width="0.25">6</text>
<line x1="42.199999999999996" x2="45.8" y1="307.80" y2="307.80" stroke="#3c3c3c" stroke-width="1"/>
<line x1="571.5" x2="575.1" y1="307.80" y2="307.80" stroke="#3c3c3c" stroke-width="1"/>
<text x="37.6" y="310.50" text-anchor="end" font-family="Liberation Sans" font-size="7.9" textLength="3.9" lengthAdjust="spacingAndGlyphs" fill="#222" stroke="#222" stroke-width="0.25">8</text>
<text x="578.6" y="310.50" font-family="Liberation Sans" font-size="7.9" textLength="3.9" lengthAdjust="spacingAndGlyphs" fill="#222" stroke="#222" stroke-width="0.25">8</text>
<line x1="42.199999999999996" x2="45.8" y1="282.10" y2="282.10" stroke="#3c3c3c" stroke-width="1"/>
<line x1="571.5" x2="575.1" y1="282.10" y2="282.10" stroke="#3c3c3c" stroke-width="1"/>
<text x="37.6" y="284.80" text-anchor="end" font-family="Liberation Sans" font-size="7.9" textLength="7.8" lengthAdjust="spacingAndGlyphs" fill="#222" stroke="#222" stroke-width="0.25">10</text>
<text x="578.6" y="284.80" font-family="Liberation Sans" font-size="7.9" textLength="7.8" lengthAdjust="spacingAndGlyphs" fill="#222" stroke="#222" stroke-width="0.25">10</text>
<line x1="42.199999999999996" x2="45.8" y1="256.40" y2="256.40" stroke="#3c3c3c" stroke-width="1"/>
<line x1="571.5" x2="575.1" y1="256.40" y2="256.40" stroke="#3c3c3c" stroke-width="1"/>
<text x="37.6" y="259.10" text-anchor="end" font-family="Liberation Sans" font-size="7.9" textLength="7.8" lengthAdjust="spacingAndGlyphs" fill="#222" stroke="#222" stroke-width="0.25">12</text>
<text x="578.6" y="259.10" font-family="Liberation Sans" font-size="7.9" textLength="7.8" lengthAdjust="spacingAndGlyphs" fill="#222" stroke="#222" stroke-width="0.25">12</text>
<line x1="71.80" x2="71.80" y1="410.6" y2="414.10" stroke="#3c3c3c" stroke-width="1"/>
<text x="70.80" y="424.20" text-anchor="end" transform="rotate(-28 70.80 424.20)" font-family="Liberation Sans" font-size="8.2" textLength="48.78" lengthAdjust="spacingAndGlyphs" fill="#222" stroke="#222" stroke-width="0.15">North America</text>
<line x1="123.25" x2="123.25" y1="410.6" y2="414.10" stroke="#3c3c3c" stroke-width="1"/>
<text x="122.25" y="424.20" text-anchor="end" transform="rotate(-28 122.25 424.20)" font-family="Liberation Sans" font-size="8.2" textLength="46.65" lengthAdjust="spacingAndGlyphs" fill="#222" stroke="#222" stroke-width="0.15">Latin America</text>
<line x1="174.70" x2="174.70" y1="410.6" y2="414.10" stroke="#3c3c3c" stroke-width="1"/>
<text x="173.70" y="424.20" text-anchor="end" transform="rotate(-28 173.70 424.20)" font-family="Liberation Sans" font-size="8.2" textLength="24.83" lengthAdjust="spacingAndGlyphs" fill="#222" stroke="#222" stroke-width="0.15">Europe</text>
<line x1="226.15" x2="226.15" y1="410.6" y2="414.10" stroke="#3c3c3c" stroke-width="1"/>
<text x="225.15" y="424.20" text-anchor="end" transform="rotate(-28 225.15 424.20)" font-family="Liberation Sans" font-size="8.2" textLength="19.68" lengthAdjust="spacingAndGlyphs" fill="#222" stroke="#222" stroke-width="0.15">Africa</text>
<line x1="277.60" x2="277.60" y1="410.6" y2="414.10" stroke="#3c3c3c" stroke-width="1"/>
<text x="276.60" y="424.20" text-anchor="end" transform="rotate(-28 276.60 424.20)" font-family="Liberation Sans" font-size="8.2" textLength="52.65" lengthAdjust="spacingAndGlyphs" fill="#222" stroke="#222" stroke-width="0.15">Southwest Asia</text>
<line x1="329.05" x2="329.05" y1="410.6" y2="414.10" stroke="#3c3c3c" stroke-width="1"/>
<text x="328.05" y="424.20" text-anchor="end" transform="rotate(-28 328.05 424.20)" font-family="Liberation Sans" font-size="8.2" textLength="64.20" lengthAdjust="spacingAndGlyphs" fill="#222" stroke="#222" stroke-width="0.15">Central-South Asia</text>
<line x1="380.50" x2="380.50" y1="410.6" y2="414.10" stroke="#3c3c3c" stroke-width="1"/>
<text x="379.50" y="424.20" text-anchor="end" transform="rotate(-28 379.50 424.20)" font-family="Liberation Sans" font-size="8.2" textLength="16.70" lengthAdjust="spacingAndGlyphs" fill="#222" stroke="#222" stroke-width="0.15">India</text>
<line x1="431.95" x2="431.95" y1="410.6" y2="414.10" stroke="#3c3c3c" stroke-width="1"/>
<text x="430.95" y="424.20" text-anchor="end" transform="rotate(-28 430.95 424.20)" font-family="Liberation Sans" font-size="8.2" textLength="20.12" lengthAdjust="spacingAndGlyphs" fill="#222" stroke="#222" stroke-width="0.15">China</text>
<line x1="483.40" x2="483.40" y1="410.6" y2="414.10" stroke="#3c3c3c" stroke-width="1"/>
<text x="482.40" y="424.20" text-anchor="end" transform="rotate(-28 482.40 424.20)" font-family="Liberation Sans" font-size="8.2" textLength="32.10" lengthAdjust="spacingAndGlyphs" fill="#222" stroke="#222" stroke-width="0.15">East Asia</text>
<line x1="534.85" x2="534.85" y1="410.6" y2="414.10" stroke="#3c3c3c" stroke-width="1"/>
<text x="533.85" y="424.20" text-anchor="end" transform="rotate(-28 533.85 424.20)" font-family="Liberation Sans" font-size="8.2" textLength="51.37" lengthAdjust="spacingAndGlyphs" fill="#222" stroke="#222" stroke-width="0.15">Southeast Asia</text>
<text x="0" y="0" text-anchor="middle" transform="translate(24.3 333.50) rotate(-90)" font-family="Liberation Serif" font-size="12" fill="#444">percent change : population</text>
<text x="0" y="0" text-anchor="middle" transform="translate(592.2 333.50) rotate(90)" font-family="Liberation Serif" font-size="12" fill="#444">percent change : urban area</text>
<rect x="59.3" y="262.30" width="54.6" height="40" rx="1.2" fill="#fff" stroke="#333" stroke-width="1.2"/>
<circle cx="68.7" cy="268.30" r="2.6" fill="#0b0ba6"/>
<text x="80.5" y="270.85" font-family="Liberation Sans" font-size="7.6" textLength="29.2" lengthAdjust="spacingAndGlyphs" fill="#222" stroke="#222" stroke-width="0.2">1970-1980</text>
<circle cx="68.7" cy="277.63" r="2.6" fill="#8c1212"/>
<text x="80.5" y="280.18" font-family="Liberation Sans" font-size="7.6" textLength="29.2" lengthAdjust="spacingAndGlyphs" fill="#222" stroke="#222" stroke-width="0.2">1980-1990</text>
<circle cx="68.7" cy="286.96" r="2.6" fill="#3a9e1e"/>
<text x="80.5" y="289.51" font-family="Liberation Sans" font-size="7.6" textLength="29.2" lengthAdjust="spacingAndGlyphs" fill="#222" stroke="#222" stroke-width="0.2">1990-2000</text>
<circle cx="68.7" cy="296.29" r="2.6" fill="#a6a616"/>
<text x="80.5" y="298.84" font-family="Liberation Sans" font-size="7.6" textLength="29.2" lengthAdjust="spacingAndGlyphs" fill="#222" stroke="#222" stroke-width="0.2">2000-2010</text>
<line x1="45.8" x2="571.5" y1="622.20" y2="622.20" stroke="#f1f1f1" stroke-width="0.8"/>
<line x1="45.8" x2="571.5" y1="596.50" y2="596.50" stroke="#f1f1f1" stroke-width="0.8"/>
<line x1="45.8" x2="571.5" y1="570.80" y2="570.80" stroke="#f1f1f1" stroke-width="0.8"/>
<line x1="45.8" x2="571.5" y1="545.10" y2="545.10" stroke="#f1f1f1" stroke-width="0.8"/>
<line x1="45.8" x2="571.5" y1="519.40" y2="519.40" stroke="#f1f1f1" stroke-width="0.8"/>
<line x1="56.30" x2="56.30" y1="583.40" y2="614.50" stroke="#c8c8c8" stroke-width="0.5"/>
<line x1="55.10" x2="57.50" y1="583.40" y2="583.40" stroke="#bbb" stroke-width="0.6"/>
<line x1="55.10" x2="57.50" y1="614.50" y2="614.50" stroke="#bbb" stroke-width="0.6"/>
<rect x="53.60" y="596.10" width="5.4" height="8.70" fill="none" stroke="#c2c2c2" stroke-width="0.5"/>
<line x1="53.60" x2="59.00" y1="600.45" y2="600.45" stroke="#c2c2c2" stroke-width="0.5"/>
<polygon points="56.0,583.4 55.9,586.0 55.8,588.6 55.5,591.2 55.2,593.8 54.8,596.4 54.6,599.0 54.6,601.5 54.8,604.1 55.1,606.7 55.5,609.3 55.7,611.9 55.9,614.5 56.7,614.5 56.9,611.9 57.1,609.3 57.5,606.7 57.8,604.1 58.0,601.5 58.0,599.0 57.8,596.4 57.4,593.8 57.1,591.2 56.8,588.6 56.7,586.0 56.6,583.4" fill="#4a5ad8" fill-opacity="0.220"/>
<path d="M56.5 611.2h0m.3 -5.1h0m0 8.4h0m-.3 -20.2h0m.5 4.8h0m-.8 1.3h0m-.2 10.9h0m-.4 -13.6h0m.1 4.2h0m1 .7h0m-.3 6.9h0m-1 -6.5h0m.8 -11h0m-.1 13.5h0m.2 1.8h0m-.4 5.2h0m.6 -4h0m-1.2 -5.7h0m1 -12.3h0m-.8 14.7h0m.6 -1.7h0m1.5 -5.4h0m-1.9 -12.7h0m.1 18.4h0m.9 -8h0m-.6 1.7h0m.5 1.7h0m-.6 -8.8h0m.9 19h0m-1 -23.9h0m.4 3.1h0m-.1 11.6h0m.3 -13.3h0m-1.3 19.7h0m1.7 -14.1h0m-.1 11.8h0m.1 -17.4h0m-2.8 13h0m1 -.3h0m.9 -13.7h0m.5 26.7h0m.7 -8.3h0m-1 6h0m-.7 -16.2h0m.6 5.1h0m.8 3.1h0m-1.8 1.6h0m1.5 -12.8h0m.4 4.6h0m.6 3.4h0m-1.5 -1.6h0m-1.2 .5h0m1.3 15.2h0m-.2 -3.3h0m-.3 -17.4h0m.8 -2.4h0m0 20.3h0m.8 -5.2h0m.7 -7.3h0m-2.5 -9h0m.6 9.3h0m.5 9.5h0m-1.1 -6.6h0m.3 6.7h0m.5 -22.1h0m1 15.3h0m-.9 -7.3h0m.7 5.7h0m-1.8 -1.9h0m1 2.9h0m1.6 -1h0m-2.6 -4.9h0m-.5 5.1h0m.3 -4.5h0m1.9 -4h0m-1.3 -.3h0m.8 9.8h0m.3 -9.8h0m.2 22.7h0m-.2 -6.3h0m.2 -5.3h0m-1.1 -10.3h0m.1 15.6h0m-.4 -11.1h0m.6 5.2h0m-.2 -3.7h0m-.2 3.1h0m1 -5.5h0m-.1 14.9h0m-1.1 -15.5h0m2.6 5.1h0m-1.2 -7.7h0m-.3 15.4h0m-.5 2h0m1.3 -11.7h0m-1.4 1.8h0m-.3 3.5h0m.5 -5.9h0m1.2 3.9h0m-1 -.4h0m.1 0h0m-1.6 3.8h0m.8 -8.7h0m-.3 -2.8h0m.6 2.6h0m.7 -5h0m-1.2 1.6h0m1.7 1.8h0m-1.8 -2h0m.7 1.2h0m.1 -1.2h0m-.3 3.2h0m-.8 -.6h0m.7 8h0m.7 -1.7h0" stroke="#4a5ad8" stroke-opacity="0.320" stroke-width="0.75" stroke-linecap="round"/>
<text x="56.30" y="581.70" text-anchor="middle" font-family="Liberation Sans" font-size="6.2" textLength="5.90" lengthAdjust="spacingAndGlyphs" fill="#111" stroke="#111" stroke-width="0.15">25</text>
<line x1="52.70" x2="59.90" y1="615.90" y2="615.90" stroke="#0b0ba6" stroke-width="2.2" stroke-linecap="round"/>
<line x1="66.60" x2="66.60" y1="585.30" y2="616.70" stroke="#c8c8c8" stroke-width="0.5"/>
<line x1="65.40" x2="67.80" y1="585.30" y2="585.30" stroke="#bbb" stroke-width="0.6"/>
<line x1="65.40" x2="67.80" y1="616.70" y2="616.70" stroke="#bbb" stroke-width="0.6"/>
<rect x="63.90" y="596.60" width="5.4" height="8.20" fill="none" stroke="#c2c2c2" stroke-width="0.5"/>
<line x1="63.90" x2="69.30" y1="600.70" y2="600.70" stroke="#c2c2c2" stroke-width="0.5"/>
<polygon points="66.3,585.3 66.2,587.9 66.0,590.5 65.7,593.1 65.3,595.8 65.0,598.4 64.9,601.0 65.0,603.6 65.4,606.2 65.7,608.9 66.0,611.5 66.2,614.1 66.3,616.7 66.9,616.7 67.0,614.1 67.2,611.5 67.5,608.9 67.8,606.2 68.2,603.6 68.3,601.0 68.2,598.4 67.9,595.8 67.5,593.1 67.2,590.5 67.0,587.9 66.9,585.3" fill="#c0404e" fill-opacity="0.202"/>
<path d="M67.4 608.0h0m-.5 -18.5h0m-1 18h0m-.2 -4h0m.4 -4h0m1.3 -10.8h0m-1.3 5.2h0m1.6 6.6h0m-1.1 -2.7h0m-.2 7.8h0m0 -16.2h0m-.3 20.3h0m1.4 -11.3h0m-.9 6.1h0m-.3 -16h0m.2 5.5h0m.5 15.5h0m.4 -7.4h0m-.1 7.8h0m.1 -11.5h0m-.2 2.6h0m1 1.3h0m-.5 4.1h0m-.9 3.9h0m-.5 -6.6h0m.2 6.5h0m-.6 -13.9h0m.3 -7.7h0m.4 8.9h0m-.2 -6h0m-.5 1.9h0m1.2 4.4h0m-1.1 -7.3h0m1 21.8h0m-.4 -18.2h0m.4 -6.9h0m-.6 7.6h0m-.7 5.1h0m1.5 -6h0m-.5 8.5h0m-.7 -2.3h0m.4 -.4h0m-.3 .4h0m.4 -3.4h0m-.6 -3.4h0m.7 8.8h0m.2 -1.6h0m.4 -8.5h0m-1.1 -.3h0m-.2 15.9h0m1 .8h0m.3 -16.3h0m-.4 1.8h0m-.6 -7.3h0m-.5 11.4h0m1.9 -1h0m-.8 2.8h0m-1.4 -5.2h0m2.6 4.9h0m-1.2 15.2h0m.1 -12.9h0m-.5 -6.1h0m-.7 2.7h0m1.9 8.3h0m-1.1 -13.2h0m-.4 3.7h0m-.3 4.5h0m2.2 1h0m-1 8h0m-.7 -8.3h0m-.1 -3.5h0m.3 -7.1h0m.7 10.9h0m-1.6 3.2h0m1.4 -7.4h0m.5 -1.5h0m-1.1 6.2h0m.6 -7.6h0m0 -3.6h0m-1.1 24.3h0m.6 -28.5h0m-.7 15.3h0m.9 12.1h0m-.2 -26.7h0m.3 24.4h0m-1 -6.4h0m1.4 -13.2h0m-.5 8.6h0m.2 5h0m-.5 -10.9h0m.4 10.2h0m.5 -10.8h0m.5 3.3h0m-1.5 4.9h0m.1 -5.4h0m-.2 2.9h0m.7 -.8h0m-.6 11.1h0m.8 -7.3h0m-.1 -8.9h0m-.6 16.1h0m.6 -10.3h0m-.7 4.5h0m.8 -10.7h0m-.3 5.5h0m1.2 1.8h0m-1.9 -.6h0m.7 10.4h0m-1.9 -17.5h0" stroke="#c0404e" stroke-opacity="0.294" stroke-width="0.75" stroke-linecap="round"/>
<text x="66.60" y="583.70" text-anchor="middle" font-family="Liberation Sans" font-size="6.2" textLength="5.90" lengthAdjust="spacingAndGlyphs" fill="#111" stroke="#111" stroke-width="0.15">25</text>
<line x1="63.00" x2="70.20" y1="623.40" y2="623.40" stroke="#8c0d0d" stroke-width="2.2" stroke-linecap="round"/>
<line x1="76.90" x2="76.90" y1="583.70" y2="614.00" stroke="#c8c8c8" stroke-width="0.5"/>
<line x1="75.70" x2="78.10" y1="583.70" y2="583.70" stroke="#bbb" stroke-width="0.6"/>
<line x1="75.70" x2="78.10" y1="614.00" y2="614.00" stroke="#bbb" stroke-width="0.6"/>
<rect x="74.20" y="595.60" width="5.4" height="8.10" fill="none" stroke="#c2c2c2" stroke-width="0.5"/>
<line x1="74.20" x2="79.60" y1="599.65" y2="599.65" stroke="#c2c2c2" stroke-width="0.5"/>
<polygon points="76.6,583.7 76.5,586.2 76.4,588.8 76.1,591.3 75.7,593.8 75.4,596.3 75.2,598.9 75.2,601.4 75.5,603.9 75.9,606.4 76.2,609.0 76.4,611.5 76.6,614.0 77.2,614.0 77.4,611.5 77.6,609.0 77.9,606.4 78.3,603.9 78.6,601.4 78.6,598.9 78.4,596.3 78.1,593.8 77.7,591.3 77.4,588.8 77.3,586.2 77.2,583.7" fill="#48b03a" fill-opacity="0.202"/>
<path d="M76.6 600.9h0m-.3 -9.5h0m.6 3h0m-1.5 3.7h0m.7 2.1h0m.6 -2.1h0m.2 7.1h0m-.4 7.7h0m1.3 -4.7h0m-.7 -17.3h0m-.6 14.4h0m.6 -19.9h0m.6 10.3h0m-1.8 4.5h0m1 9.1h0m.2 -5.9h0m-1.2 1.9h0m.1 -7.5h0m.5 2.8h0m-.2 -.5h0m.2 9.3h0m.6 -15.2h0m-.3 7.4h0m.4 -4.8h0m-.5 11.7h0m.1 -14.7h0m-.6 4.6h0m.9 1.7h0m-.7 -2h0m.6 -1.7h0m-2 4.8h0m1.5 -6.9h0m1.2 2.1h0m-.3 3.1h0m-1.1 -5.7h0m0 1.7h0m1.1 -1.1h0m0 10.1h0m-1.7 -6.3h0m1.5 5.2h0m-.2 8.9h0m.1 -8.9h0m-.3 -8.6h0m.4 -4.4h0m-.3 11.2h0m-.5 5h0m.5 -22.2h0m0 12.2h0m.9 2.6h0m.7 -1.5h0m-1.3 5.6h0m.8 -4.8h0m-1.7 -13h0m1.1 23.7h0m-.8 -16.4h0m-.8 6.8h0m.9 -13.7h0m.2 12.9h0m-.1 -4.1h0m-.2 -.4h0m.9 13.9h0m.6 -8.9h0m-2.1 5.8h0m1 .4h0m.5 6.4h0m-.9 -3.6h0m1.7 -6h0m-1.4 10.1h0m-.2 -6.7h0m.4 -2.1h0m-.1 2.5h0m-.4 -7.1h0m-.4 8.1h0m1.6 -3.2h0m-.4 -6h0m-1 4.4h0m-.4 -7h0m1.3 11.8h0m-.6 -5.2h0m-.8 -4.3h0m.7 11.6h0m-.2 -9.3h0m.6 -6.5h0m-.9 5.1h0m.6 -13.8h0m.8 26h0m-1.2 -2.8h0m.6 -10.1h0m-1.4 6.2h0m2.6 -8.9h0m-2.7 7.9h0m2.8 -3.5h0m-.5 6.7h0m-.2 3.8h0m.2 -9.8h0m-.7 -10h0m-.1 11.4h0m-.8 -4.2h0m0 -2.5h0m2 5h0m-1.7 .2h0m-.8 -2h0m.7 -6.4h0m.4 21.5h0m-.1 -2.6h0m0 -17.3h0m-.4 9.2h0m0 -1.4h0m1.1 5.4h0m-1.4 -13.9h0" stroke="#48b03a" stroke-opacity="0.294" stroke-width="0.75" stroke-linecap="round"/>
<text x="76.90" y="581.90" text-anchor="middle" font-family="Liberation Sans" font-size="6.2" textLength="5.90" lengthAdjust="spacingAndGlyphs" fill="#111" stroke="#111" stroke-width="0.15">25</text>
<line x1="73.30" x2="80.50" y1="621.80" y2="621.80" stroke="#2f9e12" stroke-width="2.2" stroke-linecap="round"/>
<line x1="87.20" x2="87.20" y1="596.40" y2="615.60" stroke="#c8c8c8" stroke-width="0.5"/>
<line x1="86.00" x2="88.40" y1="596.40" y2="596.40" stroke="#bbb" stroke-width="0.6"/>
<line x1="86.00" x2="88.40" y1="615.60" y2="615.60" stroke="#bbb" stroke-width="0.6"/>
<rect x="84.50" y="603.10" width="5.4" height="6.00" fill="none" stroke="#c2c2c2" stroke-width="0.5"/>
<line x1="84.50" x2="89.90" y1="606.10" y2="606.10" stroke="#c2c2c2" stroke-width="0.5"/>
<polygon points="86.8,596.4 86.7,598.0 86.4,599.6 86.1,601.2 85.8,602.8 85.6,604.4 85.5,606.0 85.5,607.6 85.8,609.2 86.1,610.8 86.4,612.4 86.6,614.0 86.8,615.6 87.6,615.6 87.8,614.0 88.0,612.4 88.3,610.8 88.6,609.2 88.9,607.6 88.9,606.0 88.8,604.4 88.6,602.8 88.3,601.2 88.0,599.6 87.7,598.0 87.6,596.4" fill="#bcbc38" fill-opacity="0.165"/>
<path d="M86.4 598.3h0m1.8 7.4h0m-.1 4h0m-.3 -5.9h0m0 -3.7h0m-.7 4.5h0m.8 .9h0m.7 1.1h0m-.7 .4h0m-1.2 -.7h0m-.1 -4.4h0m.9 .1h0m-.1 -1.1h0m-.8 8.4h0m.3 -6.1h0m0 4.9h0m.9 -4.8h0m-.6 5.7h0m-.1 -2.8h0m-.5 -7.9h0m.2 13.2h0m1.2 -1.5h0m-1 -6.2h0m-1.1 6.3h0m1.6 -4.8h0m-.6 -5.8h0m-1.2 8.7h0m1.7 -.7h0m.5 .5h0m-.8 -7.3h0m.8 .1h0m-.8 -1.4h0m-.8 5.5h0m.4 -2h0m.3 -3.5h0m-.9 8.9h0m.1 -1.7h0m.9 1.3h0m.4 -10.4h0m-1.3 10.2h0m1.8 4.5h0m-1.1 -9h0m-.2 2.9h0m-.3 -3.6h0m2.4 6.7h0m-.6 2.1h0m-1 -13.1h0m-.8 12.1h0m1.4 -8.2h0m-.6 -.4h0m-.6 -4.6h0m2 11.5h0m-1.1 2.5h0m1.4 -4.3h0m-1.8 3.3h0m-.8 -3.9h0m.5 3.5h0m-.2 -1.5h0m2.2 -1.7h0m-1.4 -7h0m-1.3 6.7h0m.2 2.1h0m.3 1.5h0m.8 -6.7h0m.8 2.4h0m-.4 9.6h0m-1 -9h0m.1 .4h0m-.2 -8.1h0m1.8 9.1h0m-1 -1h0m-.8 -2.1h0m.4 2.7h0m.2 2.1h0" stroke="#bcbc38" stroke-opacity="0.240" stroke-width="0.75" stroke-linecap="round"/>
<text x="87.20" y="594.50" text-anchor="middle" font-family="Liberation Sans" font-size="6.2" textLength="5.90" lengthAdjust="spacingAndGlyphs" fill="#111" stroke="#111" stroke-width="0.15">12</text>
<line x1="83.60" x2="90.80" y1="623.00" y2="623.00" stroke="#a3a30c" stroke-width="2.2" stroke-linecap="round"/>
<line x1="107.75" x2="107.75" y1="572.30" y2="629.50" stroke="#c8c8c8" stroke-width="0.5"/>
<line x1="106.55" x2="108.95" y1="572.30" y2="572.30" stroke="#bbb" stroke-width="0.6"/>
<line x1="106.55" x2="108.95" y1="629.50" y2="629.50" stroke="#bbb" stroke-width="0.6"/>
<rect x="105.05" y="599.00" width="5.4" height="9.70" fill="none" stroke="#c2c2c2" stroke-width="0.5"/>
<line x1="105.05" x2="110.45" y1="603.85" y2="603.85" stroke="#c2c2c2" stroke-width="0.5"/>
<polygon points="107.5,572.3 107.5,577.1 107.5,581.8 107.4,586.6 107.2,591.4 106.7,596.1 106.1,600.9 106.0,605.7 106.5,610.4 107.1,615.2 107.4,620.0 107.5,624.7 107.5,629.5 108.0,629.5 108.0,624.7 108.1,620.0 108.4,615.2 109.0,610.4 109.5,605.7 109.4,600.9 108.8,596.1 108.3,591.4 108.1,586.6 108.0,581.8 108.0,577.1 108.0,572.3" fill="#4a5ad8" fill-opacity="0.220"/>
<path d="M109.0 602.9h0m-.8 -12.7h0m-.1 7.7h0m1.3 8.1h0m-2.3 6.9h0m.5 -8.2h0m1.2 5.9h0m-1 -1.9h0m-.1 -20.3h0m-.4 32.2h0m.2 -18.5h0m.2 -19.8h0m.7 15.4h0m-.5 6.4h0m-.3 10.3h0m0 -3.2h0m0 -9.6h0m.9 -2.6h0m-.3 -1.7h0m-.6 -3.6h0m-.2 6.9h0m1.1 11.2h0m-1.1 -2.7h0m.4 -7.8h0m-1.5 2.6h0m.7 -1.7h0m0 2h0m.6 -4.6h0m-.4 -6h0m.8 19.2h0m1.6 -5.1h0m-1.3 4.7h0m-.4 -28.4h0m-.4 17.8h0m-.7 -.5h0m1.1 7h0m.5 8.8h0m-1.1 -24.8h0m.8 26.1h0m.6 -10.2h0m-1.1 -11.1h0m.6 11.6h0m0 -13.6h0m-.5 3.2h0m.2 -9.6h0m0 8.2h0m-.2 -22.1h0m.6 35.4h0m-1.3 -1.5h0m.8 -4.7h0m-.4 -6.7h0m.4 4h0m.8 -1.4h0m-1.7 5.3h0m1.4 -8.8h0m-1 3.6h0m.9 .4h0m-1 2.1h0m.1 2.9h0m.8 10.5h0m-.2 -23.8h0m.2 -14.9h0m-.9 23.9h0m.6 -16h0m-.5 20.7h0m.5 6.5h0m-.7 -13.6h0m1.1 6.2h0m0 -3.7h0m-.9 3.7h0m1.5 -4.4h0m-1.1 -27.7h0m-.4 23.9h0m.8 31h0m-2.1 -22.7h0m1.6 -11.8h0m.3 18.7h0m-.6 -10.2h0m.7 -8.5h0m.4 8h0m-.7 12.3h0m.3 -9.3h0m.3 -31.8h0m-1.3 36.7h0m1.7 -.7h0m-.5 -6.6h0m-.8 .4h0m-1 2h0m1.4 6.2h0m-.3 -8.6h0m.1 20.6h0m.4 -22.8h0m-1.1 3.5h0m-.4 -3.1h0m.8 10.9h0m.5 3.9h0m-.6 -14.5h0m-.9 3.1h0m1.8 -3.3h0m-.4 14.3h0m-.1 -19.1h0m-1.2 9.9h0m1.5 -13.5h0m-.9 10.1h0m.9 -3.4h0m.1 -7.6h0m0 25.3h0m-1.2 -19.6h0m1.4 9.7h0m-.1 4.7h0m0 5.1h0m-1.2 -4.4h0m1.3 -6.1h0m-.2 14h0m-.1 2.1h0m-.4 -29.7h0m-.4 15.3h0m.5 -17h0m.3 21.7h0m-.5 10.9h0m.5 -29.2h0m.6 .7h0m-.9 11.8h0m2.2 -2.3h0m-1.9 -28.5h0m-.4 41.5h0m.7 -17.1h0m-1 -11.4h0m.7 6.1h0m-.1 8.6h0m0 2.5h0m.9 -1.9h0m-1.3 4.1h0m.5 -5.7h0m.2 11.9h0m-.3 -2.5h0m-.4 -12.5h0m1.4 13.7h0m-2.7 -9.1h0m1.9 9.3h0m-1.3 -8.8h0m1.6 1.3h0m.3 -8h0m-.6 -2.6h0m.4 25.4h0m-.3 -40.1h0m.2 23.1h0m-2.5 -4.3h0m1.1 2.5h0m1.3 -2.6h0m-.2 13.7h0m-.9 -17.8h0m.6 -.1h0m1.3 11.8h0m-1.4 2.4h0m.9 2.3h0m-.9 -17.6h0m-.2 8.2h0m0 5h0m1.1 4.7h0m-.1 -4.9h0m-1.3 -.2h0m1.2 -10h0" stroke="#4a5ad8" stroke-opacity="0.320" stroke-width="0.75" stroke-linecap="round"/>
<text x="107.75" y="571.20" text-anchor="middle" font-family="Liberation Sans" font-size="6.2" textLength="5.90" lengthAdjust="spacingAndGlyphs" fill="#111" stroke="#111" stroke-width="0.15">11</text>
<line x1="104.15" x2="111.35" y1="596.10" y2="596.10" stroke="#0b0ba6" stroke-width="2.2" stroke-linecap="round"/>
<line x1="118.05" x2="118.05" y1="581.00" y2="629.50" stroke="#c8c8c8" stroke-width="0.5"/>
<line x1="116.85" x2="119.25" y1="581.00" y2="581.00" stroke="#bbb" stroke-width="0.6"/>
<line x1="116.85" x2="119.25" y1="629.50" y2="629.50" stroke="#bbb" stroke-width="0.6"/>
<rect x="115.35" y="599.00" width="5.4" height="9.00" fill="none" stroke="#c2c2c2" stroke-width="0.5"/>
<line x1="115.35" x2="120.75" y1="603.50" y2="603.50" stroke="#c2c2c2" stroke-width="0.5"/>
<polygon points="117.8,581.0 117.8,585.0 117.7,589.1 117.4,593.1 116.8,597.2 116.4,601.2 116.4,605.2 116.8,609.3 117.3,613.3 117.6,617.4 117.8,621.4 117.8,625.5 117.8,629.5 118.3,629.5 118.3,625.5 118.3,621.4 118.5,617.4 118.8,613.3 119.3,609.3 119.7,605.2 119.7,601.2 119.3,597.2 118.7,593.1 118.4,589.1 118.3,585.0 118.3,581.0" fill="#c0404e" fill-opacity="0.202"/>
<path d="M118.5 604.5h0m-.7 3.8h0m-.3 -.2h0m.2 -15.8h0m.5 3.4h0m-.4 5.1h0m.2 -7.2h0m1.9 11.1h0m-1.7 2.1h0m.3 -5.6h0m.4 7.8h0m-.7 -21.3h0m-1 5.4h0m.3 -9h0m.1 11.8h0m.3 14.9h0m.6 -10h0m-.4 4.4h0m.3 10.9h0m-.4 9.5h0m.2 -18.2h0m1.1 -7.8h0m-2.2 10h0m.3 -2.6h0m.8 -22.6h0m-.3 14.4h0m-.3 27.6h0m.3 -8h0m1.1 -21.4h0m-1.8 8.9h0m1 -15.9h0m-.7 15.3h0m1.1 2h0m.4 -3.5h0m-.5 -5.6h0m-.4 -5.1h0m.4 7.1h0m-1.2 4.6h0m.4 2.8h0m-.4 -14h0m1.3 18.3h0m-2.1 -7.4h0m2.4 -8.5h0m-.6 -2.4h0m-.8 5.3h0m.7 4.4h0m.5 -3.5h0m-1.4 -3.7h0m.2 7.6h0m.2 -18.4h0m.9 21h0m-.5 13.5h0m.1 -10.5h0m.6 -6.9h0m-.9 -4.8h0m.6 3.9h0m-.4 15.1h0m-.2 7.9h0m1.4 -13.6h0m-1.3 10.2h0m.3 -30.5h0m-.8 -.2h0m.3 27h0m.3 -12.5h0m.4 -10.4h0m-.9 1h0m.1 -2.9h0m-.5 3.7h0m1.2 23.2h0m-.6 -10.2h0m.3 -13.6h0m-1.3 3.8h0m1.7 7.9h0m.2 3.4h0m.7 -9.1h0m-1 14.1h0m.4 -8.1h0m-1 -17.1h0m.6 23.3h0m.3 -11.2h0m-1.1 -8.4h0m.7 -1.3h0m0 31.3h0m-1.6 -22.1h0m1.6 14h0m.8 -8.4h0m-1.1 -20.5h0m-.6 15.6h0m.9 8.9h0m.2 -15.7h0m-.3 -2.6h0m.4 8.9h0m-.7 -21h0m-.1 21.6h0m.1 21.9h0m-.4 -27.9h0m-.3 9.4h0m1.4 3.1h0m.9 -4h0m-1.5 13.5h0m.2 2.8h0m.8 -18.7h0m.7 -3.8h0m-1.1 1.8h0m-1.8 .6h0m2.1 3.2h0m-.6 2.6h0m-.6 -18h0m-.2 1.7h0m.7 20.2h0m-.4 -8.5h0m1 0h0m-2.1 1.8h0m1.9 -13.9h0m.4 5.4h0m-1.2 -.9h0m.1 17.2h0m-.7 -10.1h0m1 3.3h0m-.2 -1.6h0m-.2 -7.7h0m.8 13.2h0m-1.2 -8.2h0m1 -7.6h0m.1 11h0m-.8 -9.8h0m.1 26.5h0m.5 -17.2h0m-.4 1h0m.1 -8.6h0m.5 3.5h0m.6 -2.4h0m-.5 13.9h0m-1 -24.3h0m.7 17.1h0m.1 -5.5h0m.2 2.8h0m-.9 .4h0m.8 -10.5h0m-.5 16.1h0m.3 3.8h0m-.2 -22.4h0m-.1 2.2h0m.1 21.3h0" stroke="#c0404e" stroke-opacity="0.294" stroke-width="0.75" stroke-linecap="round"/>
<text x="118.05" y="579.50" text-anchor="middle" font-family="Liberation Sans" font-size="6.2" textLength="5.90" lengthAdjust="spacingAndGlyphs" fill="#111" stroke="#111" stroke-width="0.15">11</text>
<line x1="114.45" x2="121.65" y1="608.70" y2="608.70" stroke="#8c0d0d" stroke-width="2.2" stroke-linecap="round"/>
<line x1="128.35" x2="128.35" y1="570.10" y2="625.60" stroke="#c8c8c8" stroke-width="0.5"/>
<line x1="127.15" x2="129.55" y1="570.10" y2="570.10" stroke="#bbb" stroke-width="0.6"/>
<line x1="127.15" x2="129.55" y1="625.60" y2="625.60" stroke="#bbb" stroke-width="0.6"/>
<rect x="125.65" y="590.10" width="5.4" height="14.30" fill="none" stroke="#c2c2c2" stroke-width="0.5"/>
<line x1="125.65" x2="131.05" y1="597.25" y2="597.25" stroke="#c2c2c2" stroke-width="0.5"/>
<polygon points="128.0,570.1 127.9,574.7 127.7,579.4 127.4,584.0 127.0,588.6 126.7,593.2 126.6,597.9 126.8,602.5 127.1,607.1 127.5,611.7 127.8,616.4 128.0,621.0 128.1,625.6 128.6,625.6 128.7,621.0 128.9,616.4 129.2,611.7 129.6,607.1 129.9,602.5 130.1,597.9 130.0,593.2 129.7,588.6 129.3,584.0 129.0,579.4 128.8,574.7 128.7,570.1" fill="#48b03a" fill-opacity="0.202"/>
<path d="M128.6 586.3h0m.1 7.9h0m-.3 1h0m-1 3h0m1.9 9.8h0m-.3 -14.5h0m-.4 -10.2h0m-1 13.8h0m.4 -20.6h0m-.2 25.5h0m1 -1.7h0m-.4 -2.8h0m.8 -1.8h0m-.2 8.4h0m-2.1 -8.1h0m2 -3.6h0m-.5 -8.5h0m-.1 6.6h0m.4 13.6h0m-.3 -28.9h0m.2 45h0m.9 -9.8h0m.4 -25.8h0m-1.5 21.7h0m-.6 -9h0m-.4 -2.8h0m0 3.3h0m.7 6.6h0m-.5 -9.5h0m-1.1 .3h0m1.5 .1h0m-.2 6.5h0m2.2 -.4h0m-.8 -12.3h0m-2.6 1h0m.2 3.5h0m1.9 0h0m-1 -4h0m.6 26.9h0m.3 -39.9h0m.6 25.7h0m-.7 4.4h0m-1.2 -2.7h0m.8 -9.4h0m-.6 -2.1h0m2 4.9h0m-.5 -13h0m-.6 22h0m-.1 -5.4h0m-.4 -14.4h0m-.9 7.4h0m1.3 -2.7h0m.7 -11.8h0m-.5 12h0m.1 1.9h0m-.6 3.5h0m1 10.9h0m-.2 3.6h0m-.8 -16.3h0m2.2 -4.1h0m-1.8 -9h0m.1 34.4h0m.3 -12.8h0m-.5 -5.2h0m.6 3.2h0m.3 -14h0m-1.9 7.8h0m1.4 -6.9h0m.4 -.4h0m-.2 6.5h0m-.7 5.8h0m.2 24h0m1.4 -31.4h0m-1.4 10.2h0m-2.1 -9.2h0m2 14.3h0m.5 -23.2h0m-.1 24.7h0m.8 -5h0m-.5 -1.6h0m-.5 -6.4h0m-.4 -11h0m2 12.7h0m-1.8 21.4h0m-.5 -33.9h0m.4 17.5h0m.2 1.9h0m1.1 -1.8h0m-1.7 -20.2h0m.6 4.2h0m-.6 18.5h0m1 -31.6h0m.3 16.3h0m-1.1 13.8h0m.3 -19.4h0m1 24.5h0m-1.2 -29.8h0m-.1 10.5h0m.8 5.8h0m-.2 -7.4h0m-.8 -7.8h0m1.1 10.4h0m-.2 2.5h0m-1.1 1.4h0m1.1 12.6h0m-.6 9.9h0m-.6 -16.2h0m-.2 13.9h0m2 -16.8h0m-2 1.6h0m.4 .2h0m1.1 1.4h0m-.6 -22.9h0m-.3 8.5h0m-1.5 20.7h0m1.7 -21h0m.6 -12.3h0m-.2 18.2h0m-.9 -3.3h0m1 -6.7h0m.7 2.9h0m-1.2 24.6h0m.3 7.2h0m-.6 -27.6h0m1.4 17.3h0m.1 -12.7h0m-.7 -17.4h0m.1 15.9h0m-.8 -2.5h0m.6 13.1h0m-.3 7.9h0m-.3 -7.1h0m-.4 -32.1h0m0 21.7h0m0 3.3h0m.9 -17.2h0m-.3 21.6h0m-.2 -.6h0m.4 -5.4h0m0 7.8h0m1.2 -7.7h0m-.8 -9.7h0m-.2 3.8h0m-.5 18.4h0m0 -13.5h0m.8 -10.8h0m-.1 32.6h0m-1.7 -13.5h0m2 -21.1h0m-.1 10.2h0m-.9 3h0m.9 17.2h0m.1 -3.3h0m.2 -14.1h0m-.8 -4h0m-.4 -3.7h0m-.2 -2.4h0m.9 .5h0m-.8 20.8h0m-.4 -13.5h0m1.4 -8.8h0m.1 20h0m-.9 10.2h0m1.5 -16.5h0m-.1 -10.9h0m-1.1 30.8h0m-.3 -33.7h0m.7 19.5h0m-1.4 15h0m.9 -21h0m-.2 -1.9h0m-.4 12h0m.4 5.1h0m.8 -14.6h0m-.9 6.9h0m.1 14.1h0m-.1 2.6h0m-1.1 -30h0m2.3 -5.8h0m-.9 2.9h0m.4 23.4h0m-1.7 -11.7h0m1.6 14.5h0m.4 -14.9h0m-.5 -24.9h0m-1.3 19.6h0m1.2 25.1h0m.4 -16.5h0m-.4 2.4h0m-1.8 -11.7h0m1.5 4.8h0m2.6 2.9h0m-2 -15.1h0" stroke="#48b03a" stroke-opacity="0.294" stroke-width="0.75" stroke-linecap="round"/>
<text x="128.35" y="568.90" text-anchor="middle" font-family="Liberation Sans" font-size="6.2" textLength="5.90" lengthAdjust="spacingAndGlyphs" fill="#111" stroke="#111" stroke-width="0.15">13</text>
<line x1="124.75" x2="131.95" y1="616.90" y2="616.90" stroke="#2f9e12" stroke-width="2.2" stroke-linecap="round"/>
<line x1="138.65" x2="138.65" y1="566.20" y2="639.90" stroke="#c8c8c8" stroke-width="0.5"/>
<line x1="137.45" x2="139.85" y1="566.20" y2="566.20" stroke="#bbb" stroke-width="0.6"/>
<line x1="137.45" x2="139.85" y1="639.90" y2="639.90" stroke="#bbb" stroke-width="0.6"/>
<rect x="135.95" y="598.70" width="5.4" height="22.10" fill="none" stroke="#c2c2c2" stroke-width="0.5"/>
<line x1="135.95" x2="141.35" y1="609.75" y2="609.75" stroke="#c2c2c2" stroke-width="0.5"/>
<polygon points="138.4,566.2 138.3,572.3 138.2,578.5 137.9,584.6 137.6,590.8 137.3,596.9 137.0,603.0 136.9,609.2 137.0,615.3 137.2,621.5 137.6,627.6 137.9,633.8 138.1,639.9 139.2,639.9 139.4,633.8 139.7,627.6 140.1,621.5 140.3,615.3 140.4,609.2 140.3,603.0 140.0,596.9 139.7,590.8 139.4,584.6 139.1,578.5 139.0,572.3 138.9,566.2" fill="#bcbc38" fill-opacity="0.165"/>
<path d="M139.4 616.8h0m-.7 -27.7h0m.7 8.3h0m-.1 29.1h0m.2 -9.9h0m-1.1 -37.3h0m-.2 15.1h0m.2 12.9h0m.3 .3h0m.5 -7.7h0m-.4 36.6h0m-.2 -17.6h0m.6 -28h0m.3 43.5h0m-.6 -20.8h0m-1.7 -7.3h0m2.4 -23.2h0m-.2 27.4h0m-.1 3.3h0m-1.8 4.8h0m1 -2.6h0m1.2 -7.8h0m-.4 15.3h0m.6 -26.9h0m-1.8 15.3h0m-.3 12.7h0m.6 -53.3h0m-.2 1.3h0m.2 10.6h0m.4 35.9h0m.3 -27.4h0m.5 21.6h0m-1.6 6.4h0m.8 -43.8h0m-1.2 17.9h0m-.1 18.8h0m-.3 -5.8h0m2.5 3.2h0m-.7 -17h0m1.1 14.9h0m-1.6 -22.2h0m.4 36.7h0m.4 -27.2h0m-1.2 -2.2h0m.4 -15.2h0m.1 33.3h0m.2 -29.3h0m.2 -8.7h0m-.1 64.9h0m-.4 -26.7h0m.1 24.5h0m-.2 -43.5h0m-.6 39.8h0m.7 -4.9h0m.6 6.9h0m.1 -39.5h0m-1.3 12.8h0m.9 23.3h0m1 -18.8h0m-1.1 -22.3h0m-.2 -14.7h0m1 23.6h0m-.8 -23.1h0m-2 38.9h0m2 12.8h0m0 -.3h0m-1.1 -36.3h0m1 -16.2h0m.5 47.6h0m-.9 -50.3h0m1.6 41.5h0m-1.1 .8h0m-.1 -12.3h0m-.4 -.4h0m-.2 18h0m1.2 -29.2h0m-1.9 10.5h0m1.2 -20.6h0m.6 6.4h0m-.5 26.9h0m.2 -44h0m-.5 69.8h0m.4 -40h0m.6 3.4h0m-.5 -10.1h0m.2 -1.8h0m-.8 45.9h0m.9 -24.9h0m.1 23.7h0m-.6 -45.7h0m.2 32.8h0m-.1 -37.9h0m-.9 32.4h0m2.3 -17.8h0m-2.6 2.3h0m2.4 22.9h0m-.5 -14.5h0m-1.1 -12.8h0m-.1 -1.1h0m-1.1 13.1h0m1.3 1.6h0m0 11h0m.2 -16.1h0m.5 -31.9h0m0 17.6h0m-1.1 -.1h0m1 28.9h0m-2 2.5h0m2 -45.2h0m-.6 32.8h0m.3 .3h0m-.5 12h0m.5 -30.2h0m-.4 30.8h0m.4 -14.7h0m.5 -28.2h0m-.1 22h0m-1.2 -6.8h0m-.8 1.7h0m1.1 15.7h0m.7 -29.9h0m-.5 5.7h0m.9 -3.9h0m.3 32.6h0m-1.6 -4.7h0m1.4 -6.7h0m-.7 -11.3h0m-.2 30.9h0m.3 13.4h0m-.4 -50.9h0m-.7 11.3h0m0 26.9h0m1.4 -13.8h0m-.4 -15.2h0m-.7 5.9h0m1.1 27.2h0m.7 .3h0m-1.2 -17.4h0m.3 8.3h0m.2 -45.9h0m-2.4 28.4h0m1.8 19h0m.1 -52.7h0m-.5 34.3h0m.1 -6.9h0m.9 16.2h0m.7 -7.9h0m-1 -13.2h0m.3 33.6h0m-1.9 -17.9h0m2.3 -10.4h0m.4 1.6h0m-.2 15.6h0m-.4 -47.9h0m0 61.1h0m-.9 -10.4h0m-.2 -32h0m.9 8.2h0m-1.2 12.3h0m.9 .7h0m-1.3 12.7h0m1.5 -24.3h0m-1.2 -9.9h0m1.2 14.9h0m-.4 -23h0m.1 28.3h0m.1 14.2h0m-.3 -23.8h0m.3 37.2h0m0 -61h0m-.1 61.1h0m-1.4 -26.6h0m1.5 8.3h0m1.3 -4.4h0m-1.7 10.1h0m.7 -6.4h0m-.2 -1.9h0m-1.3 -.6h0m1.6 -23.7h0m-.4 36.4h0m-.3 -34.5h0m0 17.9h0m-.7 -9.6h0m2.3 20.5h0m-2.5 -16.4h0m.9 -13.5h0m.3 35.5h0m-.1 -53.6h0m-.4 40.9h0m1.7 7h0m-1.2 17.6h0m.9 -22.3h0" stroke="#bcbc38" stroke-opacity="0.240" stroke-width="0.75" stroke-linecap="round"/>
<text x="138.65" y="564.40" text-anchor="middle" font-family="Liberation Sans" font-size="6.2" fill="#111" stroke="#111" stroke-width="0.15">7</text>
<line x1="135.05" x2="142.25" y1="627.30" y2="627.30" stroke="#a3a30c" stroke-width="2.2" stroke-linecap="round"/>
<line x1="159.20" x2="159.20" y1="601.00" y2="632.40" stroke="#c8c8c8" stroke-width="0.5"/>
<line x1="158.00" x2="160.40" y1="601.00" y2="601.00" stroke="#bbb" stroke-width="0.6"/>
<line x1="158.00" x2="160.40" y1="632.40" y2="632.40" stroke="#bbb" stroke-width="0.6"/>
<rect x="156.50" y="613.40" width="5.4" height="8.10" fill="none" stroke="#c2c2c2" stroke-width="0.5"/>
<line x1="156.50" x2="161.90" y1="617.45" y2="617.45" stroke="#c2c2c2" stroke-width="0.5"/>
<polygon points="158.9,601.0 158.8,603.6 158.7,606.2 158.4,608.9 158.0,611.5 157.7,614.1 157.5,616.7 157.5,619.3 157.8,621.9 158.2,624.5 158.5,627.2 158.8,629.8 158.9,632.4 159.5,632.4 159.6,629.8 159.9,627.2 160.2,624.5 160.6,621.9 160.9,619.3 160.9,616.7 160.7,614.1 160.4,611.5 160.0,608.9 159.7,606.2 159.6,603.6 159.5,601.0" fill="#4a5ad8" fill-opacity="0.220"/>
<path d="M159.3 621.0h0m-.7 -7.6h0m1.2 -8.9h0m-.8 9.8h0m.5 -7.8h0m-.7 16.2h0m.2 -8.3h0m-.2 6.3h0m.2 -9.1h0m-.6 7h0m1.4 1.9h0m.1 -13.8h0m-.8 22.7h0m-.7 -15h0m.1 12.6h0m.4 -7.6h0m-.5 2.1h0m.5 9.8h0m.6 -6h0m-.1 .9h0m-.6 -7.2h0m.5 5.6h0m-.9 -5.1h0m2.2 -7.8h0m-1 -8.4h0m-.4 6.9h0m.5 19h0m-.3 -4.5h0m.3 4.9h0m-.1 .1h0m-.8 -16.3h0m1.5 9.4h0m.5 -12.8h0m-.8 1.7h0m-1.2 -.2h0m.4 -3.8h0m-.1 5.4h0m-1.3 4.1h0m2.7 6.2h0m-2.9 -6.4h0m1.2 5h0m.2 -6.9h0m-.1 -5h0m.9 11.4h0m-.2 -13.1h0m-1 .5h0m.6 -.5h0m-1 6.8h0m-.2 5.4h0m2.3 2.4h0m-1.2 -10.4h0m.7 10.1h0m.3 -13.4h0m-.6 13.2h0m-1 -7.5h0m1.1 3.4h0m1.2 -4.1h0m-2.1 1.9h0m.9 -1.8h0m-1.3 3.4h0m1 -5.6h0m.4 12.9h0m-.8 -19.7h0m.5 16.3h0m-.2 3.7h0m-.6 -16.3h0m1.9 6.9h0m-1.4 6.9h0m-.2 -16.4h0m1.5 7.1h0m-.4 6.2h0m.3 -8h0m-1.4 -7.8h0m0 20.9h0m.5 -11.5h0m.5 5.6h0m0 8.4h0m-.1 -9.7h0m-1 -9.3h0m-.1 7.7h0m1.4 7.6h0m-.7 -.5h0m-.3 8.5h0m.2 -23.7h0m-.3 23h0m-1 -19.5h0m1.3 .8h0m-.3 .7h0m.4 4.6h0m-.8 -14.6h0m1 14.2h0m-.3 14.6h0m.5 -3h0m.1 -7.9h0m0 -9.2h0m-.6 16h0m-.4 -2.6h0m.9 3.3h0m-1.7 -11.5h0m0 6.5h0m.3 3.5h0m-1.1 -17h0m1.7 5.4h0m.2 -1.4h0m-.5 -8.1h0m-.4 6h0m-.5 9.8h0m2.3 -4.4h0" stroke="#4a5ad8" stroke-opacity="0.320" stroke-width="0.75" stroke-linecap="round"/>
<text x="159.20" y="599.60" text-anchor="middle" font-family="Liberation Sans" font-size="6.2" textLength="5.90" lengthAdjust="spacingAndGlyphs" fill="#111" stroke="#111" stroke-width="0.15">20</text>
<line x1="155.60" x2="162.80" y1="634.80" y2="634.80" stroke="#0b0ba6" stroke-width="2.2" stroke-linecap="round"/>
<line x1="169.50" x2="169.50" y1="605.50" y2="635.10" stroke="#c8c8c8" stroke-width="0.5"/>
<line x1="168.30" x2="170.70" y1="605.50" y2="605.50" stroke="#bbb" stroke-width="0.6"/>
<line x1="168.30" x2="170.70" y1="635.10" y2="635.10" stroke="#bbb" stroke-width="0.6"/>
<rect x="166.80" y="616.10" width="5.4" height="8.70" fill="none" stroke="#c2c2c2" stroke-width="0.5"/>
<line x1="166.80" x2="172.20" y1="620.45" y2="620.45" stroke="#c2c2c2" stroke-width="0.5"/>
<polygon points="169.1,605.5 169.0,608.0 168.8,610.4 168.5,612.9 168.2,615.4 167.9,617.8 167.8,620.3 167.8,622.8 168.1,625.2 168.5,627.7 168.8,630.2 169.0,632.6 169.1,635.1 169.9,635.1 170.0,632.6 170.2,630.2 170.5,627.7 170.9,625.2 171.2,622.8 171.2,620.3 171.1,617.8 170.8,615.4 170.5,612.9 170.2,610.4 170.0,608.0 169.9,605.5" fill="#c0404e" fill-opacity="0.202"/>
<path d="M171.4 622.5h0m-1.9 -7.5h0m.1 3.6h0m-1.2 .4h0m.9 9.8h0m-.3 -19.3h0m-.9 14.6h0m.7 -4.3h0m.9 -4.7h0m.8 5.6h0m-.7 -3.9h0m-1.1 -11h0m-.2 21.4h0m.4 -2h0m-.1 1.8h0m.4 3.8h0m.8 -11.7h0m-.4 -1.4h0m0 -8.7h0m.1 9.5h0m1.3 6h0m.6 -6.3h0m-2.4 6.5h0m-.1 -16.4h0m.7 18.5h0m.5 -13.7h0m-1.2 2.4h0m1.4 7.3h0m.6 -.6h0m-1.7 -5.7h0m-.3 8.1h0m.1 8.9h0m.9 -13.2h0m-1.3 -2.9h0m.7 9.9h0m.1 -8.3h0m.1 2.1h0m1.3 3.9h0m-.3 .6h0m0 -5.4h0m-.9 12.7h0m-1.7 -7.3h0m.7 -.4h0m.2 -15.5h0m-.3 11.7h0m1 -5.7h0m-.1 8.5h0m-.1 -13.2h0m-.1 3.5h0m.3 11.7h0m.1 -8.4h0m-.9 1.7h0m.5 -.9h0m1.9 7h0m-2 5.3h0m.3 -20.1h0m-.5 14.8h0m.1 -16.1h0m.1 7.2h0m-.3 7.8h0m.3 -7h0m1.1 1.1h0m.1 3.7h0m-1.3 3.6h0m.7 4.2h0m.3 -9.2h0m.6 -9.5h0m-1 17.7h0m-.4 -19.9h0m-1.2 13h0m.1 -1.8h0m1.6 -5.7h0m-.4 -7.6h0m.2 6.1h0m-.8 -.3h0m.2 -1.7h0m.5 11.1h0m.6 -5.6h0m-.7 17.5h0m-1.4 -11.8h0m1.9 3.3h0m-.9 -8.3h0m.7 -.4h0m.6 2h0m-.5 -3.1h0m-.9 -.1h0m.9 17.3h0m-.7 -24.4h0m.6 8.9h0m-.1 -2.8h0m-.2 1.6h0m0 10.7h0m.8 1.7h0m-1.1 -4.6h0m.5 -4.5h0m-.1 -4.9h0m.7 10.2h0m.4 1.8h0m-1.9 -7.2h0m1.3 6.3h0m-.3 -12.4h0m0 -2.7h0m.2 14.4h0m-.1 7.6h0m.1 -8.6h0m-.7 -15.4h0m.9 -.8h0m-.7 25.8h0m-1 -11.5h0m2.1 5.1h0m0 -2h0" stroke="#c0404e" stroke-opacity="0.294" stroke-width="0.75" stroke-linecap="round"/>
<text x="169.50" y="603.90" text-anchor="middle" font-family="Liberation Sans" font-size="6.2" textLength="5.90" lengthAdjust="spacingAndGlyphs" fill="#111" stroke="#111" stroke-width="0.15">22</text>
<line x1="165.90" x2="173.10" y1="641.60" y2="641.60" stroke="#8c0d0d" stroke-width="2.2" stroke-linecap="round"/>
<line x1="179.80" x2="179.80" y1="614.80" y2="646.40" stroke="#c8c8c8" stroke-width="0.5"/>
<line x1="178.60" x2="181.00" y1="614.80" y2="614.80" stroke="#bbb" stroke-width="0.6"/>
<line x1="178.60" x2="181.00" y1="646.40" y2="646.40" stroke="#bbb" stroke-width="0.6"/>
<rect x="177.10" y="628.60" width="5.4" height="8.60" fill="none" stroke="#c2c2c2" stroke-width="0.5"/>
<line x1="177.10" x2="182.50" y1="632.90" y2="632.90" stroke="#c2c2c2" stroke-width="0.5"/>
<polygon points="179.5,614.8 179.5,617.4 179.4,620.1 179.1,622.7 178.8,625.3 178.4,628.0 178.1,630.6 178.1,633.2 178.2,635.9 178.5,638.5 178.9,641.1 179.2,643.8 179.4,646.4 180.2,646.4 180.4,643.8 180.7,641.1 181.1,638.5 181.4,635.9 181.5,633.2 181.5,630.6 181.2,628.0 180.8,625.3 180.5,622.7 180.2,620.1 180.1,617.4 180.1,614.8" fill="#48b03a" fill-opacity="0.202"/>
<path d="M179.7 618.8h0m0 19.4h0m.5 -2.7h0m-.3 8h0m-.5 -12.3h0m-.7 1.2h0m1.1 .6h0m-.3 -11.2h0m1.1 8.4h0m-.9 3.8h0m.6 -2.6h0m.8 .1h0m-1.4 -6h0m-1.2 5.3h0m-.3 -.4h0m1.1 -6.9h0m-.4 -2.4h0m1.6 12.4h0m-.3 -5.1h0m-.6 -3.1h0m.2 -5h0m.5 11.3h0m1.6 -.5h0m-2.1 -13.4h0m-.2 27.2h0m.1 -13.8h0m.6 1h0m-.5 2.9h0m-.3 -7.4h0m-.3 10h0m.6 3.1h0m-.1 -13.8h0m.2 6h0m.1 -13.9h0m.2 7.1h0m-.8 -3.5h0m-.1 -4h0m.6 15.2h0m-.4 -8.9h0m.2 14.5h0m-.9 -17.5h0m.3 7h0m1.3 .7h0m-.4 -7.4h0m-.2 1.8h0m-.7 1.2h0m1.5 16.7h0m-1.3 -7.1h0m-.7 -3.6h0m1.5 9.4h0m-.9 3.9h0m.4 -5.9h0m.5 -11.8h0m-.8 3.7h0m1 -1.6h0m0 -1.9h0m-.3 4.3h0m1.8 6.5h0m-1.6 -16.3h0m.6 14.3h0m-1 -15.2h0m-1 4.7h0m.3 18.5h0m.2 -2.2h0m.2 -20.9h0m-.3 12.1h0m.5 -1.7h0m.1 7.1h0m.3 -13.9h0m-1.4 10.5h0m1.6 -7.2h0m-.5 -3.9h0m-.7 4.7h0m.4 5.6h0m-.2 -17.8h0m1.2 11.7h0m-.7 13.5h0m-.7 -7.3h0m.2 -17.2h0m.1 27.4h0m1.5 -12.1h0m-1.4 -7.5h0m-.5 2h0m2.7 5.5h0m-2.3 -6.4h0m-.4 9.2h0m1 4.9h0m-.1 -18.7h0m-1 19h0m1 -3.1h0m-.5 .9h0m.1 -14.6h0m.9 8.6h0m.7 2h0m-1.1 4.3h0m-.7 -17h0m.9 16.1h0m-1 5.3h0m1.7 -9h0m-1.5 -1.6h0m1.3 2.1h0m-.9 -16.9h0m-.6 2.7h0m.3 26h0m.7 -21.8h0m.1 4.5h0m-.7 7.1h0m-.1 -4.1h0m.2 11.7h0m.2 -14.6h0m-1.2 -1h0m.9 .6h0m-.6 1.8h0m1.1 1.6h0" stroke="#48b03a" stroke-opacity="0.294" stroke-width="0.75" stroke-linecap="round"/>
<text x="179.80" y="613.10" text-anchor="middle" font-family="Liberation Sans" font-size="6.2" textLength="5.90" lengthAdjust="spacingAndGlyphs" fill="#111" stroke="#111" stroke-width="0.15">28</text>
<line x1="176.20" x2="183.40" y1="645.10" y2="645.10" stroke="#2f9e12" stroke-width="2.2" stroke-linecap="round"/>
<line x1="190.10" x2="190.10" y1="598.30" y2="632.90" stroke="#c8c8c8" stroke-width="0.5"/>
<line x1="188.90" x2="191.30" y1="598.30" y2="598.30" stroke="#bbb" stroke-width="0.6"/>
<line x1="188.90" x2="191.30" y1="632.90" y2="632.90" stroke="#bbb" stroke-width="0.6"/>
<rect x="187.40" y="611.30" width="5.4" height="9.20" fill="none" stroke="#c2c2c2" stroke-width="0.5"/>
<line x1="187.40" x2="192.80" y1="615.90" y2="615.90" stroke="#c2c2c2" stroke-width="0.5"/>
<polygon points="189.8,598.3 189.7,601.2 189.5,604.1 189.2,606.9 188.8,609.8 188.5,612.7 188.4,615.6 188.5,618.5 188.8,621.4 189.1,624.2 189.5,627.1 189.7,630.0 189.8,632.9 190.4,632.9 190.5,630.0 190.7,627.1 191.1,624.2 191.4,621.4 191.7,618.5 191.8,615.6 191.7,612.7 191.4,609.8 191.0,606.9 190.7,604.1 190.5,601.2 190.4,598.3" fill="#bcbc38" fill-opacity="0.165"/>
<path d="M190.7 620.7h0m-.8 -16.1h0m.3 6.8h0m.9 .9h0m-.6 11.1h0m-.3 8.6h0m.4 -22.7h0m-1.6 16.4h0m.7 -19.9h0m-.9 5.5h0m1.1 21.4h0m1.3 -13.8h0m-1.1 -6h0m-1.1 7.9h0m1.5 6.5h0m-.5 -13.7h0m-1 3.9h0m1.6 6.4h0m0 -8.8h0m-.9 -12.4h0m-.5 9.6h0m1.1 -2.7h0m-.5 6.2h0m.8 2.4h0m0 -.4h0m-.5 6.2h0m-.7 -1.5h0m.8 -5.7h0m-.3 2.5h0m.3 0h0m-.3 -17.1h0m.6 19.7h0m-1.1 -2.7h0m.6 5.8h0m-.1 -9.9h0m-1.4 0h0m1.3 -5.5h0m.7 4.4h0m-.1 -14.9h0m-.9 5.1h0m.6 15.9h0m0 -15.3h0m0 10.8h0m-.1 11.6h0m.5 2.8h0m-.1 -17.2h0m-.2 4h0m-.3 3.5h0m-.2 -16h0m.4 -3.5h0m.2 21.1h0m-.3 -7.1h0m-.1 -7h0m.2 7.6h0m.5 14.4h0m-1.3 -14.8h0m1.3 5.3h0m-.7 -13h0m.1 1h0m1.3 7.9h0m-.9 6.9h0m-1.1 -8.8h0m1.2 9.8h0m-.3 -5.4h0m-.1 -5.3h0m.3 -7.3h0m-.1 10.1h0m-.4 16.1h0m.9 -24.8h0m-1.1 9.5h0m1.1 -16.2h0m-.6 15.9h0m.4 11.2h0m-.2 -11.7h0m-.3 1.8h0m-.4 -1.2h0m1 -2h0m.2 -5.4h0m-.7 9.8h0m-.7 -.2h0m1 -19.9h0m-1.1 10.9h0m1.1 3.5h0m-1.3 3.2h0m.4 -2.1h0m.8 6.2h0m.1 6.2h0m-.5 -10.6h0m-1.1 -2.4h0m1.5 3.6h0m-.7 8.7h0m.8 -4.5h0m0 -5.1h0m-.1 5.9h0m-.1 -21.2h0m-.5 2h0m.2 19.5h0m1.6 -8.3h0m-1.5 8.8h0m-.8 -13h0m1 1.8h0m-1.2 15.5h0m.8 .5h0m.5 -5.7h0m1.3 -11.3h0m-1.8 8.4h0m.8 -6.1h0m-1.7 -2.2h0m.5 11.3h0m.5 7.6h0m.2 -22.3h0m.1 12.4h0m-1.3 -7.4h0m1.4 -1h0m.4 4h0m.8 2.6h0m-2 -15.5h0m-.1 1.6h0m.9 21.6h0m0 -1.6h0m.3 7.2h0m-1.4 -17.8h0m2.3 1.6h0m-2.3 4.6h0m.9 -4h0" stroke="#bcbc38" stroke-opacity="0.240" stroke-width="0.75" stroke-linecap="round"/>
<text x="190.10" y="596.90" text-anchor="middle" font-family="Liberation Sans" font-size="6.2" textLength="5.90" lengthAdjust="spacingAndGlyphs" fill="#111" stroke="#111" stroke-width="0.15">16</text>
<line x1="186.50" x2="193.70" y1="640.80" y2="640.80" stroke="#a3a30c" stroke-width="2.2" stroke-linecap="round"/>
<line x1="210.65" x2="210.65" y1="570.60" y2="605.00" stroke="#c8c8c8" stroke-width="0.5"/>
<line x1="209.45" x2="211.85" y1="570.60" y2="570.60" stroke="#bbb" stroke-width="0.6"/>
<line x1="209.45" x2="211.85" y1="605.00" y2="605.00" stroke="#bbb" stroke-width="0.6"/>
<rect x="207.95" y="583.50" width="5.4" height="8.00" fill="none" stroke="#c2c2c2" stroke-width="0.5"/>
<line x1="207.95" x2="213.35" y1="587.50" y2="587.50" stroke="#c2c2c2" stroke-width="0.5"/>
<polygon points="210.4,570.6 210.3,573.5 210.1,576.3 209.8,579.2 209.4,582.1 209.0,584.9 208.9,587.8 209.1,590.7 209.5,593.5 209.9,596.4 210.2,599.3 210.3,602.1 210.4,605.0 210.9,605.0 211.0,602.1 211.1,599.3 211.4,596.4 211.8,593.5 212.2,590.7 212.4,587.8 212.3,584.9 211.9,582.1 211.5,579.2 211.2,576.3 211.0,573.5 210.9,570.6" fill="#4a5ad8" fill-opacity="0.220"/>
<path d="M210.9 601.7h0m-1.2 -7.4h0m.9 -17.4h0m-1 14.7h0m.3 -7h0m1.7 1.5h0m.5 8.1h0m-1 -.3h0m-2.3 -5.9h0m2.4 -.3h0m1.1 -.9h0m-3.3 .3h0m1.9 .3h0m.1 4.5h0m-.6 -8.1h0m-.3 -4.7h0m.2 4.5h0m1.1 7.7h0m-.5 1.2h0m-.5 -20.6h0m-.6 11.1h0m1.6 -2.1h0m-.6 -2.5h0m-1 14.5h0m.7 10.7h0m1.7 -21.5h0m-1.3 -2.2h0m0 9.4h0m-.6 13.1h0m.2 -21.8h0m-.4 23.5h0m.4 -9.8h0m-.4 -10.4h0m-1.3 5.4h0m1.2 -11.7h0m1.8 5h0m-.5 .3h0m-.5 1.4h0m-.6 -1.3h0m.5 15.4h0m.5 -4.4h0m0 -17.4h0m-1 11.1h0m.9 5.7h0m-1 4h0m.2 -8.2h0m1.5 -3.3h0m-3 .4h0m1.4 .2h0m-.3 2.3h0m1.7 -1.5h0m-1.1 16.4h0m1.3 -18h0m-1.1 10.4h0m0 7.5h0m.3 -5.3h0m-.6 -.5h0m-1 -8.1h0m1 6h0m.2 -12.1h0m1.7 6.9h0m-.7 -4.9h0m-.7 -1h0m.3 6.2h0m-.5 1.1h0m0 1h0m.5 -9.5h0m.3 3.7h0m-1.4 -.1h0m.7 5.9h0m-.4 -13.8h0m.2 13.6h0m-.2 2.6h0m-.1 -20.9h0m.9 11.5h0m-1.5 2.5h0m.7 -4.4h0m.4 8.7h0m1 -5.2h0m-.9 14.8h0m.1 -28.2h0m-.7 15h0m.9 -.5h0m-.4 -5.2h0m2.2 4.3h0m-1.6 6.6h0m-.9 3.2h0m.8 -6.3h0m-.8 7.4h0m1 -18.4h0m-.7 -2.6h0m-.7 8.1h0m1.2 -7h0m-1 20.6h0m.5 -16h0m-.2 4.4h0m-.5 5h0m-1.1 -5.5h0m1.7 5.7h0m.8 -.2h0m-.4 8.7h0m-.7 -7.1h0m.9 -12.6h0m-.8 14.2h0m-.5 1.7h0m.5 -14.9h0m.5 1.3h0m-.9 -.8h0m0 -8.7h0m.7 18.5h0m-.4 2.8h0m.3 -24.3h0m.3 17h0m-2 -2.3h0m2.2 2.6h0" stroke="#4a5ad8" stroke-opacity="0.320" stroke-width="0.75" stroke-linecap="round"/>
<text x="210.65" y="568.70" text-anchor="middle" font-family="Liberation Sans" font-size="6.2" textLength="5.90" lengthAdjust="spacingAndGlyphs" fill="#111" stroke="#111" stroke-width="0.15">21</text>
<line x1="207.05" x2="214.25" y1="580.40" y2="580.40" stroke="#0b0ba6" stroke-width="2.2" stroke-linecap="round"/>
<line x1="220.95" x2="220.95" y1="567.60" y2="603.50" stroke="#c8c8c8" stroke-width="0.5"/>
<line x1="219.75" x2="222.15" y1="567.60" y2="567.60" stroke="#bbb" stroke-width="0.6"/>
<line x1="219.75" x2="222.15" y1="603.50" y2="603.50" stroke="#bbb" stroke-width="0.6"/>
<rect x="218.25" y="581.70" width="5.4" height="4.90" fill="none" stroke="#c2c2c2" stroke-width="0.5"/>
<line x1="218.25" x2="223.65" y1="584.15" y2="584.15" stroke="#c2c2c2" stroke-width="0.5"/>
<polygon points="220.7,567.6 220.7,570.6 220.7,573.6 220.5,576.6 220.0,579.6 219.3,582.6 219.3,585.5 220.0,588.5 220.5,591.5 220.7,594.5 220.7,597.5 220.7,600.5 220.7,603.5 221.2,603.5 221.2,600.5 221.2,597.5 221.2,594.5 221.4,591.5 221.9,588.5 222.6,585.5 222.6,582.6 221.9,579.6 221.4,576.6 221.2,573.6 221.2,570.6 221.2,567.6" fill="#c0404e" fill-opacity="0.202"/>
<path d="M221.6 586.2h0m.5 2.1h0m-.7 5.4h0m-.7 -14.6h0m-.1 9.1h0m0 -6.1h0m.3 -.2h0m-.8 6.4h0m.5 -5.7h0m.3 -12.9h0m.2 14.1h0m-1.3 .8h0m1 -2.4h0m.4 1.9h0m.6 2.6h0m.2 -.4h0m-.9 4.6h0m1.3 -11h0m-1.4 3.8h0m.1 -1.4h0m0 6.1h0m1.2 -6.1h0m-1.7 6.9h0m.5 3.1h0m.2 2.4h0m-.6 -6.9h0m.5 -2.1h0m.3 -.2h0m-.9 1.6h0m-.1 2.3h0m.9 -2.8h0m0 -.3h0m0 -1.6h0m-1 -3.8h0m.2 -11.1h0m-1.1 16.2h0m.5 -.8h0m-.2 -1.5h0m1.7 1.2h0m-1.2 -.2h0m1.4 -2.4h0m-.7 -14.6h0m-.3 1.2h0m.5 13.5h0m-1 3.8h0m1 -7.5h0m.1 19.4h0m-.1 -7.2h0m-.5 -3.5h0m.7 -4.7h0m-.3 1.1h0m-.9 -1h0m.4 10.3h0m-.5 -7.7h0m-.8 -2.2h0m.3 -.3h0m1 -.8h0m-.4 -.2h0m.4 -10.6h0m-.2 7.3h0m-.8 6.8h0m1.1 -5.3h0m1.3 3.3h0m-2.1 1.1h0m.5 -9.7h0m.7 4.6h0m.1 -1.6h0m0 8.4h0m.1 3.2h0m-.4 .3h0m.3 -6.5h0m-.3 5.8h0m-.3 -3.6h0m.5 -4.1h0m.7 2.4h0m-.7 -.3h0m-.7 .4h0m-.2 -5.1h0m0 16.5h0m.5 -14.3h0m.9 4.2h0m-.4 -16.2h0m.6 11.1h0m-2.4 6.9h0m1.5 -5.8h0m-.7 8.4h0m1.2 -19.5h0m0 21.5h0m-.5 -4.2h0m.1 -.2h0m-.3 -2.1h0m-.3 -3.1h0m-.3 4h0" stroke="#c0404e" stroke-opacity="0.294" stroke-width="0.75" stroke-linecap="round"/>
<text x="220.95" y="565.40" text-anchor="middle" font-family="Liberation Sans" font-size="6.2" textLength="5.90" lengthAdjust="spacingAndGlyphs" fill="#111" stroke="#111" stroke-width="0.15">21</text>
<line x1="217.35" x2="224.55" y1="589.60" y2="589.60" stroke="#8c0d0d" stroke-width="2.2" stroke-linecap="round"/>
<line x1="231.25" x2="231.25" y1="579.00" y2="609.20" stroke="#c8c8c8" stroke-width="0.5"/>
<line x1="230.05" x2="232.45" y1="579.00" y2="579.00" stroke="#bbb" stroke-width="0.6"/>
<line x1="230.05" x2="232.45" y1="609.20" y2="609.20" stroke="#bbb" stroke-width="0.6"/>
<rect x="228.55" y="590.20" width="5.4" height="7.40" fill="none" stroke="#c2c2c2" stroke-width="0.5"/>
<line x1="228.55" x2="233.95" y1="593.90" y2="593.90" stroke="#c2c2c2" stroke-width="0.5"/>
<polygon points="231.0,579.0 230.9,581.5 230.7,584.0 230.4,586.5 230.0,589.1 229.6,591.6 229.5,594.1 229.7,596.6 230.0,599.1 230.4,601.7 230.7,604.2 230.9,606.7 231.0,609.2 231.5,609.2 231.6,606.7 231.8,604.2 232.1,601.7 232.5,599.1 232.8,596.6 233.0,594.1 232.9,591.6 232.5,589.1 232.1,586.5 231.8,584.0 231.6,581.5 231.5,579.0" fill="#48b03a" fill-opacity="0.202"/>
<path d="M231.3 605.3h0m-.2 -3.5h0m-.6 -8.5h0m1.6 -4.2h0m-.7 -1.3h0m.2 7.1h0m-.4 -11.8h0m.2 10.1h0m0 13.5h0m-.1 -5.9h0m0 3.4h0m-.2 -16.2h0m-.1 21h0m.1 -8.3h0m.6 -5h0m-.1 -4.5h0m-.7 -9.6h0m.7 7.9h0m.2 9h0m-.7 -5.5h0m.2 4.2h0m-1.2 .9h0m1.8 3.8h0m-1 -2.2h0m.4 -7.2h0m-.7 -2.4h0m.5 7.3h0m-.6 -1.7h0m1.5 -9.7h0m-.7 -6.6h0m.8 12.4h0m-1.2 11.8h0m.2 -8.3h0m-.5 -4.9h0m.9 -5.4h0m-.2 10.2h0m.8 -7.7h0m.6 5.8h0m-2.5 -4.5h0m1.2 3.4h0m-1.3 .9h0m.2 -.2h0m.5 2.6h0m1.4 1h0m-1.2 -8.9h0m.4 11.7h0m-.7 .6h0m.9 -.3h0m0 5h0m0 -9.7h0m-.9 -.3h0m1.1 -2.4h0m.5 2.6h0m-1 -2.6h0m.4 8.9h0m.3 -8.2h0m0 5.4h0m.3 -4.2h0m-.8 2.3h0m-1.5 -3.3h0m1.4 13.3h0m-.4 -12.1h0m1.3 4.4h0m-1 -10h0m.1 7.6h0m.8 2.6h0m-1.7 -6.5h0m-.1 -3.6h0m1.1 12.9h0m-.2 -10.3h0m0 7.1h0m-.3 -8.9h0m1 11.3h0m-1.1 1h0m-.6 -14.3h0m.9 -4.3h0m-.5 4.4h0m1.1 4.1h0m-1.6 -5h0m.8 -2.1h0m.8 -1.7h0m-1.6 16.7h0m1.3 -7.3h0m-.6 6.6h0m1.2 -12.9h0m-.3 5.2h0m-1.7 2h0m2 2.6h0m-.6 -2.4h0m-.9 -8.3h0m.8 5.2h0m-.4 -8.2h0m.3 17.2h0m.1 -12.1h0m.4 8.5h0m.4 -10.5h0m-2 2.6h0m.5 14.8h0m1.3 2.7h0m-.1 -16.1h0m-1.8 -1h0m1.8 12.5h0m0 -14.1h0" stroke="#48b03a" stroke-opacity="0.294" stroke-width="0.75" stroke-linecap="round"/>
<text x="231.25" y="577.30" text-anchor="middle" font-family="Liberation Sans" font-size="6.2" textLength="5.90" lengthAdjust="spacingAndGlyphs" fill="#111" stroke="#111" stroke-width="0.15">21</text>
<line x1="227.65" x2="234.85" y1="603.10" y2="603.10" stroke="#2f9e12" stroke-width="2.2" stroke-linecap="round"/>
<line x1="241.55" x2="241.55" y1="553.20" y2="600.00" stroke="#c8c8c8" stroke-width="0.5"/>
<line x1="240.35" x2="242.75" y1="553.20" y2="553.20" stroke="#bbb" stroke-width="0.6"/>
<line x1="240.35" x2="242.75" y1="600.00" y2="600.00" stroke="#bbb" stroke-width="0.6"/>
<rect x="238.85" y="569.40" width="5.4" height="12.90" fill="none" stroke="#c2c2c2" stroke-width="0.5"/>
<line x1="238.85" x2="244.25" y1="575.85" y2="575.85" stroke="#c2c2c2" stroke-width="0.5"/>
<polygon points="241.2,553.2 241.1,557.1 240.9,561.0 240.5,564.9 240.2,568.8 239.9,572.7 239.8,576.6 240.0,580.5 240.3,584.4 240.7,588.3 241.0,592.2 241.1,596.1 241.2,600.0 241.9,600.0 242.0,596.1 242.1,592.2 242.4,588.3 242.8,584.4 243.1,580.5 243.3,576.6 243.2,572.7 242.9,568.8 242.6,564.9 242.2,561.0 242.0,557.1 241.9,553.2" fill="#bcbc38" fill-opacity="0.165"/>
<path d="M240.6 563.2h0m.1 20.2h0m.6 -10.7h0m.3 18.3h0m-1.8 -16.3h0m3.4 5.4h0m-2.7 -7.8h0m1 3.7h0m.6 -5.5h0m-.9 18.7h0m-.3 -27.4h0m.6 4.2h0m-.2 19.1h0m.1 -15.4h0m-.7 22.2h0m.2 -26.6h0m.5 21.2h0m-.9 3.7h0m1 -27.4h0m.9 22.4h0m-.5 -9.7h0m-.5 -10h0m-.1 15.1h0m.9 -1.7h0m-1.4 -16h0m1.3 16.3h0m.1 -.4h0m-.1 14.3h0m-.3 -5.5h0m.8 -12h0m-.6 -6.9h0m-.9 11.4h0m.4 -15.9h0m-.6 10.3h0m.4 4.4h0m-.6 6.2h0m1.3 12.1h0m-.4 -23.2h0m.1 -20.6h0m-.4 37.5h0m-.2 -9h0m.2 -3h0m.6 -10.2h0m-.4 13.4h0m.8 -15.2h0m-.1 -1.1h0m-2.2 -2.3h0m3.1 18.6h0m-1.3 -14.7h0m.5 15.5h0m-.7 4.4h0m0 -17.7h0m-.8 6h0m.9 5.2h0m.5 7.7h0m-1.3 -13.9h0m.3 6.5h0m1.3 3.2h0m-2 -4.8h0m1.3 -10.6h0m-.4 5.3h0m-.2 7h0m-.2 -7.9h0m0 -10.2h0m1.3 15.1h0m.2 -4.4h0m-.8 13.6h0m.5 -17.8h0m-.6 19.4h0m1.1 -9h0m-1.1 15.2h0m-.2 -15.5h0m.6 -1.5h0m.6 8h0m-.3 -16.2h0m-1.7 7h0m.7 -3.6h0m.5 9.9h0m-.4 -9.2h0m.4 11.1h0m-.6 7.6h0m.2 -34.5h0m.4 3.8h0m-.2 34.2h0m-.9 -10.8h0m.7 -.9h0m1.4 -22.8h0m-1.5 17.5h0m.6 -5.5h0m-.2 19.3h0m-.2 -13.5h0m.6 3.9h0m-.4 -20.7h0m-.3 21.3h0m-1.1 -9.3h0m1.8 14.3h0m-1.4 -2.2h0m.4 -5.8h0m.4 -20.5h0m.6 17.2h0m-.2 14h0m.2 -6.5h0m-.2 -16.6h0m-.5 3.3h0m-1 -3.5h0m.9 -13.8h0m1.5 17.8h0m-2.6 .3h0m2 -5.3h0m-1.3 1.6h0m-1 14h0m2.2 -11h0m-.1 5h0m-.7 2.8h0m.5 -5.9h0m1 2.3h0m-.8 -2.1h0m.2 -9.2h0m-.5 21h0m-.4 6.7h0m.6 -27.5h0m.6 23.3h0m-.8 -3.2h0m.2 -7.2h0m-.9 17.3h0m1.2 -7.6h0m-.6 -20.3h0m-.3 -11.4h0m.6 31.8h0m-.2 -2.5h0m-1.3 -5.4h0m2 1.3h0m-.7 -12.3h0m-.1 7.1h0m-.5 -5.4h0m-.7 7.6h0m2.1 -1.7h0m-1 -5.5h0m-.2 -10.4h0m0 23.3h0m.4 -.7h0m.2 -20.5h0m-.8 18.2h0m-.1 .5h0m-.4 6.7h0m.6 -13.5h0m1.3 10h0m-.7 -.7h0m.8 -7.8h0m-.4 7.5h0m-.5 -23.4h0m-1.1 16.1h0m2.3 -4.1h0m-3.1 4.2h0m1.7 -15.3h0m.4 .2h0m-.4 22.5h0m.2 4.1h0m-.3 -18.7h0m1.2 3h0m-1.5 12.8h0m1.5 1h0m-1.1 -6.9h0m.4 3.1h0m-.3 -5.2h0m.3 8h0m-.3 -5.7h0m-.6 -4.9h0m1.4 -16h0m-.6 17.6h0m.2 16.6h0m-.8 -33.3h0" stroke="#bcbc38" stroke-opacity="0.240" stroke-width="0.75" stroke-linecap="round"/>
<text x="241.55" y="551.60" text-anchor="middle" font-family="Liberation Sans" font-size="6.2" textLength="5.90" lengthAdjust="spacingAndGlyphs" fill="#111" stroke="#111" stroke-width="0.15">15</text>
<line x1="237.95" x2="245.15" y1="605.00" y2="605.00" stroke="#a3a30c" stroke-width="2.2" stroke-linecap="round"/>
<line x1="262.10" x2="262.10" y1="564.10" y2="607.00" stroke="#c8c8c8" stroke-width="0.5"/>
<line x1="260.90" x2="263.30" y1="564.10" y2="564.10" stroke="#bbb" stroke-width="0.6"/>
<line x1="260.90" x2="263.30" y1="607.00" y2="607.00" stroke="#bbb" stroke-width="0.6"/>
<rect x="259.40" y="580.20" width="5.4" height="11.20" fill="none" stroke="#c2c2c2" stroke-width="0.5"/>
<line x1="259.40" x2="264.80" y1="585.80" y2="585.80" stroke="#c2c2c2" stroke-width="0.5"/>
<polygon points="261.8,564.1 261.7,567.7 261.5,571.2 261.2,574.8 260.8,578.4 260.5,582.0 260.4,585.5 260.5,589.1 260.8,592.7 261.2,596.3 261.5,599.9 261.7,603.4 261.8,607.0 262.4,607.0 262.5,603.4 262.7,599.9 263.0,596.3 263.4,592.7 263.7,589.1 263.8,585.5 263.7,582.0 263.4,578.4 263.0,574.8 262.7,571.2 262.5,567.7 262.4,564.1" fill="#4a5ad8" fill-opacity="0.220"/>
<path d="M263.2 584.9h0m-1.2 -13.4h0m0 8.3h0m.5 .8h0m-1.3 7.9h0m1.6 -2.2h0m-.5 -14.5h0m.2 11h0m-2.3 4.7h0m1.4 6.3h0m.5 8h0m0 -11h0m1.5 -3.6h0m-1.6 -4.7h0m.2 -8.9h0m1.2 10.4h0m-1.2 -7.8h0m.3 19.2h0m-.4 -1.8h0m-.5 2.1h0m-.9 -11.6h0m1.1 6.8h0m.8 -3.3h0m-.1 11.2h0m-2.4 -19.5h0m1.2 17.1h0m-.6 -10.4h0m1.5 -3.2h0m-.4 19.7h0m-.2 -27.2h0m-.2 11h0m1 -21.9h0m-.5 33.9h0m-.2 -26.6h0m1 18.2h0m-.8 5.1h0m-1 -4.4h0m.7 -6.3h0m.2 12.4h0m0 -6.3h0m-.5 5.3h0m1.1 -13.5h0m-.2 -11.4h0m-.6 36h0m.6 -28.9h0m-.3 5.7h0m.9 -12h0m.7 12.1h0m-1.6 15.9h0m1.3 -25.1h0m-.7 22h0m-.6 -10.4h0m1.1 1h0m0 -9.3h0m-.4 20.3h0m-1.2 -17.4h0m1.3 1.9h0m-.3 -2.4h0m-.5 25.8h0m.4 -28.1h0m.4 21.3h0m-1.5 -20.1h0m1.6 7h0m-1.1 -20.7h0m.3 36.2h0m.1 -22.7h0m-.3 1.1h0m2.1 6.9h0m-2.5 1.5h0m.4 -.6h0m-.1 -11.1h0m.6 19h0m-.6 -7.3h0m.6 11.9h0m.2 -35.7h0m1.5 20.4h0m-1.6 1h0m-.2 11.5h0m.2 -26.4h0m.3 24.7h0m1.5 -2.8h0m-2.5 -22.6h0m1 13.4h0m-.5 -2.1h0m-.6 15.4h0m-.1 -17.1h0m.2 3h0m1.8 3.2h0m-1 -9.5h0m.5 6.5h0m-1.6 13.8h0m1.5 -19.6h0m-.9 24.6h0m-1.5 -19.6h0m.5 1.1h0m1.6 -11h0m-.8 22.5h0m.1 -16.9h0m-.6 10.7h0m.3 2.7h0m2.2 -.6h0m-2.4 -4.5h0m.4 2h0m-.1 1.5h0m.8 -18.1h0m-.2 1.5h0m0 3.1h0m-1.1 22.4h0m2.1 -8.2h0m-1.1 -18.6h0m.2 15.3h0m-.4 -16.1h0m.2 20h0m.1 -4.8h0m-.4 -13.1h0m-.7 -2.7h0m.8 11.8h0m1.3 0h0m-1.2 -5.7h0m.2 -6h0m-.9 15h0m1.3 -9h0m-1.1 7.2h0m.2 -12.9h0m.6 23h0m-.7 -24h0m1.4 13h0m.1 2.6h0m-.5 6.8h0m-.9 -14.6h0m1 11.1h0m0 -3.3h0m-.8 -20h0m1.5 24h0m0 1.7h0m-1.6 8.7h0m.5 -20.6h0m.2 6.3h0m-.9 12.5h0m.4 -22.1h0m-.2 27.7h0m-.3 -28.7h0m1 24.3h0m.2 -2.5h0m-1.7 -4.5h0m.8 10h0m1.4 -21.2h0m-1.4 7.6h0m.6 -18.8h0m-1.2 34.1h0m3.2 -15.2h0" stroke="#4a5ad8" stroke-opacity="0.320" stroke-width="0.75" stroke-linecap="round"/>
<text x="262.10" y="562.60" text-anchor="middle" font-family="Liberation Sans" font-size="6.2" textLength="5.90" lengthAdjust="spacingAndGlyphs" fill="#111" stroke="#111" stroke-width="0.15">14</text>
<line x1="258.50" x2="265.70" y1="554.30" y2="554.30" stroke="#0b0ba6" stroke-width="2.2" stroke-linecap="round"/>
<line x1="272.40" x2="272.40" y1="574.00" y2="608.20" stroke="#c8c8c8" stroke-width="0.5"/>
<line x1="271.20" x2="273.60" y1="574.00" y2="574.00" stroke="#bbb" stroke-width="0.6"/>
<line x1="271.20" x2="273.60" y1="608.20" y2="608.20" stroke="#bbb" stroke-width="0.6"/>
<rect x="269.70" y="586.00" width="5.4" height="9.30" fill="none" stroke="#c2c2c2" stroke-width="0.5"/>
<line x1="269.70" x2="275.10" y1="590.65" y2="590.65" stroke="#c2c2c2" stroke-width="0.5"/>
<polygon points="272.1,574.0 271.9,576.9 271.7,579.7 271.4,582.5 271.0,585.4 270.7,588.2 270.7,591.1 270.8,594.0 271.1,596.8 271.5,599.7 271.8,602.5 272.0,605.4 272.1,608.2 272.7,608.2 272.8,605.4 273.0,602.5 273.3,599.7 273.7,596.8 274.0,594.0 274.1,591.1 274.1,588.2 273.8,585.4 273.4,582.5 273.1,579.7 272.9,576.9 272.7,574.0" fill="#c0404e" fill-opacity="0.202"/>
<path d="M272.0 594.9h0m.1 -11.1h0m.4 18h0m-.3 -2.8h0m.2 -13.7h0m.7 3.6h0m.2 4.7h0m-.8 -15.2h0m.3 20.1h0m0 -8.1h0m0 7.3h0m-.2 1h0m.5 -5h0m-.3 -13.8h0m-.7 26.7h0m-.1 -20.1h0m1.1 5.7h0m.2 3h0m-1 -20.1h0m.4 15.4h0m1.6 2.9h0m-1.2 -3.5h0m-1 1.1h0m1 8.6h0m-.9 -15.7h0m-.1 24h0m-.1 -19h0m.5 6.3h0m.9 -5h0m-1.7 -8.2h0m.7 21.4h0m.7 -5.6h0m-.4 7.7h0m-.8 -14.2h0m-.6 4.1h0m-.2 -1.6h0m-.3 -4.7h0m.6 3.2h0m-.4 -2.1h0m1.7 4h0m.1 -14.8h0m-.2 19.8h0m-1.2 -2.4h0m1.2 -7.4h0m.5 -2h0m-2.1 -.5h0m.6 -5h0m.3 17.2h0m.4 -21.6h0m-.5 16.7h0m.1 11.6h0m.2 -13.3h0m-.8 .6h0m1.8 -1.7h0m-.7 5.3h0m.1 -18.3h0m-.1 15.2h0m0 -2.6h0m-.5 -9.8h0m1.1 9.8h0m-.2 -1.7h0m-.2 -5.3h0m-.3 9.7h0m1.3 -6.8h0m-1.1 7.2h0m-.3 -17.9h0m-.1 18.7h0m-.5 2.2h0m.8 -.8h0m-.4 -3.1h0m.4 -13.1h0m-.9 7.2h0m.4 4.3h0m1 -2.7h0m-.8 8h0m.4 -21.9h0m.2 16.4h0m-.7 2.3h0m.4 -8h0m-.1 -.1h0m.3 13.9h0m-.9 -12.6h0m-.1 -2h0m.6 -3.1h0m.2 1.9h0m.5 -7.6h0m-.7 25.7h0m.5 -25.6h0m-.5 17.4h0m.8 -3.6h0m-1.8 -9.2h0m1.3 9.2h0m-.5 -2.1h0m1.7 7.1h0m-1.4 .2h0m.3 5.7h0m-.1 -23h0m.1 21.1h0m-.3 -17.1h0m-.4 2.4h0m.9 9.6h0m-1.1 -6.1h0m1.5 .8h0m-.8 -5.4h0m.5 4.9h0m-1.5 -.2h0m1.1 2.4h0m.2 -13.2h0m-.8 8.3h0m.6 6.1h0m-.9 5h0m2.4 -5.1h0m-.9 2.8h0m-.5 11.4h0m-.1 -5.4h0m-.2 -4.2h0m-.1 3.3h0m2.4 -12h0m-1.6 7.6h0m-.1 -9.5h0m-.9 .6h0m-.3 10.2h0" stroke="#c0404e" stroke-opacity="0.294" stroke-width="0.75" stroke-linecap="round"/>
<text x="272.40" y="572.50" text-anchor="middle" font-family="Liberation Sans" font-size="6.2" textLength="5.90" lengthAdjust="spacingAndGlyphs" fill="#111" stroke="#111" stroke-width="0.15">14</text>
<line x1="268.80" x2="276.00" y1="598.90" y2="598.90" stroke="#8c0d0d" stroke-width="2.2" stroke-linecap="round"/>
<line x1="282.70" x2="282.70" y1="568.30" y2="608.50" stroke="#c8c8c8" stroke-width="0.5"/>
<line x1="281.50" x2="283.90" y1="568.30" y2="568.30" stroke="#bbb" stroke-width="0.6"/>
<line x1="281.50" x2="283.90" y1="608.50" y2="608.50" stroke="#bbb" stroke-width="0.6"/>
<rect x="280.00" y="582.80" width="5.4" height="10.20" fill="none" stroke="#c2c2c2" stroke-width="0.5"/>
<line x1="280.00" x2="285.40" y1="587.90" y2="587.90" stroke="#c2c2c2" stroke-width="0.5"/>
<polygon points="282.4,568.3 282.3,571.6 282.1,575.0 281.8,578.3 281.4,581.7 281.1,585.0 281.0,588.4 281.1,591.8 281.5,595.1 281.9,598.5 282.2,601.8 282.3,605.1 282.4,608.5 283.0,608.5 283.1,605.1 283.2,601.8 283.5,598.5 283.9,595.1 284.3,591.8 284.4,588.4 284.3,585.0 284.0,581.7 283.6,578.3 283.3,575.0 283.1,571.6 283.0,568.3" fill="#48b03a" fill-opacity="0.202"/>
<path d="M282.2 585.4h0m.6 19.8h0m.5 -11.1h0m-.1 -14.9h0m-.3 -6.4h0m-1.4 22h0m-.7 -7.4h0m2 19.3h0m-.6 -27.9h0m1.5 12.7h0m-1.4 -12.3h0m.3 -7.2h0m0 18.6h0m.6 -10h0m-.3 25.7h0m.5 -11.2h0m-.3 -12.2h0m-.3 19h0m-.2 -.2h0m-.2 -20.4h0m-1.4 3.8h0m1.3 5.3h0m-.2 11.8h0m1.6 -.6h0m-.9 -21.1h0m.1 14.6h0m.2 -9.2h0m-1.1 .9h0m.6 12.8h0m-1.3 -13.7h0m.7 -2.9h0m2 3.8h0m-1.7 19.9h0m.6 -11.5h0m-.5 -2.2h0m-1 -13.8h0m.8 22.6h0m.5 -32.4h0m-.4 10.3h0m.2 16.4h0m.6 -15.7h0m-.3 -12.1h0m-.4 21.8h0m.2 14.2h0m.4 -7.4h0m-1.3 -11.8h0m1.5 3.7h0m-.6 13.3h0m.3 -29.3h0m-.5 30.3h0m-.6 -10.4h0m.7 7.8h0m-.7 -26.6h0m.2 10.4h0m.3 23.9h0m.7 -23.1h0m-.8 -4.5h0m.5 22.6h0m.3 -11.3h0m.8 -1.7h0m-1.9 2.7h0m1 -12.6h0m.5 11.3h0m0 -1.5h0m.1 .4h0m-.3 10.3h0m-.6 -25.2h0m0 14.1h0m-.7 -12.1h0m2.1 11h0m-1.1 -.4h0m-1.4 .9h0m2.4 -2.4h0m-1.6 -1.7h0m.5 -12.6h0m.2 11.3h0m0 8.8h0m-.2 -6.9h0m-.1 3.8h0m.2 2.1h0m-.5 -4.7h0m1.1 -13.4h0m-1.7 17.2h0m.3 -.3h0m.6 -5.1h0m.3 3.2h0m-.6 6.9h0m.4 2.3h0m-.7 -5.9h0m.9 -3.3h0m.7 -8.9h0m-.3 19.9h0m-.7 -22.8h0m.4 12.5h0m0 -6.8h0m.5 8.8h0m-.5 -18.4h0m-.3 26.7h0m-.5 -21.1h0m.1 23.5h0m-.3 -25.3h0m.5 3.8h0m.5 6.8h0m-.3 -8.3h0m.4 .9h0m-.3 2.2h0m-.3 9.3h0m.7 .2h0m-1.1 -8h0m.7 15.3h0m0 -20.2h0m-.2 2.8h0m.3 15.2h0m-.2 -19.2h0m1 20.1h0m.2 -2.4h0m-.8 12.7h0m.1 .4h0m-.5 -13.5h0m.6 -14.7h0m-.4 18.7h0m-.4 -10.1h0m-.5 4.9h0m0 -6.8h0m.1 6.6h0m-.6 -11.2h0m1.1 7.9h0m.4 -1.3h0m-.1 -.5h0m.3 3.1h0m-.9 -19.3h0m.5 20.3h0m-.1 -18h0m.6 23.2h0m.7 -11.5h0m-.8 -7.3h0m-.4 9.6h0m.3 17.6h0m-1.7 -16.1h0m1.3 6.1h0m-.7 -24.8h0" stroke="#48b03a" stroke-opacity="0.294" stroke-width="0.75" stroke-linecap="round"/>
<text x="282.70" y="566.90" text-anchor="middle" font-family="Liberation Sans" font-size="6.2" textLength="5.90" lengthAdjust="spacingAndGlyphs" fill="#111" stroke="#111" stroke-width="0.15">15</text>
<line x1="279.10" x2="286.30" y1="606.70" y2="606.70" stroke="#2f9e12" stroke-width="2.2" stroke-linecap="round"/>
<line x1="293.00" x2="293.00" y1="578.20" y2="645.10" stroke="#c8c8c8" stroke-width="0.5"/>
<line x1="291.80" x2="294.20" y1="578.20" y2="578.20" stroke="#bbb" stroke-width="0.6"/>
<line x1="291.80" x2="294.20" y1="645.10" y2="645.10" stroke="#bbb" stroke-width="0.6"/>
<rect x="290.30" y="602.00" width="5.4" height="17.40" fill="none" stroke="#c2c2c2" stroke-width="0.5"/>
<line x1="290.30" x2="295.70" y1="610.70" y2="610.70" stroke="#c2c2c2" stroke-width="0.5"/>
<polygon points="292.7,578.2 292.6,583.8 292.4,589.4 292.0,594.9 291.7,600.5 291.3,606.1 291.3,611.7 291.4,617.2 291.8,622.8 292.2,628.4 292.5,634.0 292.6,639.5 292.7,645.1 293.3,645.1 293.4,639.5 293.5,634.0 293.8,628.4 294.2,622.8 294.6,617.2 294.7,611.7 294.7,606.1 294.3,600.5 294.0,594.9 293.6,589.4 293.4,583.8 293.3,578.2" fill="#bcbc38" fill-opacity="0.165"/>
<path d="M293.5 609.1h0m-.5 -8.8h0m-.5 20.5h0m1.8 -7.3h0m-1.7 -27.3h0m.5 19.3h0m.5 19.7h0m-.9 -28h0m-.6 7.9h0m-.4 18.6h0m2.8 -7.7h0m-2 -24.3h0m-.2 -3.8h0m.3 20.5h0m-.2 14.3h0m.3 -24.6h0m0 11.2h0m1 -10.4h0m-.4 -6.8h0m-.9 33.1h0m2 -19.2h0m0 8.6h0m-.1 1.3h0m-.8 -1.1h0m.2 -12.9h0m-1.1 17.3h0m-.8 4.6h0m1.7 -4h0m-.8 -24.2h0m.7 30.6h0m.3 -45.8h0m-1.1 8.9h0m.5 32.3h0m-1 -15.7h0m3 -1.7h0m-1.4 -8.5h0m-1.1 44h0m-.1 -41.5h0m.5 19.3h0m-.7 2.8h0m.7 -18.7h0m.5 20.8h0m-.2 -20.4h0m-.3 11.3h0m.6 -4.6h0m-1.3 10.3h0m1 -22.3h0m-.6 13.2h0m.2 -14h0m-1 14.9h0m.9 -25h0m-.3 19.8h0m1.1 15.6h0m.1 -15.8h0m-1 11.7h0m-1.2 -11.9h0m3.1 18.5h0m-1.8 -7h0m-1 -1.4h0m.8 13.7h0m-.2 .3h0m.9 15.5h0m-.5 -37.5h0m.6 14.2h0m-.3 -13.2h0m-.8 -.1h0m.7 9.2h0m.8 -28.6h0m-.9 4.7h0m-.3 30.2h0m.8 -13.5h0m-1.3 -16.3h0m.6 19.2h0m.3 -25.8h0m.3 31.7h0m-.8 -35.2h0m1.3 .6h0m-.5 -.3h0m-.5 2.5h0m.5 19.3h0m-.8 3.1h0m0 10.1h0m.7 -16.2h0m-.3 12.3h0m-.6 -8.4h0m.6 17h0m1.1 -14.8h0m-1.9 .8h0m1.8 -6.6h0m-1.6 12.1h0m-.4 5.7h0m1.3 12.6h0m1.5 -22.8h0m-1.4 12.3h0m-1.3 -7.3h0m-.4 -4.8h0m1.8 22.5h0m.2 -44.4h0m.1 21.8h0m-.3 -4.2h0m.8 .3h0m-1.5 -20.4h0m1.4 25h0m-1.7 -17.8h0m0 26.6h0m.4 -8.5h0m.1 -8h0m.1 6.7h0m-.1 23.6h0m-2.6 -27.9h0m2.8 -9.7h0m-.2 -10.9h0m-.7 1.8h0m1 43.5h0m-.1 -38.8h0m-.5 24.3h0m.7 -26.6h0m-1.1 20.5h0m.2 -10.7h0m.3 22.3h0m-.3 -20.1h0m1.6 .2h0m-.9 41.5h0m-.2 -56.4h0m-1.8 14.9h0m2.2 11.1h0m-.3 -18.8h0m-.7 12h0m1.9 12.9h0m-1.5 -2.3h0m1.6 -23.8h0m-1.9 9.9h0m.3 -.5h0m.6 29.6h0m-.7 -45.3h0m.1 25.8h0m.2 -6h0m.8 15.4h0m-.5 10.2h0m.7 -17.3h0m-.8 -29h0m.7 21.9h0m-1.7 -12.7h0m.2 28.6h0m.6 -45.1h0m.2 58.7h0m-.9 -15.9h0m.4 -32.7h0m-.4 10.7h0m.4 -3.2h0m-.3 -7.2h0m.7 -8.4h0m.6 14.8h0m-.9 9.5h0m-.2 12h0m.8 -.7h0m-1.1 7.4h0m2.1 -26.9h0m-1 28.1h0m-.3 -2.1h0m1.3 -10h0m-1.4 -17.7h0m0 32.7h0m.2 -37h0m-.1 4.9h0m.2 16.6h0m-2.5 2h0m1.4 7.4h0m1.7 -1.4h0m-1.1 -13.6h0m1.2 26.7h0m-.5 -33.9h0m-1.2 11h0m.6 19.9h0m2.9 -15.9h0m-2.1 -24.1h0m-.2 10.1h0m-1.3 -10.2h0m.1 14.3h0m.5 -16.3h0m0 21.8h0m-.1 -11.7h0m.8 -16.9h0m.3 23.9h0m-1.1 -1.3h0m.9 32.7h0m-.4 -38.6h0m-.4 21.8h0m.6 4.3h0m-.7 -20.9h0m.5 -11.9h0m-1.3 11.4h0m2 3.1h0m-1.1 9.6h0m0 -2.3h0m-.2 -9.2h0m.4 19.4h0" stroke="#bcbc38" stroke-opacity="0.240" stroke-width="0.75" stroke-linecap="round"/>
<text x="293.00" y="576.70" text-anchor="middle" font-family="Liberation Sans" font-size="6.2" fill="#111" stroke="#111" stroke-width="0.15">8</text>
<line x1="289.40" x2="296.60" y1="614.00" y2="614.00" stroke="#a3a30c" stroke-width="2.2" stroke-linecap="round"/>
<line x1="313.55" x2="313.55" y1="557.90" y2="614.50" stroke="#c8c8c8" stroke-width="0.5"/>
<line x1="312.35" x2="314.75" y1="557.90" y2="557.90" stroke="#bbb" stroke-width="0.6"/>
<line x1="312.35" x2="314.75" y1="614.50" y2="614.50" stroke="#bbb" stroke-width="0.6"/>
<rect x="310.85" y="579.30" width="5.4" height="15.20" fill="none" stroke="#c2c2c2" stroke-width="0.5"/>
<line x1="310.85" x2="316.25" y1="586.90" y2="586.90" stroke="#c2c2c2" stroke-width="0.5"/>
<polygon points="313.2,557.9 313.2,562.6 313.0,567.3 312.7,572.0 312.3,576.8 312.0,581.5 311.8,586.2 311.9,590.9 312.2,595.6 312.6,600.4 312.9,605.1 313.1,609.8 313.2,614.5 313.9,614.5 314.0,609.8 314.2,605.1 314.5,600.4 314.9,595.6 315.2,590.9 315.3,586.2 315.1,581.5 314.8,576.8 314.4,572.0 314.1,567.3 313.9,562.6 313.9,557.9" fill="#4a5ad8" fill-opacity="0.220"/>
<path d="M314.1 611.2h0m-.4 -8.8h0m.4 -44.1h0m.9 34.5h0m-.6 -11.8h0m.1 17.4h0m-.3 -20.8h0m-1.2 18.3h0m2.5 -18.5h0m-.7 7.3h0m-1.6 12.8h0m.1 5.1h0m1.3 -9.7h0m-.4 6.8h0m1.4 -17.7h0m-1.4 17.5h0m-.6 -10.5h0m-.3 -19.7h0m.7 24.3h0m-1.1 -21.5h0m.8 1.6h0m.4 20.9h0m-1 .4h0m-.1 -18.8h0m.3 14.1h0m-.2 14.8h0m.6 -11.9h0m-.7 -19.9h0m0 23.8h0m.4 -33.8h0m-.6 34.6h0m1.1 -38h0m.3 20.6h0m.1 12.1h0m-.5 -10.2h0m-.7 9.4h0m-.7 -3.1h0m2.2 2.9h0m-.8 14.9h0m-.4 -29.8h0m1.2 5.6h0m-1.9 16.3h0m1.1 2.4h0m-.1 -23.6h0m-.6 -1.5h0m1.3 18.5h0m-1.8 -1.7h0m.9 -10.4h0m1.1 8.1h0m-.7 -2.6h0m-.6 5h0m-.4 -7.7h0m1.4 11.8h0m-.2 -9.9h0m-.8 -8h0m-.2 7.2h0m.2 16.2h0m2.1 -21.1h0m-1.8 -13.4h0m.3 -8.3h0m.1 12.9h0m-.5 12.2h0m-.1 -3.3h0m.6 16.8h0m-2.1 -2.2h0m1.1 -13.9h0m-.3 4.1h0m.3 -7.3h0m1.1 1.5h0m0 -18.7h0m-.6 -3.1h0m0 26.2h0m.2 -13.5h0m.3 17.7h0m.1 10.8h0m-.3 -19h0m-.6 -16.1h0m.2 23.9h0m.2 -1.9h0m-.1 -12.1h0m.7 24.1h0m-.7 -12.7h0m-.2 -17.8h0m0 31.2h0m1.1 -22.3h0m-1.2 .2h0m-.1 12.7h0m2.1 7.2h0m-1.3 -4.9h0m.2 -12.8h0m-.4 -20.3h0m-.7 6.3h0m-.6 17.6h0m1.1 23.9h0m-.6 -19.5h0m.3 -11.7h0m.7 14.1h0m-.7 11.7h0m1.1 -3.3h0m-.4 6.5h0m.3 -13.9h0m.6 -.6h0m-.6 -7.7h0m-1.9 2h0m1.6 4.3h0m-.7 7.8h0m.4 -27.9h0m-.1 29.1h0m.1 10.6h0m.9 -19.3h0m-.6 19.5h0m-.9 -29h0m1.1 -5.2h0m-1 5.7h0m-.4 1.5h0m1 -15.6h0m1 23.7h0m-1.4 4.9h0m.2 -20h0m-.3 7h0m-1.4 -2.8h0m2.1 -15.5h0m-.5 14.7h0m-.7 -4.1h0m-.2 22.6h0m.8 -37.3h0m1 11.1h0m-.5 .4h0m-1.5 25.7h0m1.1 -.8h0m-.2 -25.3h0m-.2 20.5h0m.3 -26.6h0m.7 13.3h0m-1 21.1h0m-.4 -10.7h0m1.9 -1.1h0m-1.2 -3.6h0m1.7 2.2h0m-1.6 16.9h0m-.2 -28h0m1.1 4.1h0m-.9 9.8h0m1.2 3.9h0m-.7 -7.1h0m0 8.6h0m-.2 -10.7h0m0 9.2h0m-.5 -4.7h0m.2 16.5h0m-.2 -25.9h0m0 13.3h0m1.2 14.6h0m-1.5 -11.9h0m.2 8h0m1 -29.3h0m-.9 38.7h0m1 -40.8h0m-.3 -5h0m0 28.3h0m-.8 15.5h0m.7 -8.7h0m-1.9 -9.8h0m1.9 -7.1h0m-.4 26.9h0m.6 -21h0m-.7 -10.6h0m0 -11.4h0m.6 .3h0m-.2 42h0m-.7 -32.1h0m.2 -2.4h0m-.6 4.3h0m1.1 11.3h0m-.2 -23.7h0m.7 20.9h0m.1 -10.6h0m-1.3 14.8h0m-.6 -10.3h0m.9 16.5h0m-.9 -14.7h0m.3 1.8h0m1.3 -7.1h0m-1.2 8.6h0m.8 -5.9h0m0 -16.8h0m.4 19.7h0m-1.9 3.6h0m1.6 -.9h0m-.3 6.6h0m.7 -1.4h0m.6 -6.3h0m-.2 8.6h0m-1 -15.3h0m-.6 -6.2h0m-1.4 13.2h0m1.3 -2.4h0m.7 -3.7h0m-1.2 5.3h0" stroke="#4a5ad8" stroke-opacity="0.320" stroke-width="0.75" stroke-linecap="round"/>
<text x="313.55" y="556.10" text-anchor="middle" font-family="Liberation Sans" font-size="6.2" fill="#111" stroke="#111" stroke-width="0.15">9</text>
<line x1="309.95" x2="317.15" y1="573.20" y2="573.20" stroke="#0b0ba6" stroke-width="2.2" stroke-linecap="round"/>
<line x1="323.85" x2="323.85" y1="569.30" y2="611.30" stroke="#c8c8c8" stroke-width="0.5"/>
<line x1="322.65" x2="325.05" y1="569.30" y2="569.30" stroke="#bbb" stroke-width="0.6"/>
<line x1="322.65" x2="325.05" y1="611.30" y2="611.30" stroke="#bbb" stroke-width="0.6"/>
<rect x="321.15" y="588.30" width="5.4" height="7.50" fill="none" stroke="#c2c2c2" stroke-width="0.5"/>
<line x1="321.15" x2="326.55" y1="592.05" y2="592.05" stroke="#c2c2c2" stroke-width="0.5"/>
<polygon points="323.6,569.3 323.6,572.8 323.6,576.3 323.5,579.8 323.2,583.3 322.6,586.8 322.2,590.3 322.2,593.8 322.6,597.3 323.2,600.8 323.5,604.3 323.6,607.8 323.6,611.3 324.1,611.3 324.1,607.8 324.2,604.3 324.5,600.8 325.1,597.3 325.5,593.8 325.5,590.3 325.1,586.8 324.5,583.3 324.2,579.8 324.1,576.3 324.1,572.8 324.1,569.3" fill="#c0404e" fill-opacity="0.202"/>
<path d="M324.0 595.7h0m.1 -3.1h0m.4 5.2h0m-.1 -10h0m.2 1.4h0m-.1 6.6h0m-.1 6.3h0m.2 -11.9h0m-.9 3.8h0m.2 -24.2h0m-.3 12.3h0m-.5 12.2h0m.5 -17.3h0m-.5 9.8h0m2.1 9.5h0m-1.2 .2h0m-.2 -12.4h0m.2 9.4h0m-1.1 -.9h0m2.1 -5.7h0m-2 2.9h0m1.3 .5h0m0 4.1h0m-.9 -11.1h0m.8 4.7h0m.1 -2.8h0m-.5 13h0m-.4 -13.5h0m.6 12.8h0m0 -22.9h0m0 29.8h0m.6 -9.9h0m.1 -6h0m.1 -3.1h0m-2.9 5.3h0m1.6 -2.7h0m.5 14.2h0m.6 -20.2h0m-1.5 14.6h0m.3 4.7h0m-.2 -4.6h0m1.3 -3.7h0m-1.1 -2.3h0m-2.6 5h0m3 -2.4h0m.4 17.6h0m-.6 -3.1h0m0 -21.4h0m-1.3 6.7h0m1.7 -23.5h0m.3 27.1h0m-.2 -7h0m.1 -2.2h0m-1.3 .3h0m1.9 2.4h0m-2.2 2.2h0m.7 8.1h0m-.2 -6.1h0m.7 -3.1h0m-1.4 6.1h0m1.5 -5.2h0m-.4 14.2h0m.6 -22.1h0m-.1 7.6h0m-.4 10.3h0m.7 -12.4h0m.3 -3.4h0m-.9 16.2h0m.6 6.4h0m-1 -7.1h0m-.3 -8.2h0m1.4 3.4h0m-.9 -.4h0m.7 -9.9h0m-.7 6h0m1.1 -8.8h0m-1 -.5h0m.4 5.5h0m-1.6 2.8h0m.9 -6.6h0m.8 .1h0m-.6 9h0m-.7 -3.8h0m.6 .9h0m2.2 .6h0m-1.6 -6.4h0m.1 -3.4h0m.9 17.1h0m.3 -4.1h0m-1.3 6.3h0m-.4 -18.8h0m.7 19.1h0m-1.3 -13.9h0m1.6 2h0m-2.5 4.5h0m1.2 -5.1h0m.2 -6.7h0m0 19.3h0m1.2 -8.6h0m-1.5 -2.6h0m.6 -5.8h0m0 5.9h0m0 -10.3h0m.5 10.4h0m-.6 -20.7h0m-.7 27.6h0m1.7 -4.8h0m-.3 -3h0m-.4 5.8h0m-.8 -8.8h0m-1.2 4.7h0m2 4.5h0m-1 -8.5h0m.6 -12.7h0m.2 2.9h0m0 14.3h0m.4 9.2h0m.3 -5.7h0m-1.1 8.3h0m.6 -20.7h0m.4 4.4h0m-.8 -3.9h0m.2 14.5h0" stroke="#c0404e" stroke-opacity="0.294" stroke-width="0.75" stroke-linecap="round"/>
<text x="323.85" y="567.60" text-anchor="middle" font-family="Liberation Sans" font-size="6.2" fill="#111" stroke="#111" stroke-width="0.15">9</text>
<line x1="320.25" x2="327.45" y1="586.00" y2="586.00" stroke="#8c0d0d" stroke-width="2.2" stroke-linecap="round"/>
<line x1="334.15" x2="334.15" y1="576.30" y2="621.30" stroke="#c8c8c8" stroke-width="0.5"/>
<line x1="332.95" x2="335.35" y1="576.30" y2="576.30" stroke="#bbb" stroke-width="0.6"/>
<line x1="332.95" x2="335.35" y1="621.30" y2="621.30" stroke="#bbb" stroke-width="0.6"/>
<rect x="331.45" y="594.20" width="5.4" height="11.20" fill="none" stroke="#c2c2c2" stroke-width="0.5"/>
<line x1="331.45" x2="336.85" y1="599.80" y2="599.80" stroke="#c2c2c2" stroke-width="0.5"/>
<polygon points="333.9,576.3 333.8,580.0 333.7,583.8 333.4,587.5 333.0,591.3 332.6,595.0 332.4,598.8 332.5,602.5 332.8,606.3 333.2,610.0 333.5,613.8 333.7,617.5 333.8,621.3 334.5,621.3 334.6,617.5 334.8,613.8 335.1,610.0 335.5,606.3 335.8,602.5 335.9,598.8 335.7,595.0 335.3,591.3 334.9,587.5 334.6,583.8 334.5,580.0 334.4,576.3" fill="#48b03a" fill-opacity="0.202"/>
<path d="M333.9 596.4h0m-.2 3.4h0m.6 -9h0m0 13.3h0m-.3 5.6h0m.4 -26.8h0m-.6 38.1h0m.6 -17.4h0m-.8 5.3h0m.3 -1.7h0m.6 2.8h0m-.4 -27.1h0m.6 13.1h0m-1.3 11.3h0m1.1 -.3h0m-.4 -14.2h0m.3 8.1h0m-.4 6.9h0m1.1 -5.7h0m.7 6h0m-1.6 .2h0m.3 4h0m-.8 -3.5h0m-1.1 -10.1h0m2.4 10.2h0m-2.2 -2h0m2.2 -9.9h0m-.9 14h0m-.7 -11.1h0m.5 -9.7h0m.5 -5.3h0m-.8 22.7h0m.6 12.8h0m.8 -16.8h0m-1 6.7h0m1.4 -7.7h0m-1 -15.9h0m-.8 11.2h0m.5 0h0m.1 13.9h0m-.4 -11h0m.2 -19.3h0m0 4.3h0m-1.1 3.4h0m.8 2h0m.2 -1.9h0m-.2 9.7h0m-.3 -4.4h0m1.5 6.9h0m-1.3 5.2h0m1.7 -4.1h0m-1.8 5.3h0m1.9 -11.3h0m-1.7 8.4h0m.6 4.3h0m-1.5 -2.1h0m.3 -9.5h0m.2 7.8h0m.1 -9.8h0m.9 13.1h0m-.4 .7h0m.5 4.1h0m-.8 -7.9h0m1.3 -18.2h0m-1.4 10.4h0m.5 12.4h0m.6 -19.8h0m-.7 -9.5h0m.9 27.9h0m-1 -.4h0m-.4 -10.1h0m1 2.7h0m-.8 -7.6h0m-.1 8.5h0m.8 -1.1h0m.1 2.6h0m.2 -10.5h0m-.5 9.2h0m-.1 -21.5h0m.4 7h0m-.3 -2.2h0m.4 20.6h0m-.2 -3.2h0m-.7 -5.9h0m1.7 13.9h0m-2.4 1.5h0m1.7 -19h0m.6 16.6h0m.5 -3h0m-1.6 -10.5h0m-.3 10.9h0m1.1 -11.8h0m-.9 19.9h0m.2 -25h0m-1.1 1.6h0m-.4 5.9h0m2 5.9h0m-.7 -4.5h0m-.9 -4.6h0m.8 13h0m.1 -18.5h0m1.9 9.9h0m-1.5 -13.7h0m0 18.6h0m.6 -9.3h0m-.8 -16.2h0m-.1 36.6h0m.3 -8.2h0m.5 -16.3h0m-.1 10.7h0m-.7 -19.1h0m-.5 14.4h0m.2 -10.5h0m-.2 22.7h0m.9 -12h0m-1.8 -6.1h0m1.2 -4.5h0m-2.1 17.7h0m2.1 -6.4h0m-.6 .4h0m-.1 12.3h0m.1 -5.7h0m.2 -4.9h0m1.7 -10.7h0m-.6 18.2h0m.4 -11.6h0m-1.1 10.6h0m1.1 .3h0m-1.9 -4.5h0m1.1 -15.5h0m.8 -9.4h0m-2.2 25.5h0m1.8 -17.1h0m-.2 21.5h0m-.6 -7.9h0m.7 -8.2h0m-.6 -10.1h0m1.1 20.7h0m-1.3 -8.1h0m.2 -16.8h0m.3 18.2h0m0 25.5h0m.2 -29.2h0m-.3 5.5h0m.4 15.7h0m-.5 -29.1h0m1.1 18.8h0m-.8 11.1h0m-.3 -32.7h0m-.2 21.2h0m.1 -10.1h0m-.6 -14.2h0m-.2 32.3h0m1 -17.9h0m-.4 3.8h0m.1 15.2h0m-.2 -17h0" stroke="#48b03a" stroke-opacity="0.294" stroke-width="0.75" stroke-linecap="round"/>
<text x="334.15" y="574.60" text-anchor="middle" font-family="Liberation Sans" font-size="6.2" fill="#111" stroke="#111" stroke-width="0.15">9</text>
<line x1="330.55" x2="337.75" y1="613.50" y2="613.50" stroke="#2f9e12" stroke-width="2.2" stroke-linecap="round"/>
<line x1="344.45" x2="344.45" y1="567.70" y2="617.10" stroke="#c8c8c8" stroke-width="0.5"/>
<line x1="343.25" x2="345.65" y1="567.70" y2="567.70" stroke="#bbb" stroke-width="0.6"/>
<line x1="343.25" x2="345.65" y1="617.10" y2="617.10" stroke="#bbb" stroke-width="0.6"/>
<rect x="341.75" y="587.00" width="5.4" height="14.50" fill="none" stroke="#c2c2c2" stroke-width="0.5"/>
<line x1="341.75" x2="347.15" y1="594.25" y2="594.25" stroke="#c2c2c2" stroke-width="0.5"/>
<polygon points="344.1,567.7 344.0,571.8 343.8,575.9 343.6,580.1 343.2,584.2 342.9,588.3 342.7,592.4 342.7,596.5 342.9,600.6 343.3,604.8 343.6,608.9 343.9,613.0 344.0,617.1 344.9,617.1 345.0,613.0 345.3,608.9 345.6,604.8 346.0,600.6 346.2,596.5 346.2,592.4 346.0,588.3 345.7,584.2 345.3,580.1 345.1,575.9 344.9,571.8 344.8,567.7" fill="#bcbc38" fill-opacity="0.165"/>
<path d="M344.0 587.3h0m.7 -8.8h0m-.8 -3.3h0m0 10.1h0m.5 19.1h0m1.3 -15.4h0m-.8 -.9h0m.4 7.9h0m-1.6 -5.3h0m.1 3.7h0m.8 1h0m.3 -18.9h0m-1.7 16.5h0m1.8 5.4h0m-1 16.7h0m1.8 -31.9h0m0 4.5h0m-1.4 12h0m0 -13.3h0m.1 19.8h0m-.4 8h0m-.1 -1.1h0m1.4 -26.1h0m-1 22.2h0m.9 -15.2h0m.8 .1h0m-1.7 -21.3h0m1.4 9.3h0m-1.1 23.7h0m.6 -7h0m-.4 -16.9h0m.2 12.3h0m-.9 -5.5h0m1 -11.3h0m0 15.8h0m.4 8.2h0m-.7 -29.7h0m1.1 24.5h0m-1.4 14.6h0m-.6 -30.9h0m.5 11.3h0m.2 .2h0m-.7 18.5h0m.5 7.2h0m.3 -18h0m0 8.6h0m0 -33.1h0m-.7 26.7h0m-.3 -2.1h0m0 -8.6h0m-.1 8.6h0m1.5 -1.3h0m-1.8 1.1h0m1.4 -14.6h0m-.2 12.9h0m-.9 -8.2h0m.9 -.3h0m-.3 -5.1h0m-.1 1.3h0m.1 8.6h0m-.4 -15.1h0m.9 15.4h0m.3 -7.2h0m-1.4 -14.7h0m.5 44.1h0m-.2 -41.5h0m1 5.7h0m-.8 11.4h0m1 6.1h0m-.8 -22.6h0m.2 34.4h0m-.9 -22.8h0m1.9 14.9h0m-.5 -12.1h0m-1.7 15.9h0m1.9 -26.3h0m-1.3 20.4h0m.2 -2.5h0m.6 -14h0m.2 11h0m-1.3 5.6h0m1.2 -28.4h0m.1 25.9h0m-.3 -17.5h0m-.1 14.4h0m-1.2 15.3h0m.9 2.2h0m-.8 -24.4h0m1.9 13.3h0m-1.2 -19.4h0m-.4 29.5h0m.8 -33.6h0m.5 7.8h0m-.7 -11.8h0m-.7 27.8h0m1.6 1.8h0m-.9 1.5h0m-.1 -25.9h0m-1.7 9.6h0m.9 -4.4h0m1.6 24.9h0m-.6 -30.7h0m0 14.5h0m.4 -8.6h0m-.1 20h0m.9 -15.7h0m0 2.4h0m-1.3 24.3h0m.2 -24.8h0m-.5 18.9h0m.6 -19.6h0m-1.7 2.1h0m1.3 -16.7h0m-.1 2.3h0m1 5.1h0m-.8 23.9h0m-1.4 -15.8h0m.4 8.1h0m.7 -2.6h0m.2 -16.9h0m.3 10.9h0m-.5 19.4h0m-.2 -.2h0m.5 -.5h0m-.1 -23.5h0m1.2 -1.6h0m-1.5 5.3h0m1.2 4.1h0m-1 4.3h0m.8 -27.2h0m.3 16.9h0m-.6 15.6h0m1.1 -17.4h0m-1.5 3.4h0m2.2 5.7h0m-1.8 6.9h0m-.4 -16.8h0m-.2 .1h0m-.1 -6.7h0m-.8 27.5h0m2 -30.8h0m-.6 16.7h0m0 19.4h0m-.7 -19.1h0m.3 8.8h0m.6 2h0m-1 10.8h0m0 -5.6h0m.5 -20.2h0m-.2 8.8h0m.5 8.2h0m-.1 -20h0m1.2 17.1h0m-.9 -18.9h0m-1.3 16.1h0m1 -4.6h0m.4 -11.7h0m.2 9.5h0m-.6 -13h0m-.7 17.9h0m.1 4h0m1.1 -6.8h0m-.5 1.7h0m1.5 2.7h0m-2 13.4h0m-1 -22.7h0m1.7 10.1h0m.9 -5.7h0m-1.3 -22.7h0m-.7 7.4h0m1.1 31.7h0m-.3 5.5h0m.3 -41.2h0m.8 26.3h0m.2 -6h0m-.4 -6.7h0m-1.1 17.8h0m-.1 -7.7h0m.3 -2.5h0m-.3 -3.7h0m1.2 13.7h0m-.9 -36.3h0m.6 18.5h0m-.5 21.6h0m-.7 -.5h0m.3 -16.9h0" stroke="#bcbc38" stroke-opacity="0.240" stroke-width="0.75" stroke-linecap="round"/>
<text x="344.45" y="566.10" text-anchor="middle" font-family="Liberation Sans" font-size="6.2" fill="#111" stroke="#111" stroke-width="0.15">5</text>
<line x1="340.85" x2="348.05" y1="611.70" y2="611.70" stroke="#a3a30c" stroke-width="2.2" stroke-linecap="round"/>
<line x1="365.00" x2="365.00" y1="564.10" y2="587.50" stroke="#c8c8c8" stroke-width="0.5"/>
<line x1="363.80" x2="366.20" y1="564.10" y2="564.10" stroke="#bbb" stroke-width="0.6"/>
<line x1="363.80" x2="366.20" y1="587.50" y2="587.50" stroke="#bbb" stroke-width="0.6"/>
<rect x="362.30" y="573.50" width="5.4" height="6.70" fill="none" stroke="#c2c2c2" stroke-width="0.5"/>
<line x1="362.30" x2="367.70" y1="576.85" y2="576.85" stroke="#c2c2c2" stroke-width="0.5"/>
<polygon points="364.7,564.1 364.6,566.1 364.4,568.0 364.2,570.0 363.8,571.9 363.5,573.9 363.3,575.8 363.3,577.8 363.5,579.7 363.8,581.6 364.2,583.6 364.4,585.5 364.6,587.5 365.4,587.5 365.6,585.5 365.8,583.6 366.2,581.6 366.5,579.7 366.7,577.8 366.7,575.8 366.5,573.9 366.2,571.9 365.8,570.0 365.6,568.0 365.4,566.1 365.3,564.1" fill="#4a5ad8" fill-opacity="0.220"/>
<path d="M364.0 576.0h0m1.1 5.7h0m-.5 -6.3h0m.7 3.3h0m-.1 3.3h0m-.5 -7.6h0m.6 8.5h0m.9 -5.9h0m-.2 4.2h0m-1.2 4.5h0m.4 -13.1h0m-.4 3.9h0m.7 -3.8h0m-.9 12.4h0m.6 -16.2h0m.9 13.2h0m-.7 -8h0m-2.4 1.9h0m2.9 -1.9h0m-.2 2h0m-.4 .3h0m-1 5.1h0m.9 -.8h0m-.9 -7.8h0m.7 3.5h0m.2 -4.5h0m-.2 5h0m.1 6.2h0m.7 -7.3h0m-.8 1.5h0m.6 -5.7h0m-2.5 6.3h0m2.1 4.8h0m.3 3.8h0m-.9 -3.4h0m.8 -17.2h0m-.5 16.8h0m1.3 -1h0m-.1 -3.7h0m-.8 5.1h0m.5 -2.8h0m-1.7 -5.3h0m-.1 -.6h0m.4 -5.2h0m.8 10.7h0m-.7 2.7h0m.1 -4.9h0m.4 4.2h0m1.6 -2.7h0m-1.4 3.6h0m-.8 -8.3h0m1.7 5.9h0m-1.4 -.1h0m.6 -6.3h0m-.7 3.6h0m-.2 -2.1h0m0 -1.3h0m1.6 .4h0m-.4 -3.1h0m-.2 .6h0m-.6 .4h0m.5 6.2h0m.3 -4.2h0m-1.7 -.4h0m.1 9.7h0m1.6 -8.2h0m-1.1 -1.3h0m.4 -1h0m.6 -3h0m-.8 12.5h0m.9 -2.3h0m-.5 6.2h0m.2 -16.4h0m-1.1 9.6h0m1.4 -9.8h0m.1 .4h0m.2 6.7h0m-1.6 3.7h0m1.5 -10.8h0m-1 16.1h0m-.7 -13.9h0m1.9 2.5h0m.3 3.5h0m-2 -7.5h0m.8 16.2h0m-.4 -9.5h0m-.9 -4.5h0m1.4 4.8h0" stroke="#4a5ad8" stroke-opacity="0.320" stroke-width="0.75" stroke-linecap="round"/>
<text x="365.00" y="562.60" text-anchor="middle" font-family="Liberation Sans" font-size="6.2" textLength="5.90" lengthAdjust="spacingAndGlyphs" fill="#111" stroke="#111" stroke-width="0.15">37</text>
<line x1="361.40" x2="368.60" y1="590.60" y2="590.60" stroke="#0b0ba6" stroke-width="2.2" stroke-linecap="round"/>
<line x1="375.30" x2="375.30" y1="564.10" y2="586.70" stroke="#c8c8c8" stroke-width="0.5"/>
<line x1="374.10" x2="376.50" y1="564.10" y2="564.10" stroke="#bbb" stroke-width="0.6"/>
<line x1="374.10" x2="376.50" y1="586.70" y2="586.70" stroke="#bbb" stroke-width="0.6"/>
<rect x="372.60" y="572.70" width="5.4" height="7.00" fill="none" stroke="#c2c2c2" stroke-width="0.5"/>
<line x1="372.60" x2="378.00" y1="576.20" y2="576.20" stroke="#c2c2c2" stroke-width="0.5"/>
<polygon points="375.0,564.1 374.8,566.0 374.6,567.9 374.4,569.8 374.0,571.6 373.7,573.5 373.6,575.4 373.6,577.3 373.8,579.2 374.1,581.1 374.4,582.9 374.7,584.8 374.9,586.7 375.7,586.7 375.9,584.8 376.2,582.9 376.5,581.1 376.8,579.2 377.0,577.3 377.0,575.4 376.9,573.5 376.6,571.6 376.2,569.8 376.0,567.9 375.8,566.0 375.6,564.1" fill="#c0404e" fill-opacity="0.202"/>
<path d="M375.9 579.3h0m-.8 -4.5h0m-.4 4.3h0m.7 -6.6h0m.4 10.5h0m-.1 .8h0m-.7 -13.7h0m1.3 8.3h0m-1.6 -6.3h0m-.4 2.1h0m1.7 4.8h0m-1.5 -11.5h0m.3 1h0m.7 4.2h0m-1.3 8.3h0m0 -3.5h0m1.1 3.7h0m.2 -12.4h0m0 4.3h0m-.7 2.4h0m1.3 4.9h0m-.3 -7.2h0m.1 3.4h0m-1.7 -4.6h0m0 2.7h0m2.2 2h0m-1.3 -12.5h0m1.3 9.3h0m-1.8 0h0m.7 -3.8h0m-.8 5.6h0m1.2 6h0m-.7 3.7h0m-.2 .4h0m.8 .7h0m-.4 -10.8h0m.1 3.3h0m0 -13h0m-.1 15.4h0m.7 -10.3h0m-.5 9.1h0m.6 -11.2h0m-1.7 2.1h0m.4 3.4h0m1.5 -1.4h0m-1.2 10.3h0m0 -2.4h0m1 -6.4h0m-1 7.1h0m-.3 -4.1h0m-.8 -5.8h0m.6 8.2h0m1 -2.1h0m-.6 4.8h0m.7 -4.6h0m-.1 4.7h0m-1.2 -9.8h0m.8 6.6h0m.2 -2.8h0m-.6 -.7h0m1.5 -.7h0m-1.7 -7.6h0m.8 1.1h0m.1 5.4h0m.5 2.2h0m-1.8 -4.9h0m-.2 2h0m1.4 10.6h0m.3 -7.1h0m.6 .8h0m.5 -3.3h0m-2.1 -4.2h0m.4 7.5h0m.5 4.8h0m.4 -4.2h0m-1.2 6.2h0m.9 -1.3h0m.1 -17.7h0m-.5 15.4h0m-1.6 -2.8h0m1.5 -11.4h0m.4 4.7h0m-.2 13.6h0" stroke="#c0404e" stroke-opacity="0.294" stroke-width="0.75" stroke-linecap="round"/>
<text x="375.30" y="562.60" text-anchor="middle" font-family="Liberation Sans" font-size="6.2" textLength="5.90" lengthAdjust="spacingAndGlyphs" fill="#111" stroke="#111" stroke-width="0.15">37</text>
<line x1="371.70" x2="378.90" y1="598.90" y2="598.90" stroke="#8c0d0d" stroke-width="2.2" stroke-linecap="round"/>
<line x1="385.60" x2="385.60" y1="568.50" y2="588.30" stroke="#c8c8c8" stroke-width="0.5"/>
<line x1="384.40" x2="386.80" y1="568.50" y2="568.50" stroke="#bbb" stroke-width="0.6"/>
<line x1="384.40" x2="386.80" y1="588.30" y2="588.30" stroke="#bbb" stroke-width="0.6"/>
<rect x="382.90" y="575.00" width="5.4" height="5.80" fill="none" stroke="#c2c2c2" stroke-width="0.5"/>
<line x1="382.90" x2="388.30" y1="577.90" y2="577.90" stroke="#c2c2c2" stroke-width="0.5"/>
<polygon points="385.2,568.5 385.1,570.1 384.8,571.8 384.5,573.5 384.1,575.1 383.9,576.8 383.9,578.4 384.0,580.0 384.3,581.7 384.7,583.3 385.0,585.0 385.2,586.6 385.3,588.3 385.9,588.3 386.0,586.6 386.2,585.0 386.5,583.3 386.9,581.7 387.2,580.0 387.3,578.4 387.3,576.8 387.1,575.1 386.7,573.5 386.4,571.8 386.1,570.1 386.0,568.5" fill="#48b03a" fill-opacity="0.202"/>
<path d="M385.3 572.9h0m.7 14.9h0m-.2 -3.5h0m-1.9 -8.4h0m.9 -2.9h0m1.4 4.4h0m-1.9 -1.9h0m2.4 .2h0m-2.1 -2.4h0m1.3 1.1h0m.4 10.3h0m-.5 -12.8h0m-.4 .7h0m.4 -3.1h0m-1.1 5.7h0m.1 .4h0m1.4 6.3h0m1.1 -5.5h0m-1.6 1.1h0m0 -.7h0m-.6 -7h0m.5 1.4h0m1.2 8.6h0m-1.4 -.8h0m1 1.7h0m-1.9 -6.4h0m1.8 8.4h0m0 -12.4h0m-.9 -.5h0m.9 4.3h0m-.7 11h0m.3 -5.2h0m-.3 -6.8h0m1 6.3h0m-1.1 8.6h0m-1.3 -14.2h0m1.3 10h0m.3 -12.2h0m.2 -2.1h0m-1 7.5h0m1.1 7.1h0m.5 -6.8h0m-1.9 -2.9h0m.4 -3h0m-.4 10.2h0m1.1 -3h0m.4 -4.3h0m-.8 5.1h0m.3 3.4h0m.6 -6.3h0m-.5 6.6h0m-.2 -6.2h0m-.3 5.1h0m.7 3.9h0m-1.9 -11.8h0m.7 2.9h0m-.1 -4.8h0m.5 15.7h0m0 -8.2h0m0 -5.7h0m.3 -3.1h0m.4 4.3h0m-1 11.1h0m.3 -3.4h0m.7 -1.9h0m-.5 -2h0m-.6 -8.5h0m2 6.8h0m-1.5 5.1h0m-1.1 -.9h0m1.7 -6h0m-.4 -4.5h0m-.5 3.5h0m.9 8h0m-.3 3.1h0" stroke="#48b03a" stroke-opacity="0.294" stroke-width="0.75" stroke-linecap="round"/>
<text x="385.60" y="566.50" text-anchor="middle" font-family="Liberation Sans" font-size="6.2" textLength="5.90" lengthAdjust="spacingAndGlyphs" fill="#111" stroke="#111" stroke-width="0.15">37</text>
<line x1="382.00" x2="389.20" y1="607.80" y2="607.80" stroke="#2f9e12" stroke-width="2.2" stroke-linecap="round"/>
<line x1="395.90" x2="395.90" y1="567.70" y2="587.50" stroke="#c8c8c8" stroke-width="0.5"/>
<line x1="394.70" x2="397.10" y1="567.70" y2="567.70" stroke="#bbb" stroke-width="0.6"/>
<line x1="394.70" x2="397.10" y1="587.50" y2="587.50" stroke="#bbb" stroke-width="0.6"/>
<rect x="393.20" y="575.00" width="5.4" height="5.50" fill="none" stroke="#c2c2c2" stroke-width="0.5"/>
<line x1="393.20" x2="398.60" y1="577.75" y2="577.75" stroke="#c2c2c2" stroke-width="0.5"/>
<polygon points="395.6,567.7 395.5,569.4 395.3,571.0 395.0,572.7 394.6,574.3 394.3,576.0 394.2,577.6 394.2,579.2 394.5,580.9 394.9,582.5 395.2,584.2 395.4,585.9 395.6,587.5 396.2,587.5 396.4,585.9 396.6,584.2 396.9,582.5 397.3,580.9 397.6,579.2 397.6,577.6 397.5,576.0 397.2,574.3 396.8,572.7 396.5,571.0 396.3,569.4 396.2,567.7" fill="#bcbc38" fill-opacity="0.165"/>
<path d="M395.3 572.0h0m.8 7.7h0m.8 1.2h0m-.7 -11.3h0m-1.3 6.9h0m.7 -.3h0m-.8 .1h0m.9 7.9h0m1.1 -6h0m-1 2.9h0m-1.8 -5h0m2.3 4.7h0m-.9 -1.5h0m.3 5.3h0m.1 -11.8h0m-.6 9.4h0m.4 -1h0m-.3 -6.3h0m.4 -.4h0m-.1 -3.3h0m-.5 5.2h0m.1 .3h0m.5 9.6h0m.5 -8.1h0m1.2 -2.8h0m-1.2 7.1h0m.5 -8.6h0m-.1 1.8h0m-.9 5.9h0m1.1 -8.1h0m-1.8 9.8h0m0 -4.9h0m1.4 -2.9h0m-1.2 4.2h0m.1 -2.2h0m0 -5.9h0m.3 5.2h0m1.1 -2.4h0m-1.4 -2.5h0m1.1 14.3h0m-.8 -8.5h0m.5 -3.4h0m-.8 7h0m.8 -10.1h0m.4 8.2h0m-.6 3.4h0m-.4 -7.1h0m.3 10.6h0m.2 -7.4h0m.5 4.3h0m-1.4 -4.5h0m.4 3.1h0m-1.4 -4.8h0m1.8 -2.2h0m-.3 .1h0m-.2 9.7h0m.6 -8h0m-.1 2h0m.4 .4h0m.6 4.5h0m-1.3 -10.7h0m.6 5.7h0m-.2 -6.2h0m.1 6h0m.3 -4.5h0m-1.4 2.9h0m-.2 -5.2h0m1.2 -1.4h0m-.7 1.2h0m.2 11.7h0m.1 -2.3h0m1.1 -1.8h0m-.6 -10.5h0" stroke="#bcbc38" stroke-opacity="0.240" stroke-width="0.75" stroke-linecap="round"/>
<text x="395.90" y="565.80" text-anchor="middle" font-family="Liberation Sans" font-size="6.2" textLength="5.90" lengthAdjust="spacingAndGlyphs" fill="#111" stroke="#111" stroke-width="0.15">34</text>
<line x1="392.30" x2="399.50" y1="614.00" y2="614.00" stroke="#a3a30c" stroke-width="2.2" stroke-linecap="round"/>
<line x1="416.45" x2="416.45" y1="523.00" y2="579.40" stroke="#c8c8c8" stroke-width="0.5"/>
<line x1="415.25" x2="417.65" y1="523.00" y2="523.00" stroke="#bbb" stroke-width="0.6"/>
<line x1="415.25" x2="417.65" y1="579.40" y2="579.40" stroke="#bbb" stroke-width="0.6"/>
<rect x="413.75" y="543.80" width="5.4" height="14.40" fill="none" stroke="#c2c2c2" stroke-width="0.5"/>
<line x1="413.75" x2="419.15" y1="551.00" y2="551.00" stroke="#c2c2c2" stroke-width="0.5"/>
<polygon points="416.2,523.0 416.1,527.7 415.9,532.4 415.6,537.1 415.2,541.8 414.8,546.5 414.7,551.2 414.9,555.9 415.2,560.6 415.6,565.3 415.9,570.0 416.1,574.7 416.2,579.4 416.7,579.4 416.8,574.7 417.0,570.0 417.3,565.3 417.7,560.6 418.0,555.9 418.2,551.2 418.1,546.5 417.7,541.8 417.3,537.1 417.0,532.4 416.8,527.7 416.7,523.0" fill="#4a5ad8" fill-opacity="0.220"/>
<path d="M417.2 562.0h0m-.4 -14.8h0m-.1 4.6h0m-1.9 1.3h0m1.3 -2.5h0m1.2 3.1h0m-2.4 -4.8h0m1.3 -13.7h0m.4 34.6h0m-.4 -35h0m-.3 21.3h0m-.7 -5.1h0m.6 -1.2h0m0 8.8h0m1.2 -5.1h0m-.6 -2.3h0m.9 -2.8h0m-1.6 -4.2h0m.9 10.4h0m-.5 -17.6h0m-.1 18.6h0m.7 -12.2h0m.5 13.5h0m-.7 -9.8h0m-.3 1.7h0m-.1 4.9h0m.9 -.6h0m.4 -8.2h0m-.7 2.7h0m0 4.7h0m-.3 16.8h0m-.3 -9.7h0m.2 8.2h0m.1 -32.2h0m-.7 17.4h0m1.5 -12.7h0m.5 8h0m-1.7 3.2h0m.2 -16.8h0m.2 4.5h0m1.3 14.9h0m-1.3 -.3h0m.6 3.4h0m-1.6 -20.8h0m.8 6.4h0m-.6 4.9h0m1.3 -6h0m-1.9 1.4h0m1.6 35.9h0m.9 -33.3h0m-1 20.8h0m-.6 -25.4h0m0 18h0m.7 -24.9h0m-.3 -8h0m1.3 15.3h0m0 -.2h0m-2.7 9.3h0m2.8 -7.7h0m-.8 3.1h0m0 -2.1h0m-1 10.8h0m2.1 -.7h0m-2.3 -16.9h0m1.6 -1.9h0m-1 1h0m.4 -8.4h0m.1 21.5h0m-.4 -15.1h0m.3 -4h0m.2 40.3h0m-.4 -3.8h0m-.3 -30.5h0m2.9 18.6h0m-2.6 -22.1h0m-.5 5.6h0m.5 6.2h0m-.3 -2.2h0m-.9 13.6h0m1.2 -24.9h0m-.5 38.3h0m1.3 -26.2h0m-1.2 -1.9h0m1.1 8.6h0m-1.5 -5.8h0m-.3 18.4h0m1.2 -21h0m-.7 2.3h0m.2 8.3h0m1.7 8h0m-.8 6.2h0m-.7 -13.3h0m.9 -12.2h0m-.5 30.8h0m.6 3.7h0m-.7 -16.7h0m.4 -19.4h0m-1.1 14.4h0m-.2 -.2h0m1.9 4h0m-1 19.9h0m-.6 -15.4h0m-.3 -10.4h0m1 1.5h0m-.7 -17.1h0m.8 15.5h0m-1.2 9h0m.6 6.6h0m0 -41.3h0m.2 52.7h0m-1.2 -18.5h0m.9 -8.6h0m-.1 18.3h0m-.2 -8.6h0m.2 -4.2h0m.4 -4.4h0m-.2 -19.9h0m.7 11.9h0m-1.1 13.3h0m-.9 -9.4h0m1.3 9.5h0m-.2 6.4h0m1.3 -25.8h0m-1.7 7.2h0m2.1 -9h0m-1.6 15h0m.4 -20.2h0m-.6 4.9h0m.1 -11.7h0m.3 30.3h0m-.2 3.2h0m-.2 -3.9h0m0 2.4h0m.2 -33h0m.4 43.5h0m-1.1 -8.9h0m1.2 -19h0m.1 -6.8h0m.3 2.7h0m.1 .8h0m-1.3 32.1h0m.8 10.9h0m1.1 -33.8h0m-.7 11.9h0m-.5 -10.7h0m-.2 -5.2h0m.4 16.7h0m-.3 -21.1h0m.2 30.4h0m.2 -33.9h0m.2 7.6h0m-.7 6.4h0m-1.5 -3.3h0m.3 6.3h0m.6 9.2h0m.9 -4h0m.3 -3.2h0m-.2 10.2h0m-2 -14.3h0m1.7 -3.7h0m-.8 -9.4h0m-.4 10.8h0m1.4 20.7h0m.6 -2.8h0m-.4 -32.7h0m-.2 24h0m-1.3 -1.5h0m1.7 -21.7h0m.8 6.8h0m-.3 2.9h0m-.5 .5h0m-.2 -10h0m-.7 -5.1h0m1 12.8h0m-2 18.8h0m1.9 -24.1h0m-.3 1.1h0m-.2 28.6h0m-1 -7.1h0m-.1 -1h0m.8 -24.2h0m1 8.5h0m-1.5 13.4h0m1.2 -8.1h0m-1 7.3h0m.3 -20.3h0m.5 25.6h0m.4 0h0m-.3 -5.4h0m-.6 16.1h0m.4 -10.4h0m0 -31.6h0m-.2 .7h0m.1 28.1h0m.9 5.7h0m-.5 -19.9h0m0 23.3h0m-1.1 -33.3h0m1.6 40.2h0" stroke="#4a5ad8" stroke-opacity="0.320" stroke-width="0.75" stroke-linecap="round"/>
<text x="416.45" y="521.50" text-anchor="middle" font-family="Liberation Sans" font-size="6.2" textLength="5.90" lengthAdjust="spacingAndGlyphs" fill="#111" stroke="#111" stroke-width="0.15">34</text>
<line x1="412.85" x2="420.05" y1="586.80" y2="586.80" stroke="#0b0ba6" stroke-width="2.2" stroke-linecap="round"/>
<line x1="426.75" x2="426.75" y1="507.60" y2="571.40" stroke="#c8c8c8" stroke-width="0.5"/>
<line x1="425.55" x2="427.95" y1="507.60" y2="507.60" stroke="#bbb" stroke-width="0.6"/>
<line x1="425.55" x2="427.95" y1="571.40" y2="571.40" stroke="#bbb" stroke-width="0.6"/>
<rect x="424.05" y="532.10" width="5.4" height="15.90" fill="none" stroke="#c2c2c2" stroke-width="0.5"/>
<line x1="424.05" x2="429.45" y1="540.05" y2="540.05" stroke="#c2c2c2" stroke-width="0.5"/>
<polygon points="426.5,507.6 426.4,512.9 426.2,518.2 425.9,523.5 425.5,528.9 425.2,534.2 425.0,539.5 425.1,544.8 425.5,550.1 425.9,555.5 426.2,560.8 426.4,566.1 426.5,571.4 427.0,571.4 427.1,566.1 427.3,560.8 427.6,555.5 428.0,550.1 428.4,544.8 428.5,539.5 428.3,534.2 428.0,528.9 427.6,523.5 427.3,518.2 427.1,512.9 427.0,507.6" fill="#c0404e" fill-opacity="0.202"/>
<path d="M425.9 545.1h0m.9 15.8h0m.1 -14.1h0m.4 -11.7h0m-1.8 -4.3h0m2.1 7.7h0m-2.3 4h0m2.4 6.3h0m-1.1 -7.1h0m-.3 7.3h0m.4 -2.2h0m0 23.3h0m.8 -43h0m-1.6 34.2h0m1.3 -39.7h0m0 -6.1h0m-.6 28.9h0m.3 -10.3h0m-1 .9h0m.8 25.2h0m.2 .2h0m.3 -37.7h0m-.8 28.7h0m.2 -8.3h0m-.2 -21h0m-.1 3.1h0m1 28.2h0m-.9 -31.5h0m.9 33.5h0m-1.2 -14.9h0m.3 15.9h0m-.2 -1.6h0m-.1 -11.5h0m.7 -22.5h0m.6 19.3h0m.2 14.8h0m.8 -18.1h0m-1.7 22.7h0m1.8 -19.4h0m-.3 -4.8h0m-2 -1.7h0m-.9 1.6h0m.4 6.5h0m3.5 -8.5h0m-1.5 22.3h0m-.5 -12.4h0m-.4 -12.9h0m1 2.8h0m-2.5 16.6h0m1.8 -36.3h0m-.4 28h0m-.2 -17.5h0m.3 25.5h0m1.1 -24h0m-2.6 22.4h0m1.3 -24.4h0m.2 14.4h0m.7 -2.7h0m0 5.2h0m.6 14.1h0m-.7 -25.9h0m-.5 6h0m-1.3 14.5h0m1.3 4.6h0m0 -6.1h0m-.3 -22.6h0m.4 5.2h0m0 19.1h0m.2 -10.9h0m-.7 -22.5h0m-.2 52.6h0m.9 -48h0m-1.1 11.8h0m1.1 3.4h0m-1.2 -4.8h0m.9 10.9h0m.1 -24.5h0m-.1 47.7h0m-.3 -51.2h0m.6 14.9h0m-1.4 12.9h0m.3 3.5h0m-.3 13.3h0m-.8 -15.3h0m1.1 28.1h0m1.3 -35.4h0m-.4 9.6h0m-.7 -7.4h0m.5 21.6h0m.3 -39.1h0m-.4 -7h0m.2 51.6h0m-.1 -10.1h0m-.2 3.9h0m.7 -23.2h0m-.4 -11.6h0m0 19.2h0m.2 -24.8h0m-.6 23.7h0m.8 .7h0m-1 -34.7h0m-.3 38h0m.6 -26.1h0m.7 10.3h0m-.4 8.2h0m-.2 24.9h0m.9 -24.9h0m-1.9 -13.5h0m1.3 35.2h0m.2 -42h0m-.6 4h0m-.8 21h0m.6 3.5h0m.3 -13.1h0m-.3 16.5h0m.3 -32.3h0m-.4 37.5h0m.7 .9h0m-1 -35.8h0m1 -5.8h0m-1.1 19.4h0m1 -18.8h0m.2 11.3h0m-.3 -9.5h0m.1 42.1h0m-.4 -25.3h0m.9 19.2h0m-1.2 .3h0m1.5 -30.5h0m-.9 30.1h0m-.1 -18.6h0m.9 -8.1h0m-1 28.4h0m.1 6h0m-1.5 -25.3h0m1.2 9h0m.2 -2.1h0m-.3 2.8h0m-.5 -1.9h0m1.4 13.2h0m-1.7 -28h0m1.3 2.6h0m-1.8 3.3h0m-.4 -.9h0m3 -4.3h0m-1.4 .3h0m.1 10.8h0m.7 -8.5h0m-.4 1.5h0m.5 6.6h0m-.1 27.7h0m-.6 -57.5h0m.6 56.4h0m.1 -28.1h0m-.4 8h0m-.6 10.9h0m1.7 -15.9h0m-1 8.4h0m-1.1 -10.4h0m2.7 .2h0m-2.6 3.2h0m1.6 -8.5h0m-.7 6.2h0m-.1 -32.3h0m.4 33h0m.4 10.2h0m-1.1 -26.4h0m-.1 14.1h0m.8 -17.6h0m-.2 26h0m-.9 -22h0m.5 12.4h0m.1 2.8h0m.3 -27.9h0m1 23h0m-.9 24.8h0m.2 -15.7h0m-.9 -16.8h0m.6 18.3h0m1.1 -15.3h0m-.8 10.1h0m.1 15.6h0m-.7 -5.9h0m-.5 -11.4h0m.5 15.3h0m-.7 -30.8h0m1.1 5.2h0m-.3 -9.9h0m-.6 3.6h0m.5 2.7h0m.1 24.4h0m-.4 -20.4h0m.7 35.5h0m.8 -21.6h0m-1.9 -10.2h0m1 10h0m-.9 6.3h0m.7 1h0m-.4 -12.5h0m-.5 5.5h0" stroke="#c0404e" stroke-opacity="0.294" stroke-width="0.75" stroke-linecap="round"/>
<text x="426.75" y="506.10" text-anchor="middle" font-family="Liberation Sans" font-size="6.2" textLength="5.90" lengthAdjust="spacingAndGlyphs" fill="#111" stroke="#111" stroke-width="0.15">35</text>
<line x1="423.15" x2="430.35" y1="576.70" y2="576.70" stroke="#8c0d0d" stroke-width="2.2" stroke-linecap="round"/>
<line x1="437.05" x2="437.05" y1="542.50" y2="596.20" stroke="#c8c8c8" stroke-width="0.5"/>
<line x1="435.85" x2="438.25" y1="542.50" y2="542.50" stroke="#bbb" stroke-width="0.6"/>
<line x1="435.85" x2="438.25" y1="596.20" y2="596.20" stroke="#bbb" stroke-width="0.6"/>
<rect x="434.35" y="562.40" width="5.4" height="13.90" fill="none" stroke="#c2c2c2" stroke-width="0.5"/>
<line x1="434.35" x2="439.75" y1="569.35" y2="569.35" stroke="#c2c2c2" stroke-width="0.5"/>
<polygon points="436.7,542.5 436.7,547.0 436.5,551.5 436.2,555.9 435.8,560.4 435.4,564.9 435.3,569.4 435.4,573.8 435.8,578.3 436.2,582.8 436.5,587.2 436.7,591.7 436.7,596.2 437.4,596.2 437.4,591.7 437.6,587.2 437.9,582.8 438.3,578.3 438.7,573.8 438.8,569.4 438.7,564.9 438.3,560.4 437.9,555.9 437.6,551.5 437.4,547.0 437.4,542.5" fill="#48b03a" fill-opacity="0.202"/>
<path d="M437.3 545.5h0m-.5 10.8h0m.9 14.1h0m0 19.9h0m-1 -14.1h0m.1 -5.3h0m.7 9.6h0m0 -16.1h0m.4 13.9h0m-.6 -12.2h0m.6 1.8h0m-.8 24.9h0m-.5 -20.7h0m.8 7.4h0m-.3 -11.2h0m-.2 -6.6h0m.6 19h0m-.5 15.1h0m-.7 -39.7h0m-.2 2.1h0m1.3 8.4h0m-.4 12.7h0m-.8 -25.9h0m1.7 15.8h0m-1.3 -5.5h0m.3 2.2h0m.6 -11.8h0m-.9 -2h0m-1.6 13.7h0m1.9 11.7h0m.8 -5.4h0m-1 14.7h0m.5 5h0m-.2 -6.2h0m-.9 5.9h0m.8 -48.3h0m.3 40.2h0m-.2 7.7h0m.6 -24h0m-.7 -4.3h0m.4 -2.5h0m-.6 15.3h0m.7 -20.3h0m.1 30.3h0m-1 -5.4h0m1.8 -12.9h0m-2.7 1.7h0m2.2 -15.6h0m-1.3 8.8h0m2.6 12.9h0m-2.8 4.7h0m1.8 -19.6h0m-1.2 -9h0m.2 6.6h0m-2.1 7.5h0m2.4 20.9h0m-1.3 -18.5h0m1.2 -9.1h0m.3 14.2h0m-.6 12h0m.8 -4.9h0m-1.4 -34.7h0m.6 5.7h0m.8 22.3h0m-1.9 -.1h0m1.7 -2.5h0m-1.3 5.5h0m2.4 -3.8h0m-.6 5.9h0m-1.1 -26.7h0m.1 40.2h0m0 -37.9h0m.7 13.7h0m-.3 12.4h0m-.2 15.7h0m-.5 -19.4h0m-1.3 -.4h0m.7 1.5h0m.7 1.7h0m-.1 -2h0m1 -3.1h0m-1.5 -21.2h0m.5 24.9h0m-.3 5.2h0m.8 1.5h0m-.6 -17.5h0m.8 25.4h0m-1 -26.4h0m-.1 -1.8h0m.3 -2.8h0m1.3 9.9h0m-.1 -2.7h0m-.6 15.8h0m.3 -30.6h0m-.1 25.3h0m-1.3 -24.1h0m.8 37h0m0 -19.5h0m-1.3 -6.5h0m.8 5.6h0m1.8 -4.6h0m-1.9 -8h0m.9 -9h0m.2 13.1h0m-.1 -11.2h0m-.4 3.5h0m-.6 28.6h0m1.1 -17.9h0m.3 11h0m0 -3.5h0m-.2 5.5h0m-1.3 7h0m.9 6.5h0m-.4 -8.2h0m.8 -2.4h0m-.7 2.4h0m.1 -10.9h0m1.2 -6.4h0m.4 -3.5h0m-1.3 -2.3h0m.5 20.5h0m-1.5 -7.9h0m.9 10.9h0m-1.7 -6.9h0m1.7 .6h0m-.1 6.1h0m-.4 -16.4h0m.2 16.9h0m2.1 -17.8h0m-1.8 9.9h0m.8 -14.6h0m-.7 15.9h0m-.9 -16.2h0m.4 3.5h0m.7 28.8h0m-.9 -30h0m-.3 4.7h0m-.3 -11.3h0m.4 -2.3h0m1.1 19.4h0m-.8 1.7h0m.2 -3h0m-.6 4.1h0m1.3 4.2h0m-.1 -16.2h0m1 7.5h0m-.8 -5.4h0m-.2 -15.7h0m-.8 8.4h0m.8 10.4h0m.7 -9.5h0m-.9 -9h0m.4 16.6h0m-1.1 -22h0m1.2 32.6h0m.4 -1.6h0m-1.6 1.5h0m.9 -22.1h0m-1 36.7h0m.8 -37.8h0m0 23h0m.2 -1.6h0m-.4 -27.2h0m-.5 14.2h0m1.1 11.1h0m-.1 -29.6h0m.5 25.8h0m-1.2 -4.7h0m1.2 2h0m-.4 8.2h0m-1.5 1.6h0m.7 3.8h0m-.7 -17.3h0m1 2.5h0m-.7 1.3h0m.8 11.9h0m.2 -14.1h0m.3 11.8h0m-1.3 -12.8h0m1.7 7.5h0m-1 -15.8h0m0 -5.4h0m.1 21.2h0m-.1 -22.8h0m.4 38.2h0m-.1 -23.2h0m-.4 3.1h0m.8 6h0m1 3.7h0m-2 .1h0" stroke="#48b03a" stroke-opacity="0.294" stroke-width="0.75" stroke-linecap="round"/>
<text x="437.05" y="540.40" text-anchor="middle" font-family="Liberation Sans" font-size="6.2" textLength="5.90" lengthAdjust="spacingAndGlyphs" fill="#111" stroke="#111" stroke-width="0.15">36</text>
<line x1="433.45" x2="440.65" y1="549.20" y2="549.20" stroke="#2f9e12" stroke-width="2.2" stroke-linecap="round"/>
<line x1="447.35" x2="447.35" y1="542.50" y2="603.40" stroke="#c8c8c8" stroke-width="0.5"/>
<line x1="446.15" x2="448.55" y1="542.50" y2="542.50" stroke="#bbb" stroke-width="0.6"/>
<line x1="446.15" x2="448.55" y1="603.40" y2="603.40" stroke="#bbb" stroke-width="0.6"/>
<rect x="444.65" y="566.70" width="5.4" height="16.80" fill="none" stroke="#c2c2c2" stroke-width="0.5"/>
<line x1="444.65" x2="450.05" y1="575.10" y2="575.10" stroke="#c2c2c2" stroke-width="0.5"/>
<polygon points="447.1,542.5 447.0,547.6 446.8,552.6 446.5,557.7 446.2,562.8 445.8,567.9 445.6,573.0 445.6,578.0 445.9,583.1 446.2,588.2 446.6,593.2 446.8,598.3 447.0,603.4 447.7,603.4 447.9,598.3 448.1,593.2 448.5,588.2 448.8,583.1 449.1,578.0 449.1,573.0 448.9,567.9 448.5,562.8 448.2,557.7 447.9,552.6 447.7,547.6 447.6,542.5" fill="#bcbc38" fill-opacity="0.165"/>
<path d="M447.3 583.1h0m0 14.4h0m1 -26h0m-.9 -24.6h0m.5 35.7h0m-1 15.4h0m1 -7.5h0m-.3 -19.1h0m.4 14.3h0m-.9 -21h0m-.4 -6.9h0m.7 -11.1h0m-.7 39.8h0m.9 -4.7h0m0 3.5h0m-.2 8.3h0m1.2 -34.2h0m-1.7 -10.2h0m1.2 40h0m-1.3 -31.1h0m-.5 25.1h0m1 -3.1h0m-1.2 -12.5h0m1.7 28.7h0m-.7 -21.5h0m-.6 9.2h0m1.2 -33h0m-1.7 14.3h0m2.2 -.1h0m-2.4 -3.1h0m1.8 28.5h0m-1.6 -10.8h0m1.5 -23.5h0m.9 24.2h0m-.7 0h0m-.7 16.6h0m1.1 -32.7h0m-.8 -20.9h0m.2 22.4h0m-.9 22.1h0m.3 -24.8h0m.6 25.5h0m-.4 -12.6h0m.2 -5.5h0m1.2 13.5h0m-1.8 4.2h0m.5 -36.8h0m-.2 40.4h0m.6 -38.7h0m-.8 19.2h0m.4 -12.2h0m-.2 3.3h0m.5 -1.2h0m.8 1h0m-.7 -.2h0m.1 10h0m-1.5 14.4h0m1.7 -20h0m-.6 27.2h0m.8 -40h0m-.8 26.1h0m.7 -28.2h0m-.5 35.5h0m-.5 -6.6h0m.2 15.5h0m-.1 -13.1h0m.4 -1.6h0m.1 16h0m-.8 -5.8h0m1 -10.7h0m-.7 -11.2h0m1.1 -17.4h0m-1.6 10.5h0m.7 -20.9h0m.8 15.3h0m-1.4 29.4h0m.7 2.9h0m-1 9.9h0m1.2 -32.7h0m-.1 -10.4h0m-1 8h0m1.2 17.5h0m-.9 -24.8h0m-.6 16.6h0m.9 -.5h0m.7 -4.2h0m-1.1 2.5h0m1.5 -1.9h0m-.9 18.8h0m.3 -3.3h0m-.4 -17.2h0m-.6 15.8h0m3.1 -9.4h0m-4.7 -.1h0m1.7 -12h0m.5 24.2h0m.3 6.5h0m.1 -14.8h0m.3 6.2h0m-1.5 -27.5h0m1.7 17.7h0m-.3 -16.2h0m-1.4 22.1h0m.8 -7.8h0m.6 18.6h0m-.3 -6.2h0m-.7 -8.9h0m-1.2 -5.7h0m2.9 8h0m-.6 -5.2h0m.3 -12h0m-.9 28.7h0m-.8 -20.7h0m.7 -.5h0m.9 -10h0m-2.3 14.7h0m1.2 -25.8h0m.2 24.3h0m-.3 3.4h0m.2 3.9h0m-.8 -32h0m.6 9.5h0m-.7 42.7h0m1.2 -33.4h0m-.3 -4h0m-.2 39.1h0m.7 -52.2h0m0 30.5h0m-.8 -2.4h0m.2 8h0m.1 -22.3h0m.2 20.2h0m1 -.7h0m-1.4 -7.8h0m.2 -3.8h0m1.1 -3.1h0m-.5 -12.7h0m-2 26.8h0m1.1 -15.1h0m1 12.4h0m-.6 -7.4h0m.1 16.7h0m.9 2.6h0m-.4 -31.1h0m-.3 8.7h0m.5 -14.6h0m-.5 2.4h0m-.7 16.8h0m1.6 -.2h0m2 -6.3h0m-3.2 21.4h0m.6 -.6h0m.5 -32.9h0m-1.7 23.2h0m.8 3.8h0m.4 14.7h0m-.8 -19.6h0m.3 -22.1h0m-1 27.7h0m1 -40.3h0m.7 38.7h0m.6 -3.1h0m0 7.3h0m-1 12.8h0m.1 -34.1h0m.1 -8.8h0m-.6 4.3h0m1.9 11.7h0m-2.3 15.1h0m.6 -39h0m.6 4.2h0m-1.2 18.7h0m1.8 11.1h0m-.6 -28.5h0m.7 30.9h0m-1.3 -5.1h0m.1 -5.2h0m.2 3.1h0m-.1 2.3h0m-.6 -7.2h0m1.4 13.3h0m-1.2 -41.6h0m.9 27.2h0m-1 28.5h0m1.8 -26.7h0m-1 4.9h0m-1.5 4.9h0m.6 2.6h0m.7 -.5h0m-.7 -26.8h0m.7 -8.5h0m-2.1 21.7h0m-.1 12.3h0m2.6 -13.4h0m-1.2 -20.8h0m.9 6.2h0m0 30.6h0m0 -8.3h0" stroke="#bcbc38" stroke-opacity="0.240" stroke-width="0.75" stroke-linecap="round"/>
<text x="447.35" y="540.40" text-anchor="middle" font-family="Liberation Sans" font-size="6.2" textLength="5.90" lengthAdjust="spacingAndGlyphs" fill="#111" stroke="#111" stroke-width="0.15">29</text>
<line x1="443.75" x2="450.95" y1="608.20" y2="608.20" stroke="#a3a30c" stroke-width="2.2" stroke-linecap="round"/>
<line x1="464.30" x2="471.50" y1="542.50" y2="542.50" stroke="#0b0ba6" stroke-width="2.2" stroke-linecap="round"/>
<line x1="474.60" x2="481.80" y1="542.50" y2="542.50" stroke="#8c0d0d" stroke-width="2.2" stroke-linecap="round"/>
<line x1="484.90" x2="492.10" y1="542.50" y2="542.50" stroke="#2f9e12" stroke-width="2.2" stroke-linecap="round"/>
<line x1="495.20" x2="502.40" y1="609.10" y2="609.10" stroke="#a3a30c" stroke-width="2.2" stroke-linecap="round"/>
<line x1="519.35" x2="519.35" y1="581.90" y2="634.80" stroke="#c8c8c8" stroke-width="0.5"/>
<line x1="518.15" x2="520.55" y1="581.90" y2="581.90" stroke="#bbb" stroke-width="0.6"/>
<line x1="518.15" x2="520.55" y1="634.80" y2="634.80" stroke="#bbb" stroke-width="0.6"/>
<rect x="516.65" y="602.50" width="5.4" height="14.10" fill="none" stroke="#c2c2c2" stroke-width="0.5"/>
<line x1="516.65" x2="522.05" y1="609.55" y2="609.55" stroke="#c2c2c2" stroke-width="0.5"/>
<polygon points="519.1,581.9 519.0,586.3 518.8,590.7 518.5,595.1 518.2,599.5 517.8,603.9 517.6,608.3 517.7,612.8 518.0,617.2 518.3,621.6 518.7,626.0 518.9,630.4 519.0,634.8 519.7,634.8 519.8,630.4 520.0,626.0 520.4,621.6 520.7,617.2 521.0,612.8 521.1,608.3 520.9,603.9 520.5,599.5 520.2,595.1 519.9,590.7 519.7,586.3 519.6,581.9" fill="#4a5ad8" fill-opacity="0.220"/>
<path d="M520.8 603.4h0m-1.6 2.6h0m.4 -22.8h0m-.1 45.7h0m-.4 -39.7h0m.4 5.4h0m.1 7.1h0m-.6 1.5h0m.4 29.4h0m0 -43.6h0m-.2 41.9h0m0 -35.9h0m-.7 15.1h0m1.4 -17.2h0m-1.2 5.3h0m1.2 14.8h0m-.6 2.4h0m1.6 -3.2h0m-.5 -3.7h0m-1.7 -5.5h0m.8 -12.8h0m-.1 8.8h0m-1.4 15h0m1.4 -7.4h0m.4 9.2h0m-1.8 -4.8h0m1.5 13.5h0m-.5 5.9h0m1.6 -23.1h0m-1.3 -4.8h0m-.2 4.5h0m1 -5.4h0m-1.7 2.2h0m.6 15.8h0m.5 -27.9h0m-2.2 17.3h0m2.5 -7h0m.1 11.7h0m-.8 -29.1h0m.7 29.4h0m-1 -2.2h0m.4 -29.7h0m.3 35h0m0 .1h0m-.3 11.3h0m.6 -8.9h0m-1.5 -4.3h0m.9 -3.3h0m1 10.5h0m-.9 -13.3h0m-.4 -5.6h0m-.6 6.9h0m.1 11h0m1.3 -13.1h0m0 -4h0m.7 -.7h0m-1.1 14.8h0m.7 -14.6h0m-.6 11.6h0m-.5 -2.9h0m.5 -4.3h0m-.1 12.5h0m.3 -14.3h0m-.2 11.4h0m-.4 -31h0m.8 24.3h0m-1.6 -12.1h0m.8 -7.4h0m.7 5.7h0m-1.8 .2h0m1.3 25.9h0m-.2 -8.2h0m.1 11.3h0m-.2 -9.2h0m1.6 -2.7h0m-2 -6.4h0m-.1 8.8h0m1.7 -3h0m-1.7 5.6h0m.6 -31.7h0m.2 30.1h0m-.3 -13.8h0m-.1 19.1h0m.8 -10.4h0m-1 2.5h0m2 -8.1h0m-1.7 -2.4h0m.2 -5.5h0m-.5 22.9h0m-.9 -25.1h0m1 17.2h0m1.4 -7h0m-1 -21.3h0m.3 -2.2h0m1.5 30.1h0m-1.8 9.9h0m.4 -16.5h0m-.7 -15.4h0m1.4 20.5h0m-1.3 12.7h0m-.1 -32.4h0m.4 32.3h0m-1.1 -24.4h0m2.5 14.6h0m-.9 4.9h0m-.3 11.1h0m.3 1.3h0m-.1 -25.9h0m-.1 -21.2h0m.6 24.1h0m-1.8 2.4h0m1.2 3.8h0m0 -6h0m.8 -17.1h0m-.8 36.7h0m.4 -11.5h0m-.2 -24.7h0m-1.7 12h0m1 -20.8h0m.4 .3h0m-1 26.7h0m1.3 -25.1h0m-.9 17.2h0m2.6 .9h0m-3.3 13h0m1.1 15.5h0m0 -43h0m1.1 14.7h0m-1.5 7.3h0m1.4 9.5h0m1.3 -10.3h0m-2.5 5.5h0m-.3 -5.6h0m1 -2.9h0m-.6 12.3h0m.8 -10.8h0m.1 -20.4h0m.5 24.2h0m-2.7 -3.5h0m2.5 -9.4h0m-1.5 8.5h0m1.1 -21.5h0m-1.9 10.9h0m2.5 18.1h0m-1.5 9.5h0m.5 -26.8h0m-1.1 3.1h0m1.5 3.2h0m-.8 16.3h0m1 -12.8h0m-1 -4.7h0m-.4 3.3h0m.4 7.2h0m1.1 -11.7h0m-.7 -2.6h0m-.7 27.5h0m-.5 -17.4h0m2.4 1h0m-2.1 4.8h0m1.3 7.7h0m-1 -1.2h0m.5 -20.2h0m0 22.6h0m.1 -2.5h0m-.4 8.2h0m.4 -10.1h0m.3 -9.2h0m-1.4 7.1h0m2.2 -1.7h0m-.7 3.6h0m-.6 -27.4h0m.5 13.9h0m-.4 -11.9h0m0 -5.7h0m-1.4 22.4h0m.9 -17.6h0m-2.6 18.6h0m4 .1h0m-1.9 5.3h0m.7 -18h0m.1 29.3h0m.3 -28h0m.9 15h0m-.8 -21h0m-1.2 11.8h0m1.1 14.3h0m.3 -1.6h0m-.6 -26.5h0m-.6 -2.1h0m.3 29h0m.2 .2h0" stroke="#4a5ad8" stroke-opacity="0.320" stroke-width="0.75" stroke-linecap="round"/>
<text x="519.35" y="580.60" text-anchor="middle" font-family="Liberation Sans" font-size="6.2" textLength="5.90" lengthAdjust="spacingAndGlyphs" fill="#111" stroke="#111" stroke-width="0.15">10</text>
<line x1="515.75" x2="522.95" y1="624.70" y2="624.70" stroke="#0b0ba6" stroke-width="2.2" stroke-linecap="round"/>
<line x1="529.65" x2="529.65" y1="584.70" y2="632.60" stroke="#c8c8c8" stroke-width="0.5"/>
<line x1="528.45" x2="530.85" y1="584.70" y2="584.70" stroke="#bbb" stroke-width="0.6"/>
<line x1="528.45" x2="530.85" y1="632.60" y2="632.60" stroke="#bbb" stroke-width="0.6"/>
<rect x="526.95" y="602.50" width="5.4" height="12.20" fill="none" stroke="#c2c2c2" stroke-width="0.5"/>
<line x1="526.95" x2="532.35" y1="608.60" y2="608.60" stroke="#c2c2c2" stroke-width="0.5"/>
<polygon points="529.4,584.7 529.3,588.7 529.1,592.7 528.8,596.7 528.4,600.7 528.0,604.7 527.9,608.7 528.0,612.6 528.4,616.6 528.8,620.6 529.1,624.6 529.3,628.6 529.4,632.6 529.9,632.6 530.0,628.6 530.2,624.6 530.5,620.6 530.9,616.6 531.3,612.6 531.4,608.7 531.3,604.7 530.9,600.7 530.5,596.7 530.2,592.7 530.0,588.7 529.9,584.7" fill="#c0404e" fill-opacity="0.202"/>
<path d="M530.0 621.8h0m.1 -15h0m-1.3 -.9h0m.6 -8.1h0m-.3 8.6h0m.9 13.5h0m.2 -28.7h0m-1.8 19.5h0m1.2 -6.5h0m-.4 15.6h0m0 -16.2h0m-.8 4.1h0m1.6 1.4h0m-.3 -8.9h0m-.7 12.1h0m.4 16.7h0m.6 -20.9h0m-.5 -7h0m-.9 17.8h0m-.3 -21.6h0m2.3 10.8h0m-1.7 6.9h0m0 1.8h0m-1 -16.8h0m.5 12.6h0m.6 13.6h0m1.1 -17.3h0m-.3 15.4h0m-1 -7.8h0m-.1 -5.1h0m2.1 -7.8h0m-1.6 17.3h0m.7 3.2h0m-.5 -30.2h0m.3 31.3h0m-.4 2.4h0m.7 -5.5h0m-1.1 -9.8h0m.9 14.1h0m.1 -21.2h0m-.9 14.4h0m1.2 -11.3h0m-1.3 19.8h0m.5 -9.7h0m.4 -12.4h0m-.3 22.1h0m.2 -27.8h0m-.6 30.6h0m.5 -38h0m-.1 22.9h0m.5 -13.6h0m-.5 12.6h0m.4 -4.1h0m.7 -4.3h0m-1 5.1h0m.2 -18.6h0m-.2 29.1h0m0 -21.2h0m1.1 17.1h0m-1 -17.1h0m0 5.7h0m0 22.6h0m-.4 -34.4h0m-.2 6.9h0m-.1 -5.5h0m.6 16.2h0m-.3 10.1h0m.2 .1h0m0 -16.7h0m-.8 9h0m.9 10.8h0m-.3 1.5h0m.9 1.5h0m-1.3 -14h0m2.6 -1.6h0m-.6 -1.3h0m-1.5 15.1h0m-1 -13h0m.7 .1h0m-.9 -8h0m1 -6.7h0m.7 21.5h0m-1.4 -12.5h0m1 1.4h0m.4 3.7h0m.6 -1.6h0m-1.4 8.6h0m-.3 -25.6h0m2 12.2h0m-1.1 -9.5h0m-1.2 12.5h0m.9 -7.6h0m.6 -2.1h0m-.5 7.2h0m-1.4 2.1h0m1.4 1.9h0m-.1 -21.1h0m-1.2 22.8h0m1.6 -28.1h0m-.4 21.2h0m.9 10.6h0m-1 10.7h0m0 -18.7h0m.4 18.5h0m.1 -25h0m.4 7.1h0m-.8 -5.9h0m.3 -.7h0m-.1 13.7h0m-1.3 -11.3h0m2 .8h0m-.1 -11.6h0m-.8 2.7h0m1.2 6.4h0m-.4 28.4h0m.6 -9.3h0m-.8 -15.6h0m0 13.9h0m-.5 -24.1h0m.8 18.5h0m-.5 -7.5h0m-.3 12.6h0m.2 -23.9h0m-.3 -9.4h0m-.7 29.9h0m.7 -14.6h0m-.1 15.9h0m.2 7.6h0m1 -13h0m.1 -7.8h0m-2.4 2.2h0m1.2 7.5h0m0 11h0m.5 -4.8h0m.1 -14.8h0m-1.3 4.4h0m.9 -18.5h0m.1 27.3h0m.4 -27.1h0m-.1 20.8h0m0 14.7h0m-.6 -12.2h0m.4 -10.6h0m-.5 26.2h0m-1.2 -23.3h0m1.7 12h0m1.5 -6.5h0m-1.4 -13.9h0m.9 10.7h0m-.8 -22.2h0m-1.1 13.8h0m.8 29.3h0m.9 -26.9h0m-2.2 -3.9h0m1.9 9.5h0m-.8 -19.5h0m-.4 35.4h0m-.7 -17.9h0m1.6 24.4h0m.1 -39.8h0m.3 15.6h0m-1.2 -4.5h0m.5 -6.3h0m.4 -6.3h0m-.2 19.7h0m1.1 -8.8h0m-1.6 24.4h0" stroke="#c0404e" stroke-opacity="0.294" stroke-width="0.75" stroke-linecap="round"/>
<text x="529.65" y="582.10" text-anchor="middle" font-family="Liberation Sans" font-size="6.2" textLength="5.90" lengthAdjust="spacingAndGlyphs" fill="#111" stroke="#111" stroke-width="0.15">10</text>
<line x1="526.05" x2="533.25" y1="582.50" y2="582.50" stroke="#8c0d0d" stroke-width="2.2" stroke-linecap="round"/>
<line x1="539.95" x2="539.95" y1="562.80" y2="622.20" stroke="#c8c8c8" stroke-width="0.5"/>
<line x1="538.75" x2="541.15" y1="562.80" y2="562.80" stroke="#bbb" stroke-width="0.6"/>
<line x1="538.75" x2="541.15" y1="622.20" y2="622.20" stroke="#bbb" stroke-width="0.6"/>
<rect x="537.25" y="586.00" width="5.4" height="15.60" fill="none" stroke="#c2c2c2" stroke-width="0.5"/>
<line x1="537.25" x2="542.65" y1="593.80" y2="593.80" stroke="#c2c2c2" stroke-width="0.5"/>
<polygon points="539.7,562.8 539.6,567.8 539.4,572.7 539.1,577.6 538.8,582.6 538.4,587.5 538.2,592.5 538.3,597.5 538.6,602.4 538.9,607.4 539.3,612.3 539.5,617.2 539.6,622.2 540.3,622.2 540.4,617.2 540.6,612.3 541.0,607.4 541.3,602.4 541.6,597.5 541.7,592.5 541.5,587.5 541.1,582.6 540.8,577.6 540.5,572.7 540.3,567.8 540.2,562.8" fill="#48b03a" fill-opacity="0.202"/>
<path d="M540.4 587.6h0m.2 -20.7h0m-1.2 22h0m1.3 2.3h0m-.3 .4h0m-.3 -12.6h0m-.8 21.2h0m3.3 -10.1h0m-2.6 .2h0m-.3 1.4h0m.6 -7.8h0m-1.3 10.3h0m1.7 -7.6h0m-1.4 18.7h0m.6 -29.7h0m-1.5 16.6h0m1.6 -16.8h0m.5 21.4h0m-.7 -7.5h0m-.9 .7h0m1.2 10.2h0m0 -4.2h0m1.1 -15.8h0m-.9 -2.5h0m-.5 26.9h0m0 -13.4h0m.7 -19.3h0m-.4 30.1h0m-.2 5.5h0m.8 13.5h0m-1.4 -34.7h0m.8 -4.9h0m1.4 24.8h0m-1 15.1h0m-.7 -46.8h0m-.3 6.9h0m-.6 -1.2h0m1.2 34.9h0m.7 -21.4h0m-.5 -4.5h0m.9 2.4h0m-.9 5.3h0m-.5 -16.3h0m.4 35.7h0m-.2 -29.1h0m-.1 5.7h0m.1 -8.4h0m.6 -3.7h0m-1.1 18.3h0m1.7 -19.3h0m-.9 15h0m-.7 3.7h0m.7 -13.6h0m0 12.5h0m-.5 -25h0m.5 26.9h0m-.3 10h0m0 -30.1h0m-1.6 21.4h0m1.2 -15.7h0m.7 35.7h0m-1.2 -19.3h0m1.4 -35.5h0m0 39.1h0m0 -6.9h0m-.4 -13.4h0m-1.8 6.7h0m1.5 .8h0m1.1 -5.3h0m-.8 -23.6h0m.1 42h0m.1 -29.8h0m1.4 17.2h0m-2.5 -1.5h0m1.8 9h0m-.4 1h0m-.7 -4h0m-.5 -11h0m0 7.1h0m1.6 -9.9h0m-1.5 20.1h0m1.5 -11.8h0m-.8 -26.8h0m-.3 53.2h0m.8 -35.6h0m0 12.1h0m-.5 -11h0m-1.4 2.9h0m.4 7.1h0m1.6 -11.7h0m-.7 15.1h0m1 8.2h0m-1.3 -36.5h0m.4 40.4h0m0 -12.7h0m-.2 -14.6h0m-.5 -11.9h0m1.5 28.9h0m-1.5 14.2h0m1.2 -24.8h0m-.5 13.3h0m1 -4h0m-.3 3.2h0m-1.5 15.9h0m.3 -12.6h0m.6 -6.6h0m.3 -10.5h0m-2.7 .4h0m3.5 9.6h0m-2.5 7.5h0m.8 -16.6h0m-.5 3.6h0m.2 29h0m.4 -18.8h0m-.2 -3.1h0m.4 -17.8h0m.1 26.6h0m-.7 -10.6h0m0 15.1h0m.4 5.1h0m.1 -34.8h0m.4 9.8h0m-1.5 -5.5h0m1 22h0m.5 -12.2h0m-.6 -5.1h0m.7 14.4h0m0 -2.6h0m-1.1 -5.9h0m1.2 2h0m-1.1 -23.3h0m.2 6.4h0m.6 9.2h0m.6 .4h0m-.3 12.7h0m-1.1 6.7h0m1.5 -22.7h0m-2.8 -1.6h0m2.5 -1.8h0m-1.8 12.9h0m1.7 -16.1h0m-.5 18.4h0m-.3 8.9h0m.6 -24.9h0m-.6 21.7h0m0 14.1h0m-.7 -41.1h0m1.8 19.9h0m-.4 -8.4h0m.8 4.4h0m-1.6 17.7h0m.6 -21.6h0m.4 -.6h0m.7 -6.9h0m-.1 1.7h0m-1.2 6.7h0m.3 -12.4h0m-1 2.5h0m.9 13.4h0m.4 1.8h0m.2 14h0m-.5 -21.2h0m-.2 4.1h0m-1.2 -.4h0m.1 9.6h0m.9 -3.4h0m.1 22.5h0m.1 -31.3h0m.8 20.7h0m-2 -30.6h0m.6 23.9h0m.8 7h0m-.4 -44.1h0m.8 17h0m.1 26.9h0m-2.2 -30.7h0m.4 20.6h0m1.2 -8.6h0m.2 -6.5h0m-1.7 .9h0m1.1 -24.2h0m.8 20.2h0m-.9 32.4h0m-.1 -14.5h0m-.1 -.6h0m.6 -23.8h0m-1.2 11.9h0m1.4 -2.8h0m-.8 -5.7h0m-.6 6.8h0m0 16.6h0m.6 -31.6h0m-.2 3.4h0m1.3 30.2h0m-1.2 -24h0m.4 19.8h0m0 2.2h0m-.9 -15.3h0m1.9 15.9h0" stroke="#48b03a" stroke-opacity="0.294" stroke-width="0.75" stroke-linecap="round"/>
<text x="539.95" y="561.20" text-anchor="middle" font-family="Liberation Sans" font-size="6.2" textLength="5.90" lengthAdjust="spacingAndGlyphs" fill="#111" stroke="#111" stroke-width="0.15">10</text>
<line x1="536.35" x2="543.55" y1="595.00" y2="595.00" stroke="#2f9e12" stroke-width="2.2" stroke-linecap="round"/>
<line x1="550.25" x2="550.25" y1="587.90" y2="614.70" stroke="#c8c8c8" stroke-width="0.5"/>
<line x1="549.05" x2="551.45" y1="587.90" y2="587.90" stroke="#bbb" stroke-width="0.6"/>
<line x1="549.05" x2="551.45" y1="614.70" y2="614.70" stroke="#bbb" stroke-width="0.6"/>
<rect x="547.55" y="597.90" width="5.4" height="7.50" fill="none" stroke="#c2c2c2" stroke-width="0.5"/>
<line x1="547.55" x2="552.95" y1="601.65" y2="601.65" stroke="#c2c2c2" stroke-width="0.5"/>
<polygon points="549.9,587.9 549.8,590.1 549.6,592.4 549.3,594.6 549.0,596.8 548.7,599.1 548.5,601.3 548.6,603.5 548.9,605.8 549.2,608.0 549.5,610.2 549.8,612.5 549.9,614.7 550.6,614.7 550.7,612.5 551.0,610.2 551.3,608.0 551.6,605.8 551.9,603.5 552.0,601.3 551.8,599.1 551.5,596.8 551.2,594.6 550.9,592.4 550.7,590.1 550.6,587.9" fill="#bcbc38" fill-opacity="0.165"/>
<path d="M549.7 600.7h0m1.2 -2.8h0m-.7 -6.5h0m.7 16.3h0m-1.9 -6.7h0m0 0h0m-.5 2.3h0m1.7 -10.2h0m-.2 6.1h0m.8 .4h0m0 10.3h0m0 -12.6h0m.4 2.7h0m-.3 -8.8h0m-.4 14h0m-1 -9.3h0m1.6 5.8h0m-.7 1h0m.3 -.4h0m-1.3 1.7h0m.4 3.2h0m-.1 -1.7h0m.5 2.5h0m.3 -3.5h0m.3 .3h0m-.7 9.5h0m-.4 -7.7h0m.4 1.1h0m.1 -4.8h0m.6 1.3h0m-.6 3.8h0m-.6 -5.8h0m1.1 1.3h0m-.4 -2.6h0m-1.2 -.6h0m1.1 7.1h0m-.1 -9h0m.6 -4.7h0m-1.9 12.5h0m1.6 1.9h0m-.8 -13.9h0m1 7.3h0m.6 -1.4h0m.1 -10.5h0m-1 10h0m-.6 5.9h0m2.2 -2.9h0m-2.8 -1.4h0m1 -8.2h0m.2 10.1h0m-.2 -8.7h0m.3 -1.9h0m-.4 11.6h0m.6 2.9h0m-1.2 .5h0m.7 -4.9h0m.8 -6.7h0m-.7 2.1h0m.5 -5.6h0m.1 16.5h0m-2 -4.8h0m.4 -2h0m1.1 -9.1h0m-.9 7h0m.7 6.3h0m1.7 -8h0m-1.4 8.8h0m-1.6 -9.3h0m1.2 -6.5h0m.6 5.3h0m-.8 1.7h0m.4 -6.7h0m0 11.4h0m.2 -8.5h0m.7 6.1h0m-.7 -5.8h0m1.3 1.2h0m-1.2 4.8h0m-1.5 1.5h0m1.4 -4.1h0m.4 11.3h0m-.3 -11.4h0m.5 12.4h0m-1.1 -10h0m1.1 7.1h0m-.4 -12.1h0m.3 4.3h0m-1.6 6.7h0m-.1 -2.9h0m1.6 -3.2h0m-.8 5.1h0m1.2 -8.2h0m-.7 15.3h0m.1 -9.1h0m-1.1 -4.8h0m1.5 5.3h0m-1.1 -2.2h0" stroke="#bcbc38" stroke-opacity="0.240" stroke-width="0.75" stroke-linecap="round"/>
<text x="550.25" y="586.20" text-anchor="middle" font-family="Liberation Sans" font-size="6.2" fill="#111" stroke="#111" stroke-width="0.15">6</text>
<line x1="546.65" x2="553.85" y1="615.30" y2="615.30" stroke="#a3a30c" stroke-width="2.2" stroke-linecap="round"/>
<rect x="45.8" y="493.7" width="525.70" height="154.20" fill="none" stroke="#3c3c3c" stroke-width="1.2"/>
<line x1="42.199999999999996" x2="45.8" y1="647.90" y2="647.90" stroke="#3c3c3c" stroke-width="1"/>
<line x1="571.5" x2="575.1" y1="647.90" y2="647.90" stroke="#3c3c3c" stroke-width="1"/>
<text x="37.6" y="650.60" text-anchor="end" font-family="Liberation Sans" font-size="7.9" textLength="3.9" lengthAdjust="spacingAndGlyphs" fill="#222" stroke="#222" stroke-width="0.25">0</text>
<text x="578.6" y="650.60" font-family="Liberation Sans" font-size="7.9" textLength="3.9" lengthAdjust="spacingAndGlyphs" fill="#222" stroke="#222" stroke-width="0.25">0</text>
<line x1="42.199999999999996" x2="45.8" y1="622.20" y2="622.20" stroke="#3c3c3c" stroke-width="1"/>
<line x1="571.5" x2="575.1" y1="622.20" y2="622.20" stroke="#3c3c3c" stroke-width="1"/>
<text x="37.6" y="624.90" text-anchor="end" font-family="Liberation Sans" font-size="7.9" textLength="3.9" lengthAdjust="spacingAndGlyphs" fill="#222" stroke="#222" stroke-width="0.25">2</text>
<text x="578.6" y="624.90" font-family="Liberation Sans" font-size="7.9" textLength="3.9" lengthAdjust="spacingAndGlyphs" fill="#222" stroke="#222" stroke-width="0.25">2</text>
<line x1="42.199999999999996" x2="45.8" y1="596.50" y2="596.50" stroke="#3c3c3c" stroke-width="1"/>
<line x1="571.5" x2="575.1" y1="596.50" y2="596.50" stroke="#3c3c3c" stroke-width="1"/>
<text x="37.6" y="599.20" text-anchor="end" font-family="Liberation Sans" font-size="7.9" textLength="3.9" lengthAdjust="spacingAndGlyphs" fill="#222" stroke="#222" stroke-width="0.25">4</text>
<text x="578.6" y="599.20" font-family="Liberation Sans" font-size="7.9" textLength="3.9" lengthAdjust="spacingAndGlyphs" fill="#222" stroke="#222" stroke-width="0.25">4</text>
<line x1="42.199999999999996" x2="45.8" y1="570.80" y2="570.80" stroke="#3c3c3c" stroke-width="1"/>
<line x1="571.5" x2="575.1" y1="570.80" y2="570.80" stroke="#3c3c3c" stroke-width="1"/>
<text x="37.6" y="573.50" text-anchor="end" font-family="Liberation Sans" font-size="7.9" textLength="3.9" lengthAdjust="spacingAndGlyphs" fill="#222" stroke="#222" stroke-width="0.25">6</text>
<text x="578.6" y="573.50" font-family="Liberation Sans" font-size="7.9" textLength="3.9" lengthAdjust="spacingAndGlyphs" fill="#222" stroke="#222" stroke-width="0.25">6</text>
<line x1="42.199999999999996" x2="45.8" y1="545.10" y2="545.10" stroke="#3c3c3c" stroke-width="1"/>
<line x1="571.5" x2="575.1" y1="545.10" y2="545.10" stroke="#3c3c3c" stroke-width="1"/>
<text x="37.6" y="547.80" text-anchor="end" font-family="Liberation Sans" font-size="7.9" textLength="3.9" lengthAdjust="spacingAndGlyphs" fill="#222" stroke="#222" stroke-width="0.25">8</text>
<text x="578.6" y="547.80" font-family="Liberation Sans" font-size="7.9" textLength="3.9" lengthAdjust="spacingAndGlyphs" fill="#222" stroke="#222" stroke-width="0.25">8</text>
<line x1="42.199999999999996" x2="45.8" y1="519.40" y2="519.40" stroke="#3c3c3c" stroke-width="1"/>
<line x1="571.5" x2="575.1" y1="519.40" y2="519.40" stroke="#3c3c3c" stroke-width="1"/>
<text x="37.6" y="522.10" text-anchor="end" font-family="Liberation Sans" font-size="7.9" textLength="7.8" lengthAdjust="spacingAndGlyphs" fill="#222" stroke="#222" stroke-width="0.25">10</text>
<text x="578.6" y="522.10" font-family="Liberation Sans" font-size="7.9" textLength="7.8" lengthAdjust="spacingAndGlyphs" fill="#222" stroke="#222" stroke-width="0.25">10</text>
<line x1="42.199999999999996" x2="45.8" y1="493.70" y2="493.70" stroke="#3c3c3c" stroke-width="1"/>
<line x1="571.5" x2="575.1" y1="493.70" y2="493.70" stroke="#3c3c3c" stroke-width="1"/>
<text x="37.6" y="496.40" text-anchor="end" font-family="Liberation Sans" font-size="7.9" textLength="7.8" lengthAdjust="spacingAndGlyphs" fill="#222" stroke="#222" stroke-width="0.25">12</text>
<text x="578.6" y="496.40" font-family="Liberation Sans" font-size="7.9" textLength="7.8" lengthAdjust="spacingAndGlyphs" fill="#222" stroke="#222" stroke-width="0.25">12</text>
<line x1="71.80" x2="71.80" y1="647.9" y2="651.40" stroke="#3c3c3c" stroke-width="1"/>
<text x="70.80" y="661.50" text-anchor="end" transform="rotate(-28 70.80 661.50)" font-family="Liberation Sans" font-size="8.2" textLength="48.78" lengthAdjust="spacingAndGlyphs" fill="#222" stroke="#222" stroke-width="0.15">North America</text>
<line x1="123.25" x2="123.25" y1="647.9" y2="651.40" stroke="#3c3c3c" stroke-width="1"/>
<text x="122.25" y="661.50" text-anchor="end" transform="rotate(-28 122.25 661.50)" font-family="Liberation Sans" font-size="8.2" textLength="46.65" lengthAdjust="spacingAndGlyphs" fill="#222" stroke="#222" stroke-width="0.15">Latin America</text>
<line x1="174.70" x2="174.70" y1="647.9" y2="651.40" stroke="#3c3c3c" stroke-width="1"/>
<text x="173.70" y="661.50" text-anchor="end" transform="rotate(-28 173.70 661.50)" font-family="Liberation Sans" font-size="8.2" textLength="24.83" lengthAdjust="spacingAndGlyphs" fill="#222" stroke="#222" stroke-width="0.15">Europe</text>
<line x1="226.15" x2="226.15" y1="647.9" y2="651.40" stroke="#3c3c3c" stroke-width="1"/>
<text x="225.15" y="661.50" text-anchor="end" transform="rotate(-28 225.15 661.50)" font-family="Liberation Sans" font-size="8.2" textLength="19.68" lengthAdjust="spacingAndGlyphs" fill="#222" stroke="#222" stroke-width="0.15">Africa</text>
<line x1="277.60" x2="277.60" y1="647.9" y2="651.40" stroke="#3c3c3c" stroke-width="1"/>
<text x="276.60" y="661.50" text-anchor="end" transform="rotate(-28 276.60 661.50)" font-family="Liberation Sans" font-size="8.2" textLength="52.65" lengthAdjust="spacingAndGlyphs" fill="#222" stroke="#222" stroke-width="0.15">Southwest Asia</text>
<line x1="329.05" x2="329.05" y1="647.9" y2="651.40" stroke="#3c3c3c" stroke-width="1"/>
<text x="328.05" y="661.50" text-anchor="end" transform="rotate(-28 328.05 661.50)" font-family="Liberation Sans" font-size="8.2" textLength="64.20" lengthAdjust="spacingAndGlyphs" fill="#222" stroke="#222" stroke-width="0.15">Central-South Asia</text>
<line x1="380.50" x2="380.50" y1="647.9" y2="651.40" stroke="#3c3c3c" stroke-width="1"/>
<text x="379.50" y="661.50" text-anchor="end" transform="rotate(-28 379.50 661.50)" font-family="Liberation Sans" font-size="8.2" textLength="16.70" lengthAdjust="spacingAndGlyphs" fill="#222" stroke="#222" stroke-width="0.15">India</text>
<line x1="431.95" x2="431.95" y1="647.9" y2="651.40" stroke="#3c3c3c" stroke-width="1"/>
<text x="430.95" y="661.50" text-anchor="end" transform="rotate(-28 430.95 661.50)" font-family="Liberation Sans" font-size="8.2" textLength="20.12" lengthAdjust="spacingAndGlyphs" fill="#222" stroke="#222" stroke-width="0.15">China</text>
<line x1="483.40" x2="483.40" y1="647.9" y2="651.40" stroke="#3c3c3c" stroke-width="1"/>
<text x="482.40" y="661.50" text-anchor="end" transform="rotate(-28 482.40 661.50)" font-family="Liberation Sans" font-size="8.2" textLength="32.10" lengthAdjust="spacingAndGlyphs" fill="#222" stroke="#222" stroke-width="0.15">East Asia</text>
<line x1="534.85" x2="534.85" y1="647.9" y2="651.40" stroke="#3c3c3c" stroke-width="1"/>
<text x="533.85" y="661.50" text-anchor="end" transform="rotate(-28 533.85 661.50)" font-family="Liberation Sans" font-size="8.2" textLength="51.37" lengthAdjust="spacingAndGlyphs" fill="#222" stroke="#222" stroke-width="0.15">Southeast Asia</text>
<text x="0" y="0" text-anchor="middle" transform="translate(24.3 570.80) rotate(-90)" font-family="Liberation Serif" font-size="12" fill="#444">percent change : population</text>
<text x="0" y="0" text-anchor="middle" transform="translate(592.2 570.80) rotate(90)" font-family="Liberation Serif" font-size="12" fill="#444">percent change : urban area</text>
<rect x="59.3" y="499.60" width="54.6" height="40" rx="1.2" fill="#fff" stroke="#333" stroke-width="1.2"/>
<circle cx="68.7" cy="505.60" r="2.6" fill="#0b0ba6"/>
<text x="80.5" y="508.15" font-family="Liberation Sans" font-size="7.6" textLength="29.2" lengthAdjust="spacingAndGlyphs" fill="#222" stroke="#222" stroke-width="0.2">1970-1980</text>
<circle cx="68.7" cy="514.93" r="2.6" fill="#8c1212"/>
<text x="80.5" y="517.48" font-family="Liberation Sans" font-size="7.6" textLength="29.2" lengthAdjust="spacingAndGlyphs" fill="#222" stroke="#222" stroke-width="0.2">1980-1990</text>
<circle cx="68.7" cy="524.26" r="2.6" fill="#3a9e1e"/>
<text x="80.5" y="526.81" font-family="Liberation Sans" font-size="7.6" textLength="29.2" lengthAdjust="spacingAndGlyphs" fill="#222" stroke="#222" stroke-width="0.2">1990-2000</text>
<circle cx="68.7" cy="533.59" r="2.6" fill="#a6a616"/>
<text x="80.5" y="536.14" font-family="Liberation Sans" font-size="7.6" textLength="29.2" lengthAdjust="spacingAndGlyphs" fill="#222" stroke="#222" stroke-width="0.2">2000-2010</text>
</g></svg></body></html>
